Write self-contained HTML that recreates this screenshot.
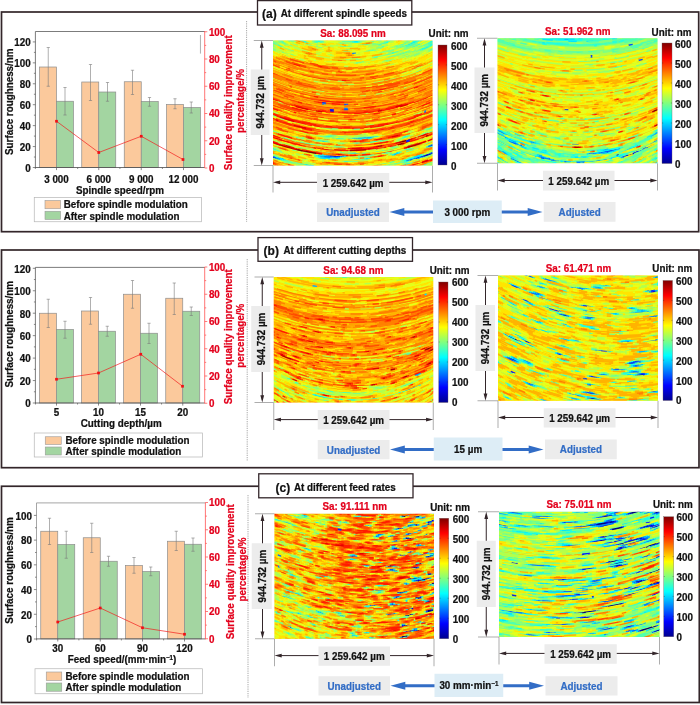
<!DOCTYPE html>
<html lang="en"><head><meta charset="utf-8"><title>Surface roughness at different machining parameters</title>
<style>
html,body{margin:0;padding:0;background:#fff;}
body{width:700px;height:705px;overflow:hidden;}
svg{display:block;font-family:'Liberation Sans', sans-serif;font-weight:bold;}
text{stroke-width:.22px;}
</style></head><body>
<svg width="700" height="705" viewBox="0 0 700 705">
<rect x="0" y="0" width="700" height="705" fill="#fff"/>
<!-- panel a -->
<rect x="1.50" y="12.00" width="697.20" height="219.70" fill="none" stroke="#33262a" stroke-width="1.7"/>
<line x1="246.60" y1="21.00" x2="246.60" y2="222.50" stroke="#666" stroke-width="0.7" stroke-dasharray="0.8 1.0"/>
<rect x="257.50" y="0.60" width="154.30" height="24.40" fill="#fff" stroke="#33262a" stroke-width="1.3"/>
<text x="262.00" y="17.96" font-size="12" fill="#111" stroke="#111" text-anchor="start" transform="matrix(1 0 0 1.12 0 -1.644)">(a)</text>
<text x="280.70" y="17.00" font-size="9.85" fill="#111" stroke="#111" text-anchor="start" transform="matrix(1 0 0 1.12 0 -1.620)">At different spindle speeds</text>
<rect x="317.00" y="202.50" width="72.00" height="19.50" fill="#ececec" stroke="none" stroke-width="1"/>
<text x="353.00" y="215.75" font-size="9.85" fill="#326dc6" stroke="#326dc6" text-anchor="middle" transform="matrix(1 0 0 1.12 0 -25.470)">Unadjusted</text>
<rect x="543.75" y="202.00" width="71.75" height="19.75" fill="#ececec" stroke="none" stroke-width="1"/>
<text x="579.62" y="215.37" font-size="9.85" fill="#326dc6" stroke="#326dc6" text-anchor="middle" transform="matrix(1 0 0 1.12 0 -25.425)">Adjusted</text>
<rect x="433.00" y="200.50" width="68.75" height="22.50" fill="#ddedf6" stroke="none" stroke-width="1"/>
<text x="467.38" y="215.25" font-size="9.85" fill="#111" stroke="#111" text-anchor="middle" transform="matrix(1 0 0 1.12 0 -25.410)">3 000 rpm</text>
<line x1="399.50" y1="212.00" x2="433.00" y2="212.00" stroke="#326dc6" stroke-width="3.0"/>
<path d="M389.50 212.00L404.30 207.90L404.30 216.10Z" fill="#326dc6"/>
<line x1="501.75" y1="212.00" x2="532.50" y2="212.00" stroke="#326dc6" stroke-width="3.0"/>
<path d="M542.50 212.00L527.70 207.90L527.70 216.10Z" fill="#326dc6"/>
<!-- chart a -->
<rect x="39.50" y="67.00" width="17.00" height="100.50" fill="#fbc99c" stroke="#8d8d8d" stroke-width="0.7"/>
<rect x="56.50" y="101.25" width="17.00" height="66.25" fill="#a3d5a1" stroke="#8d8d8d" stroke-width="0.7"/>
<rect x="81.75" y="82.00" width="17.00" height="85.50" fill="#fbc99c" stroke="#8d8d8d" stroke-width="0.7"/>
<rect x="98.75" y="92.00" width="17.00" height="75.50" fill="#a3d5a1" stroke="#8d8d8d" stroke-width="0.7"/>
<rect x="124.25" y="81.75" width="17.00" height="85.75" fill="#fbc99c" stroke="#8d8d8d" stroke-width="0.7"/>
<rect x="141.25" y="101.50" width="17.00" height="66.00" fill="#a3d5a1" stroke="#8d8d8d" stroke-width="0.7"/>
<rect x="166.50" y="104.50" width="17.00" height="63.00" fill="#fbc99c" stroke="#8d8d8d" stroke-width="0.7"/>
<rect x="183.50" y="107.50" width="17.00" height="60.00" fill="#a3d5a1" stroke="#8d8d8d" stroke-width="0.7"/>
<path d="M48.25 47.50V86.25M46.65 47.50h3.2M46.65 86.25h3.2" stroke="#7a7a7a" stroke-width="0.6" fill="none"/>
<path d="M90.50 64.50V100.50M88.90 64.50h3.2M88.90 100.50h3.2" stroke="#7a7a7a" stroke-width="0.6" fill="none"/>
<path d="M132.50 70.25V94.50M130.90 70.25h3.2M130.90 94.50h3.2" stroke="#7a7a7a" stroke-width="0.6" fill="none"/>
<path d="M175.00 98.75V108.75M173.40 98.75h3.2M173.40 108.75h3.2" stroke="#7a7a7a" stroke-width="0.6" fill="none"/>
<path d="M65.00 87.50V115.00M63.40 87.50h3.2M63.40 115.00h3.2" stroke="#7a7a7a" stroke-width="0.6" fill="none"/>
<path d="M107.50 82.50V101.25M105.90 82.50h3.2M105.90 101.25h3.2" stroke="#7a7a7a" stroke-width="0.6" fill="none"/>
<path d="M149.50 97.50V106.25M147.90 97.50h3.2M147.90 106.25h3.2" stroke="#7a7a7a" stroke-width="0.6" fill="none"/>
<path d="M191.25 102.00V113.00M189.65 102.00h3.2M189.65 113.00h3.2" stroke="#7a7a7a" stroke-width="0.6" fill="none"/>
<line x1="200.45" y1="35.00" x2="200.45" y2="53.60" stroke="#7a7a7a" stroke-width="0.6"/>
<path d="M35.40 167.50V31.50H204.70" stroke="#5a5a5a" stroke-width="0.8" fill="none"/>
<line x1="35.00" y1="167.50" x2="204.70" y2="167.50" stroke="#4a4a4a" stroke-width="0.8"/>
<line x1="204.70" y1="31.10" x2="204.70" y2="167.90" stroke="#ff3b3b" stroke-width="0.7"/>
<text x="30.70" y="171.40" font-size="9.85" fill="#111" stroke="#111" text-anchor="end" transform="matrix(1 0 0 1.12 0 -20.148)">0</text>
<text x="30.70" y="150.47" font-size="9.85" fill="#111" stroke="#111" text-anchor="end" transform="matrix(1 0 0 1.12 0 -17.636)">20</text>
<text x="30.70" y="129.54" font-size="9.85" fill="#111" stroke="#111" text-anchor="end" transform="matrix(1 0 0 1.12 0 -15.125)">40</text>
<text x="30.70" y="108.61" font-size="9.85" fill="#111" stroke="#111" text-anchor="end" transform="matrix(1 0 0 1.12 0 -12.613)">60</text>
<text x="30.70" y="87.68" font-size="9.85" fill="#111" stroke="#111" text-anchor="end" transform="matrix(1 0 0 1.12 0 -10.102)">80</text>
<text x="30.70" y="66.75" font-size="9.85" fill="#111" stroke="#111" text-anchor="end" transform="matrix(1 0 0 1.12 0 -7.590)">100</text>
<text x="30.70" y="45.82" font-size="9.85" fill="#111" stroke="#111" text-anchor="end" transform="matrix(1 0 0 1.12 0 -5.078)">120</text>
<path d="M35.40 167.50h-2.6M35.40 157.03h-1.5M35.40 146.57h-2.6M35.40 136.10h-1.5M35.40 125.64h-2.6M35.40 115.17h-1.5M35.40 104.71h-2.6M35.40 94.25h-1.5M35.40 83.78h-2.6M35.40 73.31h-1.5M35.40 62.85h-2.6M35.40 52.38h-1.5M35.40 41.92h-2.6" stroke="#5a5a5a" stroke-width="0.7" fill="none"/>
<text x="208.90" y="171.50" font-size="9.85" fill="#e3001c" stroke="#e3001c" text-anchor="start" transform="matrix(1 0 0 1.12 0 -20.160)">0</text>
<text x="208.90" y="144.25" font-size="9.85" fill="#e3001c" stroke="#e3001c" text-anchor="start" transform="matrix(1 0 0 1.12 0 -16.890)">20</text>
<text x="208.90" y="117.00" font-size="9.85" fill="#e3001c" stroke="#e3001c" text-anchor="start" transform="matrix(1 0 0 1.12 0 -13.620)">40</text>
<text x="208.90" y="89.75" font-size="9.85" fill="#e3001c" stroke="#e3001c" text-anchor="start" transform="matrix(1 0 0 1.12 0 -10.350)">60</text>
<text x="208.90" y="62.50" font-size="9.85" fill="#e3001c" stroke="#e3001c" text-anchor="start" transform="matrix(1 0 0 1.12 0 -7.080)">80</text>
<text x="208.90" y="35.25" font-size="9.85" fill="#e3001c" stroke="#e3001c" text-anchor="start" transform="matrix(1 0 0 1.12 0 -3.810)">100</text>
<path d="M204.70 168.00h2.6M204.70 154.38h1.5M204.70 140.75h2.6M204.70 127.12h1.5M204.70 113.50h2.6M204.70 99.88h1.5M204.70 86.25h2.6M204.70 72.62h1.5M204.70 59.00h2.6M204.70 45.38h1.5M204.70 31.75h2.6" stroke="#ff4545" stroke-width="0.7" fill="none"/>
<text x="56.50" y="182.25" font-size="9.85" fill="#111" stroke="#111" text-anchor="middle" transform="matrix(1 0 0 1.12 0 -21.450)">3 000</text>
<text x="98.75" y="182.25" font-size="9.85" fill="#111" stroke="#111" text-anchor="middle" transform="matrix(1 0 0 1.12 0 -21.450)">6 000</text>
<text x="141.25" y="182.25" font-size="9.85" fill="#111" stroke="#111" text-anchor="middle" transform="matrix(1 0 0 1.12 0 -21.450)">9 000</text>
<text x="183.50" y="182.25" font-size="9.85" fill="#111" stroke="#111" text-anchor="middle" transform="matrix(1 0 0 1.12 0 -21.450)">12 000</text>
<path d="M56.50 167.50v2.6M77.67 167.50v1.5M98.75 167.50v2.6M119.92 167.50v1.5M141.25 167.50v2.6M162.42 167.50v1.5M183.50 167.50v2.6M35.33 167.50v1.5" stroke="#5a5a5a" stroke-width="0.7" fill="none"/>
<text x="120.00" y="193.50" font-size="9.85" fill="#111" stroke="#111" text-anchor="middle" transform="matrix(1 0 0 1.12 0 -22.800)">Spindle speed/rpm</text>
<text x="12.20" y="101.70" font-size="9.85" fill="#111" stroke="#111" text-anchor="middle" transform="rotate(-90 12.20 101.70) matrix(1 0 0 1.12 0 -11.784)">Surface roughness/nm</text>
<text x="231.50" y="102.70" font-size="9.85" fill="#e3001c" stroke="#e3001c" text-anchor="middle" transform="rotate(-90 231.50 102.70) matrix(1 0 0 1.12 0 -11.904)">Surface quality improvement</text>
<text x="243.40" y="101.00" font-size="9.85" fill="#e3001c" stroke="#e3001c" text-anchor="middle" transform="rotate(-90 243.40 101.00) matrix(1 0 0 1.12 0 -11.700)">percentage/%</text>
<polyline points="56.50,121.25 98.75,152.50 141.25,136.25 183.00,159.50" fill="none" stroke="#f21d1d" stroke-width="0.7"/>
<rect x="55.15" y="119.90" width="2.70" height="2.70" fill="#f00f14" stroke="none" stroke-width="1"/>
<rect x="97.40" y="151.15" width="2.70" height="2.70" fill="#f00f14" stroke="none" stroke-width="1"/>
<rect x="139.90" y="134.90" width="2.70" height="2.70" fill="#f00f14" stroke="none" stroke-width="1"/>
<rect x="181.65" y="158.15" width="2.70" height="2.70" fill="#f00f14" stroke="none" stroke-width="1"/>
<rect x="34.25" y="197.50" width="167.25" height="24.25" fill="#fff" stroke="#b5b5b5" stroke-width="0.7"/>
<rect x="45.00" y="200.50" width="15.50" height="8.25" fill="#fbc99c" stroke="#9a9a9a" stroke-width="0.6"/>
<rect x="45.00" y="211.25" width="15.50" height="8.25" fill="#a3d5a1" stroke="#9a9a9a" stroke-width="0.6"/>
<text x="63.75" y="208.00" font-size="9.85" fill="#111" stroke="#111" text-anchor="start" transform="matrix(1 0 0 1.12 0 -24.540)">Before spindle modulation</text>
<text x="63.75" y="219.75" font-size="9.85" fill="#111" stroke="#111" text-anchor="start" transform="matrix(1 0 0 1.12 0 -25.950)">After spindle modulation</text>
<!-- heatmap a1 -->
<defs><linearGradient id="jet" x1="0" y1="1" x2="0" y2="0"><stop offset="0.0" stop-color="#00008f"/><stop offset="0.125" stop-color="#0000ff"/><stop offset="0.375" stop-color="#00ffff"/><stop offset="0.625" stop-color="#ffff00"/><stop offset="0.875" stop-color="#ff0000"/><stop offset="1.0" stop-color="#800000"/></linearGradient><filter id="hb" x="-5%" y="-5%" width="110%" height="110%"><feGaussianBlur stdDeviation="3.2"/></filter></defs>
<line x1="253.75" y1="40.50" x2="273.00" y2="40.50" stroke="#8a8a8a" stroke-width="0.7"/>
<line x1="253.75" y1="165.50" x2="273.00" y2="165.50" stroke="#8a8a8a" stroke-width="0.7"/>
<line x1="273.00" y1="165.50" x2="273.00" y2="192.50" stroke="#8a8a8a" stroke-width="0.7"/>
<line x1="432.50" y1="165.50" x2="432.50" y2="192.50" stroke="#8a8a8a" stroke-width="0.7"/>
<line x1="261.75" y1="43.50" x2="261.75" y2="162.50" stroke="#33262a" stroke-width="1.0"/>
<path d="M261.75 40.50l-1.9 7.2h3.8ZM261.75 165.50l-1.9 -7.2h3.8Z" fill="#33262a"/>
<rect x="250.75" y="69.50" width="18.75" height="65.50" fill="#ececec" stroke="none" stroke-width="1"/>
<text x="263.62" y="102.25" font-size="9.85" fill="#111" stroke="#111" text-anchor="middle" transform="rotate(-90 263.62 102.25) matrix(1 0 0 1.12 0 -11.850)">944.732 µm</text>
<line x1="276.00" y1="182.30" x2="429.50" y2="182.30" stroke="#33262a" stroke-width="1.0"/>
<path d="M273.00 182.30l7.2 -1.9v3.8ZM432.50 182.30l-7.2 -1.9v3.8Z" fill="#33262a"/>
<rect x="317.00" y="173.00" width="72.25" height="19.50" fill="#ececec" stroke="none" stroke-width="1"/>
<text x="353.12" y="186.25" font-size="9.85" fill="#111" stroke="#111" text-anchor="middle" transform="matrix(1 0 0 1.12 0 -21.930)">1 259.642 µm</text>
<text x="353.00" y="36.75" font-size="9.85" fill="#e3001c" stroke="#e3001c" text-anchor="middle" transform="matrix(1 0 0 1.12 0 -3.990)">Sa: 88.095 nm</text>
<text x="448.50" y="36.50" font-size="9.85" fill="#111" stroke="#111" text-anchor="middle" transform="matrix(1 0 0 1.12 0 -3.960)">Unit: nm</text>
<rect x="438.00" y="45.00" width="9.00" height="120.00" fill="url(#jet)" stroke="#6b5a5a" stroke-width="0.35"/>
<path d="M438.00 144.58h1.2M447.00 144.58h-1.2M438.00 124.67h1.2M447.00 124.67h-1.2M438.00 104.75h1.2M447.00 104.75h-1.2M438.00 84.83h1.2M447.00 84.83h-1.2M438.00 64.92h1.2M447.00 64.92h-1.2" stroke="#222" stroke-width="0.5" opacity="0.6"/>
<text x="451.00" y="169.50" font-size="9.85" fill="#111" stroke="#111" text-anchor="start" transform="matrix(1 0 0 1.12 0 -19.920)">0</text>
<text x="451.00" y="149.50" font-size="9.85" fill="#111" stroke="#111" text-anchor="start" transform="matrix(1 0 0 1.12 0 -17.520)">100</text>
<text x="451.00" y="129.50" font-size="9.85" fill="#111" stroke="#111" text-anchor="start" transform="matrix(1 0 0 1.12 0 -15.120)">200</text>
<text x="451.00" y="109.50" font-size="9.85" fill="#111" stroke="#111" text-anchor="start" transform="matrix(1 0 0 1.12 0 -12.720)">300</text>
<text x="451.00" y="89.50" font-size="9.85" fill="#111" stroke="#111" text-anchor="start" transform="matrix(1 0 0 1.12 0 -10.320)">400</text>
<text x="451.00" y="69.50" font-size="9.85" fill="#111" stroke="#111" text-anchor="start" transform="matrix(1 0 0 1.12 0 -7.920)">500</text>
<text x="451.00" y="49.50" font-size="9.85" fill="#111" stroke="#111" text-anchor="start" transform="matrix(1 0 0 1.12 0 -5.520)">600</text>
<clipPath id="cpa1"><rect x="0" y="0" width="159.50" height="125.00"/></clipPath>
<g transform="translate(273.00 40.50)" clip-path="url(#cpa1)">
<rect x="0" y="0" width="159.50" height="125.00" fill="#ffb300"/>
<g transform="scale(0.1)" fill="none" stroke-width="14" filter="url(#hb)">
<path stroke="#1affe5" d="M-10 1151q270 92 540 118M-10 1254l40 13"/>
<path stroke="#4dffb2" d="M970 1269q320 -31 640 -154M1430 1269q90 -27 180 -61M-10 1264l20 7M1590 1267l20 -7"/>
<path stroke="#80ff80" d="M210 -19q540 178 1080 0M-10 997q810 284 1620 -38M-10 1131q810 276 1620 -37M-10 1161q230 78 460 109M1050 1270q280 -38 560 -145M1170 1271q220 -41 440 -125M-10 1244q40 13 80 25M1490 1271q60 -20 120 -42M1530 1268q40 -14 80 -29"/>
<path stroke="#b3ff4c" d="M390 -20q360 80 720 0M350 -19q400 99 800 -1M150 -19q600 218 1200 -1M90 -21q660 263 1320 -1M50 -17q700 294 1400 0M-10 9q790 355 1580 -28M-10 20q800 358 1600 -38M-10 51q810 360 1620 -47M-10 749q810 301 1620 -40M-10 894q810 291 1620 -39M-10 986q810 285 1620 -37M-10 1028q810 282 1620 -38M-10 1038q810 282 1620 -37M-10 1059q810 280 1620 -38M-10 1172q200 67 400 99M-10 1182q170 57 340 89M1450 1273q80 -25 160 -55"/>
<path stroke="#e5ff1a" d="M490 -21q260 42 520 0M430 -22q310 62 620 4M270 -21q480 142 960 0M230 -23q520 166 1040 0M130 -16q620 232 1240 -1M70 -19q680 278 1360 0M-10 -22q760 344 1520 -1M-10 -12q770 348 1540 -9M-10 41q810 361 1620 -48M-10 62q810 359 1620 -48M-10 83q810 356 1620 -48M-10 93q810 356 1620 -47M-10 250q810 341 1620 -45M-10 281q810 339 1620 -44M-10 375q810 330 1620 -43M-10 407q810 327 1620 -44M-10 594q810 312 1620 -42M-10 687q810 305 1620 -41M-10 708q810 303 1620 -41M-10 842q810 294 1620 -39M-10 904q810 290 1620 -39M-10 1141q810 275 1620 -37"/>
<path stroke="#ffe500" d="M570 -20q180 20 360 0M310 -20q440 120 880 0M170 -22q580 205 1160 -1M10 -24q740 328 1480 0M-10 -1q780 351 1560 -19M-10 30q810 362 1620 -48M-10 72q810 358 1620 -47M-10 135q810 352 1620 -46M-10 167q810 348 1620 -47M-10 208q810 345 1620 -45M-10 313q810 335 1620 -45M-10 479q810 322 1620 -42M-10 521q810 318 1620 -42M-10 635q810 309 1620 -41M-10 656q810 307 1620 -41M-10 759q810 300 1620 -40M-10 801q810 297 1620 -40M-10 832q810 295 1620 -40M-10 925q810 288 1620 -39M-10 935q810 288 1620 -38M-10 1069q810 280 1620 -37M-10 1079q810 279 1620 -37M-10 1089q810 279 1620 -36M-10 1120q810 277 1620 -36M1110 1271q250 -40 500 -135M-10 1203q120 40 240 67M1550 1271l60 -22"/>
<path stroke="#ffb300" d="M-10 125q810 352 1620 -47M-10 156q810 350 1620 -46M-10 177q810 348 1620 -46M-10 198q810 346 1620 -46M-10 229q810 343 1620 -45M-10 261q810 340 1620 -45M-10 271q810 339 1620 -45M-10 292q810 337 1620 -45M-10 427q810 326 1620 -43M-10 448q810 324 1620 -43M-10 500q810 320 1620 -42M-10 697q810 305 1620 -40M-10 821q810 296 1620 -39M-10 883q810 292 1620 -38M-10 955q810 287 1620 -38M-10 976q810 286 1620 -38M-10 1048q810 281 1620 -37M-10 1100q810 278 1620 -37M1230 1269q190 -40 380 -113M1270 1270q170 -39 340 -103M1390 1270q110 -31 220 -72"/>
<path stroke="#ff8000" d="M-10 104q810 354 1620 -47M-10 114q810 354 1620 -47M-10 146q810 350 1620 -47M-10 187q810 347 1620 -46M-10 219q810 344 1620 -46M-10 302q810 337 1620 -44M-10 334q810 333 1620 -45M-10 344q810 333 1620 -44M-10 354q810 332 1620 -44M-10 365q810 331 1620 -44M-10 386q810 329 1620 -44M-10 396q810 328 1620 -43M-10 417q810 326 1620 -43M-10 459q810 323 1620 -43M-10 490q810 320 1620 -43M-10 511q810 318 1620 -43M-10 542q810 316 1620 -42M-10 552q810 316 1620 -42M-10 562q810 315 1620 -41M-10 614q810 311 1620 -41M-10 625q810 310 1620 -41M-10 666q810 307 1620 -41M-10 718q810 303 1620 -40M-10 770q810 299 1620 -40M-10 811q810 296 1620 -39M-10 852q810 294 1620 -39M-10 863q810 293 1620 -39M-10 873q810 292 1620 -39M-10 1007q810 284 1620 -38M-10 1110q810 277 1620 -37M-10 1192q140 47 280 77M-10 1213q100 33 200 58M-10 1223q80 27 160 48"/>
<path stroke="#ff4c00" d="M-10 240q810 342 1620 -46M-10 323q810 335 1620 -44M-10 438q810 324 1620 -43M-10 469q810 322 1620 -43M-10 531q810 317 1620 -42M-10 573q810 314 1620 -42M-10 604q810 311 1620 -41M-10 645q810 309 1620 -41M-10 676q810 307 1620 -40M-10 728q810 303 1620 -40M-10 790q810 298 1620 -39M-10 914q810 290 1620 -38M-10 945q810 288 1620 -38M-10 1017q810 283 1620 -37M1350 1271q130 -35 260 -84M-10 1233q60 20 120 37"/>
<path stroke="#ff1a00" d="M-10 583q810 313 1620 -41M-10 739q810 301 1620 -40M-10 780q810 299 1620 -40M1310 1271q150 -37 300 -94"/>
<path stroke="#e50000" d="M-10 966q810 286 1620 -38"/>
<path stroke="#000080" d="M1588 1051l24 -10M1528 1155q42 -14 84 -31"/>
<path stroke="#0000b2" d="M608 1155l44 3M1568 1058l24 -9M1468 1165l64 -22"/>
<path stroke="#0000e6" d="M568 702l44 3M588 1154l24 2M648 1158l24 1M1448 1171l24 -8M1528 1145l24 -9M1508 1162l24 -8"/>
<path stroke="#001aff" d="M488 622l44 6M568 691l44 4M1328 1002l44 -13M1328 1012l44 -12M568 1152l24 2M668 1158l24 1M608 1165l24 2M1548 1066l24 -10M1348 1200q52 -14 104 -30M1548 1138l24 -9M-12 1161l24 8"/>
<path stroke="#004dff" d="M708 640l44 0M708 690l44 0M1508 719l24 -10M848 978q42 -2 84 -6M568 1162l44 4M628 1167l24 1M1328 1205l24 -6M1568 1131l24 -10M8 1167l24 8M1488 1169l24 -9"/>
<path stroke="#0080ff" d="M788 130l44 -2M488 632l44 6M708 680l44 0M1508 708l24 -9M808 979l44 -2M928 972l64 -6M548 1151l24 2M688 1159l24 1M508 1157l64 6M648 1168l24 1M488 1164q42 5 84 9M1548 1055l64 -24M1588 1123l24 -9M28 1174l24 8M1468 1175l24 -8"/>
<path stroke="#00b2ff" d="M1128 -14l24 -6M788 980l24 -1M988 966l24 -3M528 1149l24 2M448 1149l64 8M468 1162l24 3M568 1172l24 2M1208 1142l44 -10M-12 1078l24 9M48 1170l24 8M88 1182l24 7M48 1180l24 8M1448 1182l24 -8"/>
<path stroke="#00e5ff" d="M808 9l44 -2M1108 -10l24 -5M1348 43q42 -15 84 -32M1508 84l44 -21M1008 964l44 -6M928 982l44 -4M488 1004l24 3M788 1130l64 -2M488 1144l44 5M708 1160l24 0M428 1146l24 4M448 1159l24 3M588 1174l64 4M1208 1132l44 -10M468 1172q52 7 104 11M928 1183l24 -2M1188 1146l24 -5M1248 1134l24 -6M8 1085l24 8M1528 1073l24 -9M1588 1061l24 -9M1408 1163l64 -20M1348 1190q62 -17 124 -37M28 1164l24 8M68 1176l24 8M108 1188l24 7M328 1240q42 8 84 15M68 1186l24 8"/>
<path stroke="#1affe5" d="M788 10l24 -1M848 7l24 -2M808 19l44 -2M448 2l24 4M1068 -1l44 -10M428 8l44 8M688 59l44 1M1128 16l24 -6M288 5l44 12M1048 43q52 -10 104 -23M1388 18l44 -18M1288 64l64 -22M1428 13l44 -19M1188 133l24 -6M1408 62l64 -26M1568 14l44 -22M1548 34l64 -32M1468 90l44 -19M1568 46l44 -22M1488 92l24 -11M1548 65l64 -31M568 952l24 2M528 958l44 4M648 978l24 1M768 980l24 0M1048 959l24 -4M868 987l64 -5M968 979l24 -3M448 998l44 6M508 1006l24 3M808 1029l44 -2M868 1027l44 -3M1008 1014l24 -3M1308 967l44 -13M128 979l24 7M348 1032l44 8M588 1064l64 4M768 1130l24 0M848 1128l44 -3M468 1142l24 3M728 1160l24 0M668 1168l24 1M428 1156l24 4M1188 1136l24 -5M1248 1123l24 -5M448 1169l24 4M568 1182l24 2M908 1184l24 -2M948 1181l24 -2M1528 1062l24 -8M28 1092l24 8M1568 1069l24 -10M1468 1144l24 -8M1308 1200l44 -11M1468 1155l24 -8M1308 1211l24 -7M88 1192l24 8M1328 1216l24 -7M1308 1241l64 -17M1508 1244l24 -8"/>
<path stroke="#4dffb2" d="M428 -22l24 4M688 9q52 2 104 0M868 6l24 -2M788 20l24 -1M848 17l24 -2M408 -6l44 9M468 5l44 8M968 15l44 -6M1028 6l44 -8M408 4l24 5M468 15l24 5M408 14l44 9M888 44q52 -4 104 -12M668 58l24 1M728 60l44 0M1108 21l24 -6M1148 11l24 -6M268 -1l24 7M328 16l24 6M1028 46l24 -4M1268 -12l24 -8M168 -13l44 15M128 -17l64 23M1088 65l24 -5M948 108l64 -9M48 -18l24 10M1228 61q52 -15 104 -33M1428 -8l24 -10M8 -25l24 11M68 1l44 17M1368 26l24 -10M1428 2l64 -27M-12 -23l24 11M88 19l64 25M1268 70l24 -8M1468 -4l44 -20M1328 61q82 -29 164 -65M-12 -2l24 11M1328 71q52 -18 104 -39M1188 123l64 -18M-12 19l44 19M48 45l44 18M1008 170l44 -7M1128 148l64 -16M1208 128l24 -7M1388 70l24 -10M1468 38l44 -20M1548 2l44 -22M-12 40l24 11M1548 23l24 -12M-12 50l24 11M1268 142q42 -13 84 -28M1468 69q42 -18 84 -37M1548 44l64 -31M1448 98l24 -10M1508 73l64 -30M1468 101l24 -11M1488 103q62 -27 124 -58M1568 98l44 -21M888 945l24 -1M548 950l24 2M588 954l44 3M488 954l44 5M568 962l24 2M848 968q42 -2 84 -6M628 976l24 2M668 978l44 2M748 980l24 0M848 988l24 -2M988 976l24 -2M428 995l24 4M528 1008l24 3M208 961l44 11M848 1028l24 -2M908 1024l44 -4M968 1019l44 -5M1028 1012q52 -7 104 -17M-12 903l24 9M1288 972l24 -7M1348 956l24 -7M1548 890l64 -26M1268 987q42 -10 84 -23M108 973l24 8M148 985l24 7M248 1011q52 12 104 22M388 1039l24 4M568 1062l24 2M648 1068l44 1M1188 1066l24 -6M668 1118l44 2M748 1130l24 0M888 1126l44 -4M1028 1112q42 -5 84 -12M968 1149l24 -3M1108 1131l44 -8M408 1143l24 4M1308 1099q42 -11 84 -24M1508 1039l24 -9M408 1153l24 4M648 1178l24 1M1168 1140l24 -5M588 1184l24 2M808 1189l64 -2M888 1186l24 -2M968 1179l24 -2M-12 1068l24 9M48 1098l24 8M708 1210q42 0 84 0M748 1260l64 -1M848 1258l44 -3M1068 1237l64 -10M1168 1221l44 -9M1348 1180l64 -19M1288 1205l24 -6M1488 1148l24 -8M268 1228l24 5M428 1257l44 6M108 1198q52 15 104 28M1088 1265l44 -8M1288 1226l44 -12M1348 1210l24 -6M248 1254q42 10 84 17M1288 1246l24 -6M1368 1225l24 -7M-12 1253l24 8M1488 1261l24 -8M1528 1268l24 -8"/>
<path stroke="#80ff80" d="M488 -21l44 6M448 -18l24 4M888 4l24 -2M768 20l24 -1M868 16l24 -2M1048 -8l44 -9M508 12l24 3M668 28q42 2 84 2M948 18l24 -3M1008 9l24 -4M388 0l24 5M488 19l24 4M388 10l24 5M868 46l24 -2M988 33l44 -8M1108 11q62 -14 124 -33M768 60l24 -1M988 43l64 -11M1068 29l44 -9M1168 6l44 -12M1048 53l44 -9M148 -20l24 9M208 1l24 8M328 36q82 21 164 34M728 90l44 0M188 4l24 9M1028 77l64 -13M1108 61l44 -10M148 0l24 9M708 109l64 1M968 96l44 -7M1068 79l24 -5M1328 9l24 -9M208 31l44 15M908 112l44 -4M1008 100l24 -4M1208 57l44 -13M1308 26q62 -21 124 -46M68 -10l24 10M1188 72l44 -12M1328 30l24 -9M1408 0l24 -10M28 -16l44 19M108 17l24 9M1228 72q42 -13 84 -27M1348 33l24 -9M8 -14l24 10M48 3l44 18M148 42l44 15M1068 120q102 -20 204 -52M-12 -13l24 11M48 13q42 18 84 34M1128 118q42 -10 84 -22M1308 67l24 -8M1488 -2l44 -20M8 7l44 19M1308 78l24 -9M1428 34l24 -11M1528 -10l24 -11M-12 8l64 28M1128 138l64 -16M1248 107l44 -14M1308 88l64 -23M1408 52l44 -18M28 36l24 11M88 61q62 24 124 44M728 190l44 0M828 188l64 -4M988 173l24 -3M1048 164q42 -8 84 -17M1228 123l24 -8M1328 92l64 -24M1508 21l44 -21M1428 65l24 -10M1148 164q112 -27 224 -68M1448 67q52 -21 104 -46M8 59l24 11M828 218q42 -2 84 -6M1128 178q72 -16 144 -38M1348 115l24 -8M1448 78l24 -11M168 131l44 15M828 228l64 -4M1348 126q42 -15 84 -32M1508 63l44 -21M-12 71l44 19M88 113l24 9M1108 203l44 -10M1288 156l64 -22M1388 122l64 -26M-12 82l44 19M1128 209l64 -16M1428 117l44 -18M-12 92l44 19M1288 176q42 -13 84 -28M1468 111l24 -10M1368 160q52 -19 104 -41M1408 156l64 -26M1548 97l64 -31M1548 108l24 -12M1548 118l64 -31M1588 216l24 -12M1428 314l64 -26M1568 256l24 -11M-12 748l44 16M68 776l44 15M488 873q82 11 164 15M808 889l64 -3M1568 726l44 -18M568 942l64 5M848 948l44 -3M908 944l24 -2M528 948l24 3M628 956q52 3 104 4M468 951l24 3M588 964l24 1M788 970l64 -3M928 962q42 -3 84 -9M408 952q82 13 164 20M588 974l44 3M708 980l24 0M1068 956l24 -4M628 986q42 3 84 4M828 989l24 -2M528 998l24 3M288 969l24 6M388 989l44 7M548 1010l24 3M188 955l24 7M248 970l64 15M388 999q52 9 104 15M648 1028l64 2M768 1030l44 -1M948 1021l24 -3M1128 996l24 -4M1488 901l64 -23M8 910l44 15M1528 897l24 -9M1248 992l24 -6M1348 966l44 -13M608 1055q52 4 104 5M1248 1002l24 -6M1488 932l44 -16M88 967l24 8M168 991l24 6M228 1006l24 6M408 1043q62 10 124 16M1448 956q72 -24 144 -52M348 1052l24 5M1168 1069l24 -5M1208 1061l24 -5M168 1042l24 6M248 1062l44 10M368 1086l44 8M1188 1076q42 -9 84 -19M448 1139l24 3M848 1158l24 -1M888 1156q42 -3 84 -7M988 1147l24 -3M1088 1134l24 -4M1148 1124l24 -5M188 1098l44 11M688 1169l24 1M848 1168q72 -3 144 -11M1268 1109l44 -11M1388 1077l44 -14M1488 1045l24 -8M1528 1032l64 -25M1268 1119l24 -6M28 1071l44 15M228 1128q52 12 104 22M428 1166l24 4M608 1185l24 2M788 1190l24 -1M868 1187l24 -2M1328 1114q62 -17 124 -37M8 1075l24 8M68 1104l24 8M688 1209l24 1M788 1210q62 -1 124 -6M1508 1080l24 -9M-12 1089q62 21 124 39M1548 1076l24 -9M308 1186l24 5M8 1147l44 14M1268 1210l24 -6M148 1199l44 12M208 1214l64 15M988 1267l24 -2M1068 1257l24 -3M1248 1225l64 -16M128 1214q42 12 84 22M1308 1231l44 -12M1508 1172q52 -17 104 -37M-12 1181l24 9M108 1219l24 7M228 1250l24 5M1468 1257l24 -8M1468 1267l24 -7M1508 1255l24 -9M1588 1227l24 -10"/>
<path stroke="#b3ff4c" d="M528 -15l24 3M628 -5q62 5 124 5M808 -1l44 -2M468 -15l24 4M668 8l24 1M908 2q52 -5 104 -14M508 22l24 3M748 40l44 -1M1048 13l44 -9M268 -22l24 8M448 22l24 4M628 45l24 2M848 47l24 -2M1028 26q42 -7 84 -17M228 -24l44 14M568 50q52 6 104 8M788 60l24 -1M948 48l44 -6M1048 33l24 -5M1208 -4l44 -14M368 25l24 6M448 42q62 12 124 18M588 62l24 2M948 58l24 -3M1168 17l64 -18M428 48l24 5M928 70q62 -6 124 -18M1088 45l64 -14M1168 27l44 -12M968 86l64 -10M1148 52l44 -11M1268 19l64 -22M68 -20l24 10M188 25l24 8M248 44l44 13M868 116l44 -4M1028 97l24 -5M1168 67l44 -12M1248 45l24 -7M128 24l24 9M428 109l64 11M828 138l44 -3M1208 77l24 -7M1308 47l44 -16M28 -6l24 11M188 56q42 14 84 26M548 138l44 5M1048 124l24 -5M8 -4l44 19M128 45l24 9M208 73q72 23 144 40M408 125l64 12M568 150l44 4M1108 122l24 -6M1208 98l44 -13M1288 74l24 -8M48 24l24 10M1288 84l24 -8M1228 133q42 -12 84 -26M1388 80l44 -17M1448 57l44 -19M8 48l24 11M148 104l44 15M628 206l24 1M1008 191q42 -7 84 -15M1128 168l24 -6M1368 98q42 -15 84 -33M-12 61q52 23 104 43M148 124l24 9M208 144l24 8M408 196l24 5M808 229l24 -1M888 224l44 -4M1268 152q42 -13 84 -28M1428 96q42 -17 84 -36M28 88l64 26M108 120l44 16M948 229l24 -3M1088 207l24 -5M1148 194l64 -16M1248 168l44 -14M1348 136l44 -16M28 99l24 10M268 183l44 12M1088 217l44 -9M1188 194l44 -12M1268 172l44 -14M1388 132l44 -17M28 109l44 18M128 148q42 15 84 29M268 193l44 12M708 259l44 1M1068 231l24 -5M1248 188l44 -13M1368 150q52 -19 104 -41M1328 174l44 -16M1468 121q52 -21 104 -46M1308 191q52 -17 104 -37M1468 132q42 -18 84 -37M-12 124l24 10M1128 249q42 -9 84 -20M1408 166q42 -16 84 -34M1528 117l24 -12M-12 134l24 11M948 289l24 -3M1168 250l64 -17M1288 217q52 -16 104 -35M1488 144l64 -28M1488 155l24 -11M1588 131l24 -12M1528 201l64 -30M528 396l44 5M648 407l64 3M1288 330l64 -21M1388 297q52 -18 104 -40M1548 234l44 -21M1368 315l24 -9M1568 235l44 -21M408 408q72 13 144 21M688 439q62 2 124 0M1008 422q112 -16 224 -46M1268 366q82 -23 164 -54M1488 290q42 -17 84 -36M1588 247l24 -12M1408 352l44 -17M-12 374l24 10M368 491q72 15 144 24M1588 342l24 -12M428 532l44 8M628 556l64 3M868 556l64 -5M1028 539q102 -15 204 -41M1308 477q42 -12 84 -27M48 615l64 22M928 732l24 -2M-12 707l64 23M928 842q42 -4 84 -9M1408 743q52 -17 104 -37M568 892l64 5M908 934l24 -2M548 940l24 2M628 946l24 2M708 950l44 0M808 949l44 -2M928 942l24 -2M508 946l24 3M728 960l64 0M808 959q72 -2 144 -9M428 945l44 7M608 965l24 2M648 967q72 4 144 3M1008 954l44 -6M228 915l24 6M308 933q52 11 104 20M568 972l24 2M728 980l24 0M1088 953l24 -4M508 976l64 7M588 984l44 3M708 990l24 0M808 989l24 -1M1008 974l44 -6M1328 920l64 -18M448 988q42 6 84 11M548 1000l24 3M1348 925l64 -19M228 955l64 15M308 974q42 9 84 16M588 1014q82 6 164 6M48 924l24 8M648 1038l44 1M1108 1010l24 -5M1228 986l64 -16M1368 950l24 -7M1508 905l24 -10M1228 996l24 -5M1388 954l24 -7M1528 908l64 -25M268 1005q132 30 264 44M1208 1011l44 -10M1268 997l44 -11M1468 939l24 -9M1528 918l24 -9M-12 934l44 16M68 961l24 8M188 996l44 11M528 1058l44 5M688 1069l44 1M1228 1017l44 -11M1408 969l44 -15M1588 906l24 -10M308 1044l44 9M368 1056l44 8M568 1082l24 2M328 1069q42 8 84 15M708 1110q42 0 84 0M948 1101q82 -8 164 -22M1228 1057l24 -6M1468 990l44 -15M8 1003q122 42 244 70M328 1089l24 5M388 1100l44 7M588 1124l24 2M668 1128l44 2M968 1119l24 -3M1248 1073l24 -6M1328 1053l24 -7M1528 990l64 -24M1128 1107q42 -7 84 -16M668 1178l24 1M1148 1144l24 -5M28 1081l44 15M228 1138l44 10M88 1111l24 7M188 1138l24 7M428 1186l44 7M608 1205q42 3 84 4M908 1204l44 -3M108 1127q62 18 124 32M488 1204l24 3M1368 1134l24 -7M288 1182l24 5M328 1190l24 4M288 1192l24 5M328 1210l44 8M968 1239l64 -7M-12 1130l24 8M48 1149l24 8M288 1212q72 15 144 25M488 1245l24 2M568 1253l24 1M608 1255l24 2M708 1260l24 0M1028 1243l24 -4M1228 1209l44 -10M1568 1110l44 -17M-12 1140l24 8M48 1160l24 7M308 1226l64 12M488 1255l64 6M868 1267l64 -4M1168 1231l44 -9M1508 1142l64 -23M188 1209l24 7M1008 1265l64 -8M388 1261l24 4M1168 1251l44 -9M1388 1199l44 -13M1288 1236l24 -6M1348 1221l24 -7M1488 1179l24 -8M1188 1267l24 -5M1268 1251l24 -6M1428 1208l44 -14M1528 1176l24 -9M28 1256l24 8M1448 1263l24 -7M1488 1271l44 -15M1588 1247l24 -9"/>
<path stroke="#e5ff1a" d="M388 -21l44 10M508 2q72 11 144 15M928 10l44 -5M1008 -1l24 -4M888 24l24 -2M308 -20l24 6M368 -5l24 6M528 25l24 3M608 34l24 2M728 40l24 0M788 40l64 -3M1008 19l44 -7M1088 5l24 -6M1168 -14l24 -7M608 64l44 3M708 69q102 3 204 -7M928 60l24 -3M168 -23l24 8M388 40l44 9M448 52l44 8M608 74l64 4M888 74l44 -4M1148 32l24 -7M1208 16l24 -7M508 72l44 6M788 90l24 -1M928 80l44 -5M1148 42q42 -10 84 -23M1288 2l24 -8M88 -22l44 17M208 21l24 8M248 34l44 13M408 75l24 5M508 92l24 4M788 110q72 -2 144 -10M1108 71q72 -15 144 -37M1268 29l24 -8M108 6l64 24M248 54l24 8M448 103l44 7M588 122l24 2M828 128l24 -1M868 126l44 -4M968 116l44 -7M1068 100l24 -5M1128 87l24 -6M1368 15l24 -9M148 31l24 9M408 105l24 5M488 119q42 7 84 12M808 139l24 -1M868 136l44 -4M968 126q62 -8 124 -21M1168 88l44 -12M68 32l44 18M168 69l44 15M1128 128l24 -6M1208 108q42 -12 84 -25M1448 25l24 -10M1508 0l24 -12M108 58q42 16 84 30M428 149l24 5M568 170l24 3M748 180l24 0M848 177l24 -1M908 173q42 -4 84 -10M1468 28q42 -19 84 -39M268 121q52 15 104 27M588 182l24 2M648 187l44 2M928 181l44 -6M88 71l24 10M208 114q42 13 84 25M888 194l44 -4M1048 174q92 -16 184 -43M1308 108q42 -13 84 -30M1488 40q62 -27 124 -59M148 114q52 18 104 34M308 163q62 16 124 28M508 203l24 3M588 212l64 5M728 220l44 0M1028 197q42 -6 84 -15M1388 101l24 -9M148 135l24 8M848 237q52 -3 104 -9M968 226l44 -6M1048 214l44 -8M1208 179l44 -13M8 111q52 23 104 42M1288 187l44 -15M1568 77l44 -22M-12 113l24 11M1268 203l44 -14M8 132l44 19M1088 257l44 -9M1208 230l44 -12M1288 207q62 -19 124 -43M1488 134l44 -20M8 143l44 18M688 299q72 2 144 -1M928 291l24 -3M968 286l64 -9M1128 259l44 -10M1228 235l64 -19M1388 184q52 -19 104 -42M1348 208l64 -23M1428 179l64 -26M1508 146q52 -22 104 -48M1408 197l44 -17M588 323l44 3M1548 150l44 -21M1268 285q102 -30 204 -72M1528 190l64 -30M228 294q62 18 124 32M408 337l64 11M1248 301l64 -20M1408 249q62 -23 124 -51M1588 173l24 -12M1588 194l24 -11M-12 260q42 17 84 33M148 320l44 14M1288 340q42 -13 84 -27M1388 308q92 -33 184 -75M1388 318q42 -15 84 -32M1568 267l44 -21M668 468l24 1M928 461l64 -7M1048 446l64 -12M1188 418q72 -18 144 -41M1368 366l44 -16M1448 337l44 -17M1588 279l24 -12M1228 723q42 -11 84 -23M108 697l64 20M448 777q52 8 104 13M608 795q72 5 144 5M828 798l44 -2M908 794q52 -4 104 -11M1068 775q62 -10 124 -24M1328 717q52 -16 104 -34M1508 656l44 -17M388 858l24 4M688 889q52 2 104 1M908 884l64 -6M1108 859q122 -22 244 -58M1428 778q52 -18 104 -38M-12 758l44 17M148 812l44 12M428 875q72 11 144 17M628 896q62 4 124 4M1588 729l24 -11M268 884l24 6M888 935l24 -1M928 932l24 -2M528 938l24 3M648 947l64 3M748 950l64 -1M948 941l24 -3M488 943l24 3M788 960l24 -1M948 951q52 -5 104 -13M1268 896l44 -12M248 910l64 14M408 942l24 4M628 966l24 2M1048 949l44 -7M488 974l24 3M568 982l24 2M788 990l24 -1M1048 969l24 -4M1308 926l24 -7M1388 903l24 -8M128 918l44 13M428 985l24 4M568 1002q52 5 104 7M1328 931l24 -7M1408 907l24 -8M48 903l64 21M208 950l24 7M568 1012l24 2M748 1020l24 0M128 938l44 13M608 1025l24 2M1188 985l24 -6M1248 971l44 -11M1368 940l64 -20M1208 1001l24 -6M1408 948l24 -8M1488 922l44 -16M1588 885l24 -10M128 969l64 18M228 996l44 11M528 1048q42 5 84 8M1048 1039l64 -10M1308 987l64 -18M1548 911l64 -26M28 948l44 15M728 1070l44 0M1208 1021l24 -6M1268 1007l24 -6M1368 981l44 -14M288 1040l24 5M528 1078l44 5M588 1084l24 2M1428 983l44 -15M108 1014l64 19M268 1056l64 14M408 1083l24 4M788 1110l24 -1M888 1106l64 -6M1108 1080l24 -4M1148 1073l24 -4M1348 1027l44 -13M1448 997l24 -8M1508 977l24 -9M-12 986l24 8M428 1096l24 4M648 1118l24 1M828 1119l24 -1M908 1114q112 -8 224 -28M1148 1083l24 -4M1308 1048q72 -19 144 -42M1528 980l44 -17M348 1093l44 8M608 1125l64 4M1308 1058l24 -6M1388 1036l24 -7M1508 997l24 -9M1088 1114l44 -8M1208 1092l64 -15M1548 993l24 -9M8 1034l24 8M68 1053l24 8M168 1082l24 7M428 1136l24 4M1188 1116q62 -13 124 -29M1368 1072l24 -7M48 1057l24 8M148 1087l24 7M248 1112q52 12 104 22M368 1137l44 7M748 1170l44 0M1028 1152l24 -3M1108 1141l24 -5M1188 1126l44 -9M388 1150l24 4M768 1180l64 -2M1468 1062l44 -15M-12 1058l24 8M348 1153l64 11M708 1190l44 0M1048 1170q52 -7 104 -17M1468 1073q62 -21 124 -45M88 1100q42 13 84 24M208 1133l24 6M268 1147l64 13M528 1189l24 2M968 1189q42 -4 84 -10M1408 1102l44 -14M1508 1069l24 -8M108 1116l24 8M148 1128l44 12M208 1143l24 6M308 1166q62 12 124 21M468 1192l24 3M568 1202l44 4M948 1201l44 -4M1108 1181l44 -8M1288 1144l64 -16M228 1158l24 6M448 1199l44 6M508 1207l44 4M648 1218l64 2M748 1220l44 0M1228 1168l64 -15M1348 1139l24 -7M1388 1128q42 -12 84 -26M68 1125l24 8M228 1168l64 15M348 1193l24 5M268 1188l24 5M308 1196l44 8M308 1206l24 5M368 1217l24 4M608 1245q42 3 84 4M828 1249q72 -3 144 -10M1028 1233l24 -4M1068 1227l64 -10M1368 1164l24 -7M68 1156q112 34 224 57M428 1237l64 8M588 1254l24 2M668 1258l44 2M908 1254l24 -1M968 1249l64 -7M408 1264l44 6M288 1253l24 5M1268 1240l24 -5M1368 1215l24 -7M1468 1185l24 -8M48 1201l44 13M168 1235l24 6M208 1245l24 6M1208 1264l64 -15M1468 1196l24 -8M1508 1183l24 -9M88 1233l64 18M48 1262l24 8M1428 1269l24 -7"/>
<path stroke="#ffe500" d="M568 -10l24 2M528 -5l24 3M1028 -14l24 -5M968 5l44 -6M348 -20l44 11M308 -10l64 16M508 32l64 8M688 49l24 1M728 50l24 0M468 36l24 4M528 45l24 3M848 57l64 -5M648 67l64 3M908 62l24 -2M548 78l64 6M808 89l44 -2M868 86l64 -6M1228 21l64 -21M268 30l44 12M368 56l64 14M508 82l44 6M568 90l44 4M668 98l24 1M748 100l44 -1M828 98l44 -3M228 28l24 7M328 56l24 6M388 70l24 6M528 95l24 3M588 102q52 5 104 7M1248 35l24 -8M308 61l44 11M448 93l24 4M508 102l24 4M568 110l64 6M768 120l24 -1M1088 86l64 -15M268 60q52 15 104 27M428 99l24 4M608 124l24 2M688 129l24 1M908 123l64 -8M1088 96l44 -10M368 106l64 14M488 129l44 7M608 144q62 5 124 6M808 149l24 -1M488 140l44 6M628 156l24 1M708 159q42 2 84 0M888 154l64 -6M188 87q62 20 124 36M408 145l24 5M588 172l24 2M708 179l44 1M868 176l44 -4M608 184l44 3M48 65l24 11M108 89l24 9M248 136l64 18M328 158q52 13 104 23M488 190q42 6 84 11M828 208l64 -4M908 203l64 -8M248 146l64 18M428 190q42 8 84 14M268 162l44 12M348 183l24 6M468 207l44 7M628 226q42 3 84 4M748 230l24 0M968 216q122 -15 244 -48M168 152l64 20M328 198l24 6M388 212l44 9M448 224q42 7 84 12M608 244q52 4 104 6M768 250q62 -1 124 -6M348 213l24 6M428 230l64 11M788 260q42 -1 84 -4M948 249l64 -9M1188 205l24 -7M-12 103l24 10M108 151q42 16 84 30M1028 248q132 -21 264 -63M8 122q42 18 84 34M1168 230q52 -13 104 -29M48 149l24 10M248 218l44 12M808 289l44 -2M928 281q82 -8 164 -25M1248 219l44 -13M-12 145l44 18M728 310l64 -1M1028 288q52 -8 104 -20M1168 260q92 -22 184 -54M1408 187l24 -10M1068 291l24 -4M1368 212l44 -17M1448 182q42 -17 84 -36M1588 121l24 -13M1288 258q42 -13 84 -28M1428 210q92 -35 184 -80M1248 280q62 -17 124 -39M1448 213q82 -33 164 -73M868 356l44 -3M968 347q92 -12 184 -33M1168 311q52 -12 104 -28M1468 215l64 -27M1588 163l24 -12M308 325l64 15M1288 299l24 -7M1488 228q62 -26 124 -56M68 260l64 24M208 308l64 19M1268 315q72 -21 144 -47M1528 221l64 -29M68 281l44 17M148 310q72 24 144 42M928 401q42 -4 84 -10M1028 389q102 -16 204 -44M68 291q42 16 84 30M188 333q102 32 204 52M1168 372l44 -11M1268 346l24 -7M528 416l24 3M1268 356q62 -18 124 -40M1468 288q72 -29 144 -63M608 434l24 2M448 425l44 7M1488 301q42 -17 84 -37M708 460l64 0M1428 334q42 -15 84 -33M1568 277l44 -20M728 530l64 0M988 515l24 -4M1068 503l44 -8M1308 447q82 -25 164 -57M148 464q72 23 144 40M728 560q62 1 124 -3M1088 550l44 -9M168 511q52 16 104 29M308 549l64 14M828 598l64 -3M988 585l64 -9M1088 570l44 -9M1208 545l64 -17M1348 506q42 -13 84 -29M828 648l44 -2M1008 633l24 -4M1348 557q52 -16 104 -35M168 654q82 24 164 42M488 723q132 17 264 17M788 740l24 -1M1008 723l64 -9M1248 677q82 -21 164 -49M1548 578l64 -27M888 755l24 -2M1088 731q42 -7 84 -16M148 720l64 18M48 708l24 8M388 797l44 8M448 807q102 16 204 21M1248 768l64 -17M1328 747q42 -12 84 -26M1468 702l64 -24M148 750q72 22 144 38M368 804q62 12 124 20M568 832q42 4 84 6M768 840q62 -1 124 -5M968 828q72 -8 144 -21M1148 801l64 -14M148 760l64 19M508 836q42 5 84 8M648 847q52 3 104 3M1108 818q62 -11 124 -26M508 936l24 3M968 939l24 -3M1088 922l64 -11M468 941l24 3M1048 939l64 -11M1228 905l44 -11M1308 885l44 -12M48 862l64 21M148 893l44 13M1248 921l64 -17M1368 889q42 -13 84 -27M208 920q62 16 124 28M368 955q62 12 124 19M728 990l24 0M768 990l24 0M1068 966l24 -4M428 975l24 4M568 992q72 6 144 8M728 1000l24 0M1028 982l44 -7M1288 931l24 -6M1408 897l44 -15M108 912l24 8M168 930q42 11 84 21M1308 936l24 -7M1428 901l24 -8M8 889l44 16M108 922l24 8M188 945l24 7M768 1020l24 0M1208 980l44 -10M208 971l24 6M308 994l24 5M468 1021l44 6M608 1035l24 2M728 1040q52 0 104 -2M888 1036q42 -3 84 -8M1008 1024l64 -9M1168 999l24 -5M1468 918l44 -15M-12 913l24 9M1428 942l64 -22M468 1061l24 4M588 1074l44 3M88 988l44 13M268 1036l24 5M408 1063l24 4M508 1076l24 3M728 1090l44 0M1408 989l24 -8M1468 970l44 -16M-12 975l44 16M88 1008l24 8M168 1031l24 7M228 1047l44 10M428 1086l44 6M688 1109l24 1M808 1109l24 -1M848 1108l44 -3M1128 1077l24 -5M1248 1052l24 -5M1328 1033l24 -7M1388 1016l64 -21M1528 970l24 -10M448 1099l24 3M488 1104l44 5M628 1117l24 1M848 1118l24 -1M888 1116l24 -2M1128 1087l24 -5M1568 965l44 -17M1268 1068l44 -11M1408 1030q52 -16 104 -34M788 1140l24 -1M968 1129q62 -6 124 -16M1268 1078l44 -11M1528 1001l24 -10M1568 986l24 -10M-12 1027l24 8M88 1059q42 13 84 25M1388 1067l24 -8M1488 1035q62 -21 124 -46M68 1064l24 7M128 1081l24 7M348 1133l24 4M728 1170l24 0M1048 1150l24 -4M1088 1144l24 -4M168 1103q62 16 124 29M688 1179q42 1 84 1M828 1179l24 -1M1288 1114l44 -12M1408 1081l64 -20M1508 1049l24 -9M1588 1030l24 -10M28 1112l44 14M88 1131l24 7M208 1164l24 6M428 1207l64 8M788 1230l24 -1M1008 1215l64 -9M1228 1178l44 -10M1368 1144q62 -18 124 -39M8 1116l44 15M228 1179l44 10M348 1204q52 9 104 16M948 1231q92 -8 184 -24M1248 1184l64 -15M628 1257l44 2M928 1253l44 -4M108 1178l44 12M408 1244l64 9M588 1264q42 3 84 5M748 1270l24 0M968 1259l24 -2M1088 1244l44 -7M1228 1219l44 -10M308 1257q42 8 84 15M188 1240l24 6M1488 1189l24 -8M1568 1172l44 -17M1448 1222l44 -14M1548 1189l64 -23M1448 1243l44 -14"/>
<path stroke="#ffb300" d="M788 -10l44 -2M908 -18l24 -2M688 39l24 1M888 34l44 -4M968 25l24 -3M1128 -4l24 -6M708 49l24 1M488 39l44 7M188 -16l44 14M268 9l44 13M328 26l24 6M548 68l24 2M768 80q42 -1 84 -3M1248 4l64 -21M848 87l24 -2M228 17l44 14M548 88l24 2M688 99l64 1M348 61l44 10M548 98l44 5M348 71l44 11M428 89l24 4M528 105l44 6M628 116q72 5 144 4M368 86l64 14M628 126l64 3M708 129l24 1M768 130l24 -1M288 76q52 15 104 26M748 140l44 -1M728 150l24 0M788 150l24 -1M288 107l64 16M388 131l44 9M628 166l44 2M728 170l64 -1M868 166l64 -6M988 153q52 -7 104 -18M308 122l24 7M368 137l44 9M608 174q52 4 104 6M348 152q82 20 164 31M588 192l64 5M688 199l44 1M768 200l64 -2M68 74l44 17M308 153l24 6M428 180l64 11M308 173l44 11M588 232l44 4M348 203l44 10M528 236q42 5 84 9M188 179q72 23 144 41M648 267l64 3M848 267l64 -5M1008 251l24 -4M88 154l44 17M1048 255q62 -11 124 -26M88 175l24 9M308 244l44 11M468 277l44 7M608 294l64 4M28 161l44 18M548 298l24 3M708 309l24 1M788 310l44 -2M848 307q92 -5 184 -20M1128 269l44 -10M128 220q42 15 84 28M348 284q52 12 104 21M768 330l24 -1M948 319l64 -9M1228 265l44 -12M1348 229l44 -16M108 234q42 15 84 29M1048 325q102 -17 204 -46M1368 242q42 -14 84 -31M-12 207l64 27M168 275l24 8M788 370l44 -2M868 366q42 -3 84 -8M1088 338q52 -10 104 -23M8 226l24 10M208 298q52 16 104 29M368 339q92 20 184 30M748 380l44 -1M808 379l24 -1M1248 311l44 -13M1308 293l44 -15M1448 244l44 -18M888 395l44 -4M1328 307l64 -22M1488 249q62 -26 124 -56M108 296l44 15M-12 301q52 22 104 41M208 380q62 18 124 32M408 428l44 8M648 457l64 3M768 460l44 -1M1168 412q132 -30 264 -79M1508 303l64 -28M48 336q82 31 164 55M268 407q162 42 324 56M748 470q62 0 124 -4M468 458l44 7M708 480l64 0M408 458l64 11M928 491l64 -7M1428 376l64 -25M488 491q192 28 384 15M1088 479l44 -9M1488 363l64 -27M88 402l64 22M348 477q42 9 84 16M548 509l44 4M648 517l44 2M1588 331l24 -11M1008 512l64 -10M-12 385q82 33 164 60M188 456q172 51 344 71M648 537l24 1M788 540l64 -3M928 532l44 -5M1208 484l44 -12M1488 394l44 -18M1588 352l24 -11M488 532q42 6 84 10M628 546l64 3M808 549l24 -1M928 542q42 -4 84 -10M1068 523q52 -9 104 -21M1208 494l64 -17M1328 461l64 -21M468 549l44 6M608 565q42 3 84 4M828 568q42 -1 84 -5M1008 552l24 -3M1128 532q92 -18 184 -46M1328 481q92 -28 184 -65M1568 393l44 -20M-12 458l44 17M128 508l64 21M568 601l64 5M828 608q42 -1 84 -5M968 598q102 -12 204 -35M1228 550l24 -6M1308 528q72 -21 144 -48M1508 459q52 -21 104 -44M1048 597q52 -8 104 -19M-12 478l44 18M128 529q72 23 144 42M608 625l24 1M788 630q192 -4 384 -47M1228 570l44 -11M1348 537l64 -22M1588 447l24 -11M268 579l44 11M328 614l44 9M508 645q102 13 204 15M1008 643q42 -6 84 -13M1148 619l64 -15M1368 561l44 -15M-12 520q72 28 144 52M248 605q42 11 84 20M388 636q112 21 224 29M748 670l44 0M1328 584q142 -43 284 -106M1488 540l24 -10M108 584l64 20M408 660l24 4M768 690l44 -1M1248 626q52 -13 104 -29M1408 579q42 -15 84 -31M-12 551q102 40 204 69M608 695l64 3M888 695l44 -4M968 688q192 -22 384 -81M1428 582l64 -23M1588 520l24 -11M68 591l64 22M1468 578l64 -25M748 740l44 0M1108 718l44 -9M348 719l44 9M648 757l64 3M848 758l44 -3M908 754q42 -4 84 -9M1048 738l44 -8M1168 716q52 -11 104 -25M1328 676q62 -19 124 -41M1528 607l44 -18M808 769q42 -1 84 -4M1068 745q42 -7 84 -16M168 695q42 12 84 23M348 739l44 9M508 765q52 7 104 10M1148 740l44 -9M1348 690q52 -16 104 -34M1488 643q42 -16 84 -33M968 778l24 -3M208 727q62 16 124 29M88 701l64 20M208 737l44 11M1208 758l44 -11M1308 732q82 -23 164 -52M668 818q102 5 204 -2M1248 799l44 -12M1488 726l24 -9M1528 711l64 -26M228 834q42 10 84 19M868 897q62 -4 124 -11M1088 872q122 -20 244 -55M1348 813q72 -21 144 -48M468 891l64 8M588 904q52 4 104 5M768 930l44 -1M328 897q42 9 84 16M468 921q62 8 124 13M848 938l24 -2M968 929l44 -6M1068 916l24 -4M1228 885q42 -10 84 -22M1508 801l64 -25M208 879l64 16M308 903l64 13M488 933l24 3M988 936l24 -3M1068 926l24 -4M1148 912l44 -9M1228 895l64 -16M1568 789l44 -18M8 838q52 19 104 35M148 883l64 18M348 931l24 5M1088 943q92 -15 184 -39M-12 841l64 23M1308 906l64 -19M1448 863l44 -15M1548 828l64 -26M108 892q52 16 104 29M328 947l44 9M748 990l24 0M1088 963l24 -4M1588 822l24 -10M408 972l24 4M448 978l24 4M708 1000l24 0M748 1000l44 0M808 999l64 -3M988 987l44 -6M1068 976l24 -4M1448 884l24 -8M-12 872l44 16M248 950l44 10M408 982l24 4M668 1008q42 2 84 2M948 1001l44 -5M1448 894l24 -8M1588 843l24 -10M88 937l44 13M168 960l44 12M388 1009l24 4M508 1026l44 5M588 1034l24 2M828 1039l64 -4M8 920l24 9M368 1016l64 10M668 1048q72 3 144 1M28 938q42 14 84 27M748 1060l44 0M1128 1026l44 -8M1368 970q52 -15 104 -33M808 1069l24 -1M1048 1049l44 -7M1288 1002l64 -17M368 1046q52 9 104 16M488 1064l44 5M548 1070l44 4M628 1077l24 1M468 1102l24 3M528 1109l44 4M608 1115l24 2M868 1117l24 -2M268 1086l24 6M488 1124l64 7M728 1140l64 0M808 1139q42 -1 84 -4M928 1133l44 -4M1308 1068l24 -6M628 1147l24 1M1408 1061q42 -13 84 -28M88 1070l44 13M1068 1147l24 -4M348 1163l64 11M568 1192l24 2M628 1197l24 1M1228 1148q42 -9 84 -20M1248 1154l24 -6M248 1163q42 10 84 18M848 1218q52 -2 104 -7M1008 1205l44 -6M1088 1194l44 -7M1508 1090l44 -16M-12 1109l24 9M48 1129l24 8M128 1153l24 7M208 1174l24 6M808 1239l24 -1M928 1233l24 -2M1128 1208q62 -11 124 -25M1308 1170l24 -7M1368 1154l64 -19M1448 1130q52 -16 104 -35M1588 1082l24 -10M8 1126l64 21M268 1198l24 5M428 1227l44 6M488 1235l64 6M748 1250l64 -1M1248 1194l44 -10M1308 1180l24 -6M1408 1153l24 -8M1508 1121l24 -9M1588 1092l24 -9M148 1189q72 19 144 34M668 1268l24 1M728 1270l24 0M988 1257l24 -2M1048 1250l44 -6M1128 1268l44 -8M-12 1191l24 9M88 1223l64 18M68 1238l24 7M48 1242l24 7M1428 1249l24 -8M1488 1230l24 -8"/>
<path stroke="#ff8000" d="M928 30l44 -5M228 -3l44 14M388 80l44 10M728 130l44 0M748 150l44 -1M348 122l44 10M668 168l64 2M788 170q42 -1 84 -4M328 127l44 11M648 197l44 2M168 193l44 14M448 264l24 4M568 280q52 6 104 8M728 290l64 -1M28 172l44 18M108 203l24 9M328 269l44 11M508 303q42 6 84 10M628 316l44 2M688 319l44 1M788 320q122 -3 244 -23M1128 279q42 -9 84 -20M68 209q82 31 164 55M268 274l24 7M348 294q72 17 144 27M628 336q72 5 144 4M928 331q92 -9 184 -28M-12 197l24 10M28 214l44 17M148 258q52 18 104 33M588 353l24 2M308 336q72 17 144 29M528 376l44 5M808 389q42 -1 84 -5M928 381l64 -7M1008 371q102 -14 204 -41M188 312q42 13 84 25M768 400q62 -1 124 -6M928 391l64 -7M1088 368q122 -23 244 -62M1388 287l44 -17M1468 257l24 -10M468 398q42 7 84 11M728 420l64 -1M808 429q62 -2 124 -8M1108 395l64 -14M108 337q42 15 84 28M288 391l44 11M668 448q42 2 84 2M988 435q152 -20 304 -66M168 388q42 13 84 25M328 432l24 5M408 448l64 11M508 464q42 6 84 9M628 476q42 3 84 4M768 480q52 -1 104 -4M1208 423q122 -30 244 -77M1588 289l24 -11M8 434l24 10M208 502l64 18M648 577q72 4 144 3M928 572l44 -5M1008 562l44 -6M28 452q42 17 84 31M188 507l24 7M788 590q52 -1 104 -5M988 575q92 -12 184 -32M1228 530l64 -18M1488 446q62 -24 124 -52M48 470l24 9M108 512q52 18 104 32M228 549l44 11M848 617l44 -2M948 610q52 -6 104 -14M1148 579l64 -15M1328 533q102 -31 204 -73M1168 584l64 -15M88 536q62 22 124 39M288 595l24 5M428 623l64 10M588 643l44 3M728 650l44 0M908 644l44 -5M108 574l44 14M388 646l24 5M648 677l64 3M748 680l24 0M1208 626q82 -19 164 -46M1428 562l64 -24M1508 532l64 -27M108 615l64 20M388 687l64 10M608 715l44 3M1408 610q102 -35 204 -80M-12 603q62 24 124 44M388 717l64 11M668 748l24 1M908 744q42 -4 84 -9M1088 721l24 -4M1148 710q52 -11 104 -24M1368 653l64 -21M1448 627q82 -29 164 -65M268 732l64 14M568 782q42 4 84 6M848 788q62 -3 124 -10M988 776l64 -9M1068 765q42 -7 84 -16M1268 723l64 -18M108 717q62 20 124 36M248 757q52 13 104 24M628 816l44 3M868 817l64 -5M948 810q162 -16 324 -58M688 839l44 1M1488 705q42 -15 84 -33M1268 804l44 -12M408 892q132 22 264 27M-12 789l44 16M508 916l64 6M648 927l64 3M728 930l44 0M808 929l44 -2M1048 909q52 -8 104 -18M1228 875l44 -11M1368 838q62 -19 124 -42M588 934q132 10 264 3M1008 924l64 -9M-12 820q82 31 164 54M428 935l24 4M1188 914l24 -5M1488 850l64 -24M868 1017q52 -3 104 -9M1088 993q52 -8 104 -19M1268 956q52 -12 104 -28M1448 905l64 -23M128 949l44 12M328 998l64 12M548 1030l44 4M28 927l24 9M208 981l64 15M308 1004l64 13M428 1026l24 3M488 1034q42 5 84 9M628 1046l44 3M808 1049l24 -1M1188 1005l24 -5M1168 1019l24 -5M108 984q42 12 84 23M228 1016q72 18 144 31M528 1068l24 3M648 1078l64 2M-12 955l44 15M168 1011l64 17M448 1069l44 6M788 1090l24 -1M1048 1069l24 -3M1128 1057l24 -5M1208 1041q52 -11 104 -25M1388 995l24 -7M1568 934l44 -18M328 1059l64 11M48 996l24 8M1288 1043l24 -7M568 1112l44 4M508 1137q62 6 124 10M648 1148l44 1M48 1067l24 8M128 1092l24 7M308 1135l24 5M368 1147l24 4M868 1177l44 -3M968 1169l44 -5M1108 1151l24 -4M588 1194l44 3M1048 1200l44 -7M148 1148l44 12M388 1200l24 4M508 1217l24 2M568 1223q92 7 184 7M848 1228l64 -4M1168 1191l24 -5M1508 1100q42 -14 84 -30M-12 1119l24 9M68 1145q52 17 104 30M188 1179l64 15M468 1232l24 3M1288 1185l24 -6M1428 1147q42 -13 84 -28M688 1269l44 1M1008 1255l44 -6M1108 1272l24 -5M1308 1251l24 -6M1408 1224l64 -20M1268 1271l24 -6M1328 1256l24 -6M1408 1255l24 -7M1508 1224l24 -9M-12 1233l44 14M1448 1253q42 -13 84 -27"/>
<path stroke="#ff4c00" d="M368 228q42 9 84 17M168 183q72 24 144 42M408 246l44 9M488 260l64 9M588 272l64 5M468 267q52 9 104 14M188 220q72 23 144 40M648 307l24 1M128 210q42 15 84 28M268 254l64 17M668 318l24 1M368 309l44 9M488 331l64 8M628 346q102 7 204 2M928 341q42 -4 84 -10M8 205l24 11M148 279l24 8M868 376l44 -3M968 367q42 -5 84 -13M1108 344q52 -10 104 -24M988 374l24 -3M128 385l64 21M248 422l44 11M568 481q52 5 104 7M1028 469q122 -18 244 -53M228 426q102 29 204 47M1148 457q62 -13 124 -31M928 501l44 -4M1308 426l44 -14M888 515l64 -6M988 505q42 -6 84 -13M1128 482q62 -13 124 -30M1308 436q62 -18 124 -41M1048 516l44 -7M168 460l24 7M388 515l44 8M1408 435q92 -33 184 -74M48 481l64 22M8 497q42 16 84 31M128 539q42 14 84 26M408 610l44 7M528 627l64 7M668 638l44 2M808 639l44 -2M988 625l44 -6M1308 559l44 -14M1448 513q42 -15 84 -33M108 553l44 15M1248 596q42 -11 84 -24M688 689l24 1M968 678l44 -6M288 655q72 18 144 29M468 690l44 6M548 700l24 2M828 708q122 -4 244 -25M1148 670q52 -11 104 -25M88 618q42 15 84 27M528 717l44 5M1448 606l64 -24M48 636q122 43 244 71M68 653q102 35 204 60M368 733l64 12M708 770l64 0M1328 686l64 -20M1528 618l44 -19M408 781l44 7M568 802q42 4 84 6M988 796l64 -9M108 758l64 20M288 807q42 10 84 18M628 856q82 5 164 4M1408 753l44 -15M328 836l44 9M468 860q62 9 124 14M868 877l44 -4M988 866l24 -3M1248 819q52 -13 104 -28M1508 739q42 -16 84 -33M28 783q42 15 84 28M188 833q42 12 84 22M908 904q112 -9 224 -30M1188 863q92 -19 184 -47M1408 805l44 -15M388 888l24 4M668 918l44 2M788 920q52 -1 104 -5M1108 889l64 -12M1208 869q62 -14 124 -31M1448 802q72 -25 144 -54M408 922l44 7M1368 858l44 -14M148 873q62 18 124 32M348 921q42 8 84 15M28 866l64 21M1208 940q52 -12 104 -26M1328 910l24 -7M48 883q52 17 104 32M328 958l64 12M888 995l64 -5M1128 966q82 -15 164 -36M1488 870q52 -18 104 -39M328 968l24 5M388 979l24 4M768 1010l44 -1M828 1009l44 -3M908 1004l24 -2M1008 994l24 -3M1088 983l64 -12M1268 946l24 -6M1488 881l44 -17M1188 975q42 -9 84 -20M808 1089l24 -1M1028 1072l24 -3M1148 1053l64 -13M1308 1017l24 -6M1368 1001l24 -7M288 1050l44 10M388 1069l24 5M1048 1079l64 -10M1188 1055l44 -9M1448 987l44 -15M88 1039l24 7M288 1091l44 9M388 1110l64 10M588 1134l44 3M688 1139l24 1M1348 1058q52 -15 104 -32M1588 978l24 -10M68 1074l64 19M328 1139l44 9M1008 1165l44 -6M1088 1154l24 -4M528 1219l44 4M608 1235q42 3 84 4M728 1240l44 0M868 1237l44 -3M168 1174l24 6M248 1193l24 6M148 1240l64 16M1288 1256l24 -6M1288 1266l44 -11M-12 1212l24 8M1308 1271l24 -6M1588 1185l24 -9M8 1229l24 8M1388 1271l64 -19"/>
<path stroke="#ff1a00" d="M448 254l44 7M208 236l64 19M688 399l44 1M1068 493l64 -12M408 559l44 8M1408 476l44 -16M468 599q122 18 244 21M448 616l44 7M588 633q42 4 84 5M248 615l44 11M908 674q62 -6 124 -15M208 645q42 12 84 22M488 702l44 6M688 719l64 1M908 714l44 -4M1048 697l24 -4M1128 684q52 -11 104 -23M1288 646l44 -13M188 670q72 21 144 36M1008 733l64 -9M208 716l24 7M768 790l24 0M1188 742l44 -10M1488 654q42 -16 84 -34M-12 676l64 23M1588 645l24 -10M8 735l44 16M108 769q162 51 324 76M528 858l64 6M708 870l64 0M968 858l44 -5M1048 848q52 -7 104 -18M1408 764q42 -14 84 -30M1368 817l44 -14M288 878q52 12 104 21M268 904q42 10 84 18M1308 916l24 -7M348 972l44 8M808 1009l24 -1M868 1007l44 -3M1028 992l64 -10M1148 972l44 -9M1248 951l24 -6M48 934q72 24 144 43M1008 1034q72 -8 144 -22M-12 944q42 15 84 29M748 1080l44 0M888 1076l24 -2M1008 1064l24 -3M1088 1053l24 -4M1208 1031l24 -5M1388 985l44 -14M1448 966l44 -15M1528 939l24 -10M828 1089q62 -3 124 -9M1008 1075l24 -4M-12 965l44 15M68 992q112 35 224 59M408 1073l24 4M688 1099l64 1M1028 1082l24 -3M1108 1070l24 -4M1168 1059l24 -5M1368 1011q42 -12 84 -26M1488 973l24 -8M1568 944l44 -17M-12 1006l64 22M108 1045l24 7M168 1062l44 12M328 1099l64 12M628 1137l24 1M668 1138l24 1M468 1132l24 3M728 1150l24 0M768 1150l64 -2M888 1146q42 -3 84 -7M1308 1078l24 -6M1048 1160l44 -7M1228 1269l64 -14M-12 1222l24 9M1568 1203l44 -17"/>
<path stroke="#e50000" d="M1228 662l64 -17M228 661q62 16 124 29M428 704l64 9M1048 707l44 -7M1268 662q42 -11 84 -24M68 766q72 24 144 43M28 793l24 9M208 849q62 16 124 29M1188 964l64 -14M788 1080q52 -1 104 -5M1028 1062l24 -3M1228 1027l44 -11M1368 991l24 -8M1488 953l44 -16M948 1081l64 -7M128 1051l44 12M648 1138l24 1M-12 1016q42 15 84 29M188 1077l44 12M428 1126l44 6M1328 1073l24 -7M1468 1032l64 -23M1548 1004l64 -25M1348 1261l64 -18M1488 1220l64 -22"/>
<path stroke="#b30000" d="M1048 1059l44 -6M1268 1017l24 -6M768 1100q82 -1 164 -8M1248 1042l24 -6M1288 1033l24 -7M1528 959l24 -9M68 1043q62 20 124 36M228 1087l24 6M288 1101l44 9M1348 1068q62 -17 124 -38"/>
<path stroke="#800000" d="M1288 1012l44 -11M1268 1038l24 -7M248 1092l44 10M328 1109q52 10 104 18"/>
</g></g>
<!-- heatmap a2 -->
<line x1="477.00" y1="38.25" x2="497.50" y2="38.25" stroke="#8a8a8a" stroke-width="0.7"/>
<line x1="477.00" y1="163.25" x2="497.50" y2="163.25" stroke="#8a8a8a" stroke-width="0.7"/>
<line x1="497.50" y1="163.25" x2="497.50" y2="190.50" stroke="#8a8a8a" stroke-width="0.7"/>
<line x1="657.50" y1="163.25" x2="657.50" y2="190.50" stroke="#8a8a8a" stroke-width="0.7"/>
<line x1="484.50" y1="41.25" x2="484.50" y2="160.25" stroke="#33262a" stroke-width="1.0"/>
<path d="M484.50 38.25l-1.9 7.2h3.8ZM484.50 163.25l-1.9 -7.2h3.8Z" fill="#33262a"/>
<rect x="474.50" y="67.50" width="20.00" height="65.50" fill="#ececec" stroke="none" stroke-width="1"/>
<text x="488.00" y="100.25" font-size="9.85" fill="#111" stroke="#111" text-anchor="middle" transform="rotate(-90 488.00 100.25) matrix(1 0 0 1.12 0 -11.610)">944.732 µm</text>
<line x1="500.50" y1="180.50" x2="654.50" y2="180.50" stroke="#33262a" stroke-width="1.0"/>
<path d="M497.50 180.50l7.2 -1.9v3.8ZM657.50 180.50l-7.2 -1.9v3.8Z" fill="#33262a"/>
<rect x="543.00" y="170.75" width="71.50" height="19.75" fill="#ececec" stroke="none" stroke-width="1"/>
<text x="578.75" y="184.12" font-size="9.85" fill="#111" stroke="#111" text-anchor="middle" transform="matrix(1 0 0 1.12 0 -21.675)">1 259.642 µm</text>
<text x="577.75" y="35.00" font-size="9.85" fill="#e3001c" stroke="#e3001c" text-anchor="middle" transform="matrix(1 0 0 1.12 0 -3.780)">Sa: 51.962 nm</text>
<text x="671.50" y="35.25" font-size="9.85" fill="#111" stroke="#111" text-anchor="middle" transform="matrix(1 0 0 1.12 0 -3.810)">Unit: nm</text>
<rect x="662.00" y="43.00" width="10.00" height="120.50" fill="url(#jet)" stroke="#6b5a5a" stroke-width="0.35"/>
<path d="M662.00 143.00h1.2M672.00 143.00h-1.2M662.00 123.00h1.2M672.00 123.00h-1.2M662.00 103.00h1.2M672.00 103.00h-1.2M662.00 83.00h1.2M672.00 83.00h-1.2M662.00 63.00h1.2M672.00 63.00h-1.2" stroke="#222" stroke-width="0.5" opacity="0.6"/>
<text x="675.00" y="167.25" font-size="9.85" fill="#111" stroke="#111" text-anchor="start" transform="matrix(1 0 0 1.12 0 -19.650)">0</text>
<text x="675.00" y="147.30" font-size="9.85" fill="#111" stroke="#111" text-anchor="start" transform="matrix(1 0 0 1.12 0 -17.256)">100</text>
<text x="675.00" y="127.35" font-size="9.85" fill="#111" stroke="#111" text-anchor="start" transform="matrix(1 0 0 1.12 0 -14.862)">200</text>
<text x="675.00" y="107.40" font-size="9.85" fill="#111" stroke="#111" text-anchor="start" transform="matrix(1 0 0 1.12 0 -12.468)">300</text>
<text x="675.00" y="87.45" font-size="9.85" fill="#111" stroke="#111" text-anchor="start" transform="matrix(1 0 0 1.12 0 -10.074)">400</text>
<text x="675.00" y="67.50" font-size="9.85" fill="#111" stroke="#111" text-anchor="start" transform="matrix(1 0 0 1.12 0 -7.680)">500</text>
<text x="675.00" y="47.55" font-size="9.85" fill="#111" stroke="#111" text-anchor="start" transform="matrix(1 0 0 1.12 0 -5.286)">600</text>
<clipPath id="cpa2"><rect x="0" y="0" width="160.00" height="125.00"/></clipPath>
<g transform="translate(497.50 38.25)" clip-path="url(#cpa2)">
<rect x="0" y="0" width="160.00" height="125.00" fill="#e5ff1a"/>
<g transform="scale(0.1)" fill="none" stroke-width="14" filter="url(#hb)">
<path stroke="#004dff" d="M-10 1257l20 14"/>
<path stroke="#0080ff" d="M-10 1180q80 51 160 92"/>
<path stroke="#00b2ff" d="M-10 1015q810 450 1620 0M-10 1107q170 102 340 161M-10 1234l60 40M-10 1242l40 27M1590 1271l20 -14"/>
<path stroke="#00e5ff" d="M1450 1272q80 -41 160 -92M1550 1274l60 -40M1570 1269l40 -27M-10 1250l20 13"/>
<path stroke="#1affe5" d="M570 -20q230 20 460 0M470 -20q330 40 660 0M390 -21q410 62 820 0M330 -21q470 82 940 0M290 -19q510 98 1020 0M110 -21q690 182 1380 0M-10 947q810 426 1620 0M-10 1091q200 118 400 178M-10 1123q150 92 300 149M-10 1140q120 74 240 126M-10 1203q50 33 100 62M-10 1211q50 33 100 62M1590 1263l20 -13"/>
<path stroke="#4dffb2" d="M150 -20q650 160 1300 0M70 -22q730 204 1460 0M-10 21q810 258 1620 0M-10 956q810 428 1620 0M-10 964q810 432 1620 0M-10 973q810 434 1620 0M-10 1007q810 446 1620 0M-10 1049q320 183 640 221M970 1270q320 -38 640 -221M-10 1057q290 167 580 214M1030 1271q290 -47 580 -214M-10 1066q260 150 520 204M-10 1074q240 140 480 197M-10 1082q220 129 440 188M1370 1266q120 -52 240 -126M1410 1275q100 -48 200 -111M-10 1188q70 45 140 82M1510 1265q50 -29 100 -62M1510 1273q50 -29 100 -62M-10 1227l60 39"/>
<path stroke="#80ff80" d="M230 -21q570 122 1140 0M190 -20q610 140 1220 0M50 -18q750 216 1500 0M-10 -17q810 254 1620 0M-10 2q810 256 1620 0M-10 12q810 256 1620 0M-10 31q810 258 1620 0M-10 59q810 262 1620 0M-10 397q810 306 1620 0M-10 636q810 348 1620 0M-10 664q810 352 1620 0M-10 921q810 418 1620 0M-10 930q810 420 1620 0M-10 938q810 424 1620 0M-10 998q810 444 1620 0M-10 1032q810 456 1620 0M1090 1270q260 -54 520 -204M1130 1271q240 -57 480 -197M1170 1270q220 -59 440 -188M1210 1269q200 -60 400 -178M-10 1099q190 113 380 173M1230 1272q190 -60 380 -173M-10 1164q100 63 200 111M-10 1172q90 57 180 102M1430 1274q90 -45 180 -102M1470 1270q70 -37 140 -82M1550 1266l60 -39"/>
<path stroke="#b3ff4c" d="M10 -20q790 240 1580 0M-10 -7q810 254 1620 0M-10 40q810 260 1620 0M-10 50q810 260 1620 0M-10 78q810 264 1620 0M-10 88q810 264 1620 0M-10 97q810 266 1620 0M-10 126q810 268 1620 0M-10 135q810 270 1620 0M-10 182q810 276 1620 0M-10 210q810 280 1620 0M-10 370q810 300 1620 0M-10 407q810 306 1620 0M-10 754q810 372 1620 0M-10 780q810 380 1620 0M-10 798q810 384 1620 0M-10 869q810 402 1620 0M-10 878q810 404 1620 0M-10 895q810 410 1620 0M-10 904q810 412 1620 0M-10 912q810 416 1620 0M-10 981q810 438 1620 0M-10 990q810 440 1620 0M-10 1024q810 452 1620 0M-10 1041q400 226 800 229M810 1270q400 -3 800 -229M1270 1268q170 -59 340 -161M-10 1115q160 97 320 155M1310 1272q150 -57 300 -149M-10 1148q110 68 220 118M1410 1266q100 -48 200 -110"/>
<path stroke="#e5ff1a" d="M-10 116q810 268 1620 0M-10 154q810 272 1620 0M-10 192q810 276 1620 0M-10 201q810 278 1620 0M-10 220q810 280 1620 0M-10 248q810 284 1620 0M-10 257q810 286 1620 0M-10 379q810 302 1620 0M-10 425q810 310 1620 0M-10 435q810 310 1620 0M-10 453q810 314 1620 0M-10 462q810 316 1620 0M-10 472q810 316 1620 0M-10 481q810 318 1620 0M-10 490q810 320 1620 0M-10 518q810 324 1620 0M-10 591q810 338 1620 0M-10 627q810 346 1620 0M-10 655q810 350 1620 0M-10 682q810 356 1620 0M-10 700q810 360 1620 0M-10 727q810 366 1620 0M-10 736q810 368 1620 0M-10 789q810 382 1620 0M-10 807q810 386 1620 0M-10 816q810 388 1620 0M-10 825q810 390 1620 0M-10 851q810 398 1620 0M-10 1131q140 86 280 143M1390 1266q110 -50 220 -118M-10 1156q100 62 200 110M-10 1195q60 40 120 73"/>
<path stroke="#ffe500" d="M-10 69q810 262 1620 0M-10 107q810 266 1620 0M-10 144q810 272 1620 0M-10 163q810 274 1620 0M-10 173q810 274 1620 0M-10 229q810 282 1620 0M-10 239q810 282 1620 0M-10 267q810 286 1620 0M-10 285q810 290 1620 0M-10 295q810 290 1620 0M-10 323q810 294 1620 0M-10 332q810 296 1620 0M-10 342q810 296 1620 0M-10 351q810 298 1620 0M-10 360q810 300 1620 0M-10 388q810 304 1620 0M-10 444q810 312 1620 0M-10 499q810 322 1620 0M-10 536q810 328 1620 0M-10 545q810 330 1620 0M-10 554q810 332 1620 0M-10 563q810 334 1620 0M-10 573q810 334 1620 0M-10 582q810 336 1620 0M-10 609q810 342 1620 0M-10 618q810 344 1620 0M-10 646q810 348 1620 0M-10 673q810 354 1620 0M-10 691q810 358 1620 0M-10 718q810 364 1620 0M-10 745q810 370 1620 0M-10 763q810 374 1620 0M-10 771q810 378 1620 0M-10 834q810 392 1620 0M-10 842q810 396 1620 0M-10 860q810 400 1620 0M1330 1274q140 -57 280 -143M1490 1268q60 -33 120 -73M-10 1219q40 27 80 51"/>
<path stroke="#ffb300" d="M-10 276q810 288 1620 0M-10 304q810 292 1620 0M-10 314q810 292 1620 0M-10 416q810 308 1620 0M-10 508q810 324 1620 0M-10 527q810 326 1620 0M-10 600q810 340 1620 0M-10 709q810 362 1620 0M1290 1270q160 -58 320 -155M1530 1270q40 -24 80 -51"/>
<path stroke="#ff8000" d="M-10 886q810 408 1620 0"/>
<path stroke="#0000b2" d="M1188 1169l24 -6M1308 1171l44 -17"/>
<path stroke="#0000e6" d="M1108 1129l44 -9M1288 1177l24 -8M1348 1156l44 -18"/>
<path stroke="#001aff" d="M928 177l24 -2M668 716l44 2M948 1153l24 -3M1068 1137l44 -9M1148 1121l44 -11M1268 1184l24 -8M1388 1140q42 -17 84 -37"/>
<path stroke="#004dff" d="M1308 70l44 -9M928 187l24 -2M1408 223l44 -12M748 1059l64 1M-12 946l44 23M928 1155l24 -3M968 1151l24 -3M1028 1143l44 -7M1188 1111l24 -6M128 1031q62 28 124 50M428 1192l44 11M508 1211l44 8M1248 1190l24 -8M1468 1105l24 -12"/>
<path stroke="#0080ff" d="M328 1030l44 13M8 921l64 32M28 966q72 37 144 66M908 1156l24 -2M988 1149l44 -7M1208 1106l24 -7M1548 979l64 -33M1088 1143l44 -9M108 1022l24 11M248 1080l24 8M1348 1100l44 -17M428 1183q52 13 104 23M1188 1179l24 -7M408 1187l24 7M468 1202l44 10M548 1218l64 10M668 1234l64 4M788 1240q42 0 84 -2M988 1228l44 -7M1048 1219l44 -8M1528 1059l64 -34M1488 1096l64 -33M68 1151l24 14M148 1210l64 30"/>
<path stroke="#00b2ff" d="M668 7l44 2M208 962l44 16M308 1024l24 8M368 1042l24 6M328 1040l44 13M-12 911l24 13M68 950q42 20 84 37M1048 1120l64 -11M-12 937l44 23M208 1037l44 16M1528 979q42 -20 84 -42M168 1030l24 10M148 1031l64 26M1008 1156q42 -6 84 -14M1128 1135l44 -10M88 1013l24 12M1308 1114l44 -16M1388 1085l24 -10M408 1168l44 11M408 1178l24 6M1228 1197l24 -8M1548 1066l24 -13M608 1267l24 3M-12 1097q52 32 104 59M128 1200l24 12M208 1238l44 19M-12 1178l24 16M-12 1186l24 16M1568 1262l24 -16"/>
<path stroke="#00e5ff" d="M788 -10l44 0M968 -15l64 -5M528 -14q122 13 244 14M808 0l44 -1M388 -22q42 7 84 12M528 -4q72 8 144 11M708 8l64 2M448 7q52 7 104 12M708 28q42 2 84 2M888 29l64 -3M1148 7l44 -6M1248 -8l64 -11M448 46l24 4M168 947l44 17M248 976l24 9M88 941l44 20M288 1018l24 8M388 1047l44 11M-12 902l64 32M248 1014l44 15M308 1034l24 7M368 1051l24 7M148 985l44 18M1588 924l24 -13M928 1125q42 -4 84 -9M228 1035l44 16M1028 1123l24 -3M1108 1110l24 -5M28 957q42 22 84 41M168 1021l44 18M248 1052l44 15M1048 1130q52 -8 104 -20M1488 998l44 -21M348 1094l64 17M448 1120l44 9M888 1158l24 -2M1228 1101l24 -7M1528 988l24 -12M108 1013l44 20M968 1161l44 -6M1168 1126l44 -12M268 1087l24 8M428 1134l64 15M1148 1140l24 -6M228 1081l64 24M688 1186l24 1M768 1190l44 0M828 1190l64 -3M1268 1127l44 -15M388 1163l24 6M448 1178l24 6M128 1076l24 11M388 1172l24 7M528 1205l24 4M88 1066l44 21M308 1157q42 14 84 26M628 1230l24 3M1028 1222l24 -4M1128 1203q62 -14 124 -33M1328 1145l44 -17M1428 1105l24 -11M148 1112q42 19 84 36M808 1260l24 0M528 1254q42 8 84 14M88 1153l24 13M8 1117l24 15M128 1182l44 22M248 1255l24 10M8 1191l44 27M8 1199l24 15M1568 1214l44 -28M8 1246l24 16"/>
<path stroke="#1affe5" d="M1348 -7l64 -14M268 6l24 5M488 42q112 13 224 17M1148 37l44 -6M1228 25l64 -11M448 56l44 6M968 75l24 -2M-12 21l24 7M148 67l24 6M1568 34l44 -13M868 809l24 -1M1008 799l24 -3M428 959l24 5M568 994l44 6M148 939l24 10M268 983l24 8M28 914l64 30M128 959l44 18M228 998l64 22M428 1057l24 5M48 932l44 21M188 992l64 24M288 1027l24 8M1588 915l24 -13M1568 934l24 -13M888 1128l44 -4M1008 1116l64 -10M188 1020l44 17M1008 1126l24 -3M1128 1106l44 -10M108 995l64 28M288 1065l24 8M968 1141q42 -5 84 -12M1148 1111q42 -9 84 -21M88 1004l24 12M208 1055l24 10M448 1129l24 6M568 1152l64 9M748 1169l24 1M948 1163l24 -3M68 1004l24 11M348 1113l44 12M408 1129l24 7M488 1148l24 5M608 1168l24 3M1108 1149l44 -10M1168 1136l24 -7M1328 1088l64 -23M-12 971l64 34M288 1103l24 8M468 1153l64 13M608 1178q42 5 84 8M708 1187l64 3M808 1190l24 0M888 1187l24 -1M968 1181l44 -6M1328 1098l64 -24M1408 1077l24 -10M468 1183l24 5M108 1067l24 11M148 1085l24 11M368 1166l24 8M688 1226l44 2M1168 1184l24 -6M1208 1174l64 -20M128 1085l24 11M188 1112q42 17 84 33M1248 1171q42 -13 84 -28M-12 1031q42 24 84 45M128 1103l24 11M228 1146l24 10M428 1212q82 21 164 33M788 1260l24 0M828 1260l24 -1M1568 1055l44 -24M388 1211l24 6M28 1070l44 24M108 1111q52 26 104 47M288 1197l44 15M508 1260l64 12M168 1157q62 28 124 51M1228 1235l24 -8M8 1084l64 36M228 1192l24 10M68 1126q62 33 124 60M1388 1204l24 -11M108 1164l24 12M1568 1123l44 -26M168 1202l24 11M1308 1273l44 -18M188 1238l64 28M1328 1275l44 -19M1548 1177l64 -39M-12 1162l24 16M1548 1218l64 -40M28 1211l24 15"/>
<path stroke="#4dffb2" d="M608 -17l44 3M848 20q102 -2 204 -12M1248 -17l24 -5M368 5l44 7M908 38q52 -2 104 -6M1148 17l44 -6M1248 2q62 -10 124 -24M188 -21l44 10M588 41q62 5 124 8M1168 25q92 -13 184 -33M168 -6q82 20 164 34M768 70q52 0 104 -1M1088 54l64 -8M1268 28q42 -7 84 -16M48 -18q72 20 144 37M1268 48q132 -24 264 -61M8 -21q42 13 84 25M228 47l64 13M-12 2q42 13 84 25M928 127l64 -4M1428 53q92 -22 184 -51M-12 11q92 29 184 52M468 118l64 8M608 133l44 3M688 138q82 3 164 1M908 138l44 -3M1148 116l64 -9M1328 86q62 -13 124 -29M1568 25l44 -14M-12 30q182 58 364 91M1148 136l64 -9M1348 101l64 -15M1468 72q72 -19 144 -42M1448 106l64 -17M1168 292l44 -8M1228 282l24 -5M8 644q42 18 84 34M168 704l64 21M388 765l24 5M628 802l44 4M828 810l44 -1M888 808q62 -3 124 -10M1028 796l44 -6M1368 725q52 -16 104 -35M448 807q82 15 164 24M968 832l44 -4M688 877l64 2M48 761l44 18M528 919l24 4M888 938l24 -2M1148 906l24 -5M988 960l64 -8M408 945l64 14M1028 975l24 -4M1068 969l44 -8M1308 915q52 -16 104 -35M408 955l24 5M448 963l24 5M548 991l24 4M608 999l24 3M268 936l24 7M308 948l64 18M588 1007l44 5M1388 917l64 -24M128 931l24 10M288 989q42 14 84 25M988 1059l44 -6M388 1027l64 16M588 1066q62 8 124 12M1308 1001q52 -17 104 -37M88 932l64 28M328 1021q42 12 84 22M8 904l24 12M168 975l64 24M448 1061l24 5M88 950l64 28M388 1056l24 7M1568 925l24 -13M188 1001q42 17 84 31M348 1065l44 12M788 1130q52 0 104 -3M8 939l24 12M168 1012l24 10M268 1049q62 21 124 38M508 1113l64 10M1528 970l44 -21M308 1072l24 7M448 1110l24 5M508 1122l64 11M928 1145l44 -5M1228 1091l24 -7M1468 1006l24 -11M188 1038l24 10M508 1132q52 10 104 17M1348 1063l64 -25M1488 1007l44 -21M508 1171q62 13 124 20M948 1193l44 -5M1188 1150q42 -11 84 -24M1428 1069l24 -11M28 1018q62 33 124 60M348 1151l44 13M488 1187l24 5M1248 1152l24 -7M148 1094l44 20M68 1074l64 31M248 1154l44 17M348 1189q42 13 84 24M588 1244l24 4M728 1258l44 2M848 1259l24 -1M928 1254l44 -4M1088 1231l64 -14M1208 1202l24 -7M28 1061l24 14M188 1139l24 10M348 1198l44 14M408 1216l24 7M1388 1149q42 -17 84 -37M1088 1270l24 -5M1208 1241l24 -8M1248 1228l64 -22M1348 1193q52 -21 104 -45M1188 1256l24 -7M1168 1271q42 -11 84 -25M1568 1107l44 -26M8 1101l44 25M168 1184l44 20M288 1234l44 16M348 1255l44 14M1368 1212l24 -10M1408 1195l24 -11M1588 1104l24 -15M1228 1273l24 -8M1348 1230l44 -19M-12 1105l24 15M188 1211l24 11M28 1146l24 14M268 1263l24 10M1348 1257l24 -10M1468 1202l64 -34M168 1228l24 12M248 1264l24 11M1368 1258q42 -18 84 -39M68 1185l64 35M208 1256l24 11M-12 1154l24 16M1568 1182l44 -28M1428 1275l44 -23M1468 1272l24 -14M1548 1226l24 -15M-12 1202l44 29M28 1259l24 16M8 1254l24 16"/>
<path stroke="#80ff80" d="M128 -6l24 6M188 8l64 15M88 2l44 12M1228 65q102 -17 204 -42M1488 9l64 -18M1568 -13l24 -8M-12 -8q102 32 204 56M328 77l44 8M1468 34q72 -19 144 -42M428 123l44 6M548 137q122 13 244 13M828 150q102 -1 204 -11M1048 138q42 -4 84 -10M1168 124q82 -12 164 -30M1448 68l44 -12M-12 40q102 32 204 57M248 110q52 11 104 20M508 153l24 3M628 164l24 2M1148 146q92 -13 184 -32M1448 87q82 -21 164 -47M-12 49q42 14 84 26M1188 150q42 -6 84 -14M1288 133q132 -26 264 -65M1588 57l24 -8M28 100l44 13M228 154l64 14M-12 96q62 21 124 38M208 159l64 15M348 189l44 7M808 230q102 0 204 -9M1168 203q72 -11 144 -26M1488 134l44 -13M328 224l24 5M868 269q42 -1 84 -4M1128 248l64 -10M1208 236l44 -8M8 188l44 15M668 316l44 2M768 320q42 0 84 -1M888 318q92 -3 184 -14M1128 297l44 -6M1208 285l24 -4M1248 278l44 -9M128 254l24 7M548 336q82 9 164 12M748 349q42 1 84 1M1008 341q82 -7 164 -21M1388 277q52 -14 104 -29M308 464q42 10 84 18M688 517l24 1M908 517l44 -2M968 553q62 -4 124 -13M1308 500l64 -17M508 560l24 3M768 590l24 0M1328 756q62 -18 124 -40M628 852q42 4 84 6M728 859l44 1M828 860l24 -1M1048 853l64 -10M108 748q42 16 84 31M628 872l24 2M748 879q52 2 104 0M908 897q82 -5 164 -18M8 744l44 19M88 777l24 10M148 800l44 16M308 871l64 17M488 912l24 5M548 922l24 3M708 938q42 2 84 2M848 939l44 -1M908 937l44 -4M1068 920q42 -7 84 -15M1168 902l64 -15M1308 867l24 -8M1388 842l24 -9M348 911l24 6M968 962l24 -3M1048 952l24 -3M1188 927l24 -6M1288 901l64 -19M1468 841l24 -10M1508 825l24 -10M368 926l64 15M28 816l44 19M88 842l24 10M388 940l24 6M468 958l24 4M628 981l64 6M888 988l64 -5M988 980l44 -6M1048 972l24 -4M1108 962l64 -13M1408 882l24 -9M388 950l24 6M468 967l44 9M568 984l64 8M528 988l24 4M128 885l24 10M188 908q42 16 84 29M288 942l24 7M368 964q72 19 144 31M568 1004l24 3M628 1011l64 6M1368 924l24 -8M1448 895l24 -10M648 1023l24 2M648 1033q52 5 104 6M268 964l64 20M688 1046l64 3M188 946l24 9M8 877q42 21 84 39M108 923l24 10M368 1013q42 11 84 20M588 1056l24 3M648 1063l64 5M948 1063l44 -4M1028 1054l24 -4M228 979l64 22M448 1042q72 15 144 25M708 1077l64 3M1408 966l24 -9M68 923l24 12M148 958q52 21 104 39M308 1015l24 7M408 1042l24 6M-12 894l24 12M468 1065l24 5M528 1077l64 10M988 1089q42 -5 84 -12M1208 1048l44 -12M1388 992l24 -9M148 976l24 10M428 1066l64 14M688 1106l64 3M1008 1096l24 -3M1048 1091l44 -8M1188 1063q42 -11 84 -23M1348 1016l64 -24M268 1030l64 21M348 1055q42 12 84 22M928 1115q92 -8 184 -26M1428 995l44 -18M1548 943l24 -12M268 1068l24 8M1268 1089q42 -13 84 -28M-12 954l64 33M248 1070l64 22M508 1142l24 5M668 1164l24 2M808 1170q42 0 84 -3M908 1166l44 -4M1228 1110q72 -20 144 -47M1548 987l24 -12M-12 963l64 33M548 1159l24 4M668 1174l64 5M928 1175l24 -3M1028 1163l24 -4M1188 1131l44 -13M1268 1108l44 -14M1548 996l64 -33M68 1012l44 21M188 1066l44 17M1028 1173l24 -4M1068 1166l24 -4M1248 1124l44 -14M1428 1060q42 -18 84 -38M-12 980q52 28 104 53M368 1138q42 12 84 22M468 1163l44 9M628 1190q52 6 104 8M828 1200l24 -1M928 1195l24 -3M988 1188l44 -6M1168 1155l24 -6M-12 988q52 29 104 54M808 1210q62 0 124 -6M1108 1178q62 -13 124 -31M68 1047l44 22M228 1119q72 28 144 49M588 1215l24 3M908 1226q112 -8 224 -34M1348 1128l24 -9M1428 1096q62 -27 124 -59M468 1212l64 13M588 1234l44 6M688 1246l44 2M828 1250l24 -1M1408 1123l44 -20M1568 1047l24 -14M8 1050l24 14M48 1072l44 23M148 1121l44 20M208 1147l24 10M268 1171l24 9M328 1192l24 8M528 1244l24 5M688 1266l44 2M828 1270l44 -2M1368 1157l24 -10M1468 1114l24 -12M68 1091l44 23M268 1180l44 16M428 1231l64 16M968 1270l64 -9M1128 1242l24 -6M1228 1216q42 -13 84 -28M1388 1158l44 -19M1528 1094l64 -35M28 1078l44 24M88 1110l64 31M248 1182l44 17M408 1235l64 17M488 1255l24 6M1288 1206l44 -17M1528 1102q42 -22 84 -46M48 1098q42 23 84 43M368 1233l44 13M448 1256l64 14M288 1216l44 15M228 1201l44 18M328 1239l24 8M208 1202q42 18 84 34M208 1220l24 11M88 1171l44 23M-12 1122l44 27M1388 1240l24 -11M1448 1212l24 -12M1528 1171l44 -25M148 1219l24 12M1448 1221l44 -23M108 1216l24 13M1408 1276l44 -22M1528 1213l44 -26M68 1235l44 26M1568 1231l44 -29M1568 1239l24 -16"/>
<path stroke="#b3ff4c" d="M788 50l64 -1M528 76q72 7 144 11M1048 78l24 -2M448 86l24 3M628 104q42 3 84 5M868 109q102 -3 204 -13M1168 84l64 -10M1408 39q42 -10 84 -22M348 90l64 11M1068 116l64 -8M1248 91l24 -4M1028 140l24 -3M568 149l24 3M748 159q42 1 84 1M148 105q42 11 84 21M428 162l64 9M548 177l64 6M668 187q62 3 124 3M868 189l64 -2M948 186q62 -4 124 -11M1148 166l24 -4M-12 68l24 8M88 98l64 18M1548 88l64 -20M-12 153q52 18 104 33M728 289q122 4 244 -5M1548 174l64 -21M608 332l44 3M788 340q52 0 104 -2M988 333q62 -5 124 -14M1428 257l24 -7M408 327l64 10M568 348q42 5 84 7M708 358q82 3 164 1M888 358l24 -1M1068 345l64 -9M1228 321l64 -13M1368 291q42 -10 84 -22M368 330l64 11M528 354l64 7M328 342l44 8M588 380q52 5 104 7M948 385l44 -3M128 302l64 18M248 334q62 15 124 26M908 397l24 -1M1088 382l64 -9M1308 344q52 -12 104 -26M1488 297q52 -15 104 -34M188 444q42 12 84 22M388 491q102 19 204 29M1488 421q42 -13 84 -29M308 494q182 41 364 52M748 549l64 1M948 545q62 -4 124 -12M28 439q52 19 104 36M428 547q42 8 84 14M528 562q42 6 84 10M768 580q102 1 204 -7M1168 548q42 -7 84 -16M1388 499l24 -7M1548 448l64 -24M288 528q42 10 84 19M528 572l44 6M588 579l24 3M648 584l24 2M688 587q42 2 84 3M788 590l64 -1M948 585q52 -4 104 -10M1168 558q52 -9 104 -21M68 482l24 8M108 495l64 21M188 520l44 13M488 587l24 3M528 592l44 6M1528 483l44 -16M168 524l24 7M628 613l24 2M668 616q72 4 144 4M1228 576l24 -5M1328 553q42 -11 84 -23M1508 500l64 -23M148 527q82 26 164 46M768 630l64 0M-12 480l44 17M168 543l64 19M548 625q52 6 104 10M1268 587q62 -14 124 -32M1588 489l24 -9M1408 560l44 -14M1428 563l44 -14M248 604q52 15 104 26M1148 680l24 -5M1208 668l44 -9M1248 669l24 -5M428 695l64 11M648 724q42 3 84 5M1428 630l64 -22M548 734q42 5 84 9M88 629q42 16 84 30M528 741q72 10 144 15M948 754l44 -4M1268 704l64 -17M1348 683q52 -15 104 -33M1548 616l64 -26M908 777l44 -3M28 643q82 34 164 60M328 741q82 21 164 34M648 794l24 2M768 800l44 0M888 798l44 -3M1088 778q42 -6 84 -15M1288 737q72 -18 144 -42M428 773l24 5M528 790l44 6M588 798l24 3M708 808l64 2M1528 670l64 -26M468 800q52 10 104 16M928 826l64 -6M1088 808q62 -10 124 -23M1228 781q52 -12 104 -27M1448 718l44 -16M28 680l24 10M68 696l24 9M188 739q92 31 184 52M1108 815q42 -7 84 -16M1208 795l24 -5M1288 776l24 -7M1428 734q92 -31 184 -71M168 742l64 21M1328 775q42 -12 84 -26M228 771l64 19M588 848l44 4M708 858l24 1M768 860l64 0M848 859q182 -4 364 -45M1368 772l24 -7M928 866l64 -6M1008 858l44 -5M1108 844l44 -8M88 741l24 9M188 777l64 21M308 813l64 17M608 870l24 2M648 874l44 3M848 879l44 -1M328 838l64 16M508 876q62 10 124 16M888 898l24 -2M1068 880l64 -11M88 768q72 29 144 52M328 848l44 11M488 883l24 4M668 905l44 3M1088 887q42 -7 84 -16M-12 735l24 11M128 793l24 9M188 815q82 28 164 49M548 902l44 6M908 917l44 -4M1368 858l64 -22M648 953l24 2M708 958q82 4 164 0M968 952q52 -5 104 -13M88 832q62 26 124 48M348 920l24 7M428 940l44 9M628 971q142 15 284 5M1028 965q42 -6 84 -13M1288 911l64 -20M28 824q42 20 84 37M268 917l44 13M368 945l24 6M508 975l64 10M628 991l44 4M848 999l44 -2M1128 968l64 -13M1548 836l24 -12M328 944l64 17M508 985l24 4M628 1001l24 3M748 1009q42 2 84 1M1128 978l44 -9M1288 940l44 -14M28 842l24 12M88 869l44 18M148 893l44 17M508 995l64 10M708 1017l24 2M748 1019q132 4 264 -12M1348 931l24 -9M128 895l64 25M408 984q42 10 84 18M608 1019l44 4M668 1025l24 2M448 1003q42 9 84 15M748 1039l64 1M948 1033q62 -5 124 -15M88 896l64 27M248 957l24 9M328 982l44 13M408 1003q52 13 104 22M648 1043l44 3M748 1049l44 1M948 1043q62 -5 124 -16M148 930l44 17M208 953l44 16M48 914l24 12M428 1047l24 5M88 968q72 33 144 59M388 1076l44 11M488 1099l44 8M548 1110l64 9M668 1124l64 5M1108 1100l24 -5M1428 1005l44 -19M68 968l24 12M108 986l24 11M428 1096l24 5M768 1140l24 0M1348 1044l44 -17M1408 1022q42 -17 84 -36M588 1135l64 8M748 1149l24 1M848 1149l44 -2M1308 1067l24 -8M1388 1039l24 -10M48 985l24 12M1568 977l44 -23M528 1156l24 4M808 1180l24 0M948 1173l24 -3M1228 1120l44 -13M1048 1170l24 -5M1148 1150l24 -6M188 1093l44 18M548 1198q42 8 84 13M748 1219l24 1M888 1217q92 -5 184 -22M1288 1140l44 -16M1388 1103l44 -18M1468 1069l44 -21M568 1212l24 3M1368 1120l64 -26M1168 1213l24 -6M1148 1237l44 -11M1208 1222l24 -8M68 1100l24 12M468 1251l24 5M1028 1272l24 -5M1108 1256l24 -5M1208 1231l24 -7M1248 1219l24 -8M408 1245l44 12M1148 1257l44 -12M148 1157l44 20M1448 1159l44 -22M1508 1130q42 -22 84 -46M268 1217l64 24M408 1264l24 7M1208 1269q62 -18 124 -42M1448 1177l44 -22M1268 1260l64 -24M1388 1213l24 -11M1448 1186l44 -22M228 1229l24 10M268 1245l24 10M1288 1271l64 -25M68 1177l64 34M1528 1196l64 -38M108 1224q42 23 84 43M88 1222l24 13M108 1241l64 34M1588 1186l24 -16M8 1207l44 28M1488 1269l24 -14M1548 1267l24 -16"/>
<path stroke="#e5ff1a" d="M308 53q42 8 84 15M608 93l64 4M1068 86l64 -7M1068 96q52 -5 104 -13M928 117l64 -4M1068 106l64 -7M1228 85q42 -7 84 -16M368 143q52 9 104 16M568 169q182 17 364 8M948 176l64 -5M788 190q42 0 84 -1M8 74q42 14 84 26M148 115q122 32 244 52M488 180l24 3M1028 190q52 -5 104 -12M1388 131l44 -11M1468 111q42 -11 84 -24M308 161l24 5M428 182l24 4M508 193q52 6 104 10M788 210q62 0 124 -3M928 207q42 -2 84 -6M1068 196q162 -18 324 -56M1408 136q42 -10 84 -22M428 192q222 33 444 27M888 218l44 -2M1068 206q52 -6 104 -14M1188 190q52 -8 104 -19M448 205l24 3M28 138q162 51 324 81M648 255q112 7 224 4M1028 249l64 -7M1248 219l44 -9M1448 174q62 -16 124 -36M248 207l24 6M668 266l64 3M368 241q62 12 124 19M868 279l44 -2M68 188l44 14M168 217q62 16 124 29M428 271q42 7 84 12M588 291l44 3M688 297l44 2M968 294q62 -4 124 -12M1368 233l44 -11M688 307l24 1M1348 247l44 -10M188 241q82 21 164 37M508 302l64 7M348 306l64 12M148 279q42 12 84 22M328 322l44 9M428 340q52 9 104 15M588 360q92 9 184 10M808 370q42 0 84 -2M1388 296q42 -11 84 -23M-12 238l64 22M168 294l44 12M288 323q52 12 104 21M588 370q92 9 184 10M1408 300q52 -13 104 -29M1588 246l24 -8M1068 394l44 -5M908 417l44 -2M248 372q52 13 104 24M1228 400l24 -5M68 350q42 14 84 26M588 460l24 2M988 462l24 -2M1328 408l24 -6M1388 393q42 -12 84 -24M68 359l64 21M768 480l24 0M868 479l64 -3M448 462l44 7M908 487q72 -3 144 -11M588 490q42 4 84 6M988 492l44 -4M1288 446l64 -15M1388 422q72 -20 144 -44M28 374q72 25 144 46M428 478l64 10M508 490q72 10 144 15M1508 396l44 -15M1008 510l64 -7M1088 501q122 -16 244 -46M1408 435l24 -7M1448 424l64 -20M-12 387q112 43 224 73M268 474l44 11M348 493l64 12M1028 528l64 -8M1148 512l24 -4M1288 485q162 -37 324 -98M708 548l44 1M588 549q42 5 84 7M1148 532l24 -4M208 516q92 27 184 44M528 582l44 6M748 599q52 2 104 0M948 595q62 -5 124 -13M8 506l44 17M148 556q42 13 84 25M488 636q42 7 84 11M588 649q62 6 124 9M808 660q82 0 164 -7M1388 575l44 -13M1468 551l64 -23M28 551l24 9M808 700l64 -1M1008 689l24 -3M1108 676l64 -11M1208 658q42 -8 84 -19M428 675l44 8M748 709l64 1M828 710q52 -1 104 -4M1128 683l24 -4M1168 676l44 -9M1248 660q42 -10 84 -21M188 625q42 13 84 25M708 718l44 1M848 719q52 -1 104 -5M1208 678l44 -10M1268 665q42 -10 84 -22M1468 607l44 -15M128 615q152 52 304 81M488 705l44 7M628 722l24 2M728 729l44 1M828 730q52 -1 104 -4M1408 636l24 -8M1488 610l44 -16M288 673q62 16 124 29M608 731l64 5M848 739l44 -1M928 736l24 -2M988 731l24 -3M1048 724l64 -9M1188 702q42 -9 84 -19M1368 658q62 -18 124 -40M108 627l64 22M288 683l44 11M628 742q52 5 104 7M808 750q72 0 144 -6M1148 719l64 -13M1228 703l64 -15M1408 655q42 -13 84 -28M808 770q42 0 84 -2M1148 739q152 -28 304 -79M-12 608l24 11M288 712q42 11 84 20M608 770l44 4M808 780l64 -1M888 778l24 -1M948 774l44 -4M1048 764q42 -5 84 -13M1168 745q42 -8 84 -18M1548 634l64 -26M8 626l64 25M308 727l44 11M428 754l64 11M848 789q62 -1 124 -7M1008 779q52 -6 104 -15M1308 723l64 -19M1568 636l44 -19M448 777l24 5M568 796l24 3M1348 740q102 -30 204 -71M-12 663l44 19M88 704l24 9M168 732l24 9M368 790l44 10M1188 800l24 -6M1408 741l24 -9M-12 672l24 10M68 705q52 21 104 39M228 761q62 20 124 35M468 820l24 4M668 845l44 3M1248 796q42 -10 84 -23M1408 750q52 -17 104 -37M1588 682l24 -10M108 739l44 16M468 840q42 8 84 13M628 862q72 7 144 8M908 867l24 -2M988 860l24 -2M1148 837l24 -5M148 772q42 16 84 29M468 859l24 5M608 880q72 7 144 9M-12 717q52 23 104 44M308 833l24 6M388 853l64 13M488 873l24 4M628 892l24 2M708 898q52 2 104 2M1128 870l24 -5M1348 817q42 -13 84 -28M48 770q52 22 104 42M168 817l24 9M608 920l24 2M788 930l64 -1M1328 851l44 -14M48 779l44 19M148 819l24 9M188 833q52 19 104 34M368 887l24 6M608 929l44 5M808 940l44 -1M968 932l64 -7M1328 861l44 -14M1428 828l44 -16M-12 761q42 20 84 38M288 875q52 15 104 28M668 945l64 4M808 950l44 -1M1328 870l44 -14M1428 837l44 -16M-12 770l24 12M228 866l64 20M328 896l24 6M408 916l64 13M608 949l44 5M688 956l24 2M868 959l24 -1M928 955l44 -4M1068 939q52 -8 104 -19M1328 880q42 -13 84 -28M1588 782l24 -12M28 798l64 27M428 930l44 9M608 959l24 3M688 966l24 2M748 969l44 1M808 970l24 0M888 968l64 -5M508 965q52 9 104 15M1188 946l24 -6M1548 827l24 -11M1588 809l24 -12M28 851l24 12M108 886l24 11M188 918l24 9M268 945l24 8M368 974l44 11M488 1001l44 8M588 1016l24 3M688 1026l24 2M948 1023l44 -4M108 896q52 21 104 40M428 998l24 6M528 1018q62 10 124 15M808 1040l44 -1M908 1037l44 -4M1068 1018l64 -11M1468 906l44 -19M268 974q42 13 84 25M528 1037q62 11 124 16M888 1058q102 -6 204 -24M468 1036l44 9M748 1069q52 2 104 0M1168 1029q62 -15 124 -33M1428 949q52 -20 104 -44M1588 880l24 -13M-12 876l64 32M128 940l44 18M288 999l24 8M348 1017l24 7M788 1080q42 0 84 -2M968 1071l44 -5M1028 1064l24 -4M1128 1047l44 -10M1428 958q62 -24 124 -53M248 995l24 9M288 1008l24 8M448 1051l24 6M628 1091l64 5M748 1099l24 1M788 1100q42 0 84 -2M1328 1013l24 -8M1448 969q82 -33 164 -75M488 1079l24 5M548 1090q52 8 104 13M1088 1084l64 -13M1428 986l64 -27M668 1114q42 4 84 5M808 1120q42 0 84 -3M1168 1077l44 -11M1288 1045l64 -22M1488 970l44 -20M308 1053l24 7M728 1128l64 2M1128 1096q42 -9 84 -20M88 977l24 12M788 1140l24 0M888 1138l24 -2M968 1131l24 -3M1388 1029l24 -9M208 1046l24 9M968 1171l24 -3M1008 1166l24 -4M1188 1140l24 -6M1048 1180l64 -13M1488 1042l24 -11M1528 1024l64 -33M148 1067l64 27M228 1100l44 17M448 1168q42 10 84 18M748 1209l64 1M928 1205l24 -3M1068 1186l24 -5M1288 1130q42 -14 84 -30M1508 1042l64 -32M-12 997l24 13M528 1195l24 4M688 1216l24 1M1328 1126l64 -25M1508 1051l64 -33M168 1112l64 27M288 1159q42 15 84 28M388 1191l44 12M728 1248l24 1M768 1250l24 0M888 1247l24 -1M988 1238q42 -6 84 -14M1148 1208l64 -17M1308 1161l44 -16M1488 1087l44 -22M1548 1057l24 -13M588 1254l44 6M1168 1223l64 -18M1268 1194l44 -16M1568 1064l44 -25M1188 1227l24 -7M1148 1247l64 -17M1228 1225l24 -8M1488 1140l24 -13M268 1236l44 17M248 1237l24 10M288 1253l44 16M1428 1204l24 -12M1528 1154l44 -25M268 1254l44 17M1488 1184q42 -22 84 -47M1488 1201l24 -13M8 1158l44 27M68 1194l24 13M148 1236l24 13M1408 1267l24 -12M1468 1237l64 -35M8 1175l24 15M68 1210l24 14M1528 1247l24 -15"/>
<path stroke="#ffe500" d="M448 185l64 8M868 219l24 -1M248 188l24 5M288 196l24 5M668 246q72 4 144 4M288 236l24 5M1008 281l44 -4M1248 248q62 -11 124 -26M1468 198l64 -19M-12 191q132 45 264 76M468 307q82 11 164 17M728 329l24 1M868 329l24 -1M1248 288l44 -9M1508 224q52 -15 104 -33M208 266q102 25 204 42M1488 240q52 -15 104 -33M1588 227l24 -8M8 254q72 25 144 45M728 389q42 1 84 1M1028 379l64 -8M1428 305q72 -20 144 -44M28 270l64 21M408 367q42 7 84 12M608 392l64 4M-12 275l24 9M548 406l64 6M708 418l24 1M828 420q42 -1 84 -3M948 415q82 -5 164 -16M1168 390q62 -10 124 -23M1428 334l44 -13M-12 303l24 9M308 396l24 5M548 436q132 15 264 14M968 444l44 -4M1208 413l24 -5M1288 397q52 -11 104 -25M568 448q82 8 164 11M968 454l44 -4M1428 430l24 -8M668 526l64 3M748 529l24 1M968 524l24 -3M1028 518l24 -3M1068 514l44 -7M1128 505l64 -10M1248 484l64 -15M908 557l44 -2M1108 538l44 -7M28 430q72 26 144 48M468 544q52 8 104 14M768 570l24 0M868 569l24 -1M968 563q62 -5 124 -13M1348 500l64 -18M1508 452q42 -14 84 -29M268 513l24 6M1248 533l64 -15M488 567l44 6M1308 529l24 -6M1528 465l44 -16M228 532l24 6M268 542l44 11M328 557l64 13M1068 593q62 -8 124 -20M1268 558q52 -12 104 -26M1428 516q42 -13 84 -27M-12 461q52 21 104 39M268 552q82 21 164 36M528 602l24 3M568 607l24 3M828 620l44 -1M1288 563l24 -6M-12 471l24 9M68 500l44 16M928 626l44 -3M988 622l64 -7M1108 607l24 -4M1528 502l24 -9M108 524l24 8M268 571q42 11 84 20M428 606l24 5M648 634l44 3M848 639l44 -1M948 635l24 -2M1128 614q42 -7 84 -15M28 504l24 10M108 533l44 15M768 650q52 1 104 -1M948 645l44 -4M1108 627l44 -7M1508 528l44 -16M-12 507l64 25M248 595l64 16M728 669l44 1M1008 659q82 -8 164 -23M1348 596l24 -7M-12 517l64 25M168 581l24 8M388 638q42 9 84 15M768 680l64 0M908 677q42 -2 84 -6M1148 650q42 -7 84 -16M1328 611l44 -12M1408 589l64 -21M1528 549l24 -9M1588 526l24 -9M148 584q52 17 104 31M348 639q42 10 84 17M488 666l24 3M1008 679l44 -5M1108 666l44 -7M1168 656l24 -4M1368 610l64 -20M1548 551l44 -17M188 663q52 17 104 31M868 759l64 -4M1048 744l24 -3M1148 729l24 -5M-12 599l64 26M308 707q92 24 184 39M708 768l44 1M788 770l24 0M888 768l44 -3M1008 759l64 -8M1088 749l24 -4M1128 742l24 -4M1448 661l24 -8M1588 609l24 -10M528 780q52 8 104 13M848 799l24 0M1468 683q72 -26 144 -57M-12 653q122 54 244 91M248 748l64 18M388 785l44 9M688 827l24 1M108 711l64 23M48 706l24 10M88 722q52 20 104 38M428 822l24 5M488 833l24 5M528 840l24 3M-12 699l24 11M468 850l24 4M988 870l44 -5M1068 860q62 -9 124 -22M1248 825q52 -13 104 -29M1408 779q42 -15 84 -31M1528 735q42 -17 84 -36M68 742q42 17 84 32M228 799l24 8M308 823q82 22 164 37M488 863l24 4M548 872l64 8M748 889q52 2 104 0M948 884l44 -4M1208 844q42 -9 84 -21M228 818l64 20M468 879l24 5M568 895l64 7M788 910q82 1 164 -6M1408 807l64 -23M1488 778l24 -10M368 867l24 6M408 877l64 13M628 912q62 6 124 7M1008 908q52 -6 104 -15M1228 869l44 -12M1288 853l44 -13M1348 836l24 -8M1508 779l24 -10M1548 763l44 -19M88 796l24 10M388 892l24 5M1468 813l24 -9M708 968l24 1M788 970l24 0M228 885l24 8M268 898l24 7M948 974l24 -3M988 970l24 -3M1368 886l64 -22M1568 818l24 -12M168 882l44 16M668 995l24 2M948 994q42 -4 84 -10M1068 979l24 -4M1348 912l24 -8M1488 861l24 -10M1528 844l24 -11M-12 815l44 21M128 876l24 10M208 906l44 15M408 964l24 6M648 1003l24 2M708 1007l24 2M888 1008l64 -5M988 1000q52 -6 104 -15M1348 921l44 -15M1408 901l64 -25M1568 836l44 -21M1188 975l24 -6M1568 845l44 -21M208 944l24 8M788 1050l24 0M888 1048l44 -3M1148 1013q42 -9 84 -20M1288 978q42 -13 84 -27M308 1005l44 13M888 1078l24 -2M1548 908l64 -32M28 905l24 11M268 1002l24 8M468 1056l24 5M528 1067q42 7 84 12M968 1081l44 -5M1148 1052l64 -15M768 1100l24 0M1348 1006l24 -8M508 1083l24 4M1268 1051l24 -8M1528 953l24 -12M228 1026q42 15 84 28M1248 1066l24 -7M808 1140l44 -1M868 1139l24 -2M908 1136l24 -2M988 1168l24 -3M1168 1145l24 -6M1508 1033l24 -12M948 1203l44 -5M1028 1193l44 -8M1248 1143l44 -14M1368 1102l24 -10M1428 1078l24 -11M88 1075l24 12M148 1103l24 11M748 1249l24 1M868 1248l24 -1M1068 1225l44 -9M1528 1067l24 -12M1308 1180l44 -17M1508 1095l64 -34M1128 1252l24 -6M1408 1204l44 -21M68 1160l24 13M1388 1231l24 -11M1468 1194l24 -13M1568 1140l24 -14M8 1142l24 15M48 1182l24 14M128 1226l24 13M48 1199l24 14"/>
<path stroke="#ffb300" d="M648 235q42 3 84 4M988 233l24 -2M1548 126l44 -14M988 273q42 -4 84 -8M1128 258l44 -7M1268 235l24 -5M1408 204l64 -17M1488 202l64 -20M-12 172q42 14 84 27M308 259l44 9M428 281q72 11 144 18M728 309l44 1M1108 290q42 -5 84 -12M1548 193l64 -21M248 266q62 14 124 25M428 301l44 6M628 324l24 1M708 328l24 1M1168 341l64 -11M1248 327q52 -10 104 -23M1188 348l44 -8M-12 266q142 50 284 83M428 380l44 7M548 396q72 8 144 11M748 409q62 2 124 0M988 402l44 -4M1208 374l44 -9M1388 335l64 -18M1548 288l64 -22M8 292q42 14 84 28M108 324q72 22 144 40M428 399q92 16 184 23M748 429q52 2 104 0M908 427l44 -2M988 422q62 -5 124 -14M1328 369q42 -10 84 -22M48 315q42 14 84 26M688 437q82 4 164 2M888 438l44 -2M1008 430l24 -2M1128 416l24 -3M1268 392l24 -6M1448 347l64 -19M488 448l64 8M1148 443q42 -7 84 -15M208 401q52 14 104 25M388 442q92 17 184 26M628 473q42 4 84 5M1128 456q62 -9 124 -22M1268 431l44 -10M1328 417l64 -16M1448 386q52 -16 104 -34M-12 341l44 16M248 421l44 11M528 473l44 5M1168 459l24 -4M1328 427l64 -16M1448 395l24 -7M1588 350l24 -9M8 357q52 19 104 36M208 420q52 14 104 26M448 472q42 7 84 12M728 499l44 1M888 498q42 -1 84 -5M1088 481l24 -3M1148 482l64 -11M1288 456l24 -6M1388 431l24 -7M328 479l44 9M608 521l24 3M648 525l24 1M728 529l24 0M988 522l44 -4M1048 516l24 -3M648 535l44 2M368 536l24 5M128 492l64 20M1088 580l64 -10M1428 506l44 -14M248 537l24 6M308 552l24 6M248 547l24 6M548 605l24 3M968 623l24 -2M1128 604l24 -4M1548 495l24 -9M888 638l64 -4M988 641l64 -7M1148 621l24 -5M1208 609l24 -5M268 591q62 16 124 28M1208 619q42 -8 84 -18M48 540q62 23 124 43M1228 635q52 -11 104 -25M1468 570l24 -9M1508 556l24 -9M-12 535l24 10M268 629l44 12M348 649l64 13M448 669l24 4M628 693l44 3M708 698l44 1M868 699l44 -2M1508 575q52 -19 104 -40M48 568l24 9M268 639l24 6M348 659l44 9M488 685l64 10M988 701l44 -5M1068 692l24 -3M-12 553l64 26M288 654l24 6M648 714l24 2M1128 693l24 -4M1588 563l24 -10M8 571q52 21 104 39M768 730l24 0M1248 679q42 -9 84 -21M148 631q62 21 124 38M1528 605l44 -17M8 589l24 10M228 666l24 7M328 693l44 10M428 714l24 5M988 741q52 -5 104 -13M1068 742q42 -6 84 -14M148 669l64 21M228 695l44 13M408 740q42 9 84 15M508 758q52 8 104 13M728 779l24 0M1008 769l44 -6M1528 642l24 -9M148 679l64 21M388 745l24 6M548 773l44 6M708 788l44 1M788 790l24 0M828 800l24 -1M1028 786l44 -6M68 677l24 10M148 707l64 21M268 745l24 7M348 766q42 10 84 18M448 787l64 11M668 815l24 2M788 820q42 0 84 -1M908 817q102 -6 204 -23M1228 771l24 -5M308 765q42 11 84 21M648 824l44 3M368 799l24 6M628 842l24 2M728 849l64 1M868 849l44 -2M948 844l24 -2M-12 690q42 18 84 35M228 780q42 14 84 25M328 809l24 6M588 858l24 2M808 870l64 -1M1228 820l24 -6M1288 805l64 -18M1408 769q42 -14 84 -30M448 846l24 5M248 815l44 13M1268 839l24 -6M1548 745l44 -19M1468 786l24 -10M388 872l24 6M1268 859l24 -7M1368 830l64 -22M1488 787l24 -10M188 824q42 15 84 27M348 872q72 19 144 31M728 929l24 0M768 930l24 0M868 929l44 -3M988 920q42 -4 84 -11M1268 868l44 -12M1388 832l24 -8M1448 812q62 -23 124 -51M1588 755l24 -11M108 804l44 17M88 805l24 10M428 910l24 5M488 922q62 11 124 18M1108 923l64 -13M1228 898l64 -17M1488 815q42 -17 84 -36M488 932l44 7M1448 840q42 -16 84 -34M1548 799l24 -10M728 968l24 1M248 891l24 8M328 925l44 12M1248 931l24 -6M328 934l24 7M688 996l24 2M1368 905l24 -8M1508 853l24 -11M148 884l64 24M428 969l64 13M668 1005l44 3M228 932l24 8M328 963l44 12M728 1028l24 1M848 1029l64 -3M1048 1012q52 -8 104 -19M1288 959q102 -30 204 -73M-12 841q52 26 104 48M268 955l24 7M308 967l44 13M1168 999l64 -15M1568 863l44 -22M168 929l44 16M808 1050q42 0 84 -3M1108 1021l44 -9M688 1056l44 3M1108 1031l24 -5M1208 1009l24 -6M1268 993l24 -7M1348 969l64 -23M1528 899l24 -12M868 1079l24 -2M488 1060l44 8M608 1078l24 3M648 1083q52 5 104 6M868 1089l44 -3M1008 1077l24 -4M1108 1061l44 -10M1208 1038l44 -12M1408 975l44 -17M1208 1067l24 -6M1248 1057l24 -8M1208 1077l24 -7M848 1139l24 -1M988 1198l44 -6M708 1217l44 2M1568 1021l44 -24M108 1085l44 20M28 1137l44 26M28 1187l24 15"/>
<path stroke="#ff8000" d="M368 291l64 11M648 325l64 3M68 302q102 33 204 57M288 362l24 6M1508 310l44 -14M88 318l24 8M848 430l24 -1M888 428l24 -1M188 367l44 11M408 416l44 7M468 435l24 4M528 443l24 3M1068 444l44 -6M1508 348q52 -16 104 -35M348 434l44 9M1308 422l24 -6M1388 412l64 -18M1308 451l24 -6M1368 436l24 -6M628 523l24 2M428 537l24 5M828 570l24 -1M1128 545l24 -4M1448 472l44 -15M288 518l44 10M428 567l24 4M508 580l24 3M1268 548l64 -16M208 536l24 7M1568 488l44 -17M308 610l24 6M388 628q42 9 84 16M528 652q42 5 84 9M968 663l44 -4M1208 629l24 -5M1488 554l44 -16M1568 525l24 -10M1488 563l24 -9M8 534q42 17 84 31M548 674l24 3M588 679l64 6M728 689l44 1M788 690l24 0M1228 645l24 -6M1468 579l44 -15M208 612l24 7M248 624l24 6M308 639l44 11M468 672l44 7M288 644l64 16M388 667l44 9M948 705l44 -4M1408 617l24 -8M1448 605l24 -9M788 730l24 0M808 740l24 0M988 761l24 -3M208 689l24 7M368 741l24 6M588 778l24 3M628 782l24 2M128 700l24 8M208 727l24 7M248 739l24 7M288 750l64 17M428 783l24 5M1308 752l24 -7M1168 813l44 -9M448 826l24 5M1248 815l44 -11M1508 733l64 -26M1088 867l64 -11M1508 752l44 -18M828 900l44 -1M1428 809l24 -9M-12 744l24 11M748 929l24 1M1408 826l44 -16M208 850l24 8M1028 935l24 -3M1088 926l24 -4M1528 808l24 -11M968 972l24 -3M1388 898l24 -8M208 934l24 9M248 948l24 8M8 869l24 11M1168 1019l44 -11M1548 890l24 -12M1228 1062l24 -7M1228 1072l24 -7M928 1135l24 -2M228 1054l44 16M-12 1114l44 26M1588 1129l24 -15"/>
<path stroke="#ff4c00" d="M868 429l24 -1M488 438l44 6M1328 446l44 -11M328 527l44 10M228 541l24 7M1168 617l24 -5M-12 526l24 10M568 677l24 2M768 690l24 0M228 618l24 7M448 718l24 4M508 728l24 4M68 631l44 17M948 764l24 -2M608 780l24 3M228 733l24 7M1268 762l44 -12M468 830l24 4M1568 709l44 -19M868 889l44 -2M1448 802l44 -17M8 753l24 11M108 813l24 10M188 843l24 8M1048 932l44 -6M228 941l24 9M1128 1027l44 -9M628 1081l24 2M828 1090l24 -1M928 1085l24 -2M1308 1010l64 -22M948 1133l24 -3M1388 1094l24 -10"/>
<path stroke="#ff1a00" d="M448 570l24 4M488 577l24 3M1188 613l24 -5M348 620l24 5M1428 611l24 -8M468 722l44 7M968 763l24 -3M88 685l44 17M128 821l64 24M1208 941l44 -11M748 1089l24 1M1408 1086l24 -10"/>
<path stroke="#e50000" d="M468 574l24 3M328 615l24 6M1588 719l24 -11M-12 859l24 12M1568 880l24 -11M808 1090l24 0"/>
<path stroke="#b30000" d="M1548 736l24 -11M1588 871l24 -12M768 1090l44 0"/>
<path stroke="#800000" d="M1568 727l24 -10"/>
</g></g>
<!-- panel b -->
<rect x="1.50" y="250.00" width="697.50" height="217.70" fill="none" stroke="#33262a" stroke-width="1.7"/>
<line x1="247.20" y1="259.00" x2="247.20" y2="461.00" stroke="#666" stroke-width="0.7" stroke-dasharray="0.8 1.0"/>
<rect x="258.00" y="237.60" width="154.50" height="23.70" fill="#fff" stroke="#33262a" stroke-width="1.3"/>
<text x="263.60" y="254.86" font-size="12" fill="#111" stroke="#111" text-anchor="start" transform="matrix(1 0 0 1.12 0 -30.072)">(b)</text>
<text x="283.40" y="253.90" font-size="9.85" fill="#111" stroke="#111" text-anchor="start" transform="matrix(1 0 0 1.12 0 -30.048)">At different cutting depths</text>
<rect x="317.75" y="440.00" width="71.75" height="19.25" fill="#ececec" stroke="none" stroke-width="1"/>
<text x="353.62" y="453.12" font-size="9.85" fill="#326dc6" stroke="#326dc6" text-anchor="middle" transform="matrix(1 0 0 1.12 0 -53.955)">Unadjusted</text>
<rect x="545.00" y="439.50" width="71.75" height="19.75" fill="#ececec" stroke="none" stroke-width="1"/>
<text x="580.88" y="452.87" font-size="9.85" fill="#326dc6" stroke="#326dc6" text-anchor="middle" transform="matrix(1 0 0 1.12 0 -53.925)">Adjusted</text>
<rect x="433.75" y="437.50" width="68.75" height="23.00" fill="#ddedf6" stroke="none" stroke-width="1"/>
<text x="468.12" y="452.50" font-size="9.85" fill="#111" stroke="#111" text-anchor="middle" transform="matrix(1 0 0 1.12 0 -53.880)">15 µm</text>
<line x1="400.00" y1="449.50" x2="433.75" y2="449.50" stroke="#326dc6" stroke-width="3.0"/>
<path d="M390.00 449.50L404.80 445.40L404.80 453.60Z" fill="#326dc6"/>
<line x1="502.50" y1="449.50" x2="533.50" y2="449.50" stroke="#326dc6" stroke-width="3.0"/>
<path d="M543.50 449.50L528.70 445.40L528.70 453.60Z" fill="#326dc6"/>
<!-- chart b -->
<rect x="39.50" y="313.25" width="17.00" height="89.75" fill="#fbc99c" stroke="#8d8d8d" stroke-width="0.7"/>
<rect x="56.50" y="329.50" width="17.00" height="73.50" fill="#a3d5a1" stroke="#8d8d8d" stroke-width="0.7"/>
<rect x="81.50" y="311.00" width="17.00" height="92.00" fill="#fbc99c" stroke="#8d8d8d" stroke-width="0.7"/>
<rect x="98.50" y="331.25" width="17.00" height="71.75" fill="#a3d5a1" stroke="#8d8d8d" stroke-width="0.7"/>
<rect x="123.50" y="294.25" width="17.00" height="108.75" fill="#fbc99c" stroke="#8d8d8d" stroke-width="0.7"/>
<rect x="140.50" y="333.25" width="17.00" height="69.75" fill="#a3d5a1" stroke="#8d8d8d" stroke-width="0.7"/>
<rect x="165.75" y="298.25" width="17.00" height="104.75" fill="#fbc99c" stroke="#8d8d8d" stroke-width="0.7"/>
<rect x="182.75" y="311.25" width="17.00" height="91.75" fill="#a3d5a1" stroke="#8d8d8d" stroke-width="0.7"/>
<path d="M48.25 299.25V327.50M46.65 299.25h3.2M46.65 327.50h3.2" stroke="#7a7a7a" stroke-width="0.6" fill="none"/>
<path d="M90.50 297.50V324.25M88.90 297.50h3.2M88.90 324.25h3.2" stroke="#7a7a7a" stroke-width="0.6" fill="none"/>
<path d="M132.50 280.50V308.25M130.90 280.50h3.2M130.90 308.25h3.2" stroke="#7a7a7a" stroke-width="0.6" fill="none"/>
<path d="M174.25 283.00V314.50M172.65 283.00h3.2M172.65 314.50h3.2" stroke="#7a7a7a" stroke-width="0.6" fill="none"/>
<path d="M65.00 321.25V338.25M63.40 321.25h3.2M63.40 338.25h3.2" stroke="#7a7a7a" stroke-width="0.6" fill="none"/>
<path d="M107.25 326.25V336.25M105.65 326.25h3.2M105.65 336.25h3.2" stroke="#7a7a7a" stroke-width="0.6" fill="none"/>
<path d="M149.00 323.25V343.50M147.40 323.25h3.2M147.40 343.50h3.2" stroke="#7a7a7a" stroke-width="0.6" fill="none"/>
<path d="M191.25 307.00V315.50M189.65 307.00h3.2M189.65 315.50h3.2" stroke="#7a7a7a" stroke-width="0.6" fill="none"/>
<path d="M35.40 403.00V267.40H204.70" stroke="#5a5a5a" stroke-width="0.8" fill="none"/>
<line x1="35.00" y1="403.00" x2="204.70" y2="403.00" stroke="#4a4a4a" stroke-width="0.8"/>
<line x1="204.70" y1="267.00" x2="204.70" y2="403.40" stroke="#ff3b3b" stroke-width="0.7"/>
<text x="30.70" y="406.90" font-size="9.85" fill="#111" stroke="#111" text-anchor="end" transform="matrix(1 0 0 1.12 0 -48.408)">0</text>
<text x="30.70" y="384.45" font-size="9.85" fill="#111" stroke="#111" text-anchor="end" transform="matrix(1 0 0 1.12 0 -45.714)">20</text>
<text x="30.70" y="362.00" font-size="9.85" fill="#111" stroke="#111" text-anchor="end" transform="matrix(1 0 0 1.12 0 -43.020)">40</text>
<text x="30.70" y="339.55" font-size="9.85" fill="#111" stroke="#111" text-anchor="end" transform="matrix(1 0 0 1.12 0 -40.326)">60</text>
<text x="30.70" y="317.10" font-size="9.85" fill="#111" stroke="#111" text-anchor="end" transform="matrix(1 0 0 1.12 0 -37.632)">80</text>
<text x="30.70" y="294.65" font-size="9.85" fill="#111" stroke="#111" text-anchor="end" transform="matrix(1 0 0 1.12 0 -34.938)">100</text>
<text x="30.70" y="272.20" font-size="9.85" fill="#111" stroke="#111" text-anchor="end" transform="matrix(1 0 0 1.12 0 -32.244)">120</text>
<path d="M35.40 403.00h-2.6M35.40 391.77h-1.5M35.40 380.55h-2.6M35.40 369.32h-1.5M35.40 358.10h-2.6M35.40 346.88h-1.5M35.40 335.65h-2.6M35.40 324.42h-1.5M35.40 313.20h-2.6M35.40 301.97h-1.5M35.40 290.75h-2.6M35.40 279.52h-1.5M35.40 268.30h-2.6" stroke="#5a5a5a" stroke-width="0.7" fill="none"/>
<text x="208.90" y="406.75" font-size="9.85" fill="#e3001c" stroke="#e3001c" text-anchor="start" transform="matrix(1 0 0 1.12 0 -48.390)">0</text>
<text x="208.90" y="379.50" font-size="9.85" fill="#e3001c" stroke="#e3001c" text-anchor="start" transform="matrix(1 0 0 1.12 0 -45.120)">20</text>
<text x="208.90" y="352.25" font-size="9.85" fill="#e3001c" stroke="#e3001c" text-anchor="start" transform="matrix(1 0 0 1.12 0 -41.850)">40</text>
<text x="208.90" y="325.00" font-size="9.85" fill="#e3001c" stroke="#e3001c" text-anchor="start" transform="matrix(1 0 0 1.12 0 -38.580)">60</text>
<text x="208.90" y="297.75" font-size="9.85" fill="#e3001c" stroke="#e3001c" text-anchor="start" transform="matrix(1 0 0 1.12 0 -35.310)">80</text>
<text x="208.90" y="270.50" font-size="9.85" fill="#e3001c" stroke="#e3001c" text-anchor="start" transform="matrix(1 0 0 1.12 0 -32.040)">100</text>
<path d="M204.70 403.25h2.6M204.70 389.62h1.5M204.70 376.00h2.6M204.70 362.38h1.5M204.70 348.75h2.6M204.70 335.12h1.5M204.70 321.50h2.6M204.70 307.88h1.5M204.70 294.25h2.6M204.70 280.62h1.5M204.70 267.00h2.6" stroke="#ff4545" stroke-width="0.7" fill="none"/>
<text x="56.50" y="416.00" font-size="9.85" fill="#111" stroke="#111" text-anchor="middle" transform="matrix(1 0 0 1.12 0 -49.500)">5</text>
<text x="98.50" y="416.00" font-size="9.85" fill="#111" stroke="#111" text-anchor="middle" transform="matrix(1 0 0 1.12 0 -49.500)">10</text>
<text x="140.50" y="416.00" font-size="9.85" fill="#111" stroke="#111" text-anchor="middle" transform="matrix(1 0 0 1.12 0 -49.500)">15</text>
<text x="182.75" y="416.00" font-size="9.85" fill="#111" stroke="#111" text-anchor="middle" transform="matrix(1 0 0 1.12 0 -49.500)">20</text>
<path d="M56.50 403.00v2.6M77.54 403.00v1.5M98.50 403.00v2.6M119.54 403.00v1.5M140.50 403.00v2.6M161.54 403.00v1.5M182.75 403.00v2.6M35.46 403.00v1.5" stroke="#5a5a5a" stroke-width="0.7" fill="none"/>
<text x="121.25" y="426.75" font-size="9.85" fill="#111" stroke="#111" text-anchor="middle" transform="matrix(1 0 0 1.12 0 -50.790)">Cutting depth/µm</text>
<text x="12.20" y="334.20" font-size="9.85" fill="#111" stroke="#111" text-anchor="middle" transform="rotate(-90 12.20 334.20) matrix(1 0 0 1.12 0 -39.684)">Surface roughness/nm</text>
<text x="231.50" y="336.80" font-size="9.85" fill="#e3001c" stroke="#e3001c" text-anchor="middle" transform="rotate(-90 231.50 336.80) matrix(1 0 0 1.12 0 -39.996)">Surface quality improvement</text>
<text x="243.40" y="335.70" font-size="9.85" fill="#e3001c" stroke="#e3001c" text-anchor="middle" transform="rotate(-90 243.40 335.70) matrix(1 0 0 1.12 0 -39.864)">percentage/%</text>
<polyline points="56.50,379.25 98.50,373.00 140.75,354.25 182.50,386.25" fill="none" stroke="#f21d1d" stroke-width="0.7"/>
<rect x="55.15" y="377.90" width="2.70" height="2.70" fill="#f00f14" stroke="none" stroke-width="1"/>
<rect x="97.15" y="371.65" width="2.70" height="2.70" fill="#f00f14" stroke="none" stroke-width="1"/>
<rect x="139.40" y="352.90" width="2.70" height="2.70" fill="#f00f14" stroke="none" stroke-width="1"/>
<rect x="181.15" y="384.90" width="2.70" height="2.70" fill="#f00f14" stroke="none" stroke-width="1"/>
<rect x="34.25" y="433.00" width="168.25" height="24.00" fill="#fff" stroke="#b5b5b5" stroke-width="0.7"/>
<rect x="45.25" y="436.75" width="16.00" height="7.75" fill="#fbc99c" stroke="#9a9a9a" stroke-width="0.6"/>
<rect x="45.25" y="447.00" width="16.00" height="8.00" fill="#a3d5a1" stroke="#9a9a9a" stroke-width="0.6"/>
<text x="65.50" y="444.00" font-size="9.85" fill="#111" stroke="#111" text-anchor="start" transform="matrix(1 0 0 1.12 0 -52.860)">Before spindle modulation</text>
<text x="65.50" y="454.75" font-size="9.85" fill="#111" stroke="#111" text-anchor="start" transform="matrix(1 0 0 1.12 0 -54.150)">After spindle modulation</text>
<!-- heatmap b1 -->
<line x1="254.50" y1="277.00" x2="273.75" y2="277.00" stroke="#8a8a8a" stroke-width="0.7"/>
<line x1="254.50" y1="402.50" x2="273.75" y2="402.50" stroke="#8a8a8a" stroke-width="0.7"/>
<line x1="273.75" y1="402.50" x2="273.75" y2="430.00" stroke="#8a8a8a" stroke-width="0.7"/>
<line x1="433.25" y1="402.50" x2="433.25" y2="430.00" stroke="#8a8a8a" stroke-width="0.7"/>
<line x1="262.25" y1="280.00" x2="262.25" y2="399.50" stroke="#33262a" stroke-width="1.0"/>
<path d="M262.25 277.00l-1.9 7.2h3.8ZM262.25 402.50l-1.9 -7.2h3.8Z" fill="#33262a"/>
<rect x="251.25" y="306.00" width="19.00" height="66.00" fill="#ececec" stroke="none" stroke-width="1"/>
<text x="264.25" y="339.00" font-size="9.85" fill="#111" stroke="#111" text-anchor="middle" transform="rotate(-90 264.25 339.00) matrix(1 0 0 1.12 0 -40.260)">944.732 µm</text>
<line x1="276.75" y1="419.60" x2="430.25" y2="419.60" stroke="#33262a" stroke-width="1.0"/>
<path d="M273.75 419.60l7.2 -1.9v3.8ZM433.25 419.60l-7.2 -1.9v3.8Z" fill="#33262a"/>
<rect x="317.75" y="410.00" width="71.75" height="19.50" fill="#ececec" stroke="none" stroke-width="1"/>
<text x="353.62" y="423.25" font-size="9.85" fill="#111" stroke="#111" text-anchor="middle" transform="matrix(1 0 0 1.12 0 -50.370)">1 259.642 µm</text>
<text x="353.40" y="273.70" font-size="9.85" fill="#e3001c" stroke="#e3001c" text-anchor="middle" transform="matrix(1 0 0 1.12 0 -32.424)">Sa: 94.68 nm</text>
<text x="449.60" y="274.00" font-size="9.85" fill="#111" stroke="#111" text-anchor="middle" transform="matrix(1 0 0 1.12 0 -32.460)">Unit: nm</text>
<rect x="438.75" y="282.00" width="9.25" height="120.50" fill="url(#jet)" stroke="#6b5a5a" stroke-width="0.35"/>
<path d="M438.75 382.00h1.2M448.00 382.00h-1.2M438.75 362.00h1.2M448.00 362.00h-1.2M438.75 342.00h1.2M448.00 342.00h-1.2M438.75 322.00h1.2M448.00 322.00h-1.2M438.75 302.00h1.2M448.00 302.00h-1.2" stroke="#222" stroke-width="0.5" opacity="0.6"/>
<text x="452.00" y="406.00" font-size="9.85" fill="#111" stroke="#111" text-anchor="start" transform="matrix(1 0 0 1.12 0 -48.300)">0</text>
<text x="452.00" y="386.00" font-size="9.85" fill="#111" stroke="#111" text-anchor="start" transform="matrix(1 0 0 1.12 0 -45.900)">100</text>
<text x="452.00" y="366.00" font-size="9.85" fill="#111" stroke="#111" text-anchor="start" transform="matrix(1 0 0 1.12 0 -43.500)">200</text>
<text x="452.00" y="346.00" font-size="9.85" fill="#111" stroke="#111" text-anchor="start" transform="matrix(1 0 0 1.12 0 -41.100)">300</text>
<text x="452.00" y="326.00" font-size="9.85" fill="#111" stroke="#111" text-anchor="start" transform="matrix(1 0 0 1.12 0 -38.700)">400</text>
<text x="452.00" y="306.00" font-size="9.85" fill="#111" stroke="#111" text-anchor="start" transform="matrix(1 0 0 1.12 0 -36.300)">500</text>
<text x="452.00" y="286.00" font-size="9.85" fill="#111" stroke="#111" text-anchor="start" transform="matrix(1 0 0 1.12 0 -33.900)">600</text>
<clipPath id="cpb1"><rect x="0" y="0" width="159.50" height="125.50"/></clipPath>
<g transform="translate(273.75 277.00)" clip-path="url(#cpb1)">
<rect x="0" y="0" width="159.50" height="125.50" fill="#ffb300"/>
<g transform="scale(0.1)" fill="none" stroke-width="14" filter="url(#hb)">
<path stroke="#00e5ff" d="M-10 1251l40 27"/>
<path stroke="#4dffb2" d="M-10 1008q810 445 1620 -3M1510 1272q50 -29 100 -63M1570 1275l40 -27"/>
<path stroke="#80ff80" d="M390 -21q400 61 800 2M-10 948q810 425 1620 -2M-10 957q810 427 1620 -3M-10 1067q270 156 540 207M-10 1173q90 58 180 102M1450 1271q80 -41 160 -93M-10 1228q40 27 80 51M1530 1276q40 -24 80 -51"/>
<path stroke="#b3ff4c" d="M570 -20q230 20 460 0M470 -20q330 40 660 0M290 -18q510 97 1020 -1M-10 1034q810 454 1620 -3M-10 1050q340 194 680 224M910 1276q350 -28 700 -228M1070 1273q270 -52 540 -209M-10 1084q230 134 460 192M-10 1125q150 91 300 148M1430 1272q90 -44 180 -102M-10 1181q80 52 160 93M-10 1205q60 39 120 73M-10 1213q50 33 100 62M-10 1236l60 39M-10 1244l40 26M1550 1280l60 -40"/>
<path stroke="#e5ff1a" d="M150 -19q650 159 1300 -2M110 -20q690 181 1380 -1M70 -21q730 203 1460 -1M-10 13q810 255 1620 -2M-10 22q810 257 1620 -1M-10 32q810 257 1620 -2M-10 183q810 275 1620 -2M-10 398q810 305 1620 -2M-10 637q810 347 1620 -2M-10 665q810 351 1620 -2M-10 755q810 371 1620 -3M-10 914q810 414 1620 -3M-10 931q810 419 1620 -3M-10 966q810 430 1620 -3M-10 974q810 433 1620 -3M-10 983q810 436 1620 -3M-10 1000q810 442 1620 -3M-10 1059q300 172 600 216M1010 1274q300 -45 600 -218M1150 1275q230 -59 460 -194M-10 1092q210 124 420 183M1190 1274q210 -60 420 -185M1210 1277q200 -60 400 -180M1310 1271q150 -58 300 -149M1410 1273q100 -47 200 -111M-10 1197q70 46 140 83M1490 1275q60 -34 120 -73M1550 1272l60 -39"/>
<path stroke="#ffe500" d="M330 -21q470 82 940 -1M230 -21q570 122 1140 -1M190 -20q610 140 1220 -1M30 -23q760 224 1520 5M-10 -16q810 253 1620 -1M-10 3q810 255 1620 -1M-10 41q810 259 1620 -1M-10 51q810 259 1620 -2M-10 60q810 261 1620 -2M-10 89q810 263 1620 -2M-10 98q810 265 1620 -2M-10 126q810 268 1620 -1M-10 136q810 269 1620 -2M-10 202q810 277 1620 -2M-10 211q810 279 1620 -1M-10 221q810 279 1620 -2M-10 258q810 285 1620 -2M-10 370q810 300 1620 -1M-10 380q810 301 1620 -2M-10 408q810 305 1620 -2M-10 426q810 309 1620 -2M-10 435q810 310 1620 -1M-10 463q810 315 1620 -2M-10 482q810 317 1620 -2M-10 592q810 337 1620 -2M-10 628q810 345 1620 -2M-10 656q810 349 1620 -3M-10 782q810 378 1620 -3M-10 799q810 383 1620 -2M-10 826q810 389 1620 -2M-10 852q810 397 1620 -2M-10 870q810 401 1620 -3M-10 896q810 409 1620 -2M-10 905q810 411 1620 -3M-10 940q810 422 1620 -3M-10 1017q810 448 1620 -3M-10 1025q810 451 1620 -3M-10 1042q810 457 1620 -3M-10 1075q250 146 500 201M-10 1100q190 113 380 173M-10 1108q180 108 360 168M1330 1273q140 -57 280 -143M1350 1273q130 -54 260 -135M-10 1165q100 63 200 111M-10 1189q70 45 140 83M1450 1280q80 -42 160 -94M-10 1259l20 14M-10 1266l20 14"/>
<path stroke="#ffb300" d="M10 -19q790 239 1580 -2M-10 -6q810 253 1620 -2M-10 70q810 261 1620 -2M-10 79q810 263 1620 -2M-10 117q810 267 1620 -2M-10 155q810 271 1620 -2M-10 164q810 273 1620 -2M-10 192q810 276 1620 -1M-10 230q810 281 1620 -2M-10 239q810 282 1620 -1M-10 249q810 283 1620 -2M-10 361q810 299 1620 -2M-10 389q810 303 1620 -2M-10 445q810 311 1620 -2M-10 454q810 313 1620 -2M-10 472q810 316 1620 -1M-10 491q810 319 1620 -2M-10 500q810 321 1620 -2M-10 519q810 323 1620 -2M-10 546q810 329 1620 -2M-10 565q810 332 1620 -3M-10 574q810 333 1620 -2M-10 619q810 343 1620 -2M-10 674q810 353 1620 -2M-10 683q810 355 1620 -2M-10 701q810 359 1620 -2M-10 719q810 363 1620 -2M-10 728q810 365 1620 -2M-10 737q810 367 1620 -2M-10 790q810 381 1620 -2M-10 808q810 385 1620 -2M-10 861q810 399 1620 -2M-10 879q810 403 1620 -3M-10 922q810 417 1620 -2M-10 991q810 439 1620 -3M1110 1275q250 -56 500 -202M1250 1274q180 -60 360 -169M-10 1117q170 102 340 161M-10 1133q140 86 280 142M-10 1141q130 80 260 135M-10 1149q120 75 240 127M1370 1274q120 -53 240 -128M1470 1278q70 -38 140 -84M1590 1269l20 -14M1590 1277l20 -14"/>
<path stroke="#ff8000" d="M-10 107q810 266 1620 -1M-10 145q810 271 1620 -1M-10 174q810 273 1620 -2M-10 268q810 285 1620 -2M-10 277q810 287 1620 -2M-10 296q810 289 1620 -2M-10 305q810 291 1620 -2M-10 324q810 293 1620 -2M-10 333q810 295 1620 -2M-10 342q810 296 1620 -1M-10 352q810 297 1620 -2M-10 417q810 307 1620 -2M-10 509q810 323 1620 -2M-10 528q810 325 1620 -2M-10 537q810 327 1620 -2M-10 555q810 331 1620 -2M-10 583q810 335 1620 -2M-10 601q810 339 1620 -2M-10 610q810 341 1620 -2M-10 647q810 347 1620 -3M-10 692q810 357 1620 -2M-10 710q810 361 1620 -2M-10 764q810 373 1620 -3M-10 773q810 376 1620 -3M-10 817q810 387 1620 -2M-10 835q810 391 1620 -3M-10 844q810 394 1620 -3M1270 1277q170 -60 340 -163M-10 1157q110 69 220 119M1390 1274q110 -51 220 -120M1510 1280q50 -29 100 -63"/>
<path stroke="#ff4c00" d="M-10 286q810 289 1620 -1M-10 314q810 292 1620 -1M-10 746q810 369 1620 -2M-10 887q810 407 1620 -2M-10 1221q40 26 80 50"/>
<path stroke="#0080ff" d="M1408 984l64 -26M1348 1127l24 -9"/>
<path stroke="#00b2ff" d="M388 87l44 7M1408 993l64 -26M1308 1142l44 -17M1368 1119l44 -18"/>
<path stroke="#00e5ff" d="M1508 176l24 -8M1508 185l24 -7M1308 1085l24 -9M408 1178l24 7M448 1188l64 14M1408 1103l44 -19"/>
<path stroke="#1affe5" d="M1328 774l44 -13M208 1047l44 17M1288 1092l24 -9M1328 1078l44 -16M388 1173l24 7M428 1183l24 7M508 1201q42 9 84 15M628 1220l64 6M748 1229l64 1M948 1222q42 -4 84 -11M1248 1161l24 -8M1288 1148l24 -8M1448 1086l24 -11M1528 1049l44 -23M28 1105q42 24 84 45M-12 1250l24 17"/>
<path stroke="#4dffb2" d="M688 8l44 1M-12 912l44 23M1528 951q42 -19 84 -41M128 1005l44 19M528 1136l64 10M688 1156q42 3 84 4M1268 1098l24 -8M1368 1064l24 -10M428 1145q42 10 84 18M508 1270l24 5M-12 1082l44 26M108 1148l24 12"/>
<path stroke="#80ff80" d="M908 -2l44 -2M1048 -12l24 -2M468 10q42 5 84 9M1268 -11l44 -9M1448 698l24 -9M1288 775l64 -18M608 1009l44 5M8 879q52 25 104 47M328 1002l64 18M188 1002q52 21 104 37M968 1111q42 -5 84 -12M1468 978l64 -29M1008 1116q52 -7 104 -18M1048 1120l44 -8M88 987l44 20M388 1096l64 16M188 1058l44 17M648 1173l24 2M348 1123q42 13 84 23M508 1162q52 10 104 17M1168 1145l24 -7M268 1134q42 16 84 29M728 1228l24 1M808 1230l24 0M868 1228l24 -1M1028 1212l24 -4M1088 1201q52 -10 104 -24M1488 1068l44 -22M-12 1032l44 25M128 1104q42 20 84 37M468 1222q42 10 84 17M1208 1202l24 -8M228 1166l64 24M608 1267l44 6M1028 1261l24 -4M128 1157l24 12M1328 1227l24 -9M128 1175l64 30M28 1147l64 36M1588 1184l24 -16M1508 1273l24 -14M1568 1237l24 -16"/>
<path stroke="#b3ff4c" d="M888 8q52 -1 104 -5M1308 -9l64 -13M388 28l44 7M1328 7q62 -13 124 -28M268 17l24 5M388 38q42 7 84 12M708 68q72 3 144 1M908 68l64 -4M1228 35q132 -22 264 -57M108 57q92 25 184 43M1148 126l24 -4M-12 31l64 20M1168 133l64 -10M1588 37l24 -8M708 318l44 2M868 319q52 -2 104 -5M1008 311l64 -7M1128 297l44 -7M668 546l24 1M928 546q52 -3 104 -9M1268 499l64 -16M968 553l44 -4M828 800l24 -1M488 785q62 10 124 16M668 806q42 2 84 3M828 810l44 -1M1328 736q62 -18 124 -39M1468 691l64 -24M128 719q42 16 84 29M268 764l44 13M568 826q52 6 104 10M968 832q62 -5 124 -15M1208 795q42 -10 84 -21M1348 759q52 -16 104 -34M1068 840l24 -4M768 940l44 0M328 906q42 12 84 21M388 931l24 6M588 967l24 3M648 1013l24 2M-12 869l24 12M108 924l24 10M288 990l44 14M388 1018l24 7M668 1065l24 2M948 1093l44 -5M928 1105q72 -6 144 -19M28 932l24 12M88 960q52 24 104 44M288 1038l64 19M948 1113l24 -3M1048 1100l44 -8M1448 986l24 -10M988 1119l24 -4M1108 1099l64 -14M68 969q42 20 84 38M408 1091l44 11M468 1105l64 12M988 1128l64 -9M1088 1113l44 -9M1348 1043l64 -24M68 978l24 12M168 1022l24 10M228 1045l24 9M328 1079l64 18M448 1110l24 6M68 987l64 29M188 1039l24 10M348 1094l44 13M468 1125l24 5M628 1151l24 2M768 1160l24 0M1048 1140q52 -9 104 -21M1268 1088q82 -25 164 -59M1468 1014l44 -20M128 1023l24 11M188 1048l24 10M368 1110q42 12 84 21M528 1146l24 4M608 1158q42 5 84 8M728 1168l44 2M868 1168l44 -2M948 1163l64 -8M1028 1153l24 -4M1108 1139l24 -6M1168 1125l64 -17M1488 1014l44 -21M168 1049l24 11M228 1073l44 16M428 1135l64 14M568 1163q42 6 84 10M668 1174l64 5M768 1180q112 2 224 -13M1048 1159l64 -12M1148 1140l44 -11M1268 1107q52 -16 104 -36M-12 973l44 23M308 1110l44 14M608 1178q42 5 84 8M888 1187q42 -2 84 -7M1128 1154l44 -11M1188 1140l24 -7M1568 994l44 -24M-12 981l64 34M348 1132q42 13 84 24M508 1172l24 5M628 1190l24 3M1068 1176l64 -13M1168 1154l64 -17M1548 1012l64 -33M68 1040l24 12M448 1179l64 14M628 1210l44 5M1148 1179l44 -12M108 1068l24 12M688 1226l24 2M828 1230l44 -2M1048 1209l24 -5M488 1217l64 12M188 1158l64 27M568 1271l24 4M1188 1236q42 -12 84 -26M1308 1198q52 -19 104 -42M1588 1069l24 -15M208 1176l44 18M288 1207l24 9M428 1251l24 6M-12 1074q52 31 104 57M1308 1226l44 -18M1468 1157l44 -22M1548 1116l64 -37M-12 1091l44 25M268 1227q62 25 124 43M1188 1274l24 -7M1288 1242l44 -16M1348 1220l24 -11M1488 1156l24 -13M108 1165l24 12M188 1203l24 11M148 1194l44 20M1308 1272l44 -18M1408 1230l64 -31M1548 1159l44 -27M88 1198l44 23M1408 1275l44 -23M28 1197l24 14M108 1243l44 23M1508 1240l24 -14M1588 1192l24 -16M1448 1281l24 -13M1588 1224l24 -16M8 1240l24 16M1528 1278l24 -16M1588 1248l24 -17"/>
<path stroke="#e5ff1a" d="M668 -13q42 2 84 3M848 -10l24 -1M408 -8q52 7 104 13M688 18l64 2M848 20l24 -1M1068 6q52 -5 104 -12M1208 -11l64 -11M408 2l24 3M668 27q102 5 204 2M968 25q52 -4 104 -9M568 30q52 5 104 7M848 40q72 -2 144 -7M1108 22q102 -12 204 -32M548 38l44 4M1188 21l64 -10M1328 -3l24 -5M788 90l24 0M-12 2l44 14M448 106l44 6M568 120q192 17 384 5M1108 111l24 -3M1288 83q62 -12 124 -27M1548 21l64 -20M1028 160q42 -4 84 -10M1148 146l44 -7M1408 106l64 -16M1548 68l24 -7M28 72q52 16 104 30M168 111l64 15M248 130q42 9 84 17M548 178l64 5M1008 181q42 -3 84 -8M1168 163q62 -9 124 -22M1348 130l44 -11M1448 106q62 -16 124 -36M188 135l44 11M-12 88q42 14 84 26M148 135q42 11 84 21M308 172l44 8M768 220l64 0M868 219q42 -1 84 -4M1128 198q62 -8 124 -20M1448 135l24 -7M1588 94l24 -8M-12 97l44 15M828 230l24 -1M1368 164l44 -11M288 207l24 5M548 247l44 4M828 260q42 -1 84 -3M1088 243q62 -8 124 -18M328 225q62 12 124 21M708 268l44 2M788 270q72 0 144 -4M1048 257l24 -3M1148 245l44 -7M708 348l44 2M1048 337l64 -8M1188 318q42 -7 84 -16M1288 299q72 -15 144 -35M488 339q42 6 84 10M248 325l24 5M1028 388l44 -4M1568 271l24 -8M128 417q52 16 104 30M308 465q142 32 284 45M828 520l64 -2M1268 469l44 -10M1328 456l44 -12M1428 429q62 -18 124 -40M-12 407q72 27 144 50M448 531q42 7 84 13M708 558l64 2M808 560l44 -1M868 559q52 -2 104 -6M1008 550l44 -5M1308 499l64 -16M1488 449q62 -20 124 -44M268 514l44 11M708 578l64 2M1168 548l24 -5M288 528l44 11M748 589l24 1M948 585l44 -4M728 619l64 1M148 528l24 8M1388 565l44 -13M788 760l44 0M1108 735q152 -24 304 -72M-12 627l24 11M588 788l44 5M788 800l44 0M848 799q92 -2 184 -14M1348 720l44 -13M928 825l44 -3M68 715q42 17 84 32M1008 848l64 -9M1088 837l44 -7M968 952l44 -5M48 807q42 19 84 35M408 926q92 21 184 32M608 960l64 5M988 960l24 -3M1028 955l24 -4M1268 906l44 -13M368 926l24 6M408 936l24 5M568 965l24 3M608 970l24 2M8 808l64 28M588 977l44 5M1108 962l24 -5M1388 888l24 -9M1488 851l64 -28M308 929l44 13M528 979l44 6M728 999l44 1M1088 975l64 -12M1168 960q72 -16 144 -38M88 870l64 26M348 960q62 16 124 29M568 1004l44 6M668 1015l24 2M428 989l44 9M608 1019l44 5M208 935q42 15 84 28M148 922l44 17M228 952q172 59 344 83M608 1039l24 3M8 870q52 25 104 47M128 932q42 18 84 33M268 984l24 8M408 1023l24 6M628 1061l44 4M688 1066l24 2M828 1070l24 -1M928 1065l44 -4M1588 879l24 -13M-12 878l24 12M248 987q52 17 104 32M528 1058l24 3M1588 887l24 -12M308 1025l24 7M768 1100q92 1 184 -8M988 1089l44 -6M1148 1062l24 -6M88 951l24 11M128 969l44 18M328 1041l24 7M908 1106l24 -2M1068 1087l24 -4M1388 1001l24 -10M-12 921q52 27 104 51M908 1126q42 -3 84 -8M1168 1086l44 -11M1508 969q42 -19 84 -40M48 969l24 11M188 1030l44 17M248 1052q42 16 84 28M468 1115l24 5M828 1150l44 -2M908 1146l44 -4M1048 1130q42 -7 84 -16M1348 1052q102 -36 204 -86M-12 947q42 22 84 42M268 1069l24 8M928 1155l64 -7M1148 1120l44 -11M1228 1100l44 -13M1508 996q52 -24 104 -52M-12 956l24 13M28 976l44 22M148 1032l24 10M448 1130q42 10 84 17M688 1166l44 3M908 1166l44 -4M1008 1156l24 -4M1528 996q42 -20 84 -43M68 1031l44 22M308 1129q52 18 104 31M1108 1178l44 -10M1188 1159l64 -18M48 1039l24 12M708 1227l24 2M1308 1151q72 -25 144 -58M1488 1077q42 -20 84 -43M348 1180q72 23 144 38M548 1228l24 5M708 1247q52 3 104 3M1208 1192q42 -12 84 -26M1488 1086l64 -33M28 1054l24 13M68 1075l24 12M268 1162l64 23M428 1212l24 7M588 1245l24 3M1008 1245l44 -8M1128 1222l24 -6M1168 1212l24 -6M1248 1190q42 -14 84 -29M1428 1122l44 -20M1508 1085l44 -23M-12 1041l44 24M88 1094l64 31M588 1255l24 3M648 1262l24 3M688 1266l64 3M768 1270q42 1 84 -1M1028 1252l24 -5M-12 1049l44 25M68 1092l44 23M368 1215q72 22 144 36M548 1258l24 4M908 1276l24 -2M988 1267l24 -3M1188 1226q42 -11 84 -25M1508 1102l24 -12M1568 1071l44 -25M248 1192l44 17M368 1234l24 7M1308 1207q62 -23 124 -51M1488 1130q42 -21 84 -45M88 1129l44 22M1528 1118q42 -22 84 -47M168 1176l64 28M88 1155l24 12M208 1212l24 11M108 1174l44 22M188 1212l44 20M1248 1275l64 -23M248 1256l44 18M68 1187l24 13M128 1219l24 12M1528 1187l44 -26M8 1176l64 39M168 1265l24 12M1488 1243l64 -37M8 1192q42 27 84 51M1448 1272l24 -13M1488 1251l24 -14M-12 1188l44 28M1468 1270l44 -24M48 1241l64 38M28 1253l24 16M8 1248l24 16"/>
<path stroke="#ffe500" d="M168 -15l44 10M768 60l44 0M208 14l44 9M328 38l24 4M468 59q92 12 184 17M1468 -6l64 -17M188 28q42 10 84 19M708 98q62 3 124 2M1288 54l64 -13M-12 -7l44 14M108 28l24 6M1468 33q72 -19 144 -42M-12 12l64 20M808 140q82 0 164 -6M1008 131q52 -4 104 -10M1188 110q52 -8 104 -18M1408 67l64 -16M508 134l44 4M708 148q42 2 84 2M868 149l44 -2M388 127l64 10M508 143q42 5 84 9M628 154l64 4M708 158q72 3 144 1M28 81q92 29 184 51M1548 88l64 -21M-12 78q102 34 204 59M228 145q82 19 164 32M888 208q72 -2 144 -9M1128 188l24 -3M1588 85l24 -8M868 249l64 -3M1368 184l24 -6M8 161l64 20M128 197q62 17 124 31M388 255q52 9 104 16M528 275q82 9 164 13M908 287q82 -3 164 -13M1308 236q52 -11 104 -24M-12 182l64 21M68 208l44 13M148 231q72 20 144 35M328 274q142 28 284 39M1468 226q72 -21 144 -46M588 361l24 2M228 310q52 13 104 23M528 364q62 8 124 11M208 315l44 11M268 329l64 14M488 369l44 6M868 389l64 -3M1048 376l44 -5M1288 338l64 -15M728 469l24 1M8 368l24 8M868 509l44 -2M1468 436l44 -14M388 511l44 8M548 535q42 5 84 9M788 550l24 0M1568 412l44 -16M948 595l44 -4M88 489q52 18 104 33M568 597q102 12 204 13M1188 574l44 -9M1288 553q42 -10 84 -22M1468 503l44 -15M108 515l44 15M168 534l44 13M328 577q42 9 84 17M468 604q62 10 124 16M1008 619q42 -4 84 -10M1188 593q92 -17 184 -43M-12 490l24 10M88 527q52 18 104 34M448 620l64 10M548 635q62 7 124 11M1248 601l24 -6M1348 576l44 -12M1428 553q42 -13 84 -28M1568 505l44 -17M228 580l24 7M968 653l24 -2M-12 518l24 9M128 569l44 14M1588 526l24 -10M1128 673q52 -9 104 -20M828 710l64 -2M1188 672l24 -5M408 682l44 8M608 711q42 4 84 6M1388 632l64 -20M248 653l44 12M348 679l24 5M588 719l24 2M508 719q52 7 104 12M648 734l44 3M788 740q62 0 124 -3M1128 712l24 -4M528 731l64 8M1328 678l64 -19M1528 613l64 -25M1148 738l44 -8M288 712l24 7M-12 618l44 19M88 658l44 16M1268 732q52 -13 104 -29M1588 627l24 -11M208 718q62 19 124 35M368 761l64 14M608 800l64 6M1568 653l44 -19M-12 664l24 10M328 781q42 10 84 19M668 835l24 2M1468 719l64 -24M1588 672l24 -11M8 690l64 27M148 745l44 16M268 784l44 12M348 805l64 15M448 827q42 8 84 14M888 858l64 -5M968 852l44 -5M1128 830l64 -12M1468 738q42 -15 84 -33M48 716q62 26 124 47M48 725l44 18M128 757l44 16M288 809l44 12M408 838q52 11 104 20M1188 838l44 -10M1548 725l64 -27M608 890l64 6M728 899l24 0M-12 727l24 11M128 785q92 34 184 59M528 890l24 3M768 910l44 0M868 909l64 -4M1308 837l44 -13M128 794l24 9M228 829q42 13 84 25M448 886l24 4M488 893l24 4M548 902l64 8M-12 754q72 33 144 60M188 834q52 18 104 34M408 897l64 13M528 919l44 7M628 932l44 4M708 938l44 1M1088 916l44 -8M1208 892q52 -12 104 -27M1448 820l24 -9M1528 789q42 -18 84 -38M228 857l44 14M968 942l44 -5M948 954l24 -3M1008 947l24 -3M1288 891l44 -13M-12 789q62 30 124 55M208 879l44 15M348 921l24 6M428 940l64 13M548 962l24 3M628 972l24 2M668 975q112 9 224 2M1008 967l64 -9M1248 921l64 -18M1428 865l24 -10M268 917l44 14M348 940l44 12M508 975l24 4M568 984l44 6M708 998l24 1M768 1000l64 0M1048 982l44 -8M1148 964l24 -5M1308 924l64 -21M1428 883q42 -15 84 -33M268 927l24 8M548 992l24 3M88 879l44 19M408 984l24 6M468 997q72 15 144 23M648 1023l24 2M908 1026q62 -4 124 -13M88 888q62 27 124 49M288 962l24 7M908 1036q62 -4 124 -13M-12 860l24 12M108 915q52 22 104 41M368 1004l44 11M8 887l44 22M188 965l64 23M348 1018l24 6M488 1050l44 8M548 1061l44 6M908 1076q42 -3 84 -8M1108 1050l64 -13M1548 906l44 -21M48 942l24 12M488 1090q42 8 84 14M628 1111q42 4 84 7M768 1120q42 1 84 -1M928 1115l24 -3M1128 1086l44 -11M1228 1061l24 -7M1368 1017l64 -25M88 969l64 29M188 1011q82 33 164 56M468 1095l64 13M868 1128l44 -2M1268 1060l24 -8M1468 987l44 -20M1588 931l24 -13M248 1043l24 9M368 1081l44 11M548 1120q42 7 84 11M688 1136l64 3M808 1140l64 -2M888 1137l44 -3M948 1133l24 -3M1168 1096l24 -6M1508 978q42 -19 84 -41M1188 1111l44 -12M8 966l24 13M168 1040l24 10M1148 1130l24 -6M288 1094l44 15M368 1119l44 12M1488 1023l64 -31M188 1067l44 17M988 1178q42 -5 84 -13M1228 1129l24 -8M1408 1067q62 -25 124 -56M108 1041q42 20 84 37M728 1198l44 2M828 1200l24 -1M888 1197l24 -1M1028 1182l24 -4M1248 1132l24 -7M1288 1120l64 -23M1368 1092l44 -18M1488 1041l44 -21M-12 990q42 23 84 44M108 1050l24 12M188 1085q62 26 124 46M408 1159l24 6M1048 1189l64 -12M1148 1169l44 -11M1248 1142l24 -8M1368 1101q42 -16 84 -35M-12 998l24 14M128 1068l44 20M348 1152l44 13M528 1195q42 8 84 13M888 1217q52 -3 104 -10M1008 1205q52 -7 104 -19M1288 1139l44 -16M1488 1059q62 -29 124 -63M68 1049l44 21M48 1065l24 12M668 1254l24 2M1148 1217l24 -6M1468 1104l44 -22M28 1071l44 24M508 1250l44 9M928 1274l24 -2M968 1270l24 -3M1088 1250l24 -5M1168 1232l24 -7M1528 1092l44 -23M28 1080l64 34M128 1131l24 11M328 1212q52 17 104 31M508 1260l24 5M1088 1260l64 -15M388 1240l44 12M1428 1158l64 -31M1108 1275q52 -11 104 -27M1508 1129l24 -13M248 1210l24 10M328 1240l24 8M368 1253l24 8M408 1265l24 7M1148 1276l44 -13M1248 1247l44 -16M1368 1202l24 -10M1248 1256l24 -8M1388 1203l64 -30M1208 1278l24 -8M1328 1237l24 -10M1488 1165q62 -32 124 -69M1308 1254l24 -10M48 1150l64 35M248 1247q42 18 84 32M1268 1278l64 -25M-12 1131l44 27M128 1210l44 22M248 1265l24 11M48 1175l24 14M148 1229l44 21M228 1266l24 11M208 1266l24 11M1408 1257l24 -12M1488 1217l64 -36M1408 1266l44 -22M1588 1176l24 -15M148 1264l24 12M1468 1262l24 -14M48 1233l64 38M1548 1233l64 -41M1508 1265l64 -39M28 1261l24 16"/>
<path stroke="#ffb300" d="M728 49q42 1 84 1M1028 40l44 -4M228 28q62 13 124 24M1008 82q52 -5 104 -11M428 84l64 8M628 104l44 3M708 108q52 2 104 2M848 110q182 -4 364 -33M1268 67q82 -15 164 -35M1208 97l24 -4M968 134l44 -3M688 158l24 1M368 133l24 5M528 156l44 4M108 86q42 11 84 21M268 124l64 13M388 147l64 9M548 168q102 10 204 12M868 179q62 -2 124 -7M408 189l44 7M-12 107l24 8M408 209l44 7M1528 132q42 -13 84 -27M48 145l24 7M188 184l44 11M1408 184l44 -12M248 208l44 10M968 264l24 -2M1428 188l44 -12M28 158l24 7M688 278q42 1 84 2M808 280l64 -1M1528 170l44 -14M748 309l44 1M868 309q62 -2 124 -7M1108 290q72 -10 144 -23M288 265l44 10M-12 201l44 15M148 250q42 12 84 22M268 280l64 14M348 297q92 18 184 28M1168 311q92 -15 184 -36M1448 250l24 -7M1508 233q52 -16 104 -34M248 286q52 12 104 22M448 324l44 6M608 342l64 5M-12 220l64 21M68 246q112 35 224 60M928 356l24 -1M1048 347q52 -6 104 -14M1188 328l64 -12M1308 304l44 -10M1448 270l64 -19M1528 246l44 -14M28 271q62 21 124 39M208 324q42 11 84 21M388 363l64 11M488 379q82 11 164 16M708 398q62 3 124 2M1168 370q42 -7 84 -15M1328 339q42 -10 84 -21M868 409q42 -1 84 -4M968 404q42 -3 84 -8M1128 386q72 -10 144 -25M1368 339l64 -17M908 417l64 -4M1088 402l24 -4M248 363l44 11M1568 299l44 -15M248 373l64 15M508 421q72 10 144 14M668 436q52 3 104 4M928 436l44 -3M1148 413q112 -18 224 -46M8 330q72 26 144 47M268 407l44 10M388 432q42 8 84 14M528 454q42 5 84 8M668 466l64 3M748 469q132 3 264 -9M1028 458l24 -3M48 353l44 15M428 449l24 4M868 479l24 -1M928 476q52 -3 104 -8M528 474q72 8 144 12M728 489q42 1 84 1M908 487q52 -2 104 -7M1388 411l44 -12M-12 351q72 27 144 48M388 462q122 23 244 32M768 500l24 0M1448 404q42 -13 84 -27M1588 358l24 -9M268 456l24 6M608 512l44 3M1048 506l24 -3M1128 495l44 -7M708 528q282 12 564 -50M1448 433l64 -21M148 461l44 13M208 479l44 12M1208 521l24 -5M1248 513l24 -6M1408 473l44 -13M-12 416q42 16 84 31M408 534l44 8M488 547l44 7M748 569q62 2 124 0M188 492l44 13M368 536l24 5M828 580l64 -2M1068 563l44 -6M1228 536l24 -5M1288 523l24 -6M1368 503l24 -6M1408 492l24 -7M48 457q52 18 104 34M468 564l24 4M548 575q52 6 104 10M1048 575q102 -12 204 -34M1268 538l64 -16M1388 508q42 -12 84 -26M1528 464q42 -15 84 -31M8 470l24 9M88 499l24 8M248 547q62 17 124 30M408 583l64 12M608 611l44 4M668 616l24 1M848 619l24 0M968 613q42 -3 84 -9M1068 602q42 -5 84 -12M1288 562l64 -16M1468 512l44 -15M1528 492l24 -9M48 503q42 16 84 30M388 599l64 12M748 639q42 1 84 1M888 638q72 -3 144 -11M1068 622l44 -6M1208 599l64 -14M1448 537l64 -21M248 595l24 7M1068 652l44 -6M1068 672l44 -7M1168 656q42 -8 84 -17M348 649q42 10 84 18M548 684l64 7M688 697q42 2 84 3M808 700q42 0 84 -2M1108 676l24 -4M1228 654q62 -14 124 -31M88 593q162 58 324 90M448 689l24 4M568 707l44 4M688 717q42 2 84 3M788 720l64 -1M888 718l24 -1M1348 644l44 -13M1448 613l44 -15M1528 585q42 -15 84 -33M88 621l64 22M388 707q72 15 144 25M588 739l44 4M1028 736l44 -5M1208 707q62 -13 124 -30M1388 661q72 -22 144 -50M1588 590l24 -10M68 623q72 27 144 49M448 728q52 10 104 17M568 746l64 7M708 758l44 1M828 760l24 -1M928 756l24 -2M1008 749l64 -8M1428 658l64 -22M1508 630l24 -9M68 632l64 23M248 692l64 17M808 770q62 0 124 -5M968 763q92 -9 184 -26M1188 731l24 -6M1488 647q42 -16 84 -33M248 701l44 13M308 717q82 22 164 35M608 771l24 2M848 779q42 -1 84 -4M968 772l24 -2M1268 722l44 -11M88 667l24 10M168 696l64 20M348 747q52 12 104 22M468 771q52 9 104 16M648 794q42 3 84 5M1288 737l24 -7M1468 682l44 -17M1528 660l44 -18M448 787l24 5M1048 803q52 -7 104 -17M1288 756q42 -11 84 -24M1408 721l44 -15M1508 686l44 -18M28 671l44 18M128 710l64 22M208 737l44 14M388 785l44 9M448 797l44 8M568 816l24 3M608 820l24 3M648 824l24 2M788 830l24 0M868 829l24 -1M1028 816q42 -5 84 -13M1188 789l24 -5M1388 737l64 -22M1468 710q72 -26 144 -58M8 699l44 19M168 762q92 31 184 54M768 870l44 0M888 868l44 -3M988 860l44 -5M288 818q52 15 104 27M468 860q42 8 84 13M868 889l64 -4M468 899l44 8M668 925q112 8 224 2M1108 903l24 -5M1308 857l44 -14M128 812l64 24M468 909l64 11M1468 812l24 -9M-12 763q42 19 84 37M188 844l44 15M268 870l44 13M608 940l44 4M928 945l44 -4M1008 937l44 -6M1288 881q42 -11 84 -25M1528 798q42 -18 84 -38M308 891l44 12M488 932l24 5M828 960l24 -1M1028 945q72 -10 144 -25M1228 907l64 -17M1328 879l64 -21M1408 853q52 -18 104 -40M-12 780l44 21M228 876l64 20M308 901l24 7M828 970l44 -2M888 968q42 -3 84 -7M1148 935l24 -6M1328 889l64 -21M1508 824l24 -10M1588 790l24 -12M108 851q42 17 84 32M448 954l64 12M528 969l44 6M668 985l44 3M748 989l44 1M888 988l64 -5M968 982q52 -6 104 -14M1168 950l44 -10M1268 925l24 -7M88 861q92 39 184 67M288 933l24 7M328 945l44 12M388 960l64 15M528 988l24 4M568 994q52 7 104 11M708 1008l64 2M1328 927q42 -13 84 -29M228 923l24 9M268 936l44 14M488 991l44 8M788 1020l44 0M848 1019l44 -2M968 1011l64 -7M1088 995q42 -7 84 -17M1248 960l24 -7M1308 943q72 -22 144 -51M68 870l24 11M128 896l24 9M188 919l24 9M388 980l24 6M668 1025l44 3M748 1029l24 1M868 1029l44 -3M1028 1014l44 -7M1448 904l24 -10M48 871l44 19M308 968l24 7M348 979q42 12 84 21M488 1011q52 10 104 16M888 1038l24 -2M1028 1024l44 -7M1208 989l44 -11M668 1045l44 3M788 1050q42 0 84 -2M1008 1037q42 -6 84 -13M1168 1009q52 -12 104 -27M1388 945q62 -23 124 -50M1548 880l64 -31M228 970l24 9M568 1054l24 3M868 1068l64 -4M1088 1044l64 -13M1288 996l64 -20M1368 970l64 -24M1508 915l64 -29M-12 886l24 13M1568 906l44 -22M-12 895q42 21 84 41M268 1012l24 8M348 1037l44 12M448 1062l64 13M588 1086l44 5M1028 1083q52 -7 104 -18M1268 1031l24 -8M1388 991l24 -9M1528 933q42 -19 84 -41M28 924l24 11M188 993l24 9M288 1028l24 8M368 1052l24 6M468 1076l24 5M628 1101l64 6M868 1108l24 -1M1128 1076l44 -10M1228 1052q42 -12 84 -25M1488 960q42 -18 84 -39M868 1118l24 -1M1348 1024l24 -9M8 940l24 12M228 1036l24 9M1208 1096q52 -14 104 -32M248 1062l24 9M1128 1134l24 -5M1448 1041l44 -20M1208 1134l24 -7M1388 1075l24 -10M648 1192l24 3M708 1197l24 2M908 1196l44 -4M988 1188l44 -6M1348 1099l24 -9M1528 1022l24 -12M168 1086l24 10M228 1110q62 24 124 43M1328 1125l64 -25M1408 1094q42 -17 84 -37M28 1037q72 38 144 69M228 1129l64 24M308 1158l24 8M588 1225l64 8M708 1237l24 2M748 1239l24 1M948 1232q42 -4 84 -11M1088 1211q52 -10 104 -24M1248 1171l44 -15M108 1086q42 20 84 38M208 1130l24 10M248 1146l64 23M648 1242l44 4M828 1250l64 -3M928 1244q62 -5 124 -16M1108 1217l64 -15M1328 1153l44 -17M608 1247l24 4M408 1217l44 11M528 1245l24 4M628 1260l24 3M908 1266q42 -4 84 -9M1248 1199l24 -8M1328 1172q42 -16 84 -34M1468 1113q42 -20 84 -42M948 1272l24 -3M1108 1246l64 -16M108 1121l24 12M208 1185l44 18M288 1216l24 9M348 1237l64 20M228 1202l24 10M348 1247l24 8M428 1270l24 7M1388 1194l24 -11M-12 1099l24 14M1308 1244l24 -9M-12 1107l44 26M248 1238q42 17 84 32M1328 1255l24 -10M1428 1212l64 -32M1368 1257l24 -11M1448 1220l44 -23M1348 1275l24 -11M168 1256l44 21M1388 1275l24 -12M1448 1246l64 -34M108 1268l24 14M48 1266l24 15"/>
<path stroke="#ff8000" d="M588 92q42 3 84 5M1048 88l64 -7M1208 78l64 -12M528 106l24 2M1008 111q52 -4 104 -10M1168 93q72 -10 144 -24M748 180q62 1 124 -1M408 170q72 11 144 18M788 200q42 0 84 -1M1028 189q62 -5 124 -14M1248 160l64 -13M1408 126l24 -7M368 212l44 8M628 244q92 7 184 6M1448 202l64 -18M8 170q52 17 104 32M248 237l64 14M368 261q122 22 244 32M688 297q62 3 124 3M888 298l24 -1M928 296l24 -1M1068 285q62 -7 124 -18M1488 201q42 -12 84 -26M8 198q42 15 84 27M148 241q122 33 244 54M488 310l44 5M1108 310l64 -10M1428 246q82 -22 164 -49M328 293l24 5M48 240l24 8M1148 334l44 -7M1248 317l64 -14M1508 252l24 -7M-12 229q62 22 124 40M188 290q42 11 84 21M768 370q62 1 124 -2M1048 357q152 -17 304 -53M1448 279q82 -23 164 -52M-12 239q42 14 84 28M968 374q132 -10 264 -35M1388 305l44 -12M-12 248q42 15 84 28M388 354l44 7M1388 315l44 -12M1548 268l64 -22M148 308l64 18M-12 285l44 16M108 325l24 8M188 348l64 17M288 373q42 9 84 17M428 400q92 15 184 22M908 427l64 -4M1148 403l44 -7M1228 389l64 -13M1488 325q42 -13 84 -27M8 321q72 25 144 46M508 441l64 8M908 457q102 -5 204 -19M1308 402q62 -14 124 -32M168 419q42 13 84 23M288 451l24 5M368 468q42 8 84 15M548 496l24 2M608 502l24 2M668 506l24 1M708 508l24 1M948 505q132 -9 264 -34M1248 464l44 -10M1408 425l24 -7M668 526l44 2M288 480q182 43 364 55M688 537q52 3 104 3M848 539l24 0M908 537q52 -2 104 -8M1068 523l24 -3M1108 518l24 -4M328 508l24 6M1228 517l24 -5M468 554l24 4M1028 568l44 -6M1248 532l44 -10M1388 498l24 -7M1248 542l24 -5M228 523l24 6M308 543q52 12 104 22M608 591l24 3M648 595l44 2M1048 585q52 -6 104 -15M1228 556l24 -5M1288 543q62 -15 124 -33M1448 499l24 -7M1548 466l64 -24M268 543q42 11 84 20M528 593l24 3M1068 593l24 -4M1388 527l44 -13M1548 475l24 -9M28 477l64 24M368 576l44 8M868 619q52 -2 104 -6M1508 499l24 -9M808 630q52 0 104 -3M988 621l24 -2M1168 597l24 -5M1108 617q52 -8 104 -19M248 576l24 7M708 648l44 2M968 643l64 -6M1528 520l44 -16M308 601q142 34 284 49M868 659l64 -3M1108 636q82 -12 164 -31M1388 575l64 -20M1468 550l44 -15M1548 522l24 -9M1588 507l24 -10M68 548l24 9M188 588l44 13M408 642l24 5M448 650l24 4M688 677q52 3 104 3M868 679l24 -1M1168 646q72 -13 144 -32M1408 588q42 -13 84 -28M8 553l64 25M88 583l44 16M228 628q92 27 184 45M428 676q62 11 124 19M588 699l44 4M708 708l24 1M948 704l44 -4M1328 639q42 -11 84 -24M1468 597q62 -21 124 -46M-12 563l44 18M108 609q62 22 124 40M288 664l44 11M488 706l24 3M668 726q62 4 124 4M1068 711q42 -5 84 -13M1228 683q42 -9 84 -20M1468 616q42 -14 84 -31M8 581q82 33 164 59M228 657l64 18M348 688l24 6M428 705l44 8M948 734l64 -6M1108 715l24 -4M1268 684l24 -7M1448 632q72 -24 144 -53M548 744l24 3M948 754l64 -6M1488 637l24 -9M388 746l24 5M428 754l24 5M468 761l64 11M568 776l44 5M668 786l64 3M768 790l64 0M868 789q92 -4 184 -16M1128 761q52 -9 104 -21M1408 693q72 -24 144 -52M1228 751l24 -5M1508 667l24 -9M68 688l64 24M188 731l24 7M248 749q72 21 144 37M588 818l24 3M1108 804l24 -4M1168 793l24 -5M1448 717l24 -9M408 799l44 9M-12 673q42 18 84 35M148 736l24 8M308 785q52 14 104 25M468 821l64 10M948 844l24 -2M1548 698l64 -28M408 819l24 5M608 850l24 3M1388 765l64 -22M208 784l44 14M848 879l64 -3M968 872l64 -7M1048 863q42 -6 84 -14M1228 829q42 -10 84 -22M8 727l64 27M208 803l64 20M348 844l44 10M528 880l64 8M868 899l44 -3M1048 883l24 -4M1308 828l24 -8M1468 775l64 -25M48 753q42 18 84 33M328 848l44 12M388 863q42 10 84 17M588 898q52 6 104 9M728 909l24 0M988 900l64 -8M1188 868l44 -11M1248 853l44 -11M1368 819q42 -13 84 -29M1508 769l44 -18M8 745l24 11M108 786l24 10M768 920q62 1 124 -3M928 915l44 -4M988 910l64 -8M1228 868l44 -11M1288 853l24 -8M1328 841l64 -20M1408 815l24 -8M28 763l24 10M268 851q52 15 104 28M428 891l44 9M508 906l24 4M648 924l24 2M888 928l24 -2M1068 909l44 -7M1128 899q42 -8 84 -18M1268 868l44 -13M1348 845l24 -8M1528 779l44 -19M1488 805l44 -18M288 895l24 7M1528 816l24 -11M268 898l24 8M648 973l24 2M1328 898l24 -8M1488 842l24 -11M508 965l24 4M948 983l24 -2M1288 920l64 -20M88 852l44 18M168 883l24 9M408 955l64 14M628 992l24 2M668 995l24 2M988 989l24 -3M1528 843l24 -11M208 916l24 9M828 1020l24 -1M1028 1004l64 -10M1268 954l44 -13M708 1048q42 2 84 2M1088 1025q42 -8 84 -18M1508 897l44 -20M328 993l24 7M408 1014l44 10M488 1031q42 8 84 14M648 1053l44 4M788 1060l24 0M928 1055l24 -2M1108 1031q72 -14 144 -34M1348 968l64 -23M588 1056l24 4M708 1068l24 1M788 1070l24 0M88 924q42 19 84 35M708 1078l44 1M1048 1061l24 -4M1208 1028l64 -18M1348 987l24 -9M1408 965q62 -23 124 -52M8 896l44 22M68 925l24 11M148 959q42 17 84 32M288 1009l64 20M488 1060q42 8 84 14M1308 1009l64 -22M1548 915l24 -12M148 968l24 10M248 1005l24 9M508 1074q42 7 84 13M1168 1057l24 -6M1228 1042l24 -7M208 1001l24 9M448 1071l24 6M688 1106q42 3 84 4M848 1109l24 -1M388 1076l44 12M788 1130q42 0 84 -2M1368 1027l24 -10M1428 1004l24 -11M-12 930l24 12M168 1013l24 10M1588 940l24 -13M1348 1090l24 -9M688 1196l24 2M948 1192l44 -5M468 1173l24 6M548 1189l24 4M608 1198l44 5M868 1208q52 -2 104 -8M1288 1129l64 -22M188 1094l44 18M988 1208l24 -4M1388 1102l24 -10M168 1104l24 11M208 1121l24 10M288 1151l24 8M728 1238l24 1M188 1122l24 10M608 1238l44 5M648 1252l24 3M208 1148l44 18M1068 1245l24 -5M1108 1236q42 -9 84 -21M1228 1205l24 -7M1008 1274l24 -4M248 1201l44 17M408 1255q42 12 84 22M1388 1185l24 -11M8 1111l44 25M1368 1230l64 -29M1548 1142l64 -38M168 1212l24 11M108 1200l24 12M-12 1148l24 15M48 1184l24 14M1568 1172l44 -27"/>
<path stroke="#ff4c00" d="M608 233q62 4 124 6M928 237q62 -4 124 -10M488 260l64 8M988 273l64 -6M1128 258q132 -19 264 -51M1428 198l44 -12M208 237l44 11M308 260q62 13 124 22M588 301q62 5 124 7M-12 267q72 25 144 46M468 386l24 4M588 400l44 4M708 408l64 2M808 410l44 -1M1468 312l64 -20M28 290q82 28 164 50M388 383q82 15 164 24M748 419l44 1M1228 379l24 -4M1288 367l64 -15M1548 297l64 -23M448 413l44 6M-12 304l24 9M108 344l24 8M188 367q52 15 104 26M408 416l24 4M508 431l44 6M828 450q52 -1 104 -4M988 442q102 -9 204 -27M1308 392l44 -10M1468 350q72 -21 144 -48M488 448l24 4M1108 448l64 -10M1348 402q52 -13 104 -28M188 396l64 17M688 477l44 2M-12 342l64 22M1248 444l44 -9M1348 422l24 -7M1568 356l44 -16M968 493l64 -6M1388 421l24 -7M308 455l24 6M688 507l24 1M1208 472l44 -9M868 539l44 -2M1088 521l24 -4M248 489l24 7M108 458l64 20M608 562q42 3 84 5M1008 560q52 -6 104 -13M1268 518l64 -15M1448 471q42 -13 84 -28M388 540l24 5M168 506l24 7M208 517l24 7M248 528l64 16M1248 552l44 -10M1408 511l44 -13M1088 590l24 -4M1528 483l24 -9M1128 604l24 -4M268 581l24 7M928 646l44 -3M1448 556l24 -8M-12 508l24 10M128 559l24 9M348 620q42 10 84 17M508 649l24 4M588 659l24 3M728 669l44 1M868 669l64 -3M1168 636l64 -13M1268 616l44 -11M1408 578q42 -12 84 -27M1548 531l64 -25M428 646l24 5M828 680l44 -1M188 597q42 13 84 24M308 630l24 6M388 648l24 5M428 656q152 28 304 33M908 687l44 -3M1128 663l24 -4M1288 630l44 -11M1448 585q52 -17 104 -37M1568 543l24 -10M228 619l24 7M288 635l44 11M908 697q72 -4 144 -13M1408 607l24 -8M1568 552l24 -10M-12 545l24 10M548 694l44 5M768 710l24 0M1588 553l24 -10M28 570l24 10M408 691l24 5M1548 587l64 -26M-12 573l24 10M168 639l64 20M368 693l64 13M1008 729l24 -3M1088 719l24 -4M1588 581l24 -10M48 606l24 9M168 648l64 20M828 750q42 -1 84 -3M948 744l24 -2M148 661l24 8M188 674l44 13M308 708l24 6M348 718q72 16 144 28M528 751l24 3M608 761q72 7 144 8M108 656l64 22M528 761l44 6M628 772l64 5M768 780l24 0M808 780l24 0M1088 758l44 -7M1188 740l24 -5M408 750l24 5M548 774l24 3M48 652l44 17M1268 742l24 -6M-12 646q42 18 84 34M148 708q62 21 124 39M368 771l24 5M648 814l24 2M808 820l44 -1M1248 766l24 -6M1568 662l44 -19M68 706q42 17 84 32M288 780l24 6M1188 809l64 -15M1528 706l24 -10M628 852l24 2M448 837l24 4M488 844q52 9 104 15M808 870l24 0M848 869l24 -1M1108 844l24 -5M1228 819l64 -16M1368 781l64 -21M788 880l24 0M828 880l24 -1M1028 865l24 -3M1508 742l44 -19M-12 709l24 11M68 743l64 25M248 806l24 8M408 848l24 5M588 878q42 5 84 8M748 889l24 1M808 890l24 0M1408 787q102 -34 204 -80M-12 718l24 11M68 752l44 18M1328 822q42 -13 84 -27M1528 752l24 -10M368 858l24 6M688 907l44 2M1228 858l24 -6M28 753l24 11M328 858l44 11M968 912l24 -3M1308 847l24 -7M1388 822l24 -8M1428 809l24 -10M388 902q62 15 124 25M668 945l24 2M708 948l64 2M1128 919l24 -5M1168 911l24 -6M1428 837l24 -10M1468 822l44 -18M-12 771l44 21M388 912l44 10M728 959l44 1M1208 921l24 -6M288 904l44 13M1348 892l24 -8M1468 850l24 -10M128 868l44 17M648 993l24 2M8 825l44 21M1008 997l24 -3M1128 978l44 -10M1268 945l24 -7M1448 885q42 -16 84 -35M1588 825l24 -12M168 902l24 9M28 852l24 12M1068 1008q42 -7 84 -16M1168 989l44 -11M1268 964q42 -12 84 -26M1528 870l24 -11M628 1031l64 6M788 1040q42 0 84 -2M1068 1018l24 -4M1128 1007l64 -14M1288 968l24 -8M1508 888l24 -11M248 968q42 14 84 26M448 1023l44 9M688 1056q52 4 104 4M808 1060l24 0M848 1059l24 -1M1408 947q52 -20 104 -43M1548 889l44 -22M1268 1012l24 -8M168 976l64 24M1188 1052l44 -11M1468 960l24 -11M1508 942l24 -11M268 1022l24 8M768 1110l24 0M1208 1057l24 -7M888 1117l44 -3M1348 1034l24 -9M668 1194l24 2M188 1113l24 10M628 1250l24 3M1088 1241l24 -6M1188 1217l24 -7M1368 1239l44 -20M1528 1161l44 -25M1588 1152l24 -16M8 1160l44 27M128 1236l44 23M88 1248l44 25M1528 1270l24 -16M1588 1232l24 -16"/>
<path stroke="#ff1a00" d="M-12 276l44 16M428 420l24 4M488 429l24 3M308 406l44 10M1128 436l44 -7M1288 436l64 -16M568 498l44 4M268 494l64 15M448 551l24 4M188 511l24 8M1148 600l24 -4M308 591l24 6M1568 515l24 -10M8 516q62 25 124 45M528 652l64 8M1228 624l44 -10M268 620l44 11M328 635l24 6M1368 609l24 -7M1408 597l24 -7M1548 550l24 -9M248 624l44 12M728 709l24 0M428 695l24 5M1028 727l64 -9M28 598l24 10M908 747l24 -2M168 667l24 8M328 713l24 6M488 745l44 7M548 754l24 3M588 759l24 2M788 780l24 0M988 771l44 -5M528 771l24 3M1248 747l24 -6M68 678l44 17M128 701l24 8M268 745l64 17M348 766l24 6M1128 801l44 -9M1468 729l24 -10M1508 714l24 -10M468 840l24 5M828 870l24 -1M1568 708l24 -11M808 880l24 0M188 787l24 8M228 800l24 8M428 852l24 5M1448 783l24 -10M1588 727l24 -12M48 762l24 10M88 778l24 10M188 825l64 21M388 883l24 5M928 925l64 -6M1408 825l24 -9M688 947l24 1M1448 829l24 -9M208 860l24 8M188 909l24 9M1148 993l24 -5M1548 862l44 -21M1108 1011l24 -5M1568 861l24 -11M828 1060l24 -1M1508 906l44 -20M728 1068l24 1M768 1070l24 0M1328 993l24 -8M108 942l44 19M248 996l24 8M448 1052l44 9M708 1087l44 2M768 1090l64 0M1008 1076l24 -3M1408 974q52 -19 104 -43M228 998l24 9M1488 951l24 -11M228 1008l44 15M788 1110l24 0M828 1110l24 -1M1168 1067l24 -6M1368 1082l24 -9M488 1178l24 5M528 1186l24 4M1208 1211l24 -7M88 1189l24 13M28 1245l24 16M1508 1282l24 -15"/>
<path stroke="#e50000" d="M448 423l44 6M408 544l44 8M288 587l24 6M348 640l44 9M748 709l24 1M448 699l44 7M928 746l24 -2M568 756l24 3M108 693l24 9M328 761l24 6M1488 721l24 -9M208 794l24 8M1408 797l44 -16M1548 744l24 -11M68 770l24 10M68 779l24 11M168 818l24 9M988 920l64 -8M1088 1015l24 -5M1528 879l24 -11M748 1069l24 1M1288 1006l24 -8M968 1081l24 -3M808 1110l24 0M1188 1062l24 -6M188 1021l44 17M508 1182l24 4"/>
<path stroke="#b30000" d="M1388 603l24 -7M1508 732l24 -10M1548 716l24 -10M1568 735l24 -11M88 788q42 17 84 32M1168 930l44 -10M1548 871l24 -12M1308 1000l24 -8M988 1079l24 -3"/>
<path stroke="#800000" d="M1528 724l24 -10"/>
</g></g>
<!-- heatmap b2 -->
<line x1="477.50" y1="275.50" x2="498.00" y2="275.50" stroke="#8a8a8a" stroke-width="0.7"/>
<line x1="477.50" y1="400.75" x2="498.00" y2="400.75" stroke="#8a8a8a" stroke-width="0.7"/>
<line x1="498.00" y1="400.75" x2="498.00" y2="428.00" stroke="#8a8a8a" stroke-width="0.7"/>
<line x1="658.00" y1="400.75" x2="658.00" y2="428.00" stroke="#8a8a8a" stroke-width="0.7"/>
<line x1="485.50" y1="278.50" x2="485.50" y2="397.75" stroke="#33262a" stroke-width="1.0"/>
<path d="M485.50 275.50l-1.9 7.2h3.8ZM485.50 400.75l-1.9 -7.2h3.8Z" fill="#33262a"/>
<rect x="475.50" y="305.00" width="19.50" height="66.00" fill="#ececec" stroke="none" stroke-width="1"/>
<text x="488.75" y="338.00" font-size="9.85" fill="#111" stroke="#111" text-anchor="middle" transform="rotate(-90 488.75 338.00) matrix(1 0 0 1.12 0 -40.140)">944.732 µm</text>
<line x1="501.00" y1="417.50" x2="655.00" y2="417.50" stroke="#33262a" stroke-width="1.0"/>
<path d="M498.00 417.50l7.2 -1.9v3.8ZM658.00 417.50l-7.2 -1.9v3.8Z" fill="#33262a"/>
<rect x="543.75" y="408.25" width="71.75" height="19.25" fill="#ececec" stroke="none" stroke-width="1"/>
<text x="579.62" y="421.37" font-size="9.85" fill="#111" stroke="#111" text-anchor="middle" transform="matrix(1 0 0 1.12 0 -50.145)">1 259.642 µm</text>
<text x="578.50" y="271.75" font-size="9.85" fill="#e3001c" stroke="#e3001c" text-anchor="middle" transform="matrix(1 0 0 1.12 0 -32.190)">Sa: 61.471 nm</text>
<text x="672.25" y="271.75" font-size="9.85" fill="#111" stroke="#111" text-anchor="middle" transform="matrix(1 0 0 1.12 0 -32.190)">Unit: nm</text>
<rect x="663.00" y="280.50" width="9.50" height="120.00" fill="url(#jet)" stroke="#6b5a5a" stroke-width="0.35"/>
<path d="M663.00 380.08h1.2M672.50 380.08h-1.2M663.00 360.17h1.2M672.50 360.17h-1.2M663.00 340.25h1.2M672.50 340.25h-1.2M663.00 320.33h1.2M672.50 320.33h-1.2M663.00 300.42h1.2M672.50 300.42h-1.2" stroke="#222" stroke-width="0.5" opacity="0.6"/>
<text x="676.00" y="404.00" font-size="9.85" fill="#111" stroke="#111" text-anchor="start" transform="matrix(1 0 0 1.12 0 -48.060)">0</text>
<text x="676.00" y="384.10" font-size="9.85" fill="#111" stroke="#111" text-anchor="start" transform="matrix(1 0 0 1.12 0 -45.672)">100</text>
<text x="676.00" y="364.20" font-size="9.85" fill="#111" stroke="#111" text-anchor="start" transform="matrix(1 0 0 1.12 0 -43.284)">200</text>
<text x="676.00" y="344.30" font-size="9.85" fill="#111" stroke="#111" text-anchor="start" transform="matrix(1 0 0 1.12 0 -40.896)">300</text>
<text x="676.00" y="324.40" font-size="9.85" fill="#111" stroke="#111" text-anchor="start" transform="matrix(1 0 0 1.12 0 -38.508)">400</text>
<text x="676.00" y="304.50" font-size="9.85" fill="#111" stroke="#111" text-anchor="start" transform="matrix(1 0 0 1.12 0 -36.120)">500</text>
<text x="676.00" y="284.60" font-size="9.85" fill="#111" stroke="#111" text-anchor="start" transform="matrix(1 0 0 1.12 0 -33.732)">600</text>
<clipPath id="cpb2"><rect x="0" y="0" width="160.00" height="125.25"/></clipPath>
<g transform="translate(498.00 275.50)" clip-path="url(#cpb2)">
<rect x="0" y="0" width="160.00" height="125.25" fill="#ffe500"/>
<g transform="scale(0.1)" fill="none" stroke-width="14" filter="url(#hb)">
<path stroke="#b3ff4c" d="M370 -21q620 227 1240 134M-10 20q810 425 1620 303M-10 1170q110 58 220 106"/>
<path stroke="#e5ff1a" d="M870 -20q370 59 740 3M810 -20q400 73 800 13M550 -22q530 155 1060 75M530 -17q540 161 1080 80M390 -23q610 218 1220 126M350 -18q630 236 1260 141M310 -23q650 254 1300 156M70 -19q770 378 1540 262M50 -19q780 389 1560 272M30 -19q790 401 1580 282M10 -19q800 412 1600 292M-10 30q810 425 1620 303M-10 50q810 425 1620 303M-10 60q810 425 1620 303M-10 70q810 425 1620 303M-10 80q810 425 1620 303M-10 110q810 425 1620 303M-10 130q810 425 1620 303M-10 220q810 425 1620 303M-10 230q810 425 1620 303M-10 280q810 425 1620 303M-10 300q810 425 1620 303M-10 460q810 425 1620 303M-10 540q810 425 1620 303M-10 550q810 425 1620 303M-10 570q810 425 1620 303M-10 600q810 425 1620 303M-10 620q810 425 1620 303M-10 640q810 425 1620 303M-10 650q810 425 1620 303M-10 670q810 425 1620 303M-10 680q810 425 1620 303M-10 690q810 425 1620 303M-10 940q810 425 1620 303M1430 1273q90 -7 180 -20M1530 1273q40 -4 80 -10M-10 980q420 220 840 294M-10 1020q320 168 640 250M-10 1090q210 110 420 184M-10 1100q190 100 380 169M-10 1110q180 95 360 162M-10 1160q120 63 240 114M-10 1190q80 42 160 79M-10 1250l40 21"/>
<path stroke="#ffe500" d="M1030 -20q220 20 440 0M750 -22q430 90 860 25M710 -20q450 101 900 33M670 -20q470 114 940 43M590 -20q510 140 1020 63M490 -20q560 177 1120 93M450 -23q580 193 1160 106M430 -19q590 201 1180 112M290 -21q660 263 1320 164M270 -19q670 273 1340 172M250 -18q680 283 1360 181M230 -16q690 293 1380 189M190 -23q710 313 1420 206M130 -20q740 344 1480 233M-10 -20q810 425 1620 303M-10 -10q810 425 1620 303M-10 40q810 425 1620 303M-10 90q810 425 1620 303M-10 100q810 425 1620 303M-10 180q810 425 1620 303M-10 190q810 425 1620 303M-10 200q810 425 1620 303M-10 210q810 425 1620 303M-10 240q810 425 1620 303M-10 250q810 425 1620 303M-10 260q810 425 1620 303M-10 290q810 425 1620 303M-10 310q810 425 1620 303M-10 320q810 425 1620 303M-10 330q810 425 1620 303M-10 340q810 425 1620 303M-10 360q810 425 1620 303M-10 370q810 425 1620 303M-10 380q810 425 1620 303M-10 390q810 425 1620 303M-10 440q810 425 1620 303M-10 450q810 425 1620 303M-10 470q810 425 1620 303M-10 490q810 425 1620 303M-10 500q810 425 1620 303M-10 510q810 425 1620 303M-10 530q810 425 1620 303M-10 560q810 425 1620 303M-10 590q810 425 1620 303M-10 610q810 425 1620 303M-10 630q810 425 1620 303M-10 660q810 425 1620 303M-10 700q810 425 1620 303M-10 710q810 425 1620 303M-10 720q810 425 1620 303M-10 730q810 425 1620 303M-10 750q810 425 1620 303M-10 760q810 425 1620 303M-10 770q810 425 1620 303M-10 810q810 425 1620 303M-10 820q810 425 1620 303M-10 830q810 425 1620 303M-10 840q810 425 1620 303M-10 850q810 425 1620 303M-10 870q810 425 1620 303M-10 880q810 425 1620 303M-10 890q810 425 1620 303M-10 900q810 425 1620 303M-10 910q810 425 1620 303M-10 930q810 425 1620 303M-10 950q530 278 1060 322M-10 960q480 252 960 311M-10 990q390 205 780 282M-10 1000q370 194 740 274M-10 1010q340 179 680 260M-10 1030q300 158 600 240M-10 1060q250 131 500 210M-10 1080q220 116 440 191M-10 1120q170 89 340 154M-10 1150q130 68 260 122M-10 1180q100 53 200 97M-10 1240l60 31M-10 1260l20 11"/>
<path stroke="#ffb300" d="M930 -21q310 41 620 2M630 -20q490 127 980 53M170 -22q720 323 1440 215M150 -21q730 334 1460 224M110 -20q750 356 1500 243M90 -19q760 366 1520 252M-10 0q810 425 1620 303M-10 10q810 425 1620 303M-10 120q810 425 1620 303M-10 140q810 425 1620 303M-10 150q810 425 1620 303M-10 160q810 425 1620 303M-10 170q810 425 1620 303M-10 270q810 425 1620 303M-10 350q810 425 1620 303M-10 400q810 425 1620 303M-10 410q810 425 1620 303M-10 420q810 425 1620 303M-10 430q810 425 1620 303M-10 480q810 425 1620 303M-10 520q810 425 1620 303M-10 580q810 425 1620 303M-10 740q810 425 1620 303M-10 780q810 425 1620 303M-10 790q810 425 1620 303M-10 800q810 425 1620 303M-10 860q810 425 1620 303M-10 920q810 425 1620 303M-10 970q450 236 900 303M-10 1040q290 152 580 234M-10 1050q270 142 540 223M-10 1070q240 126 480 204M-10 1130q150 79 300 139M-10 1140q140 74 280 131M-10 1200q70 37 140 70M-10 1210q60 32 120 60M-10 1220q50 27 100 51M-10 1230q40 21 80 41"/>
<path stroke="#000080" d="M648 395l44 11M128 618l64 30M1408 995l24 -2M128 828l44 21M948 1231l24 3"/>
<path stroke="#0000b2" d="M628 390l24 6M268 650l24 10M108 609l24 12M1428 993l24 -2M928 1229l24 3M968 1234l24 2"/>
<path stroke="#0000e6" d="M1548 161l24 -3M868 300l24 4M688 405l24 5M288 658l24 10M188 646l24 11M1308 879l44 -1M1388 996l24 -2M108 819l24 12M168 847l24 11M908 1176l64 8"/>
<path stroke="#001aff" d="M768 122l44 8M1528 154l24 -3M1528 164l24 -3M1568 159l24 -4M848 297l24 4M888 303l24 4M148 98l64 29M528 332l64 18M928 419l24 3M268 250l24 10M608 385l24 6M1028 750l44 4M248 641l24 11M1368 857l24 -1M608 785l24 6M1348 868l44 -2M88 599l24 12M1368 897l44 -3M1168 939l44 1M1028 990l44 4M1448 992l24 -3M928 1009l44 5M888 1093l44 6M1548 1161l24 -3M888 1173l24 4M128 958l44 21M908 1226l24 3M988 1236l24 2"/>
<path stroke="#004dff" d="M808 130l24 4M1508 156l24 -3M1548 151l24 -3M308 6l24 9M1328 329l24 -1M368 178l44 17M128 88l24 12M328 173l44 17M1548 411l24 -3M508 326l24 7M588 349l24 7M248 241l24 11M288 258l24 10M888 423l44 6M1528 654l64 -9M1008 748l24 2M1068 753l24 2M308 666l24 9M1388 856l24 -2M588 779l24 7M628 790l24 6M1328 869l24 -1M1388 866l24 -2M1288 880l24 -1M1348 878l24 -1M1408 895l24 -2M1148 938l24 1M1208 940l24 0M1348 968l44 -2M1428 983l44 -4M1068 993l24 2M968 1014l24 2M268 850l44 18M848 1027l44 7M108 829l44 21M1528 1164l24 -3M1568 1159l24 -4M888 1163l24 4M968 1184l24 2M768 1192l24 5M308 1076l44 17"/>
<path stroke="#0080ff" d="M1568 19l24 -4M968 114l44 4M468 33l64 20M808 120l64 11M748 118l24 5M828 133l24 4M1488 158l24 -3M1588 156l24 -4M268 -10l44 18M328 13l24 10M428 110l44 15M388 106l44 15M388 176l24 9M908 306l24 3M1308 329l24 0M1348 328l24 -1M348 171l24 9M408 193l24 8M108 79l24 12M208 124l24 11M308 166l24 9M368 188l24 10M1388 346l44 -3M428 220l44 15M868 350l64 9M1528 414l24 -3M1568 409l24 -4M608 355l24 6M888 413l44 6M948 421l24 3M308 266l24 9M648 385l44 11M848 427l64 10M148 288l24 11M368 448l44 17M1248 660l64 -1M1508 656l24 -3M348 521l24 9M988 746l24 2M1088 755l24 1M628 700l44 11M588 769l24 7M1348 858l24 -1M1408 855l24 -2M1308 869l24 0M1408 865l24 -2M68 590l24 12M208 654l24 11M1348 898l24 -1M1368 907l24 -1M648 845l24 6M1228 940l24 0M1348 958l44 -2M1328 969l24 -1M1388 966l24 -2M1408 985l24 -2M1468 980l24 -2M1008 988l24 2M1368 997l24 -1M908 1006l24 3M248 841l24 11M308 866l24 9M88 809l24 12M188 856l24 11M88 819l24 12M148 848l24 11M908 1086l24 3M1588 1156l24 -4M868 1160l24 4M908 1166l24 3M868 1170l24 4M728 1184l44 9M788 1196l24 4M288 1068l24 10M348 1091l24 9M308 1086l24 9"/>
<path stroke="#00b2ff" d="M1588 16l24 -4M1048 102l44 3M948 111l24 3M1008 118l24 2M968 124l64 6M448 26l24 9M528 52l44 13M868 130l24 4M728 114l24 5M1568 149l24 -4M1508 166l24 -3M248 -19l24 11M408 103l24 8M428 120l24 8M-12 -11l24 13M368 168l24 10M408 183l24 8M828 293l24 4M328 163l24 10M428 200l24 8M1428 343l24 -2M408 213l24 8M468 233l24 8M1428 353l44 -4M1348 368q82 -3 164 -13M848 347l24 4M928 359l24 3M1128 377l64 2M1508 416l24 -3M488 320l24 7M868 410l24 4M228 233l24 11M868 420l24 4M308 276l44 17M628 380l24 6M688 395l24 5M908 436l24 3M88 249l44 22M128 278l24 12M928 529l44 5M668 490l24 6M348 441l24 9M408 463l24 8M1228 660l24 0M1488 658l24 -3M368 528l24 10M768 652l44 8M648 635l44 11M968 744l24 2M1108 756l24 1M1408 765l64 -6M668 710l24 6M1568 759l44 -7M168 587l64 28M228 633l24 11M608 775l24 6M648 795l24 6M308 696l44 17M1428 893l24 -2M1348 908l24 -1M1388 906l24 -2M628 840l24 6M1128 937l24 1M1248 940l24 0M1328 959l24 -1M1388 956l24 -2M1308 969l24 0M1388 986l24 -2M1468 990l24 -2M988 1016l24 2M288 868l44 17M1308 1059l64 -2M148 818q42 19 84 37M288 878l24 10M148 828l24 11M68 810l24 12M168 857l24 11M888 1083l24 4M928 1089l24 3M928 1169l24 3M848 1167l24 4M988 1186l24 2M1208 1220l44 0M708 1179l24 6M808 1200l44 7M888 1223l24 4M268 1060l24 10M288 1078l24 10M328 1093l24 10M728 1224l64 13M448 1246l44 15"/>
<path stroke="#00e5ff" d="M1548 21l24 -3M448 -24l24 9M1028 100l24 2M1088 105l24 1M1588 96l24 -4M948 121l24 3M1028 130l24 2M568 64l24 6M788 116l24 4M888 133l24 4M848 137l24 4M1468 160l24 -2M348 21l24 9M508 76q42 13 84 24M428 70l44 15M168 -23l24 11M408 73l44 15M468 123l24 8M1368 247l44 -3M368 98l24 10M8 -1l24 13M1328 319l24 -1M348 161l24 9M428 190l24 8M928 309l24 3M148 88l64 29M88 69l24 12M228 133l24 11M288 158l24 10M388 196l24 9M388 206l24 9M488 240l24 7M1388 356l44 -3M1468 350l24 -2M1328 369l24 -1M1508 356l24 -3M948 361l24 3M1168 389l44 1M608 325l44 11M888 393l24 4M1488 418l24 -3M1588 406l24 -4M468 313l24 8M628 360l24 6M328 273l24 10M928 429l24 3M608 375l24 6M828 423l24 4M588 379l24 7M708 409l24 6M28 220l64 32M128 268l24 12M888 503l64 9M168 297l24 11M968 534l24 2M448 426l24 9M648 485l24 6M108 299l44 21M708 509l24 6M188 366q42 18 84 36M388 466l44 15M1268 650l64 -1M1308 659l24 0M1588 646l24 -4M428 540l64 21M328 513l24 10M748 648l24 5M628 630l24 6M688 645l44 10M1468 760l24 -2M-12 449l24 13M608 695l24 6M688 715l24 5M1548 761l24 -3M1588 766l24 -4M228 613l24 11M508 726l64 19M568 764l24 6M1428 853l24 -2M108 599l44 21M568 774l24 6M1428 863l24 -2M48 580l24 12M228 663l24 11M288 688l24 10M1268 880l24 0M1368 877l24 -1M188 666l44 19M1328 899l24 -1M1328 909l24 -1M1408 905l24 -2M668 850l24 6M1268 940l24 0M1328 949l24 -1M1308 959l24 0M1268 970l44 -1M1048 982l24 2M1288 990l44 -1M1368 987l24 -1M1488 978l24 -3M1088 995l24 1M228 833l24 11M248 851l44 19M328 883l24 10M128 808l24 12M228 853l64 27M308 886l24 9M128 818l24 12M168 837l24 11M188 866l24 11M948 1091l24 3M348 951q42 16 84 30M1328 1129l44 -2M108 869l64 30M1508 1166l24 -3M-12 859l24 13M848 1157l24 4M1548 1171l64 -9M108 969l24 12M848 1207l24 4M888 1213q42 6 84 11M1008 1238l24 2M1328 1249q52 -2 104 -6M368 1098l24 10M268 1070l24 10M348 1101l24 9M788 1236l24 4M428 1240l24 8M488 1260l24 7M68 1210l44 21"/>
<path stroke="#1affe5" d="M1028 -20l44 4M1588 76l24 -4M1008 98l24 2M1568 89l44 -7M548 18l44 12M1048 132l24 2M348 -19l24 9M428 20l24 8M908 136l24 3M1588 146l24 -4M588 99l44 12M188 -14l24 11M448 86l24 9M628 140l64 16M308 56l44 17M388 96l24 9M1348 248l24 -1M1408 245l24 -2M348 91l24 9M448 126l24 9M28 10l24 12M1308 319l24 0M1348 318l24 -1M1588 296l24 -4M1088 325l44 2M1368 327l24 -1M128 78l24 12M308 156l24 9M448 206l24 9M1348 338l64 -4M248 141l44 19M1368 347l24 -1M1448 342l24 -3M508 246l24 7M1368 357l24 -1M828 343l24 4M968 364l24 2M1108 376l24 1M1188 379l24 1M1148 388l24 1M588 319l24 7M648 335l24 6M868 390l24 4M908 396l24 3M848 407l24 4M968 424l24 2M848 417l24 4M288 268l24 10M348 291l24 9M508 346l44 13M568 364l44 12M708 399l24 6M808 420l24 4M268 290l44 18M148 278l24 11M588 439l44 12M808 490q42 7 84 14M948 511l24 3M108 269l24 12M828 503q62 11 124 19M908 526l24 3M988 536l24 2M428 420l24 8M468 433l24 8M688 495l24 5M1188 559q42 1 84 1M88 289l24 12M148 318l24 11M688 505l24 5M268 400l24 10M328 433l24 10M428 470l24 8M368 458l24 10M428 480l24 8M1528 604l44 -6M1248 650l24 0M1328 649l24 -1M1208 660l24 0M128 408l44 21M508 556l64 19M1468 660l24 -2M408 533l24 8M488 560l24 7M388 536l24 9M728 644l24 5M808 660l24 4M728 654l24 5M948 741l24 3M1128 757l24 1M1388 766l24 -2M8 459l24 13M588 689l24 7M1528 764l24 -3M-12 459l24 13M1568 769l24 -4M148 578l24 11M248 621l24 11M208 614l64 28M328 673l24 10M808 810l44 7M1328 859l24 -1M1528 844l24 -3M148 618l24 11M668 800l24 6M1288 870l24 -1M1448 862l24 -3M248 671l44 19M348 711l24 9M1328 889l44 -2M168 657l24 11M228 683l24 11M1308 909l24 0M608 835l24 6M128 688l44 21M1148 948l44 1M1308 949l24 0M1348 948l44 -2M1408 955l24 -2M1248 970l24 0M1408 965l24 -2M1248 980l44 0M1028 980l24 2M1068 983l24 2M1248 990l44 0M1328 989l44 -2M768 952l64 12M988 986l24 2M1348 998l24 -1M1488 988l24 -3M1008 1018l24 2M328 873l24 10M488 930l44 13M228 843l24 11M1288 1060l24 -1M328 893l24 10M1148 1068l24 1M188 846l24 11M68 800l24 12M48 800l24 12M868 1080l24 4M1208 1110q42 0 84 0M1308 1109l24 0M328 943l24 10M428 980l24 8M1368 1127l24 -1M88 859l24 12M548 1068l24 7M-12 849l24 13M8 869l24 13M1508 1176l44 -5M828 1163l24 4M928 1189l44 5M1248 1220l24 0M808 1190l24 4M88 959l24 12M688 1175l24 5M868 1210l24 4M968 1224l24 2M388 1096l44 15M1308 1249l24 0M1428 1243l44 -4M248 1051l24 11M388 1106l24 9M248 1061l24 11M708 1219l24 6M728 1254l44 9M88 1079l24 12M108 1099l24 12M408 1233l24 8M508 1266l24 7"/>
<path stroke="#4dffb2" d="M1068 -17l24 2M1268 0l64 -1M668 -20l24 6M528 -18l24 7M968 94l44 4M1108 106l24 1M1548 91l24 -3M528 12l24 7M588 29l24 7M948 101q62 8 124 13M928 109l24 3M1028 120l24 2M928 119l24 3M1068 133l24 2M588 69l24 7M768 112l24 5M928 139l24 3M708 109l24 6M488 70l24 7M628 110l24 6M408 63l24 8M468 83l24 8M468 93l24 8M608 135l24 6M988 206l24 2M408 83l24 8M288 48l24 10M1188 239l44 1M1488 288l44 -5M448 196l24 9M808 290l24 4M1068 323l24 2M1128 327l24 1M1288 330l24 -1M108 69l24 12M208 114l24 11M1328 339l24 -1M368 198l24 10M988 346l24 2M1348 358l24 -1M1488 348l24 -3M768 322q52 10 104 19M1308 369l24 0M1528 354l24 -3M1088 375l24 1M1508 366l24 -3M1208 390l24 0M548 308l44 12M488 300l44 13M-12 99l24 13M1468 420l24 -2M448 306l24 9M828 403l24 4M208 224l24 11M348 281l24 9M948 431l24 3M268 260l24 10M488 340l24 7M548 358l24 7M928 439l24 3M628 400l64 16M248 281l24 11M308 306l24 9M1568 469l44 -7M248 291l44 19M668 430l64 15M1108 496l44 2M8 209l24 13M168 287l24 11M568 434l24 6M628 450l24 6M788 486l24 4M968 514l24 2M508 426l44 13M948 521l24 3M628 480l24 6M1168 559l24 0M1268 560l24 0M168 327l24 11M728 514l24 5M588 489l44 12M1208 580l24 0M168 357l24 11M288 408l24 10M908 576l44 6M1508 606l24 -3M1568 599l24 -4M1228 650l24 0M1348 648l24 -1M1188 659l24 1M1328 659l24 -1M-12 339l24 13M168 427l44 20M128 418l24 12M308 506l24 9M608 625l24 6M748 658l24 5M1108 736l24 1M928 729l64 7M928 739l24 3M648 695l24 6M1488 758l24 -3M628 710q52 13 104 25M148 548q42 19 84 37M1408 825l64 -6M268 640l24 10M488 720l24 7M568 744l24 6M208 624l24 11M788 806l24 4M848 817l24 4M628 780l24 6M1448 852l24 -3M1508 846l24 -3M1548 841l24 -3M1468 860q42 -4 84 -9M688 815l64 14M1388 876l24 -2M108 619q42 20 84 39M1308 889l24 0M1368 887l24 -1M148 648l24 11M248 691l24 11M848 867l44 7M1448 892l24 -3M848 877l44 7M1428 903l24 -2M688 855l24 5M1288 920l24 -1M608 845q42 11 84 21M1108 936l24 1M108 679l24 12M168 707l24 11M1188 949l24 1M1288 950l24 -1M1388 946l44 -3M288 768l44 17M588 869l44 12M1048 972l24 2M1228 980l24 0M1288 980l24 -1M1088 985l24 1M1228 990l24 0M1168 999l24 0M728 954l24 5M888 1003l24 4M208 824l24 11M208 834l24 11M348 891l24 9M1368 1057l24 -1M108 799l24 12M648 995l44 11M1128 1067l24 1M1168 1069l24 0M108 809l24 12M208 854q62 28 124 51M208 864l24 11M208 874l24 11M888 1073l44 6M428 970l44 15M968 1094l24 2M1148 1108l64 2M1288 1110l24 -1M1328 1109l44 -2M308 936l24 9M1308 1129l24 0M68 850l24 12M168 897l24 11M1468 1140l44 -5M428 1020l24 8M528 1062l24 7M568 1074l24 6M28 880l24 12M948 1171l24 3M908 1186l24 3M968 1194l24 2M1188 1219l24 1M768 1182l44 8M828 1193l24 4M128 978l24 12M368 1088l24 10M428 1110l44 15M868 1220l24 4M1468 1240l24 -2M368 1108l24 10M868 1240l44 7M688 1215l24 5M808 1240l24 4M708 1249l24 6M768 1262l24 5M68 1070l24 12M108 1089l24 12M88 1089l24 12M128 1108l24 12M48 1200l24 12M108 1229l24 12"/>
<path stroke="#80ff80" d="M1328 -1l24 -1M1348 8l24 -1M1148 18l44 1M688 -15l24 5M1328 69q42 -2 84 -5M1228 80l44 0M548 -12l44 12M768 52l24 5M1568 79l24 -4M468 -17l24 8M948 91l24 3M1528 94l24 -3M1068 113l24 2M1568 99l24 -4M388 -24l44 15M608 45q42 11 84 21M368 -22l44 17M628 60l64 16M368 -12l24 10M408 3l64 22M1128 157l44 2M1448 162l24 -3M1488 168l24 -3M648 115l24 6M1148 188l44 1M1568 169l44 -7M528 92l24 7M1188 199l44 1M488 100l24 7M688 155l24 5M968 204l24 2M1008 208l24 2M488 130l24 7M628 170l64 16M728 194l24 5M1228 250l24 0M1328 249l24 -1M328 83l24 10M648 185l24 6M328 93l64 25M1468 290l24 -2M1528 284l24 -3M48 20l24 12M848 287l44 7M1288 320l24 -1M1368 317l64 -4M328 153l24 10M948 311l24 3M1048 322l24 2M1528 324l44 -6M408 203l24 8M1308 349l64 -2M1468 340l44 -5M528 252l24 7M968 344l24 2M1008 348l24 2M1508 346l44 -5M728 314l44 9M868 340l24 4M1548 351l24 -3M568 284l44 12M748 328q42 9 84 16M1528 364l24 -3M168 147l24 11M1128 387l24 1M1228 390l24 0M1308 399q42 -1 84 -3M1468 390l44 -5M668 340l24 6M468 293l24 8M528 312l24 7M848 387l24 4M928 399l24 3M208 204l44 20M1448 422l24 -3M648 365l24 6M1168 439l24 0M368 288q42 16 84 30M828 413l24 4M728 404l24 5M688 415l24 5M-12 159l24 13M108 219q72 34 144 65M1548 471l24 -3M228 283l24 11M288 308l24 10M728 444l24 5M1088 495l24 1M1148 498l24 1M248 301l24 11M528 402l44 13M1168 509l44 1M548 428l24 7M648 455l24 6M768 482l24 5M488 420l24 7M808 500l24 4M1148 558l24 1M188 336l64 28M668 500l24 6M628 500l24 6M1188 579l24 1M1228 580l24 0M148 338l64 29M1108 586l64 3M108 339l64 30M348 451l24 9M448 486l24 9M288 438l44 17M428 490q52 18 104 33M428 510l44 15M1208 650l24 0M1368 647l24 -1M228 443q62 27 124 50M528 552q42 13 84 24M108 399l24 12M488 550l24 7M568 574l24 6M1448 662l24 -3M108 409l24 12M148 428l24 11M508 566l24 7M708 639l24 6M828 663l24 4M1368 697l24 -1M768 662l44 8M1328 729l44 -2M68 450l44 21M1088 735l24 1M1288 750l24 -1M1228 760l24 0M628 690l24 6M1108 766l24 1M1508 756l44 -5M568 684l24 6M708 719l24 6M828 743l24 4M608 705l24 6M728 734l24 5M1548 771l24 -3M128 538l24 12M248 601l24 11M268 630l24 10M1388 826l24 -2M1468 820l24 -2M188 606l24 11M708 779l44 10M1388 836l24 -2M1568 819l24 -4M1368 847l44 -3M1308 859l24 0M1468 850l44 -5M688 805l24 5M808 830l24 4M668 810l24 6M748 828l24 5M68 600l44 21M188 656l24 11M368 728l24 10M1388 886l24 -2M128 638l24 12M268 700l24 10M888 873l24 4M828 873l24 4M588 829l24 7M1308 919l44 -1M588 839l24 7M688 865l24 5M1248 930l44 0M988 926l24 2M1288 940l24 -1M88 669l24 12M1128 947l24 1M1428 943l44 -4M328 783l24 10M568 864l24 6M628 880l24 6M1288 960l24 -1M808 930l64 11M1228 970l24 0M1028 970l24 2M1068 973l24 2M1308 979l24 0M1368 977l24 -1M1008 978l24 2M1128 997l44 2M1188 999l44 1M1108 1006q52 3 104 4M1028 1020l24 2M1128 1027q42 2 84 3M468 923l24 8M528 942l24 7M1428 1043l44 -4M608 985l44 11M688 1005l44 10M328 903l24 10M708 1019l44 10M408 963l24 8M468 983l44 14M728 1054l44 9M848 1077l24 4M988 1096l24 2M1108 1106l44 2M1368 1107l24 -1M448 986l24 9M488 1010l24 7M1388 1126l24 -2M288 948l44 17M1328 1139q42 -2 84 -5M1268 1150q52 -1 104 -3M1508 1136l24 -3M408 1013l24 8M448 1026l24 9M588 1079l24 7M1488 1168l24 -3M168 947l24 11M828 1153l24 4M1488 1178l24 -3M808 1160l24 4M1008 1188l24 2M408 1063l44 15M888 1183l24 4M348 1061l44 17M848 1197l24 4M1208 1230q42 0 84 0M988 1226l24 2M328 1073l44 17M468 1123l24 8M1288 1250l24 -1M1488 1238l24 -3M408 1113q52 18 104 34M928 1239q42 5 84 9M1488 1248l24 -3M1428 1263q42 -3 84 -8M688 1245l24 5M68 1080l24 12M8 1059l44 23M388 1226l24 9M188 1196l44 19M48 1190l44 22"/>
<path stroke="#b3ff4c" d="M1088 -15l24 1M1248 0l24 0M1348 -2l24 -1M1528 -16l24 -3M1308 9l44 -1M1548 -9l44 -6M1328 19q82 -3 164 -11M708 -21l24 6M768 -8q42 8 84 15M1528 24l24 -3M728 -6l64 13M1148 68l44 1M1408 65l24 -2M1268 80l44 -1M1408 75q52 -4 104 -10M1588 56l24 -4M1308 99l44 -1M928 89l24 3M1268 110q42 0 84 -2M1428 103q42 -3 84 -8M608 35q42 11 84 21M928 99l24 3M1088 115l24 1M1408 115q42 -3 84 -7M428 -10l24 8M588 39l24 7M688 65l44 10M788 86l64 11M1408 125q42 -3 84 -7M1548 111l44 -6M748 98q62 13 124 23M1188 149l44 1M408 13l24 8M688 95q42 9 84 18M948 141l24 3M1108 156l24 1M1168 159l24 0M1508 146l24 -3M688 105l24 5M868 140l64 9M468 63l24 8M668 120l24 6M1128 187l24 1M468 73l64 20M548 98l44 12M1248 200l24 0M208 -16l24 11M388 56l24 9M608 125q42 11 84 21M368 58l44 17M588 129l24 7M948 201l24 3M1368 217l64 -4M168 -13q52 23 104 45M308 46q52 20 104 39M428 90l24 8M148 -12q72 33 144 62M348 71l24 9M728 184q42 9 84 16M1168 239l24 0M288 58q42 17 84 32M608 165l24 6M688 185l44 10M748 198l24 5M1208 250l24 0M468 133l44 14M628 180l24 6M668 190l24 6M128 8l44 21M228 53q52 22 104 42M388 116q62 22 124 41M708 209l44 10M1508 256q52 -6 104 -14M128 18q52 25 104 47M348 111l24 9M1068 273l44 3M1248 280l44 0M428 150l44 15M1048 282l64 4M1308 299l44 -1M1448 292l24 -3M1548 281l64 -9M48 10l64 31M1368 307l24 -1M1428 313l24 -2M1568 299l24 -4M1388 326q82 -5 164 -15M288 148l24 10M468 213l24 8M1408 335l24 -2M1488 328l44 -5M1568 319l24 -4M-12 29l44 23M348 191l24 9M1028 350l24 2M1308 359l24 0M1548 341l64 -9M468 243l44 14M888 343l24 4M1168 369q72 2 144 0M1568 349l24 -4M348 211l64 24M528 272l44 13M608 295q72 19 144 34M1068 373l24 2M1208 380l24 0M1268 380q52 -1 104 -3M1448 372l44 -4M308 206q52 20 104 39M788 346q42 8 84 15M1408 385l64 -6M128 138q52 25 104 47M288 208q42 17 84 32M848 367q42 7 84 12M1008 388l64 6M1188 399q62 2 124 0M1388 396q42 -3 84 -7M1508 386l64 -8M348 241l44 17M888 383l44 6M1188 409q102 3 204 -3M608 335l64 16M1148 418l64 2M1248 420q52 0 104 -2M548 328l24 7M928 409l24 3M1428 423l24 -2M428 300l24 8M768 392l64 12M448 316l64 21M628 370l44 11M1088 445q42 2 84 4M1348 448q42 -2 84 -5M248 251l24 11M468 333l24 8M1148 458l64 2M568 374l24 6M1168 469l64 1M1268 470l44 -1M68 190l24 12M568 384l64 17M68 200l44 21M328 313l24 10M528 382q92 28 184 48M188 266l44 19M488 380q42 13 84 25M228 293l24 11M268 310l24 10M1148 508l24 1M1208 510l44 0M668 460l24 6M28 230q42 21 84 41M348 371q52 20 104 37M968 524l44 4M108 279q42 20 84 39M408 403l64 22M48 260l24 12M108 289l64 30M588 469l24 7M1128 557l24 1M1288 560l24 -1M748 518l24 5M128 318q42 20 84 39M648 505l24 6M1168 579l24 0M108 319l44 21M208 364l24 11M568 494l24 6M128 338l44 21M1568 579l24 -4M-12 279q62 33 124 62M168 367q42 19 84 37M448 476l24 9M828 573l64 11M1508 596q52 -6 104 -14M1488 608l24 -3M408 483l24 8M528 522q52 16 104 29M848 597q52 8 104 15M988 616q42 4 84 8M1448 622l44 -4M468 513q42 14 84 26M848 607q62 10 124 17M988 626q42 4 84 8M468 523l24 8M908 626l24 3M988 636q52 6 104 9M208 434l24 11M508 546l24 7M1348 658l24 -1M208 444l64 28M88 399l24 12M188 446l44 19M1368 677l24 -1M288 498l24 10M408 543l24 8M868 660q42 7 84 12M1368 687l44 -3M928 679l44 5M1008 688q82 8 164 11M1348 698l24 -1M1388 696l24 -2M948 691l44 5M1108 706l64 3M1108 716l24 1M1288 730l44 -1M1368 727l24 -1M48 440l24 12M928 719l64 7M988 736l64 6M1208 750l24 0M1268 750l24 0M1308 749l24 0M748 708l64 12M1168 759l64 1M1248 760l44 0M728 714q62 13 124 23M1088 765l24 1M1168 769q62 2 124 1M1368 767l24 -1M1548 751l64 -9M28 470q92 47 184 87M788 736l44 8M848 747l44 7M968 764l64 6M1268 780l24 0M1508 766l24 -3M588 699l24 7M828 753l64 11M1028 780l64 5M948 781l24 3M268 610l24 10M168 577q62 28 124 53M128 568l24 12M1368 827l24 -1M1488 818l24 -3M748 788l24 5M1408 835l24 -2M1548 821l24 -3M1588 816l24 -4M348 681l24 9M768 802l24 5M1348 848l24 -1M1408 845l24 -2M-12 539l64 33M88 589l24 12M488 750q42 13 84 25M708 809l24 6M788 826l24 4M1268 870l24 0M1568 849l44 -7M-12 549l64 33M648 805l24 6M768 832l44 8M868 850l44 7M1248 880l24 0M48 590l24 12M308 706l64 24M388 736l44 15M648 815l44 11M1288 890l24 -1M1408 885l24 -2M828 863l24 4M1468 890l24 -2M1208 910q42 0 84 0M1448 902l24 -3M1208 920q42 0 84 0M28 620l44 22M708 869l24 6M1208 930l44 0M1288 930l24 -1M1408 925q52 -4 104 -10M308 756l64 24M388 786l44 15M448 806q62 21 124 39M948 921l44 5M1008 928l44 4M1308 939l24 0M68 660l24 12M288 758l44 17M908 926q52 7 104 12M1208 950l24 0M1268 950l24 0M1468 940l24 -2M268 760l24 10M1428 953l24 -2M748 918l64 12M868 940q62 10 124 16M448 846l64 21M848 947q72 12 144 19M1208 980l24 0M1328 979l44 -2M448 856l64 21M1108 986q62 4 124 4M1108 996l24 1M1228 1000l64 0M1508 986l24 -3M748 958l24 5M988 996q62 7 124 10M1208 1010l44 0M1328 1009q62 -2 124 -8M1508 996q52 -6 104 -14M1168 1019l64 1M1348 1018q52 -2 104 -7M228 813l24 11M1108 1026l24 1M248 831q42 18 84 34M1408 1035l24 -2M188 816l24 11M348 881l24 9M28 750l64 32M188 826l24 11M448 926l44 15M28 760q42 21 84 41M348 901l24 9M1108 1066l24 1M1188 1069l24 1M1348 1068l64 -4M28 770q42 21 84 41M688 1015l24 5M748 1028l24 5M8 769l64 33M228 873l44 19M448 966l64 21M728 1044q42 9 84 16M828 1063l64 11M1148 1098q42 2 84 2M308 926l44 17M708 1049l24 6M768 1062q42 8 84 15M1008 1098l24 2M8 809l64 33M868 1100l44 7M1168 1129l24 0M1228 1130q42 0 84 -1M28 830l44 22M188 906l24 11M268 940l24 10M328 963l24 10M868 1110l44 7M1228 1140q52 0 104 -1M1408 1135l24 -2M28 840l64 32M1248 1150l24 0M1368 1147q52 -3 104 -8M8 839l64 33M-12 839q62 33 124 62M1588 1146l24 -4M128 928l44 21M188 956l44 19M1068 1183q52 4 104 6M1468 1180l24 -2M668 1130l64 15M388 1056l24 9M568 1114l44 12M988 1196l24 2M1248 1210l24 0M328 1043q42 17 84 32M208 1004l44 20M328 1053l24 10M388 1076l24 9M508 1116l44 13M1168 1229l44 1M1448 1222l64 -7M1548 1211l24 -3M148 988l24 11M288 1048l24 10M408 1093l64 22M488 1120l44 13M648 1165l44 11M688 1185l44 10M1028 1240l24 2M228 1043l24 11M908 1236l24 3M1448 1252l44 -4M1508 1246l44 -5M-12 939q112 59 224 108M228 1053l24 11M828 1233l44 8M1388 1266l44 -3M1508 1256l64 -8M1588 1246l24 -4M668 1210l24 6M1428 1273l64 -5M348 1121l24 9M748 1248l44 9M288 1118l64 25M648 1235l44 11M788 1266l44 8M8 1019l24 13M408 1193l24 8M-12 1019q42 22 84 43M128 1098l24 12M308 1176l44 17M148 1118l24 11M48 1080l24 12M408 1243q42 15 84 28M248 1191l44 19M288 1228l64 25M168 1187l24 11M328 1253l44 17M248 1231l44 19M248 1241q42 18 84 34M28 1170l24 12M-12 1159l24 13M-12 1229l24 13"/>
<path stroke="#e5ff1a" d="M1488 -12l44 -5M748 -22q92 19 184 31M1368 27l64 -4M728 -16l44 9M848 7l64 10M988 26l64 6M708 -11l24 6M788 6q42 8 84 15M1168 59l64 1M848 37l64 10M1068 63q42 3 84 5M1188 69l24 1M1308 69l24 0M1568 49l44 -7M608 15l44 11M1028 90l44 4M1228 100q42 0 84 -1M1348 98q62 -3 124 -9M628 30q82 21 164 37M1128 107l24 1M1248 110l24 0M1348 108q42 -2 84 -5M1508 96l24 -3M428 -20q52 18 104 33M688 55l44 10M828 83l64 11M1288 120l44 -1M1388 116l24 -2M1488 108l24 -3M448 6l24 9M1148 138q52 2 104 2M1368 137l24 -1M1428 133l44 -4M1508 126l44 -5M1588 116l24 -4M928 149q52 7 104 11M1088 165q42 2 84 4M1348 168l24 -1M268 -20l44 18M748 128q42 9 84 16M848 147q52 8 104 15M1048 172q42 3 84 5M368 28q42 16 84 30M1208 190l44 0M1368 187q42 -2 84 -6M228 -17l24 11M288 8q42 17 84 32M428 60l44 15M588 109q52 15 104 27M748 148l44 9M1228 200l24 0M1268 200l24 0M1368 197l64 -4M1488 188q62 -6 124 -16M188 -24l24 11M228 -7q42 18 84 35M488 90q62 19 124 36M688 145l24 5M1588 186l24 -4M208 -6l64 28M328 43l44 17M908 196l44 6M1028 210l24 2M1348 218l24 -1M148 -22l24 11M268 30l44 18M448 96l44 15M1208 230l44 0M128 -22l24 12M368 78q62 23 124 43M688 175l44 10M808 200l44 7M1228 240l44 0M1408 235q62 -4 124 -12M168 7q62 28 124 53M368 88l24 10M768 202l44 8M1428 243l24 -2M1468 240l64 -7M268 60l64 25M508 146l24 7M688 195l64 14M-12 -21l64 33M108 39q82 39 164 73M388 156l44 15M728 254l44 9M868 280q42 7 84 12M1308 309l64 -2M1388 306q52 -3 104 -8M1548 291l64 -9M68 30q82 40 164 75M748 268q52 11 104 19M888 293q42 6 84 11M1088 315q42 2 84 4M1448 312l24 -3M1548 301l24 -3M48 30l44 22M1548 311l44 -6M-12 9l24 13M28 30l64 32M228 123l24 11M1428 333l64 -5M1588 316l24 -4M8 29q42 22 84 43M588 259l24 7M708 289q42 10 84 18M868 320l44 7M928 329l44 5M1068 343l24 2M1228 350l44 0M-12 39l64 33M448 236l24 9M908 346l24 3M1108 366l64 3M1588 346l24 -4M48 120q122 61 244 110M388 266l24 9M548 318l24 7M828 383l24 4M1008 408q72 7 144 10M1208 420l44 0M1348 418l44 -2M508 316l44 13M568 334l44 12M808 390q62 11 124 19M948 411q92 12 184 16M1188 429q42 1 84 1M1408 425l24 -2M148 198l64 29M608 365l24 6M708 389q52 12 104 21M1068 443l24 2M1168 449l64 1M1428 443l24 -2M508 356l64 19M808 430q52 9 104 17M988 456l64 6M1148 468l24 1M1228 470l44 0M1308 469l24 0M88 199l24 12M248 271l44 19M528 372l44 13M388 336l24 9M488 370l44 13M708 429l44 10M88 219q52 26 104 49M568 404q52 14 104 27M748 448l44 9M1068 493l24 2M-12 179l44 23M348 341l64 24M568 414q102 29 204 49M1128 507l24 1M1248 510l64 -1M1588 486l24 -4M8 199l24 13M228 303l24 11M1148 518l64 2M-12 199l24 13M228 313l24 11M748 478l24 5M1288 530l24 -1M-12 209l44 23M188 306l24 11M248 331q52 22 104 42M448 406l44 15M548 438q62 18 124 33M788 496l24 4M1008 528l24 2M1588 516l24 -4M68 280l24 12M248 361l24 11M388 416l44 15M1248 570l64 -1M1408 565l64 -6M88 299l44 22M208 354l44 20M568 484l24 6M1248 580l64 -1M48 290l64 31M228 373l24 11M508 476l64 19M588 499l64 17M788 546l24 4M928 569l44 5M1188 589l24 1M-12 269l24 13M48 300q42 21 84 41M308 416q42 16 84 32M748 548q82 17 164 29M1508 586l64 -8M1588 576l24 -4M48 320q42 21 84 41M588 529q42 12 84 22M808 580q52 9 104 17M148 388q52 24 104 46M348 471q62 24 124 44M548 538q82 24 164 42M748 588q52 11 104 19M968 624l24 2M1068 633l44 3M368 488l44 17M508 536l44 13M748 598q82 17 164 29M928 629l64 7M1088 645q42 2 84 4M1388 646l24 -2M348 491l64 24M608 575q42 11 84 21M868 630l44 7M1028 650l44 4M1128 657l64 2M1368 657l24 -1M1468 650q52 -5 104 -12M8 349l24 13M268 470q112 46 224 81M588 579q42 12 84 22M1248 670l44 0M1428 663l24 -2M168 437l24 11M228 463q42 18 84 35M388 526l24 9M528 572l44 13M728 624l44 9M1108 676l24 1M1348 678l24 -1M1488 668q42 -4 84 -10M-12 359l24 13M508 576l64 19M808 650l64 11M948 671l44 5M1088 685q52 3 104 4M1508 676q52 -6 104 -14M428 560l64 21M848 667q42 7 84 12M968 684l44 4M1168 699l44 1M1288 700l44 -1M1408 695l24 -2M868 680q42 7 84 12M988 696l64 6M1068 703l44 3M1168 709l24 0M708 659q62 14 124 25M968 704q72 8 144 12M1128 717l44 2M1568 699l44 -7M708 669l64 14M928 709q42 5 84 9M1108 726l44 2M1228 730l44 0M1388 726l24 -2M28 430l24 12M688 675q42 9 84 18M908 716l24 3M988 726l24 2M1068 733l24 2M1128 737l44 2M1448 732l44 -4M748 698q92 19 184 31M1048 742l44 3M1148 748l64 2M1228 750l44 0M1468 740l24 -2M728 704l24 5M808 720l44 7M1148 758l24 1M1288 760l24 -1M208 544q42 19 84 36M548 668q42 12 84 23M668 700l64 15M848 737l24 4M988 756l44 4M1128 767l44 2M1288 770l24 -1M208 554q52 23 104 44M508 666l64 19M768 732l24 5M888 753q42 6 84 11M1028 770l44 4M1228 780l44 0M1288 780l24 -1M-12 469l64 33M228 583q42 18 84 35M768 752q72 14 144 25M988 786q52 6 104 9M1568 779l44 -7M28 500q112 57 224 104M-12 489l64 33M108 549l64 30M288 628q72 29 144 53M1068 813l64 4M1568 799l44 -7M8 509l24 13M868 800l64 9M1028 820q62 6 124 8M48 540q42 21 84 41M148 588l44 20M288 648l64 25M408 693l44 15M1528 824l24 -3M28 540l64 32M388 696q52 19 104 35M548 748q42 12 84 23M868 820l64 9M208 634l64 28M408 713q62 22 124 40M648 785l24 6M1168 859q72 2 144 0M1568 839l44 -7M208 664l24 11M268 690l44 18M428 750l24 8M688 825l24 5M828 853q52 9 104 16M528 802l44 13M808 870l24 4M888 883l64 9M1168 909l44 1M1288 910l24 -1M128 658q42 20 84 39M728 864l64 13M908 896q42 6 84 10M1048 912q52 4 104 6M1188 919l24 1M1448 912l64 -7M-12 609l24 13M228 723q42 18 84 35M368 778l24 10M428 800l24 8M568 844l44 12M928 919l24 3M1048 932l24 2M1328 939l44 -2M1448 932l44 -4M1568 919l44 -7M348 791l24 9M428 820q52 18 104 33M1048 952l44 3M1268 960l24 0M248 781q102 43 204 77M508 876l24 7M808 950q52 9 104 17M1508 976q52 -6 104 -14M88 749l44 22M188 796l44 19M248 821l44 19M728 974q42 9 84 16M1088 1025l24 1M1388 1026q72 -4 144 -13M208 814l44 20M328 863l64 25M48 750l64 31M368 888l64 23M1168 1049q62 2 124 1M1468 1040q62 -6 124 -15M-12 729l44 23M88 779l44 22M1188 1059q52 2 104 1M1388 1056l24 -2M1468 1050q72 -7 144 -18M-12 739l44 23M588 979l24 7M1328 1069l24 -1M1408 1065q52 -4 104 -10M1568 1049l44 -7M-12 749l44 23M348 911l24 9M868 1050l64 9M1348 1078l24 -1M1588 1056l24 -4M-12 759l24 13M268 890l24 10M468 963q82 27 164 48M848 1057q42 7 84 12M1128 1087q72 4 144 3M228 883l64 27M368 938q42 16 84 30M508 986l44 13M568 1004q42 12 84 22M688 1035l44 10M808 1060l24 4M928 1079q42 5 84 9M1128 1097l24 1M1228 1100l44 0M248 901l64 27M348 941l24 9M668 1040l44 10M708 1059q72 16 144 28M1188 1119q42 1 84 1M1348 1118l44 -2M-12 799l24 13M68 840l44 21M128 868q42 20 84 39M508 1016l64 19M808 1090l64 11M908 1106q42 6 84 10M1188 1129l44 1M1548 1111l64 -9M8 819l24 13M488 1020l44 13M848 1107l24 4M908 1116l44 6M1208 1140l24 0M1428 1133l24 -2M-12 819l44 23M88 869l64 31M448 1016l44 15M868 1120q42 7 84 12M1068 1143l44 3M1228 1150l24 0M-12 829l24 13M68 870l64 31M1088 1155l44 2M1288 1160l64 -2M1448 1152l44 -4M1588 1136l24 -4M108 899q42 20 84 39M408 1023l64 22M608 1085q72 19 144 34M1488 1158q52 -5 104 -13M8 859q92 48 184 89M408 1033l64 22M808 1140q52 9 104 17M48 890l24 12M88 909l44 22M228 973l64 27M308 1006l64 24M808 1150l24 4M988 1176q42 4 84 8M1168 1189l24 0M448 1066l64 21M728 1144l24 5M788 1156l24 4M1028 1190q62 6 124 8M1468 1190l24 -2M448 1076q62 21 124 39M608 1125l44 11M1048 1202l44 3M1228 1210l24 0M1268 1210l44 -1M188 986q72 32 144 59M408 1073l64 22M728 1164l44 9M1268 1220l44 -1M148 978l64 29M248 1021q42 18 84 34M408 1083l24 8M448 1096l64 21M548 1128l44 12M728 1174l44 9M1408 1225l44 -4M1508 1216l44 -5M1568 1209l44 -7M48 940l44 22M308 1056l24 9M368 1078l44 17M468 1113l24 8M528 1132l44 13M628 1160l24 6M8 929q52 28 104 52M648 1175l44 11M728 1194l44 9M28 950l64 32M728 1204q52 11 104 20M1288 1260l24 -1M1388 1256l64 -5M1548 1241l44 -6M-12 949l44 23M128 1018l44 21M408 1133l44 15M828 1243q42 8 84 14M-12 959q42 22 84 43M268 1090q42 17 84 33M368 1128q42 16 84 30M648 1215q42 11 84 20M868 1260q42 7 84 12M-12 969l64 33M788 1256l24 4M208 1094q52 23 104 44M508 1206q52 16 104 30M528 1222q72 22 144 39M-12 1009l24 13M28 1030l44 22M-12 1029q42 22 84 43M268 1160l44 18M348 1191l24 9M568 1264l24 6M328 1193l64 25M368 1218l24 10M348 1221l64 24M-12 1069l24 13M288 1208l24 10M-12 1079q42 22 84 43M188 1216l64 28M228 1253l44 19M68 1190q42 21 84 40M228 1263l24 11M-12 1169l44 23M28 1260l24 12"/>
<path stroke="#ffe500" d="M928 -21q72 9 144 15M1448 -8l44 -4M908 -14l64 8M1008 -2q42 4 84 7M1148 8q42 2 84 2M1288 10l24 -1M808 -20q52 9 104 17M928 -1l44 5M1028 10l24 2M1188 19l24 1M1588 -4l24 -4M728 4q102 22 204 35M1088 55q42 2 84 4M1228 60l44 0M1468 50l24 -2M1568 39l44 -7M708 19q42 10 84 18M968 64q52 6 104 10M1108 76l44 2M1308 79l44 -1M728 34q72 15 144 27M928 69q42 5 84 9M1088 85q52 3 104 4M1488 78q52 -5 104 -13M908 106l24 3M1048 122l24 2M1268 130q62 -1 124 -4M1108 136l44 2M1248 140q62 0 124 -3M1468 130l44 -5M928 129l24 3M1068 143l24 2M1468 140l64 -7M1568 129l44 -7M328 -17q42 17 84 32M608 75l24 6M968 144l24 2M1068 153l44 3M1188 159l64 1M1568 139l44 -7M268 20l64 25M508 106l44 13M708 159l24 6M1428 213l44 -4M1588 196l24 -4M488 110l64 19M688 165q82 19 164 32M888 203l44 6M1188 229l24 1M1248 230l44 0M1368 227q52 -3 104 -8M1588 206l24 -4M128 -12l44 21M808 210l44 7M948 231q62 8 124 13M1188 249l24 1M1248 250l64 -1M1448 242l24 -3M1528 234l24 -3M88 -21q92 45 184 83M528 152l24 7M748 208l64 12M948 241l64 7M1348 258q52 -2 104 -7M1468 250q52 -5 104 -12M528 162q52 16 104 29M988 256q62 7 124 10M1208 270l24 0M1288 270l44 -1M1428 263l44 -4M48 -20l44 22M568 184l24 6M768 232l64 12M848 247q92 15 184 23M1148 278q52 2 104 2M1288 280q52 -1 104 -4M1568 259l44 -7M28 -20q62 31 124 60M268 90l44 18M528 182l64 18M688 225l64 14M828 253q82 15 164 23M1128 287l44 2M1348 288l44 -2M1448 282q62 -5 124 -14M368 138q52 20 104 37M748 248q72 15 144 26M1128 297q72 4 144 3M1408 295l24 -2M-12 -1l64 33M88 49q62 31 124 58M468 203q52 17 104 32M788 286l24 4M968 314q42 5 84 8M1588 306l24 -4M8 19l24 13M88 59l24 12M708 279l64 14M888 313q42 6 84 11M1048 332l64 4M1188 339q72 2 144 0M448 216l44 15M568 254l24 6M648 275l64 15M788 306q42 8 84 15M968 334l44 4M1028 340l44 4M88 79l44 22M188 126q52 23 104 44M708 299l64 14M888 333l24 4M1048 352l64 4M-12 49q72 38 144 72M1028 370l44 4M1548 361l64 -9M8 69q62 33 124 62M468 263q42 14 84 26M668 320q52 12 104 23M888 363q62 9 124 15M1048 382l44 3M1248 390l24 0M8 79q42 22 84 43M488 280l44 13M608 315l64 16M1088 395l64 3M-12 79l64 33M428 270l64 21M1048 402l44 3M1128 407l24 1M1568 389l44 -7M-12 109l24 13M88 159q82 40 164 75M308 256q42 16 84 32M668 370l24 6M1228 440q42 0 84 -1M1528 424l44 -6M1588 416l24 -4M108 179l44 21M668 380l44 10M808 410l24 4M968 434q52 6 104 10M1228 450l64 0M68 170q42 21 84 40M208 234l44 20M408 313l64 22M1048 452l44 3M1288 460l64 -2M1468 450l24 -2M1588 436l24 -4M-12 139q42 22 84 43M468 343l44 14M768 422l44 8M908 446l24 3M948 451l44 5M1048 462l24 2M1128 467l24 1M1328 469l44 -2M1408 465q62 -4 124 -12M1588 446l24 -4M28 170l44 22M188 246l64 28M288 288l44 17M488 360l44 13M708 419l24 6M848 447l64 10M988 466l64 6M1128 477q92 5 184 2M1408 475q62 -4 124 -12M8 169l64 33M348 321l44 17M408 343q42 15 84 28M748 438q52 11 104 19M968 474l64 6M1108 486q52 3 104 4M1528 474l24 -3M68 210l24 12M308 316q82 32 164 59M788 456l44 8M1168 499q52 1 104 1M1568 479l44 -7M-12 219l24 13M288 358q42 17 84 32M688 485q52 12 104 22M1028 540l64 5M1228 550l64 0M1348 548q92 -4 184 -15M308 376q42 16 84 32M708 499q42 10 84 18M808 520l44 7M888 533l24 4M1048 552l44 3M1308 559q42 -1 84 -3M8 279l44 23M388 446l24 9M568 504q92 26 184 45M948 581q42 6 84 9M1448 592l64 -7M468 483l64 20M668 540q62 15 124 27M928 589l64 7M1048 602l44 3M1428 603l44 -4M-12 299q72 38 144 72M248 421l44 19M1088 625q62 4 124 5M1288 630q62 -1 124 -6M1508 616l44 -5M-12 349l64 33M308 496q42 16 84 32M568 584l64 17M828 643q52 9 104 16M1068 673l44 3M1128 677l64 2M1468 670l24 -2M1568 659l44 -7M188 496l24 11M368 568q62 23 124 43M668 660l44 10M768 682l44 8M888 703l44 6M1008 718q52 5 104 8M1148 728q42 2 84 2M1268 730l24 0M1448 722q52 -5 104 -11M108 469l44 21M348 571q42 16 84 30M668 670l24 6M768 692q72 14 144 25M1008 728l64 6M1168 739l24 0M1208 740q52 1 104 -1M1428 733l24 -2M1488 728l24 -3M-12 419l44 23M108 479q62 30 124 56M348 581q42 16 84 30M528 642q52 16 104 29M728 694l24 5M1088 745l64 3M1448 742l24 -3M1488 738l44 -5M1568 729l44 -7M168 517q62 28 124 53M568 664q82 23 164 41M848 727q42 7 84 12M1308 759l24 0M308 606q72 28 144 52M568 694l24 6M908 766l64 8M1108 786l64 3M1188 789l64 1M1308 789l44 -1M1428 783q42 -3 84 -8M-12 479l44 23M288 618l24 10M868 780l44 7M1008 798q122 12 244 12M1548 791l64 -9M-12 519l44 23M88 569l24 12M368 688l24 10M488 730l64 19M628 770l44 11M728 794l44 9M928 829l44 5M1188 849l24 1M1428 843q92 -7 184 -21M188 636l24 11M368 708q42 16 84 30M768 822l24 5M908 846l24 3M1148 868l64 2M388 726l44 15M628 800l24 6M808 840l24 4M928 859l44 5M1008 868q52 5 104 8M1148 878q52 2 104 2M1528 864l64 -9M48 600l44 22M608 815l64 16M688 835q72 16 144 29M988 886q72 8 144 11M1488 888q62 -6 124 -16M-12 579l24 13M68 620l24 12M308 726q112 44 224 77M568 814l24 6M948 891l24 3M1008 898q82 8 164 11M1468 900l44 -5M1588 886l24 -4M-12 599l24 13M88 649q82 40 164 75M568 834l24 6M728 874l64 13M868 900l24 4M1048 922q42 3 84 5M1148 928l24 1M48 650l24 12M208 724l44 20M368 788l64 23M568 854q42 12 84 22M868 920l24 4M1028 940q52 5 104 7M1528 934l44 -6M28 660l24 12M128 708q52 25 104 47M308 786l44 17M388 816l44 15M548 868q52 15 104 28M1208 970l24 0M1448 962q42 -4 84 -9M88 699l44 22M288 788q42 17 84 32M548 878l24 7M608 895l44 11M728 924q42 9 84 16M1188 979l24 1M1468 970q52 -5 104 -12M-12 669l44 23M248 791q92 39 184 70M508 886l44 13M588 909l44 12M908 976q42 6 84 10M1588 976l24 -4M28 700l24 12M288 818l44 17M508 896q42 13 84 24M8 699l24 13M208 794l24 11M348 851l44 17M488 900l44 13M648 945q42 11 84 20M768 972q52 10 104 19M948 1001q62 8 124 13M1468 1010l64 -7M1308 1069l24 0M1508 1056l64 -8M208 884l44 20M368 948l44 17M508 996q82 25 164 45M1028 1100q42 4 84 6M1388 1106l44 -3M268 920l44 18M468 993l24 8M508 1006q42 13 84 24M688 1055l24 5M848 1087l44 7M928 1099l64 7M1028 1110l64 5M1148 1118l44 1M1268 1120q42 0 84 -2M1388 1116l24 -2M108 859l24 12M208 904l24 11M468 1003l24 8M568 1034l44 12M748 1078l64 12M988 1116q62 7 124 10M1408 1125l44 -4M1488 1118l64 -7M68 900l24 12M288 998l24 10M368 1028l44 17M688 1125q62 14 124 25M968 1174l24 2M1188 1189l24 1M1448 1182l24 -3M-12 919l24 13M108 979l44 21M248 1041q42 18 84 34M488 1130l44 13M628 1170l24 6M768 1202l24 5M1128 1247l24 1M1508 1236q52 -6 104 -14M388 1116l24 9M908 1246q52 7 104 12M1088 1265l44 2M1188 1269q42 1 84 1M1348 1268l24 -1M48 1000l44 22M328 1123q52 21 104 38M808 1260l44 7M48 1010q42 21 84 41M428 1170l24 8M528 1202q62 19 124 34M168 1107l24 11M268 1150q62 25 124 48M448 1216q52 18 104 33M-12 1039q42 22 84 43M288 1178l44 17M388 1216l44 15M-12 1049l24 13M68 1090l24 12M328 1203l44 17M8 1079q42 22 84 43M408 1253l64 22M-12 1099l24 13M108 1159l64 30M228 1213l24 11M-12 1109l44 23M88 1159l44 22M188 1206l44 19M228 1243l64 27M-12 1139l24 13M208 1244l24 11M148 1238l44 20M28 1190l24 12M-12 1189l64 33M108 1249l24 12M68 1240l64 31M88 1259l24 12M-12 1249l24 13"/>
<path stroke="#ffb300" d="M1268 -10q92 -1 184 -9M968 -6l44 4M1088 5l64 3M968 4l64 6M1088 25q82 5 164 5M1488 18q42 -4 84 -10M1068 33l24 2M1128 37l44 2M1208 40q52 1 104 -1M1468 30l64 -7M928 29l64 7M1048 42q52 4 104 6M1368 47q42 -2 84 -6M1488 38l64 -7M648 -5q62 16 124 28M928 49l64 7M1228 70l44 0M788 36q92 18 184 28M868 60l64 9M508 -14l64 19M808 60q52 9 104 17M1128 97l24 1M1528 84l24 -3M1188 109l24 1M1168 119q52 1 104 1M1068 123q102 8 204 7M948 131l24 3M988 136q42 4 84 8M988 146q42 4 84 8M528 62q62 19 124 34M488 60q112 35 224 60M688 125l24 5M808 150q42 7 84 14M928 169q62 8 124 13M1108 186l24 1M828 163l64 11M948 181l64 7M368 48l24 10M808 170l64 11M928 189l64 7M1528 194l24 -3M508 126q72 22 144 40M868 210q52 8 104 14M1288 240l64 -2M1568 219l44 -7M1108 266q52 3 104 4M1228 270l64 0M828 243l24 4M1388 276q92 -5 184 -18M748 238q42 9 84 16M1388 286l64 -5M488 190q112 35 224 60M1148 308q42 2 84 2M248 111q42 18 84 34M628 240q42 11 84 20M1028 310l24 2M1208 320l44 0M428 210l24 8M488 230q42 13 84 25M1008 338l24 2M288 168l64 25M628 280q42 11 84 20M908 336l44 6M248 161q52 22 104 42M408 223l44 15M928 349l44 5M1088 385l44 2M528 292q42 13 84 24M1088 405l44 2M1448 412l64 -7M28 120l24 12M628 350q72 19 144 33M1368 427l44 -3M8 119q42 22 84 43M1308 439q112 -3 224 -16M1348 458q62 -3 124 -9M1488 448q52 -5 104 -13M68 220q72 35 144 67M288 318l24 10M948 491q72 9 144 14M1328 509q52 -2 104 -6M1488 498l64 -7M68 230q62 30 124 58M388 366l44 15M708 459q42 10 84 18M848 487q92 15 184 23M1048 512q42 3 84 5M1328 519l64 -3M1528 504l44 -6M408 383q42 15 84 28M688 465l64 14M1008 518q72 7 144 10M1348 528q102 -4 204 -17M708 479l64 14M1348 538q82 -3 164 -13M1088 545q62 4 124 5M1308 549l44 -1M1528 534q42 -5 84 -12M848 527l44 7M1088 555l24 1M308 386q42 16 84 32M508 456q42 13 84 24M648 495l24 6M768 522l64 12M888 543l44 6M968 554q122 14 244 16M-12 249l64 33M328 403q52 21 104 38M808 540q112 20 224 30M1088 575l24 1M1508 566q52 -6 104 -14M-12 259l44 23M308 406q82 32 164 59M988 576q62 7 124 10M1428 583q52 -4 104 -10M1088 605q172 11 344 -2M688 555q42 9 84 18M948 601l44 5M1188 619q142 4 284 -10M1208 630q42 0 84 0M1548 611l64 -9M-12 309l24 13M1148 638q42 2 84 2M1328 639q52 -2 104 -6M1568 619l44 -7M608 565l64 16M1408 645q52 -4 104 -10M728 604l44 9M1388 656l64 -5M748 618l44 9M908 646q42 6 84 10M1148 668l64 2M1388 666l44 -3M88 409q102 50 204 91M608 605q52 14 104 25M1028 680l44 4M1228 690l64 0M1408 685q42 -3 84 -7M148 448q42 19 84 37M288 508q42 17 84 32M548 598l64 18M1448 692l64 -7M108 439q132 63 264 111M1228 710q152 1 304 -17M28 410q122 62 244 112M628 640l64 16M1208 720q42 0 84 0M1328 719l64 -3M1448 712q42 -4 84 -9M48 470q52 26 104 50M308 586q102 40 204 71M348 611l24 9M1128 777l64 2M1348 778l44 -2M1168 789l24 0M1348 788q42 -2 84 -5M1508 776l24 -3M348 631q82 31 164 56M568 704q72 20 144 36M1368 797q92 -5 184 -16M548 718q142 41 284 66M968 804l44 4M1248 820q122 0 244 -12M348 661q52 20 104 37M668 760q52 12 104 23M1208 830q72 1 144 -2M1508 816l44 -5M808 800l24 4M908 816l64 8M988 826l64 6M1208 840q82 1 164 -3M1488 828l44 -5M68 570l44 21M308 676q42 16 84 32M948 841q102 13 204 17M728 814l44 9M928 849q112 15 224 19M1208 870l64 0M968 864l44 4M1108 876l44 2M-12 559l64 33M708 829q42 10 84 18M968 874l64 6M1068 883l64 4M1268 890l24 0M1528 874q42 -5 84 -12M-12 569l64 33M668 830l24 6M908 876q42 6 84 10M-12 589q52 28 104 53M368 758l44 17M508 806l24 7M808 880q42 7 84 14M1528 904q42 -5 84 -12M788 886q42 8 84 15M28 630l44 22M808 900l64 11M248 741l24 11M328 773l44 17M648 875q112 28 224 46M1488 938l44 -5M-12 629q82 43 164 81M188 726q42 18 84 36M368 798l24 10M708 899l64 14M1148 958q62 3 124 2M1468 950l64 -7M1568 939l44 -7M-12 639l44 23M228 753q42 18 84 35M1528 954q42 -5 84 -12M-12 649q52 28 104 53M568 884l44 12M1568 959l44 -7M128 728q42 20 84 39M548 888q42 12 84 23M968 974l44 4M28 690q112 57 224 104M548 898l44 12M48 710q122 61 244 110M28 710q92 47 184 87M228 803q62 27 124 50M528 912q62 19 124 34M8 709l44 23M628 950l64 16M1268 1030l64 -1M-12 709q42 22 84 43M648 965q112 28 224 46M1028 1030q72 7 144 9M1188 1039q92 3 184 -2M1588 1016l24 -4M168 807l24 11M548 948q102 30 204 51M808 1010l64 11M1048 1042q42 3 84 5M548 958q42 12 84 23M808 1020l44 7M888 1033q132 20 264 25M488 960l44 13M808 1040l44 7M968 1064q62 7 124 11M1168 1079l64 1M1408 1075l44 -4M1508 1076l44 -5M1048 1092l44 3M208 914l64 28M348 971q42 16 84 30M548 1038l64 18M668 1070q62 15 124 27M968 1124q42 5 84 8M188 916q42 18 84 36M328 973q42 17 84 32M528 1042q72 22 144 39M748 1098l44 9M828 1113l44 8M1148 1148l64 2M188 926l64 28M548 1058l24 7M768 1112q152 30 304 42M1148 1158q52 2 104 2M1368 1157l44 -3M1528 1144l24 -3M308 986l64 24M848 1137q52 8 104 15M1028 1160l64 5M1188 1169q72 2 144 0M1368 1167q42 -2 84 -6M228 963q82 35 164 65M508 1066q52 16 104 30M728 1124l44 9M948 1161l24 3M1068 1173l44 3M1188 1179q52 2 104 1M1368 1177l24 -1M1448 1172l44 -4M28 890q42 21 84 41M368 1038l64 23M608 1115l64 16M748 1148l24 5M1208 1200q122 2 244 -9M1488 1188q42 -4 84 -10M-12 879l64 33M668 1140l64 15M1008 1198l24 2M1108 1206q42 2 84 3M1328 1209q82 -3 164 -11M1508 1196q52 -6 104 -14M-12 889q42 22 84 43M608 1135q42 11 84 21M828 1183q132 23 264 32M1168 1219l24 0M1348 1218l64 -4M1508 1206l24 -3M1588 1196l24 -4M8 909l44 23M628 1150l64 16M988 1216q42 4 84 8M1148 1228l24 1M1308 1229q42 -1 84 -3M168 997q62 28 124 53M588 1149l24 7M1108 1236q102 6 204 3M1388 1236l64 -5M188 1026l44 19M588 1169l64 17M1008 1248q142 14 284 12M1308 1259l44 -1M1128 1267l64 2M1268 1270q42 0 84 -2M228 1063l44 19M488 1160q72 22 144 41M928 1259q42 5 84 9M188 1056l24 11M508 1176q52 16 104 30M128 1048q82 39 164 72M-12 989l64 33M108 1049q42 20 84 39M348 1151q42 16 84 30M8 1009l24 13M108 1059q42 20 84 39M288 1138q102 41 204 73M248 1131q82 35 164 64M508 1226l24 7M388 1196l64 22M148 1108l44 20M408 1213l44 15M108 1119q52 25 104 48M248 1181q42 18 84 34M128 1148l44 21M228 1193q52 22 104 42M128 1178l64 30M108 1179l44 21"/>
<path stroke="#ff8000" d="M1128 -3l44 2M1088 35l44 2M1268 70l44 -1M1048 212l44 3M608 145l44 11M1108 256q42 2 84 3M248 121l44 19M548 238q42 12 84 23M568 264l64 17M1508 436l24 -3M108 199l44 21M48 200l24 12M1208 550l24 0M1288 550l24 -1M828 533l64 11M228 483l64 27M28 420l44 22M568 714q42 12 84 22M968 824l24 2M628 830q42 11 84 20M368 908q72 27 144 49M788 1026l44 8M388 926q52 19 104 35M788 1036l24 4M608 1055l64 16M788 1106l44 8M1388 1176l64 -5M1408 1185l44 -4M1488 1198l24 -3M1308 1239q42 -1 84 -3M208 1144l64 28M48 1160q42 21 84 41M8 1239l24 13"/>
</g></g>
<!-- panel c -->
<rect x="1.50" y="486.25" width="697.80" height="216.25" fill="none" stroke="#33262a" stroke-width="1.7"/>
<line x1="248.00" y1="495.00" x2="248.00" y2="697.50" stroke="#666" stroke-width="0.7" stroke-dasharray="0.8 1.0"/>
<rect x="258.75" y="473.80" width="154.25" height="24.00" fill="#fff" stroke="#33262a" stroke-width="1.3"/>
<text x="275.50" y="491.06" font-size="12" fill="#111" stroke="#111" text-anchor="start" transform="matrix(1 0 0 1.12 0 -58.416)">(c)</text>
<text x="294.00" y="490.10" font-size="9.85" fill="#111" stroke="#111" text-anchor="start" transform="matrix(1 0 0 1.12 0 -58.392)">At different feed rates</text>
<rect x="318.50" y="676.25" width="71.50" height="19.25" fill="#ececec" stroke="none" stroke-width="1"/>
<text x="354.25" y="689.37" font-size="9.85" fill="#326dc6" stroke="#326dc6" text-anchor="middle" transform="matrix(1 0 0 1.12 0 -82.305)">Unadjusted</text>
<rect x="545.50" y="676.25" width="72.00" height="19.25" fill="#ececec" stroke="none" stroke-width="1"/>
<text x="581.50" y="689.37" font-size="9.85" fill="#326dc6" stroke="#326dc6" text-anchor="middle" transform="matrix(1 0 0 1.12 0 -82.305)">Adjusted</text>
<rect x="434.50" y="673.75" width="68.75" height="23.25" fill="#ddedf6" stroke="none" stroke-width="1"/>
<text x="468.88" y="688.87" font-size="9.85" fill="#111" stroke="#111" text-anchor="middle" transform="matrix(1 0 0 1.12 0 -82.245)">30 mm·min<tspan baseline-shift="super" font-size="6.2">−1</tspan></text>
<line x1="400.50" y1="685.75" x2="434.50" y2="685.75" stroke="#326dc6" stroke-width="3.0"/>
<path d="M390.50 685.75L405.30 681.65L405.30 689.85Z" fill="#326dc6"/>
<line x1="503.25" y1="685.75" x2="534.00" y2="685.75" stroke="#326dc6" stroke-width="3.0"/>
<path d="M544.00 685.75L529.20 681.65L529.20 689.85Z" fill="#326dc6"/>
<!-- chart c -->
<rect x="40.75" y="531.25" width="17.00" height="107.65" fill="#fbc99c" stroke="#8d8d8d" stroke-width="0.7"/>
<rect x="57.75" y="544.50" width="17.00" height="94.40" fill="#a3d5a1" stroke="#8d8d8d" stroke-width="0.7"/>
<rect x="83.25" y="537.75" width="17.00" height="101.15" fill="#fbc99c" stroke="#8d8d8d" stroke-width="0.7"/>
<rect x="100.25" y="561.25" width="17.00" height="77.65" fill="#a3d5a1" stroke="#8d8d8d" stroke-width="0.7"/>
<rect x="125.50" y="565.50" width="17.00" height="73.40" fill="#fbc99c" stroke="#8d8d8d" stroke-width="0.7"/>
<rect x="142.50" y="571.50" width="17.00" height="67.40" fill="#a3d5a1" stroke="#8d8d8d" stroke-width="0.7"/>
<rect x="167.50" y="541.25" width="17.00" height="97.65" fill="#fbc99c" stroke="#8d8d8d" stroke-width="0.7"/>
<rect x="184.50" y="544.25" width="17.00" height="94.65" fill="#a3d5a1" stroke="#8d8d8d" stroke-width="0.7"/>
<path d="M49.50 518.25V544.50M47.90 518.25h3.2M47.90 544.50h3.2" stroke="#7a7a7a" stroke-width="0.6" fill="none"/>
<path d="M91.75 523.25V552.50M90.15 523.25h3.2M90.15 552.50h3.2" stroke="#7a7a7a" stroke-width="0.6" fill="none"/>
<path d="M134.00 557.50V573.25M132.40 557.50h3.2M132.40 573.25h3.2" stroke="#7a7a7a" stroke-width="0.6" fill="none"/>
<path d="M176.25 531.25V550.50M174.65 531.25h3.2M174.65 550.50h3.2" stroke="#7a7a7a" stroke-width="0.6" fill="none"/>
<path d="M66.25 531.25V558.25M64.65 531.25h3.2M64.65 558.25h3.2" stroke="#7a7a7a" stroke-width="0.6" fill="none"/>
<path d="M108.50 556.25V566.25M106.90 556.25h3.2M106.90 566.25h3.2" stroke="#7a7a7a" stroke-width="0.6" fill="none"/>
<path d="M150.75 567.00V575.75M149.15 567.00h3.2M149.15 575.75h3.2" stroke="#7a7a7a" stroke-width="0.6" fill="none"/>
<path d="M193.00 538.00V551.25M191.40 538.00h3.2M191.40 551.25h3.2" stroke="#7a7a7a" stroke-width="0.6" fill="none"/>
<path d="M36.50 638.90V502.90H205.40" stroke="#8f8f8f" stroke-width="0.8" fill="none"/>
<line x1="36.10" y1="638.90" x2="205.40" y2="638.90" stroke="#4a4a4a" stroke-width="0.8"/>
<line x1="205.40" y1="502.50" x2="205.40" y2="639.30" stroke="#ff3b3b" stroke-width="0.7"/>
<text x="32.00" y="642.90" font-size="9.85" fill="#111" stroke="#111" text-anchor="end" transform="matrix(1 0 0 1.12 0 -76.728)">0</text>
<text x="32.00" y="618.18" font-size="9.85" fill="#111" stroke="#111" text-anchor="end" transform="matrix(1 0 0 1.12 0 -73.762)">20</text>
<text x="32.00" y="593.46" font-size="9.85" fill="#111" stroke="#111" text-anchor="end" transform="matrix(1 0 0 1.12 0 -70.795)">40</text>
<text x="32.00" y="568.74" font-size="9.85" fill="#111" stroke="#111" text-anchor="end" transform="matrix(1 0 0 1.12 0 -67.829)">60</text>
<text x="32.00" y="544.02" font-size="9.85" fill="#111" stroke="#111" text-anchor="end" transform="matrix(1 0 0 1.12 0 -64.862)">80</text>
<text x="32.00" y="519.30" font-size="9.85" fill="#111" stroke="#111" text-anchor="end" transform="matrix(1 0 0 1.12 0 -61.896)">100</text>
<path d="M36.50 639.00h-2.6M36.50 626.64h-1.5M36.50 614.28h-2.6M36.50 601.92h-1.5M36.50 589.56h-2.6M36.50 577.20h-1.5M36.50 564.84h-2.6M36.50 552.48h-1.5M36.50 540.12h-2.6M36.50 527.76h-1.5M36.50 515.40h-2.6" stroke="#5a5a5a" stroke-width="0.7" fill="none"/>
<text x="209.00" y="642.25" font-size="9.85" fill="#e3001c" stroke="#e3001c" text-anchor="start" transform="matrix(1 0 0 1.12 0 -76.650)">0</text>
<text x="209.00" y="615.00" font-size="9.85" fill="#e3001c" stroke="#e3001c" text-anchor="start" transform="matrix(1 0 0 1.12 0 -73.380)">20</text>
<text x="209.00" y="587.75" font-size="9.85" fill="#e3001c" stroke="#e3001c" text-anchor="start" transform="matrix(1 0 0 1.12 0 -70.110)">40</text>
<text x="209.00" y="560.50" font-size="9.85" fill="#e3001c" stroke="#e3001c" text-anchor="start" transform="matrix(1 0 0 1.12 0 -66.840)">60</text>
<text x="209.00" y="533.25" font-size="9.85" fill="#e3001c" stroke="#e3001c" text-anchor="start" transform="matrix(1 0 0 1.12 0 -63.570)">80</text>
<text x="209.00" y="506.00" font-size="9.85" fill="#e3001c" stroke="#e3001c" text-anchor="start" transform="matrix(1 0 0 1.12 0 -60.300)">100</text>
<path d="M205.40 638.75h2.6M205.40 625.12h1.5M205.40 611.50h2.6M205.40 597.88h1.5M205.40 584.25h2.6M205.40 570.62h1.5M205.40 557.00h2.6M205.40 543.38h1.5M205.40 529.75h2.6M205.40 516.12h1.5M205.40 502.50h2.6" stroke="#ff4545" stroke-width="0.7" fill="none"/>
<text x="57.75" y="651.50" font-size="9.85" fill="#111" stroke="#111" text-anchor="middle" transform="matrix(1 0 0 1.12 0 -77.760)">30</text>
<text x="100.25" y="651.50" font-size="9.85" fill="#111" stroke="#111" text-anchor="middle" transform="matrix(1 0 0 1.12 0 -77.760)">60</text>
<text x="142.50" y="651.50" font-size="9.85" fill="#111" stroke="#111" text-anchor="middle" transform="matrix(1 0 0 1.12 0 -77.760)">90</text>
<text x="184.50" y="651.50" font-size="9.85" fill="#111" stroke="#111" text-anchor="middle" transform="matrix(1 0 0 1.12 0 -77.760)">120</text>
<path d="M57.75 638.90v2.6M78.88 638.90v1.5M100.25 638.90v2.6M121.38 638.90v1.5M142.50 638.90v2.6M163.62 638.90v1.5M184.50 638.90v2.6M36.62 638.90v1.5" stroke="#5a5a5a" stroke-width="0.7" fill="none"/>
<text x="122.00" y="663.00" font-size="9.85" fill="#111" stroke="#111" text-anchor="middle" transform="matrix(1 0 0 1.12 0 -79.140)">Feed speed/(mm·min<tspan baseline-shift="super" font-size="6.2">−1</tspan>)</text>
<text x="12.60" y="570.40" font-size="9.85" fill="#111" stroke="#111" text-anchor="middle" transform="rotate(-90 12.60 570.40) matrix(1 0 0 1.12 0 -68.028)">Surface roughness/nm</text>
<text x="233.90" y="571.80" font-size="9.85" fill="#e3001c" stroke="#e3001c" text-anchor="middle" transform="rotate(-90 233.90 571.80) matrix(1 0 0 1.12 0 -68.196)">Surface quality improvement</text>
<text x="245.50" y="569.50" font-size="9.85" fill="#e3001c" stroke="#e3001c" text-anchor="middle" transform="rotate(-90 245.50 569.50) matrix(1 0 0 1.12 0 -67.920)">percentage/%</text>
<polyline points="57.75,622.00 100.25,608.00 142.50,627.75 184.50,634.25" fill="none" stroke="#f21d1d" stroke-width="0.7"/>
<rect x="56.40" y="620.65" width="2.70" height="2.70" fill="#f00f14" stroke="none" stroke-width="1"/>
<rect x="98.90" y="606.65" width="2.70" height="2.70" fill="#f00f14" stroke="none" stroke-width="1"/>
<rect x="141.15" y="626.40" width="2.70" height="2.70" fill="#f00f14" stroke="none" stroke-width="1"/>
<rect x="183.15" y="632.90" width="2.70" height="2.70" fill="#f00f14" stroke="none" stroke-width="1"/>
<rect x="35.00" y="668.75" width="167.50" height="25.00" fill="#fff" stroke="#b5b5b5" stroke-width="0.7"/>
<rect x="46.25" y="672.00" width="15.50" height="8.50" fill="#fbc99c" stroke="#9a9a9a" stroke-width="0.6"/>
<rect x="46.25" y="683.00" width="15.50" height="8.25" fill="#a3d5a1" stroke="#9a9a9a" stroke-width="0.6"/>
<text x="65.50" y="679.75" font-size="9.85" fill="#111" stroke="#111" text-anchor="start" transform="matrix(1 0 0 1.12 0 -81.150)">Before spindle modulation</text>
<text x="65.50" y="691.00" font-size="9.85" fill="#111" stroke="#111" text-anchor="start" transform="matrix(1 0 0 1.12 0 -82.500)">After spindle modulation</text>
<!-- heatmap c1 -->
<line x1="255.00" y1="513.75" x2="274.50" y2="513.75" stroke="#8a8a8a" stroke-width="0.7"/>
<line x1="255.00" y1="638.75" x2="274.50" y2="638.75" stroke="#8a8a8a" stroke-width="0.7"/>
<line x1="274.50" y1="638.75" x2="274.50" y2="666.25" stroke="#8a8a8a" stroke-width="0.7"/>
<line x1="434.00" y1="638.75" x2="434.00" y2="666.25" stroke="#8a8a8a" stroke-width="0.7"/>
<line x1="262.50" y1="516.75" x2="262.50" y2="635.75" stroke="#33262a" stroke-width="1.0"/>
<path d="M262.50 513.75l-1.9 7.2h3.8ZM262.50 638.75l-1.9 -7.2h3.8Z" fill="#33262a"/>
<rect x="251.75" y="543.25" width="20.00" height="65.75" fill="#ececec" stroke="none" stroke-width="1"/>
<text x="265.25" y="576.12" font-size="9.85" fill="#111" stroke="#111" text-anchor="middle" transform="rotate(-90 265.25 576.12) matrix(1 0 0 1.12 0 -68.715)">944.732 µm</text>
<line x1="277.50" y1="655.60" x2="431.00" y2="655.60" stroke="#33262a" stroke-width="1.0"/>
<path d="M274.50 655.60l7.2 -1.9v3.8ZM434.00 655.60l-7.2 -1.9v3.8Z" fill="#33262a"/>
<rect x="318.50" y="646.50" width="71.50" height="19.25" fill="#ececec" stroke="none" stroke-width="1"/>
<text x="354.25" y="659.62" font-size="9.85" fill="#111" stroke="#111" text-anchor="middle" transform="matrix(1 0 0 1.12 0 -78.735)">1 259.642 µm</text>
<text x="354.70" y="510.00" font-size="9.85" fill="#e3001c" stroke="#e3001c" text-anchor="middle" transform="matrix(1 0 0 1.12 0 -60.780)">Sa: 91.111 nm</text>
<text x="450.20" y="510.25" font-size="9.85" fill="#111" stroke="#111" text-anchor="middle" transform="matrix(1 0 0 1.12 0 -60.810)">Unit: nm</text>
<rect x="439.50" y="518.25" width="9.25" height="120.50" fill="url(#jet)" stroke="#6b5a5a" stroke-width="0.35"/>
<path d="M439.50 618.25h1.2M448.75 618.25h-1.2M439.50 598.25h1.2M448.75 598.25h-1.2M439.50 578.25h1.2M448.75 578.25h-1.2M439.50 558.25h1.2M448.75 558.25h-1.2M439.50 538.25h1.2M448.75 538.25h-1.2" stroke="#222" stroke-width="0.5" opacity="0.6"/>
<text x="452.70" y="642.25" font-size="9.85" fill="#111" stroke="#111" text-anchor="start" transform="matrix(1 0 0 1.12 0 -76.650)">0</text>
<text x="452.70" y="622.35" font-size="9.85" fill="#111" stroke="#111" text-anchor="start" transform="matrix(1 0 0 1.12 0 -74.262)">100</text>
<text x="452.70" y="602.45" font-size="9.85" fill="#111" stroke="#111" text-anchor="start" transform="matrix(1 0 0 1.12 0 -71.874)">200</text>
<text x="452.70" y="582.55" font-size="9.85" fill="#111" stroke="#111" text-anchor="start" transform="matrix(1 0 0 1.12 0 -69.486)">300</text>
<text x="452.70" y="562.65" font-size="9.85" fill="#111" stroke="#111" text-anchor="start" transform="matrix(1 0 0 1.12 0 -67.098)">400</text>
<text x="452.70" y="542.75" font-size="9.85" fill="#111" stroke="#111" text-anchor="start" transform="matrix(1 0 0 1.12 0 -64.710)">500</text>
<text x="452.70" y="522.85" font-size="9.85" fill="#111" stroke="#111" text-anchor="start" transform="matrix(1 0 0 1.12 0 -62.322)">600</text>
<clipPath id="cpc1"><rect x="0" y="0" width="159.50" height="125.00"/></clipPath>
<g transform="translate(274.50 513.75)" clip-path="url(#cpc1)">
<rect x="0" y="0" width="159.50" height="125.00" fill="#ffb300"/>
<g transform="scale(0.1)" fill="none" stroke-width="14" filter="url(#hb)">
<path stroke="#80ff80" d="M-10 811q810 339 1620 128"/>
<path stroke="#b3ff4c" d="M150 -20q730 209 1460 54M90 -18q760 233 1520 72M-10 363q810 303 1620 115M-10 421q810 307 1620 116M-10 764q810 334 1620 126M-10 839q810 342 1620 130M-10 849q810 342 1620 129M-10 925q810 349 1620 132M1290 1270q160 -22 320 -67M-10 1075q320 144 640 196M-10 1160q140 64 280 111M-10 1169q120 56 240 98"/>
<path stroke="#e5ff1a" d="M350 -19q630 136 1260 4M110 -22q750 225 1500 66M-10 -21q810 278 1620 105M-10 94q810 285 1620 108M-10 123q810 287 1620 109M-10 373q810 303 1620 115M-10 592q810 321 1620 122M-10 602q810 321 1620 121M-10 678q810 327 1620 124M-10 821q810 339 1620 128M-10 868q810 344 1620 130M-10 1028q810 360 1620 136M-10 1056q390 175 780 213M-10 1085q290 131 580 185M-10 1103q240 109 480 166M-10 1122q200 91 400 146M-10 1132q190 86 380 140M-10 1197q90 42 180 76M-10 1206q70 33 140 61M-10 1216q60 28 120 53M-10 1234q40 19 80 37M-10 1262l20 10"/>
<path stroke="#ffe500" d="M310 -18q650 149 1300 13M-10 56q810 282 1620 107M-10 65q810 284 1620 107M-10 133q810 287 1620 108M-10 315q810 300 1620 114M-10 344q810 302 1620 114M-10 411q810 307 1620 116M-10 459q810 310 1620 117M-10 497q810 313 1620 118M-10 526q810 315 1620 119M-10 583q810 320 1620 121M-10 631q810 323 1620 122M-10 669q810 326 1620 123M-10 688q810 328 1620 124M-10 697q810 329 1620 125M-10 745q810 333 1620 126M-10 754q810 334 1620 126M-10 830q810 341 1620 129M-10 887q810 346 1620 131M-10 896q810 347 1620 131M-10 943q810 352 1620 133M-10 972q810 354 1620 134M-10 1066q350 157 700 204M-10 1094q260 118 520 174M-10 1113q220 100 440 156M-10 1141q170 78 340 129M-10 1150q150 69 300 118M-10 1178q110 51 220 91M-10 1188q100 46 200 83M-10 1225q50 24 100 45M-10 1244l60 27M-10 1253l40 19"/>
<path stroke="#ffb300" d="M650 -19q340 38 680 0M450 -19q540 98 1080 0M250 -22q680 170 1360 27M190 -18q710 192 1420 43M50 -21q780 251 1560 85M30 -18q790 260 1580 92M-10 -12q810 279 1620 106M-10 7q810 280 1620 106M-10 17q810 280 1620 106M-10 27q810 281 1620 106M-10 75q810 284 1620 107M-10 85q810 284 1620 107M-10 104q810 286 1620 108M-10 171q810 290 1620 110M-10 181q810 290 1620 110M-10 190q810 292 1620 111M-10 200q810 292 1620 110M-10 210q810 292 1620 110M-10 219q810 293 1620 111M-10 229q810 294 1620 111M-10 238q810 295 1620 112M-10 248q810 295 1620 112M-10 267q810 297 1620 112M-10 286q810 298 1620 113M-10 296q810 298 1620 113M-10 306q810 299 1620 113M-10 325q810 300 1620 113M-10 354q810 302 1620 114M-10 382q810 305 1620 115M-10 478q810 311 1620 118M-10 488q810 312 1620 118M-10 516q810 315 1620 119M-10 535q810 316 1620 120M-10 545q810 316 1620 120M-10 612q810 321 1620 121M-10 640q810 324 1620 123M-10 659q810 326 1620 123M-10 716q810 331 1620 125M-10 735q810 332 1620 126M-10 792q810 337 1620 128M-10 802q810 338 1620 127M-10 858q810 344 1620 130M-10 877q810 345 1620 131M-10 906q810 347 1620 131M-10 915q810 349 1620 132M-10 962q810 353 1620 134M-10 981q810 355 1620 134M-10 991q810 355 1620 134M-10 1000q810 357 1620 135M-10 1009q810 358 1620 136M-10 1019q810 359 1620 136M-10 1038q810 360 1620 136M-10 1047q810 362 1620 137M1350 1271q130 -22 260 -58"/>
<path stroke="#ff8000" d="M230 -18q690 178 1380 33M-10 -2q810 279 1620 105M-10 36q810 282 1620 107M-10 46q810 282 1620 107M-10 113q810 287 1620 109M-10 430q810 308 1620 117M-10 440q810 308 1620 116M-10 449q810 310 1620 117M-10 468q810 311 1620 118M-10 507q810 313 1620 118M-10 554q810 318 1620 120M-10 621q810 323 1620 122M-10 650q810 325 1620 123M-10 707q810 329 1620 124M-10 726q810 331 1620 125M-10 773q810 336 1620 127M-10 953q810 352 1620 133M1410 1270q100 -19 200 -47"/>
<path stroke="#ff4c00" d="M750 -19q240 19 480 -1M490 -22q490 82 980 3M390 -20q600 120 1200 -1M-10 142q810 288 1620 109M-10 152q810 289 1620 109M-10 162q810 289 1620 109M-10 258q810 295 1620 112M-10 277q810 297 1620 112M-10 334q810 301 1620 114M-10 392q810 305 1620 115M-10 401q810 306 1620 116M-10 564q810 318 1620 120M-10 573q810 319 1620 121M-10 783q810 336 1620 127M-10 934q810 350 1620 133M1210 1269q200 -20 400 -75M1450 1272q80 -17 160 -39M1510 1268q50 -11 100 -26M1550 1268l60 -16M1590 1268l20 -6"/>
<path stroke="#ff1a00" d="M570 -19q420 58 840 -1"/>
<path stroke="#000080" d="M1268 27l44 -5M1408 30l44 -6M1348 118q42 -5 84 -12M1308 252l64 -8M1528 427q42 -9 84 -19M1148 525l44 -3M1428 504l44 -8M1388 540l44 -7M1588 512l24 -5M1528 604l24 -5M1548 610l24 -6M1368 652q42 -6 84 -13M1448 669l64 -12M1568 704l44 -11M1248 787l64 -8M1588 788l24 -6M1408 845l44 -8M1528 880l44 -10M1328 956l44 -7M1528 969l44 -10M1328 1016l44 -7M1528 979l64 -16M1288 1121l24 -4M1428 1168l24 -5M1268 1233l64 -9"/>
<path stroke="#0000b2" d="M1308 23l24 -3M1388 33l24 -3M1588 0l24 -6M1348 88l24 -3M1548 77l24 -5M1528 90l24 -4M1348 655l24 -3M1408 666l24 -4M1428 673l24 -5M1508 658l24 -5M1508 885l24 -6M1508 974l24 -6M1308 1019l24 -4M1368 1010l24 -4M1308 1118l24 -3M1328 1175l24 -4M1408 1171l24 -4"/>
<path stroke="#0000e6" d="M1568 73l24 -5M1328 120l24 -3M1228 150l44 -4M1528 110l24 -5M628 147l44 6M1328 200l44 -6M1168 224l24 -1M1308 242l24 -3M788 423l24 1M1268 416l24 -3M1508 430l24 -4M1128 526l24 -1M1408 507l24 -4M1568 606l24 -6M1428 663l24 -5M1228 789l24 -3M1448 837l24 -4M1428 851l24 -5M1168 913l24 -1M1368 950l24 -4M1268 1123l24 -3M1308 1178l24 -4M1348 1172l64 -11"/>
<path stroke="#001aff" d="M1528 80l24 -4M1408 120l24 -4M1208 152l24 -2M1268 147l24 -3M628 157l44 6M1148 226l24 -2M1308 212l24 -3M1188 343l24 -2M1188 353l44 -4M1348 387l24 -4M1548 363l24 -5M768 421l24 2M1248 418l24 -3M1468 408l24 -4M1548 403l44 -10M1168 554l24 -2M1148 565l24 -1M1368 543l24 -4M1188 573l24 -2M1548 600l24 -5M1528 614l24 -5M1328 658l24 -4M1208 840l24 -2M1448 847l24 -4M968 920l24 0M1188 912l24 -2M1128 1006l44 -3M1268 1113l24 -3"/>
<path stroke="#004dff" d="M1368 86l24 -4M1588 69l24 -6M1008 230l24 0M1328 210l24 -3M1288 254l24 -2M1208 341l24 -2M1428 316l24 -5M1448 322l24 -4M1488 404l24 -4M1528 436l24 -5M1148 555l24 -1M1168 564l24 -2M1428 534l24 -4M28 406l44 16M1208 571l24 -2M1408 547l24 -4M128 556l24 8M1388 669l24 -4M28 530l24 10M1528 654l24 -6M1308 700l24 -3M1208 830l44 -4M1568 793l24 -6M1168 904l24 -2M1148 915l24 -2M1208 910l24 -2M1568 960l24 -6M1508 983l24 -5M1388 1175l24 -4"/>
<path stroke="#0080ff" d="M1348 -2l24 -3M1448 25l24 -4M1408 40l44 -6M1468 41l24 -4M928 119l24 1M1548 86l24 -4M1308 133l44 -6M1428 117l24 -4M1188 153l24 -2M1508 114l24 -5M1448 163l24 -4M1028 210l44 -1M1028 220l24 -1M1368 195l24 -3M1328 240l24 -3M1508 213l24 -5M1188 273l44 -3M1168 344l24 -1M1168 354l24 -1M1428 325l24 -4M308 345l24 6M1448 411l24 -4M1508 401l24 -5M748 459l24 2M1508 440l24 -5M1548 432l24 -5M908 519l44 1M1188 523l24 -2M1128 566l24 -1M1168 574l24 -2M1428 544l24 -5M28 415l44 16M28 521l24 9M1408 676l24 -4M1308 710l24 -3M1028 770l24 -1M1548 709l24 -6M1308 780l24 -3M1268 795l24 -3M1188 842l24 -2M1168 894l24 -2M948 920l24 0M988 920l24 0M1168 1003l44 -3M608 990l44 6M668 1018l24 4M448 988l44 10M1288 1111l24 -4M1328 1115l24 -4M1388 1155l24 -4M1448 1164l24 -5M148 1131l24 9"/>
<path stroke="#00b2ff" d="M1588 -10l24 -5M1488 38l24 -4M288 16l24 6M688 85l24 2M1328 90l24 -3M1368 105l24 -3M1428 107l24 -4M608 125l24 3M1548 106l24 -5M1208 162l24 -2M1468 130l44 -7M1428 167l24 -4M1068 209l24 -1M108 85l44 13M1008 220l24 0M1028 230l24 -1M1188 223l24 -2M1488 216l24 -4M1368 245l24 -4M1308 322l24 -3M1148 355l24 -1M1228 350l24 -2M1468 319l24 -5M1328 389l24 -3M788 413l24 1M1528 367l24 -5M1568 359l24 -5M288 340l24 7M328 350l24 6M748 419l24 2M808 424l24 2M1288 414l24 -3M768 461l24 2M948 520l24 0M1188 553l24 -2M488 622l24 4M1448 639l24 -4M1448 659l24 -4M1288 693l24 -3M1388 679l24 -4M1288 703l24 -3M1488 672l24 -5M1008 770l24 0M1048 769l24 0M1548 718l24 -5M1248 797l24 -3M1148 905l24 -2M188 789l64 20M1528 871l24 -6M108 829l44 16M1588 916l24 -7M1108 1007l24 -1M428 974l24 5M648 1015l24 4M1528 1028l24 -6M228 995l24 9M348 1032l44 12M1428 1089l44 -9M1468 1091l24 -6M1408 1152l24 -5M1408 1162l24 -5M768 1199l24 3M768 1219l44 4M1248 1235l24 -3M128 1123l24 10"/>
<path stroke="#00e5ff" d="M1328 21l24 -3M1368 36l24 -3M1568 4l24 -5M1448 44l24 -4M308 21l24 6M668 82l24 3M708 87l24 2M908 119l24 0M948 120l24 0M188 20l24 7M1348 108l24 -3M1388 103l24 -4M1508 84l24 -5M1508 94l24 -5M588 122l24 4M1348 128l24 -3M1388 123l24 -4M1288 145l24 -3M1448 134l24 -4M1508 124l24 -5M1008 210l24 0M8 52l64 22M88 78l24 8M148 97l44 12M1168 214l24 -1M1388 192l24 -3M988 230l24 0M1128 227l24 -2M1288 214l24 -2M408 191l24 5M1288 244l24 -2M1408 259l24 -4M1168 324l24 -1M1168 334l24 -1M1288 324l24 -3M1408 319l24 -4M768 411l24 2M1528 397l24 -5M1528 407l24 -5M1588 394l24 -5M728 457l24 3M1488 434l24 -5M1028 490l44 -1M1568 428l24 -5M888 518l24 1M1188 533l24 -2M1128 556l24 -1M1188 563l24 -2M1568 517l24 -6M1488 592l24 -4M1508 608l24 -5M468 618l24 5M508 625l24 5M1388 639l44 -7M1308 660l24 -3M1368 662l44 -7M1428 653l44 -8M1368 672l24 -4M1308 690l24 -3M1548 649l24 -5M1328 698l24 -4M168 608l44 14M1528 723l24 -6M1028 790l44 -1M1568 724l44 -11M1288 792l24 -3M1188 832l24 -2M1248 827l24 -3M1548 807l64 -15M1468 834l24 -5M1308 869l24 -3M1148 895l24 -2M1308 879l24 -3M1428 871l44 -9M168 782l24 8M248 808l24 7M928 919l24 1M908 929l24 0M1508 875l24 -6M1308 959l24 -3M1568 911l44 -12M88 821l24 9M148 843l24 8M1208 1000l24 -2M328 928l24 7M648 996l24 3M408 969l24 6M448 978l24 6M428 984l24 5M808 1073l44 3M248 1002l24 8M388 1042l24 7M1268 1103l24 -3M788 1131l24 2M908 1189l24 0M968 1240l24 0M168 1138l24 10M1588 1210l24 -7M328 1240l44 13"/>
<path stroke="#1affe5" d="M1288 -15l44 -5M1328 1l24 -3M808 24l64 4M908 29l24 0M1428 47l24 -3M548 57l24 4M168 -15l24 7M268 11l24 7M648 80l24 3M1368 76l24 -4M268 31l44 11M168 15l24 6M408 82l44 9M468 103l44 8M628 128l24 3M1288 135l24 -3M68 72l24 8M1048 219l24 0M1148 216l24 -2M1308 202l24 -3M1408 189l24 -3M-12 55l44 15M188 118l44 12M268 188l44 11M1168 274l24 -1M1588 227l24 -6M88 156l24 8M1188 323l24 -2M1188 333l24 -2M1448 312l24 -4M1128 357l24 -2M308 296l24 6M808 414l24 2M348 355l24 6M1408 398l24 -4M308 355l44 11M768 451l44 3M788 463l24 1M1548 413l44 -10M-12 295l24 9M1008 490l24 0M328 448l24 6M908 529l24 0M1108 527l24 -1M1208 531l24 -2M1468 497l24 -4M328 468l24 6M948 560l44 0M1108 567l24 -1M-12 391l24 9M1208 581l24 -2M808 654l24 1M1368 632l24 -3M1408 656l24 -4M1468 646l24 -5M1368 682l24 -4M728 707l24 2M1028 720l64 -2M1468 675l24 -4M148 602l24 8M208 621l24 7M908 739l24 0M148 611l44 15M468 716l24 5M1068 769l24 -1M1008 790l24 0M1588 729l24 -6M1228 839l24 -3M68 689q42 16 84 30M648 837l24 3M1308 850l24 -4M528 847l24 4M1408 854l24 -4M428 836l44 10M228 792l24 8M1188 902l24 -2M128 768l44 16M268 814l24 7M1128 916l24 -1M1468 873l44 -9M928 929l24 1M1028 940l24 -1M1568 871l24 -6M1108 957l24 -1M668 959l44 5M168 850l24 8M628 983l24 3M308 923l24 7M348 934l24 6M1488 978l24 -6M688 1021l24 3M488 997l24 5M1308 1039l24 -4M1228 1068l24 -3M1548 1023l24 -6M1388 1066l24 -4M228 986l24 8M328 1016l24 7M208 989l24 8M328 1026l24 7M128 970l64 23M128 980l24 9M768 1129l24 3M808 1133l44 3M1488 1086l24 -5M368 1096l44 12M8 979l44 19M388 1111l24 6M568 1151l24 5M888 1188l24 1M928 1189l24 1M768 1189l24 3M1288 1180l24 -3M748 1197l24 3M1588 1131l24 -7M788 1211l44 4M808 1223l24 2M948 1240l24 0M1328 1225l24 -4M1308 1237l24 -3M1008 1270l24 0M-12 1065l24 11M108 1116l24 9M468 1239l24 6M1568 1254l24 -7M308 1234l24 8M368 1252l24 7"/>
<path stroke="#4dffb2" d="M1208 -18l24 -2M1268 -13l24 -2M1288 -5l24 -2M1028 20l44 -1M1368 -4l24 -3M788 23l24 2M888 28l24 1M928 29l24 1M1248 29l24 -3M1268 37l24 -3M1568 -6l24 -5M1448 34l24 -4M988 80l24 0M568 60l24 3M148 -20l24 7M188 -9q42 11 84 22M468 54q42 7 84 14M108 -22l44 13M1468 71l24 -4M308 41l24 5M208 26l44 11M1328 110l24 -3M208 35l64 17M448 90l24 4M1368 125l24 -3M1168 155l24 -2M1188 163l24 -2M1228 160l24 -2M1448 144l24 -4M1228 190l24 -2M788 203l24 2M1088 208l24 -1M-12 45l24 9M188 108l24 7M368 153l44 9M28 69l24 8M168 112l24 7M228 129l24 6M1348 208l24 -4M388 187l24 5M428 195l24 5M808 264l24 2M1008 270l64 -1M248 183l24 6M68 149l24 9M108 162l24 8M128 178l44 14M288 252l44 11M1488 315l24 -4M288 291l24 6M368 320l64 14M1228 380l24 -3M1368 384l24 -4M748 409l24 2M268 335l24 7M1228 420l24 -3M1388 401l24 -4M1428 395l24 -4M288 350l24 6M348 365l24 6M1348 416l44 -6M1428 405l24 -4M1428 415l24 -4M8 283l24 9M748 449l24 2M248 369l44 12M8 302l24 9M988 490l24 0M1328 469l24 -3M968 520l24 0M-12 343l24 9M348 453l24 6M1408 497l44 -7M-12 353l44 16M208 426l44 13M-12 362l24 9M348 473l24 6M1148 575l24 -1M1388 550l24 -4M1188 583l24 -2M1508 579l24 -5M1388 629l24 -3M528 629l24 4M1068 669l44 -2M428 629l44 9M408 634l64 14M128 566l44 15M708 705l24 2M748 709l24 2M1008 720l24 0M1088 718l24 -1M1328 708l24 -4M228 627l24 7M888 738l24 1M188 624l24 8M-12 572l24 10M448 712l24 5M488 720l24 5M988 770l24 0M948 780l24 0M1028 780l44 -1M1568 714l24 -6M1328 777l24 -3M1228 799l24 -3M1308 790l24 -3M-12 658l24 10M48 682l24 9M148 717l24 9M628 834l24 3M848 866l24 1M1328 847l24 -4M88 716l24 9M508 843l24 5M1468 844l24 -5M1188 892l24 -2M208 786l24 7M248 798l24 7M108 761l24 9M908 919l24 0M1008 920l24 0M1228 908l24 -2M888 928l24 1M1008 940l24 0M1048 939l24 0M1488 889l24 -5M568 913l24 5M88 792l44 17M948 960l24 0M1088 958l24 -1M648 956l24 3M-12 801l24 10M608 980l24 3M648 986l24 3M748 998l24 2M1548 945l44 -11M208 892l24 8M508 971l44 9M588 986l24 4M1588 945l24 -6M468 983l24 5M628 1013l24 3M408 979l24 6M668 1028l24 3M468 1003l24 5M1288 1041l24 -3M1328 1036l24 -4M788 1071l24 2M848 1076l24 1M1508 1033l24 -6M448 1037l44 10M8 904l64 26M248 992l24 8M308 1011l24 7M348 1022l24 7M188 982l24 9M268 1008l24 8M408 1047l24 7M828 1114l24 2M108 963l24 9M448 1067l24 6M788 1121l24 2M828 1124l44 3M1408 1092l24 -4M108 972l24 10M148 987l24 9M848 1136l24 1M1248 1126l24 -3M-12 971l24 10M48 996l24 10M368 1106l24 6M948 1190l24 0M1368 1159l24 -5M1428 1148l24 -5M8 989l24 10M748 1187l24 3M788 1201l24 2M1368 1178l24 -4M328 1124l44 12M768 1209l24 2M828 1214l24 2M508 1199l44 9M968 1250l24 0M148 1102l24 9M1008 1260l24 0M988 1270l24 0M1028 1270l24 -1M-12 1055q42 19 84 37M208 1143l44 16M448 1214l44 11M8 1074l24 11M88 1107l24 10M188 1146l64 22M448 1234l24 6M488 1243l44 10M568 1260l24 5M448 1244l24 6M328 1231l44 13M128 1190l44 17M128 1200l24 9"/>
<path stroke="#80ff80" d="M1268 -3l24 -2M508 -9l24 4M868 28l24 0M1028 50l44 -1M1008 80l24 0M1408 50l24 -3M488 47l64 11M688 75l44 4M828 86l44 2M328 26l24 5M548 67l24 4M628 78l24 3M728 88l24 2M1348 78l24 -3M1508 54l44 -8M148 -11l24 7M188 1l24 6M648 90l24 3M708 97l44 3M948 110l24 0M1448 74l24 -4M1488 68l24 -5M248 26l24 6M328 45l24 6M448 70l24 4M648 100l24 3M1588 59l24 -5M48 -22l24 8M108 -3l64 19M248 36l24 6M188 30l24 7M268 51l64 15M448 100l24 4M568 119l24 4M788 143l24 2M1208 142l24 -2M1308 143l24 -3M508 130l24 4M88 69q42 13 84 25M808 204l24 2M1208 202l44 -4M208 114l24 6M348 148l24 6M1068 219l24 -1M388 167l24 5M1048 229l24 0M468 192l24 5M988 240l44 0M788 263l24 2M988 270l24 0M148 155q52 16 104 29M588 252l44 6M1228 270l24 -2M1388 262l24 -4M1568 231l24 -5M128 168l24 8M108 172l24 8M168 190l24 7M308 228l44 10M1508 262l24 -5M28 175l64 21M1148 336l24 -2M1148 345l24 -1M1248 348l24 -2M268 286l24 7M428 323l44 9M348 316l24 5M428 333l24 5M908 389l64 1M1048 389l24 0M1208 381l24 -2M488 354l24 5M1548 353l24 -5M48 268l44 15M168 307l24 7M728 418l24 2M1308 411l24 -3M1368 404l24 -4M68 285l24 8M1388 411l24 -4M1448 402l24 -5M348 375l44 10M548 414l44 7M-12 276l24 9M28 290l24 9M68 304l44 15M808 454l24 2M288 379l24 7M708 455l24 3M808 464l24 2M228 373l44 12M968 490l24 0M1068 489l24 -1M868 517l24 1M8 350l24 9M188 410l44 13M308 443l24 7M928 529l24 1M128 401q42 14 84 26M248 437l24 7M1168 534l24 -2M1588 473l24 -6M8 370l24 9M168 424l64 19M308 463l24 6M748 539l24 2M1228 539l24 -2M1528 496q42 -9 84 -19M348 483l24 6M988 560l24 0M1208 551l24 -2M-12 381l24 10M1568 507l44 -10M1228 569l24 -2M1228 579l24 -2M128 469l24 8M228 500l24 7M1488 583l24 -5M48 471l24 8M168 511q42 13 84 25M1368 623l24 -4M788 652l24 2M828 655l24 1M448 614l24 5M548 633l24 4M1428 633l44 -8M1508 618l24 -5M548 642l24 5M348 610l24 7M408 625l24 5M108 559l24 9M1268 695l24 -3M48 547q62 23 124 43M688 702l24 3M1108 717l24 -1M1288 713l24 -3M128 595l24 8M248 632l24 8M928 739l24 1M208 630l44 14M548 712l24 4M888 748l24 1M8 580l24 10M228 656q42 13 84 24M968 770l24 0M208 659l44 14M308 688l24 7M968 780l24 0M1068 779l24 -1M8 599l64 25M128 643l64 21M348 709l44 11M988 790l24 0M1068 789l24 -1M508 764l24 5M1408 775l44 -8M1488 761l44 -10M528 787l64 12M208 718l44 13M1168 834l24 -2M1168 844l24 -2M8 666l44 18M88 706l64 23M828 865l24 1M868 867l24 1M1108 867l24 -1M1508 816l24 -6M108 723l24 9M1208 870l44 -4M1308 859l64 -9M548 850l24 5M948 890l24 0M228 782l24 8M408 831l24 6M468 845l24 5M1468 863l24 -5M88 754l24 9M288 820l24 7M528 877l24 4M948 930l24 0M1308 909l44 -6M168 811l44 15M588 917l24 4M-12 753l44 18M128 807l64 22M968 960l24 0M888 968l24 1M1348 943l24 -3M-12 772l24 10M108 819q62 23 124 42M1008 980l44 -1M68 814l24 9M188 857l24 8M188 876l44 15M308 913l24 7M728 996l24 2M248 915l44 13M448 968q42 10 84 18M628 1003l44 6M908 1029q42 1 84 1M1368 1000l44 -8M8 837l24 11M928 1039l24 1M1388 1007l24 -5M28 855l24 10M68 871l24 9M228 928l64 20M348 963l64 17M648 1025l24 4M1168 1043q42 -3 84 -8M1288 1031l44 -6M8 856l64 26M248 944l24 7M348 973l44 12M448 998l24 6M488 1007l24 5M708 1043l24 3M968 1060l44 0M1268 1044l24 -3M1348 1033l24 -4M1448 1016l44 -10M268 960l24 7M368 988l24 7M428 1003l44 10M1588 994l24 -6M148 929l24 9M248 963l64 20M628 1052l24 4M68 909l24 10M248 983l24 7M428 1033l24 6M488 1046l24 6M-12 895l24 11M68 928l24 10M208 979l24 8M468 1052l64 13M1028 1110l24 -1M168 975l24 9M288 1014l44 13M688 1100l24 4M808 1113l24 2M1288 1101l24 -3M188 992l24 8M428 1062l24 6M468 1071l24 6M768 1119l24 3M808 1123l24 2M868 1127l24 1M88 965l24 9M268 1028l64 19M428 1072l44 10M668 1118l24 3M748 1127l24 3M1448 1095l24 -5M268 1037l44 14M108 991q42 17 84 31M68 985l44 18M808 1163l24 2M348 1090l24 7M788 1171l44 4M1508 1121l24 -5M68 1004l44 18M168 1042l44 16M348 1100l24 7M408 1116l24 6M468 1131l24 5M548 1147l24 5M588 1155l24 4M768 1179l24 3M968 1190l24 0M-12 980l24 11M28 997l24 11M728 1185l24 3M788 1191l24 2M588 1175l24 4M1148 1204l24 -1M1568 1136l24 -6M128 1056l44 17M308 1118l24 7M368 1135l24 7M1028 1220l44 -2M1088 1218l44 -3M368 1145l44 12M748 1217l24 3M1308 1208l44 -7M768 1229l24 2M988 1240l24 0M948 1250l24 0M128 1095l24 9M168 1110l24 9M228 1131l24 8M508 1208l44 10M1028 1260l24 -1M1288 1240l24 -3M508 1218q62 14 124 24M68 1090l24 10M188 1136l24 9M248 1157l44 14M28 1082l64 28M248 1167l24 8M528 1252l44 9M588 1264l44 7M468 1249l24 5M368 1233l24 6M308 1225l24 7M368 1242l24 7M388 1258l24 6M108 1182l24 10M168 1206l24 9M108 1192l24 10M148 1207l24 10"/>
<path stroke="#b3ff4c" d="M1128 -3l44 -3M788 13l24 2M488 -12l24 4M528 -6l24 4M468 -6l44 8M568 10l24 4M608 45l24 4M968 80l24 0M188 -19l24 7M1548 37l24 -5M168 -5l24 7M208 6l24 6M428 56q42 8 84 15M628 88l24 3M668 92l44 5M928 109l24 1M968 110l24 0M1428 77l24 -4M1508 64l24 -4M68 -15l44 14M268 41l24 6M448 80l24 4M488 87l44 7M1448 94l44 -7M328 65l24 6M388 78l24 5M468 93l44 8M348 79l44 10M428 96l24 5M508 110l24 4M768 142l24 1M808 144l24 2M1188 143l24 -2M1268 137l24 -3M448 110l44 8M1328 140l24 -3M488 127l24 4M1428 137l24 -4M388 127l44 9M108 65l44 14M448 149l44 8M1128 197l24 -2M1208 192l24 -2M68 62l24 8M168 93l44 12M728 198l64 5M1108 208l24 -2M1188 203l24 -2M308 139l44 10M988 220l24 0M1088 218l24 -1M1128 217l24 -2M1188 213l24 -2M1428 186l24 -3M48 75l64 21M148 106l24 8M248 134q42 11 84 21M348 158l44 10M408 171l44 9M1108 228l24 -2M1588 167l24 -5M-12 64l24 9M108 104l44 14M388 177q42 9 84 16M488 196l24 4M1568 181l44 -9M128 120q42 13 84 24M668 232l44 5M1008 250l24 0M1108 248l24 -2M1448 213l44 -7M368 192l64 14M1528 209l24 -5M108 133q52 16 104 31M368 202l44 9M488 226l24 4M828 265l24 2M968 270l24 0M1068 269l24 -1M128 149l24 7M308 198l24 6M628 257l24 3M788 273l64 4M88 146q72 23 144 43M248 193l44 11M588 261l24 4M48 143l24 8M148 174l24 8M1428 266q52 -8 104 -18M-12 132l24 9M68 159l44 15M188 196l24 7M268 218l44 11M348 237l24 5M1488 266l24 -5M1528 258l44 -9M268 227l64 16M1308 312l24 -3M8 168l24 8M88 195l24 8M268 247l24 6M268 257l24 6M1228 340l24 -2M408 299l64 13M1108 357l24 -1M48 210l24 9M288 281l44 11M448 317l44 9M248 281l24 6M328 301l24 6M408 319l24 5M468 331l24 5M308 306l44 11M448 337l64 12M808 384l44 3M888 388l24 1M968 390l24 0M1068 389l24 -1M468 351l24 4M508 358l24 4M328 331l24 5M1308 392l24 -3M288 330l64 16M728 408l24 2M1288 404l24 -3M88 282l24 8M128 295l44 13M188 313l24 7M248 330l24 6M48 278l24 9M88 292q42 14 84 26M268 345l24 6M1008 440l44 -1M1408 408l24 -4M-12 266q72 27 144 50M328 370l24 6M528 411l24 4M588 420l24 4M1008 450l24 0M48 297l24 9M108 317l24 8M228 363l24 7M928 469l24 1M28 310l24 8M948 480l44 0M28 319l24 9M1588 424l24 -6M528 480l24 5M168 404l24 8M228 422l24 7M288 438l24 7M888 528l24 1M1588 463l24 -5M28 367q52 19 104 36M308 453l44 11M1228 529l24 -2M1528 486l64 -14M-12 372l24 9M248 457q52 14 104 27M368 488l24 5M1108 557l24 -1M1548 501l64 -14M448 515l44 9M848 566l24 1M1088 568l24 -1M1508 519l64 -13M8 398l24 10M208 465l64 18M308 492l24 7M308 502l24 7M228 490l24 7M908 599l44 1M1248 587l64 -7M868 617l24 1M28 463l24 9M88 485q42 14 84 28M248 535l24 7M408 575l64 14M1508 589l24 -5M1348 625l24 -3M1388 620l24 -4M1508 598l24 -5M-12 477q42 16 84 31M328 586l44 11M1468 626l24 -5M-12 487l24 9M48 509l44 16M528 639l24 4M568 646l24 4M1568 615l44 -10M288 595l64 17M368 615l44 11M1268 675l24 -3M1348 665l24 -3M168 569l24 8M388 630l24 6M1328 678l44 -7M88 552l24 9M168 579l24 8M28 540l24 9M168 589l24 8M-12 544l24 10M108 588l24 9M268 638l24 7M868 737l24 1M1568 675l44 -11M128 605l24 8M248 642l24 7M528 708l24 5M568 715l24 4M908 749l24 0M228 646l44 13M448 702l24 6M528 718l44 8M28 588l24 9M428 708l24 5M508 724l44 8M1088 768l24 -1M-12 582q42 17 84 32M248 671l64 19M328 694l24 6M928 779l24 1M988 780l44 0M1088 778l24 -1M-12 592l24 9M108 636l24 9M188 663l64 20M328 703l24 7M388 718l24 6M1428 752l44 -8M-12 601l64 25M1048 799l44 -1M1388 768l24 -4M8 618l44 18M488 760l24 5M528 768l44 8M1368 781l44 -7M1468 764l24 -4M1528 752l24 -5M428 757l24 6M548 781l24 4M928 819l24 1M1528 762l24 -5M588 798l24 4M248 730l24 7M1148 835l24 -2M668 839l24 3M68 699l24 9M148 727l24 9M308 776q42 12 84 22M628 844l44 6M808 863l24 2M1528 811l24 -5M68 708l24 9M228 763l44 13M508 833l24 5M1088 878l44 -2M1288 862l24 -3M1368 851l24 -4M1508 826l44 -10M208 766l44 14M928 889l24 1M248 788q52 16 104 30M1128 896l24 -1M188 779l24 8M268 804l24 7M428 846l24 5M1128 906l24 -1M1288 912l24 -3M188 808q52 17 104 32M988 940l24 0M1168 933l24 -2M208 824l24 8M948 950l24 0M28 769l64 25M188 828l24 8M868 957l44 2M928 959l24 1M8 780l24 10M88 812l24 9M228 860l24 8M708 964l44 4M1068 989l44 -2M128 845l44 16M8 809l24 10M168 869l24 9M228 889l24 8M288 907l24 7M328 919l24 6M768 1000l24 2M1528 949l24 -5M1588 935l24 -6M28 826l24 10M128 865l24 9M248 905l24 8M288 917l24 7M448 959l24 5M688 1001l24 3M728 1006l44 4M888 1018l24 1M1088 1018l24 -1M-12 820l44 18M148 881l24 9M208 902l44 14M288 927l44 13M428 964l24 6M528 985l44 9M608 999l24 4M668 1008l24 4M1068 1029l24 -1M1208 1020l44 -5M1408 993l24 -4M-12 829l24 10M28 845l24 10M108 877l44 16M268 930l44 14M388 964l24 6M488 987l24 5M948 1040l24 0M1208 1030l24 -2M1488 988l24 -6M248 953l24 8M288 966q42 12 84 23M388 993l44 11M468 1012l44 10M668 1048q52 7 104 12M128 922l24 9M208 950l44 15M308 981l44 13M648 1055l24 4M928 1079q42 1 84 1M48 901l24 10M88 917l24 9M228 976l24 8M268 989l24 7M408 1028l24 6M548 1058l24 5M88 936l24 9M268 999l44 13M368 1027l24 7M448 1047l24 6M148 968l24 9M668 1098l24 3M848 1116l24 1M1248 1106l24 -3M88 955l24 10M208 999l44 14M288 1024l64 19M388 1052l44 11M1248 1116l24 -3M248 1031l24 8M308 1050l24 7M568 1112l24 4M88 984l24 9M188 1021l24 8M408 1087l64 15M608 1128l44 7M808 1153l44 3M1308 1138l44 -7M1528 1097l44 -11M48 977l24 10M108 1001l24 9M168 1023l44 16M888 1168l24 1M1468 1120l44 -10M188 1040l44 15M408 1106l24 6M828 1174l24 2M1488 1126l24 -6M1528 1117l24 -6M108 1020l64 24M208 1056l24 9M428 1121l44 11M488 1135l44 9M728 1175l44 5M868 1187l24 1M1448 1144l24 -5M568 1161l64 11M968 1200l44 0M448 1146l24 5M508 1159l44 9M608 1178l24 4M1128 1206l24 -2M108 1049l24 9M168 1071l64 23M388 1140l24 7M428 1151q62 15 124 27M848 1216l24 1M1068 1219l24 -1M328 1133l44 13M408 1155l24 7M828 1224l24 2M748 1227l24 3M548 1207l24 4M628 1221l24 4M748 1237l24 3M1168 1243l24 -2M1228 1237l24 -2M208 1124l24 9M468 1199l44 10M548 1217l24 4M868 1257l24 1M1048 1259l24 -1M1168 1253l44 -4M8 1055l24 11M228 1140l44 15M428 1200q42 10 84 19M628 1241l24 4M1048 1269l24 -1M168 1129l24 9M348 1188l44 12M428 1209l24 7M488 1224l24 5M548 1236l24 5M448 1224l24 6M668 1267l24 3M428 1239l24 6M168 1167l44 16M388 1238l24 7M8 1111l24 11M388 1248l24 7M288 1228l24 8M408 1263l24 7M148 1188l24 10M328 1250l64 19M-12 1130l24 12M88 1174l24 10M188 1213l24 9M88 1183l24 11M168 1215l44 17M128 1209q52 21 104 39M88 1250l24 10M88 1259l24 11M-12 1224l24 12"/>
<path stroke="#e5ff1a" d="M528 -16l44 7M768 12l24 2M1008 20l24 0M1068 19l24 -1M548 -3l24 4M1028 30l24 -1M448 -9l24 4M548 7l24 4M628 38l24 3M1108 58l44 -3M1268 47l44 -5M1548 7l24 -4M348 0q52 12 104 21M628 48l24 3M1568 13l24 -5M428 27q42 8 84 15M948 80l24 0M208 -14l24 7M428 37l64 11M668 72l24 3M728 78l24 3M868 87l24 1M1528 41l24 -5M1568 33l44 -9M588 73l24 3M768 92l24 1M968 100l64 0M1188 93l64 -5M1408 70l24 -3M108 -13l24 8M208 16l24 6M368 54l44 9M508 80l24 4M1468 81q52 -9 104 -19M288 46q42 10 84 19M408 72l44 9M468 83l24 5M528 94l24 3M688 114l24 3M928 129l24 1M1428 97l24 -4M1488 87l24 -4M168 24l24 7M348 69l24 6M508 100l24 4M668 122l24 3M1188 133l24 -2M428 106l24 4M488 117l24 4M628 138l64 7M988 160q42 0 84 -1M1028 170l24 -1M1268 157l24 -3M348 119l24 5M428 135l44 9M1268 177l44 -5M-12 26l24 8M88 59l24 8M148 77l44 13M388 137l64 13M488 156l24 5M708 186l44 4M1148 196l24 -2M1468 160l24 -4M1588 138l24 -6M-12 36q42 14 84 28M208 104l24 6M388 147l24 5M828 205l24 2M968 210l44 0M1128 207l64 -4M228 119q42 11 84 21M408 161l24 5M728 208l44 4M1108 218l24 -2M1588 158l24 -6M108 94l44 14M328 154l24 5M448 179l24 4M768 221l44 4M1208 222l24 -2M1488 187l24 -5M1568 172l24 -6M8 71q52 18 104 35M148 116l24 7M348 168l44 10M728 228l24 2M948 240l44 0M1148 236l24 -2M1468 200l24 -4M1548 185l24 -5M88 107l24 8M208 143l24 7M648 230l24 2M1328 230l64 -9M1428 216l24 -4M1488 206l24 -4M148 136l44 12M348 188l24 5M1348 237l24 -3M328 203l44 10M488 236l24 4M568 249l24 3M648 259l24 3M768 271l24 2M848 276l24 2M988 280l44 0M1128 277l44 -3M1288 264l24 -2M228 187l24 7M288 203l24 6M388 226l64 13M568 259l24 3M608 264l24 4M828 285l44 3M1008 290l44 -1M8 139l64 22M208 202l24 6M248 212l24 7M1168 304l24 -1M1468 269l24 -4M1568 251l44 -10M-12 141l24 9M1348 297l44 -6M48 172l64 21M1148 326l24 -2M1288 314l24 -3M-12 161l24 9M248 242l24 6M328 262l24 6M1208 331l24 -2M388 295l24 5M468 311l44 8M68 217q42 14 84 27M268 276l24 7M408 309l44 9M488 325l24 4M348 306l24 5M388 315l24 5M488 335l24 4M508 348l24 4M848 386l44 2M1248 378l44 -5M448 347l24 5M528 361l24 4M1188 393l44 -4M348 335l24 6M468 361l64 11M1028 410l24 -1M1108 407l64 -3M1248 398l64 -7M1428 375l24 -4M1468 368l44 -8M208 309l64 18M568 388l44 6M828 415l24 2M1268 406l24 -3M1308 402l24 -3M1468 378l44 -8M108 288l24 8M208 319l44 12M488 384l44 8M168 317l24 7M248 340l24 6M368 369l24 6M1468 398l24 -4M128 314l24 8M308 365l24 6M388 384l24 5M508 408l24 4M868 447l44 2M1028 450l24 -1M1548 393l64 -14M128 324l24 8M728 447l24 3M1208 451l24 -2M128 334l44 13M308 385l24 6M948 470l24 0M1488 424l64 -12M48 317l24 8M128 343l44 14M268 384l24 7M388 413l44 10M788 473q42 3 84 5M928 479l24 1M988 480l44 0M8 312l24 9M48 326l44 16M388 423l24 6M228 393l44 12M428 442l44 9M948 500l44 0M1488 464l24 -5M28 348l24 9M248 418l44 12M508 477l24 4M548 484l44 7M988 520l24 0M28 358l44 15M248 428l44 12M368 458l24 6M1568 468l24 -6M288 448l24 7M348 463l24 6M588 510l24 4M1068 539l24 -1M1328 519l24 -4M48 384l24 9M108 405l44 14M268 453l44 11M528 510l24 4M648 528l24 3M788 542l24 2M1348 526l24 -4M1488 503l24 -4M8 389l24 9M68 410l44 16M268 472l24 7M428 511l24 5M488 523l24 4M1208 561l24 -2M1488 523l24 -5M88 427l44 15M188 459l24 7M268 482l44 12M328 498l24 6M1508 529l64 -13M288 497l24 7M328 507l24 6M1508 539q42 -8 84 -18M8 418l64 23M208 484l24 8M248 496l64 17M408 536l24 5M728 587l44 4M888 598l24 1M948 600q52 0 104 -1M1128 596l44 -2M1308 581l24 -3M1488 553l44 -9M28 435l24 9M88 456l24 8M368 537l24 5M488 562l44 8M708 595l24 3M748 599l44 4M1208 601l44 -4M1328 588l24 -3M1488 563l24 -5M1528 555l44 -10M408 556l24 5M688 603l44 4M848 616l24 1M888 618l24 1M428 570l44 9M68 478l24 8M268 541l24 6M388 571l24 5M468 588l24 5M1168 634l24 -2M1348 615l44 -6M1468 596l24 -4M808 644l24 1M1408 616l24 -4M148 524l44 14M68 507l24 8M288 575l44 12M368 596l24 6M568 636l24 4M1048 669l24 0M1108 667l24 -1M1588 601l24 -6M8 494l44 17M88 523l24 9M268 580l24 6M308 590l44 12M1048 679l44 -1M1468 636l44 -9M1528 624l44 -10M68 526l24 9M268 589l24 7M1228 679l44 -5M1288 673l24 -3M1328 668l24 -4M68 535l64 23M148 563l24 8M188 576l24 7M288 605q52 14 104 26M1308 680l24 -3M-12 515l24 10M188 585l24 8M628 685l44 6M688 692l24 3M1248 697l24 -3M1328 688l44 -7M1568 645l44 -11M-12 525l44 17M188 595q52 16 104 31M768 710l24 2M1128 716l24 -1M1348 695l24 -4M1508 668l44 -10M208 611l44 13M668 710q52 6 104 11M908 729l24 0M988 730l44 0M8 552l24 9M88 581l24 9M288 644l24 7M588 708l24 4M648 717l44 6M808 734l24 1M948 740l24 0M1108 737q42 -2 84 -5M1528 683l44 -10M508 705l24 4M588 718l24 4M28 578q42 16 84 31M208 640l24 8M268 658l24 7M428 698l24 5M1148 755l24 -2M1548 699l24 -6M48 595l24 10M208 650l24 7M308 679l24 6M548 732l24 4M1108 767l44 -2M68 612q42 16 84 30M188 653l24 8M348 699l24 6M488 730l64 12M1268 765l24 -3M-12 611l24 9M48 634l64 23M348 728l24 6M448 752l44 9M568 775l24 4M1328 787l44 -6M1448 768l24 -5M1548 748l24 -6M88 658l64 23M448 762q52 11 104 20M568 785l24 4M908 819l24 0M1508 766l24 -5M1548 758l24 -6M188 702l44 14M388 758l64 15M508 784l24 4M608 801l24 4M748 818l24 3M1128 826l24 -1M1128 836l24 -1M448 791l24 5M168 724l24 8M228 743l24 8M608 831l24 3M808 853q42 3 84 5M908 859l24 0M1548 797l24 -6M-12 668l24 10M48 691l24 10M288 771l24 7M388 797l44 11M668 849l24 3M888 868l24 1M948 870l44 0M1068 869l24 -1M1128 866l24 -1M1208 860q52 -4 104 -11M1488 820l24 -5M188 760l24 8M488 839l24 5M208 776l24 8M348 816l24 7M488 849l24 5M708 884l44 5M1288 882l24 -3M1328 877l24 -4M448 850l24 6M68 747l24 9M308 825l24 7M508 873l24 4M548 880l24 5M968 930l64 0M1148 925l44 -3M168 802l24 8M288 839q52 15 104 28M68 775l24 10M148 804l24 9M228 831q52 16 104 30M388 876l44 10M548 910l24 4M608 920l44 7M968 950l24 0M368 880l44 11M628 933l44 6M848 956l24 1M908 959l24 0M988 960l24 0M1368 930l24 -4M48 787l24 9M168 830l44 15M248 856l64 19M688 951q72 9 144 14M1508 914l24 -5M28 788l24 10M68 804l24 9M748 968l24 2M1048 979l24 0M-12 782l24 10M208 863l24 8M648 966l24 3M1008 990l64 -1M1348 963l24 -4M108 838l24 9M168 859l24 9M288 898l64 18M508 952l24 5M28 817q42 17 84 33M128 855l44 16M248 895l24 8M468 953l44 10M588 976l24 4M708 993l24 3M1228 998l24 -3M1508 954l24 -6M88 850l44 16M268 911l24 7M368 939q42 11 84 21M708 1003l24 3M768 1010l24 2M968 1020l24 0M1048 1019l24 0M1108 1017l24 -1M1388 987l64 -12M48 854l24 9M88 869l24 9M248 924l24 8M308 942l24 7M528 995l24 5M908 1039l24 0M1188 1032l24 -3M1228 1028l24 -3M1468 992l24 -5M1588 965l24 -7M88 879l44 16M188 915l24 8M988 1050l24 0M1088 1048l44 -2M1348 1023l44 -7M1588 974l24 -6M88 888l24 10M208 931l24 8M508 1011l24 5M608 1029q52 9 104 15M788 1051l24 2M908 1059l44 1M1008 1060l24 0M1068 1059l64 -3M1368 1030l64 -12M1508 1003l64 -15M228 947l24 8M508 1021l24 5M548 1029q62 11 124 20M768 1060l24 2M28 893l24 10M108 924l24 10M288 985l64 19M448 1028l44 9M808 1083l44 3M1388 1056l24 -4M-12 886q42 18 84 35M128 941l44 17M208 970l24 8M288 995l24 7M388 1023l24 6M508 1050l44 9M568 1062l24 4M108 944l24 9M148 958l64 23M528 1064l44 9M888 1108l44 1M1008 1110l24 0M1588 1033l24 -6M-12 905l24 10M88 945l64 25M428 1052l44 11M528 1074l44 9M708 1103l24 3M1088 1118l44 -2M-12 914l44 19M68 947l24 10M248 1012l44 14M348 1041l44 12M488 1076l24 5M1308 1108l24 -3M1368 1099l24 -4M1468 1081l24 -6M188 1001l64 22M348 1051l44 12M468 1081l24 6M588 1105l24 4M628 1112l24 4M708 1123l24 3M868 1137l24 1M928 1139l44 1M988 1140l44 0M1348 1112l24 -4M128 989l44 17M228 1025l24 8M548 1108l24 4M808 1143l24 2M848 1146l44 2M68 976l24 10M548 1118l24 4M588 1125l24 4M648 1135l24 3M788 1151l24 2M848 1156l24 1M1288 1141l24 -4M1348 1132l24 -4M1408 1122q42 -8 84 -17M1508 1102l24 -6M1568 1087l24 -6M-12 952l24 11M28 969l24 10M128 1009l44 16M208 1037l24 9M868 1167l24 1M908 1169l24 0M1288 1151l44 -7M1448 1124l24 -5M88 1003l44 17M168 1033l24 9M228 1054l24 8M328 1085l24 7M228 1063l24 8M328 1094l24 7M528 1143l24 5M708 1173l24 3M1028 1190l24 -1M1228 1178l44 -6M1528 1127l24 -6M48 1006l24 10M128 1037l44 17M308 1098l44 13M548 1157l24 5M628 1171l24 4M708 1183l24 3M808 1193l24 2M1008 1200l24 0M1428 1158l24 -5M-12 990l24 10M128 1047l44 16M388 1130l64 17M468 1150l44 10M548 1167l24 5M808 1203l24 2M908 1209q52 1 104 1M88 1041l24 10M228 1092q42 14 84 27M408 1145l24 7M548 1177q52 10 104 18M748 1207l24 3M868 1217l24 1M28 1026l44 18M208 1095q62 22 124 40M428 1160l64 16M548 1187l64 12M1288 1210l24 -3M1528 1166l24 -6M88 1060l24 10M788 1231l24 2M-12 1037l24 11M108 1087l24 10M188 1117l24 9M248 1138l24 8M348 1168l44 13M448 1195l24 6M828 1254l44 3M888 1258l44 1M988 1260l24 0M1068 1259l24 -1M-12 1046l24 11M28 1064l24 10M208 1134l24 8M268 1154l24 8M868 1267l64 2M968 1270l24 0M1128 1266l44 -4M1528 1215l24 -6M1588 1200l24 -7M268 1173l24 8M348 1198l24 7M428 1219l24 6M468 1229l24 6M1488 1234l24 -6M1568 1215l24 -7M268 1183l44 14M328 1201l64 19M428 1229l24 6M1368 1268l24 -5M148 1160l24 9M208 1182l24 8M348 1227l24 7M-12 1112l64 28M148 1179l44 17M268 1222l24 8M208 1230l24 9M108 1201l24 10M228 1247l64 21M48 1185l24 11M88 1202l24 11M128 1219l44 17M8 1177l24 11M68 1203l24 11M128 1228l24 10M28 1195l44 20M168 1253l44 17M8 1233l24 12M28 1261l24 11"/>
<path stroke="#ffe500" d="M948 -10l44 0M1188 -17l24 -1M688 -15l64 6M808 -5l24 1M1108 -2l24 -1M1048 9l24 0M1228 0l44 -3M1348 -11l44 -6M508 -19l24 4M568 -10l24 4M1148 16l44 -3M568 0l24 4M768 22l24 2M948 30l24 0M1128 27l24 -1M508 1l24 4M588 13l24 3M908 39l64 1M1148 36l64 -4M1528 -9l64 -12M428 -3l24 5M468 4l24 5M528 14l44 7M668 33l44 4M1088 48q42 -1 84 -4M1208 42l24 -2M1308 33l24 -3M328 -4l24 6M448 20l24 5M648 50l44 5M1548 17l24 -5M1588 9l24 -5M388 19l44 9M1028 80l24 -1M228 -8l44 11M348 20l24 6M408 33l24 4M588 63l24 3M808 84l24 2M988 90l44 0M1408 60l44 -6M1508 44l24 -4M348 30q52 11 104 21M788 93l24 2M948 100l24 0M1168 95l24 -2M1248 89l24 -3M1388 73l24 -4M528 74l24 4M608 85l24 3M748 100l24 2M908 109l24 0M1548 57l24 -5M1588 49l24 -5M128 -7q42 13 84 24M668 102l44 5M988 120l24 0M1328 100l64 -8M1448 84l24 -4M368 64l24 5M548 97l24 3M1068 129q62 -2 124 -6M1408 100l24 -4M368 74l24 5M528 103l24 4M688 124l44 5M768 132l44 3M968 140l24 0M1168 135l24 -2M1208 132l24 -2M1308 123l24 -3M1448 104l24 -4M28 -9l24 8M88 10l44 14M168 34q62 18 124 33M308 70l24 6M548 117l24 3M668 132l24 3M728 138l24 2M848 147l24 1M1488 107l44 -8M128 32l64 19M248 65q42 11 84 21M408 102l24 5M588 132l44 6M688 144l24 3M968 160l24 0M1068 159l64 -3M1388 133q42 -6 84 -13M68 24l24 7M348 99l44 10M528 133l24 4M988 170l44 0M1248 158l24 -2M1288 155l24 -3M288 95q72 18 144 31M488 137l24 4M1188 173l64 -5M1328 160l24 -3M48 36l24 9M108 55l44 14M328 114l24 6M368 123l24 5M468 143l24 4M1308 172l24 -2M1408 160l64 -11M1528 140l44 -9M8 33l24 8M68 53l24 7M188 88l44 13M368 133l24 5M688 184l24 3M988 200l44 0M1388 172l44 -6M1488 157q52 -9 104 -20M228 109l24 7M368 143l24 5M408 151l24 5M708 196l24 3M908 209l64 1M1588 148l24 -6M428 165l24 5M708 206l24 3M768 211l24 2M1488 177q52 -9 104 -21M48 95l44 14M108 114l24 7M228 148l24 7M288 164l24 6M368 182l24 6M448 199l24 4M628 227l24 3M908 249q42 1 84 1M1028 250l24 -1M1128 247l64 -4M1248 238q42 -4 84 -9M1388 222l44 -7M128 130l24 7M188 147l44 12M268 169l44 11M328 183l24 6M628 237l44 5M1108 258l24 -2M1368 235l24 -4M1468 220l24 -5M68 120l24 8M248 173q62 16 124 30M688 254l44 4M888 268q42 2 84 2M1168 264l24 -1M1248 258l24 -2M108 143l24 8M368 212l44 9M508 239l64 10M668 262l24 2M748 270l24 2M868 277l24 1M948 280l24 0M1108 278l24 -2M1268 266l24 -2M1308 262l24 -3M1408 249l24 -4M68 140l24 8M348 217l44 10M448 238l24 5M788 283l44 3M868 287l24 1M988 290l24 0M1048 289l24 0M1428 256l24 -4M28 136l24 9M188 186l24 7M908 299l24 0M988 300q42 0 84 -1M1148 296l24 -2M1248 288l24 -2M1288 284l44 -5M1548 245l24 -5M8 148l24 9M108 182q62 19 124 36M328 242l24 6M1268 306q42 -4 84 -10M1388 292l44 -7M1488 276l44 -9M1568 260l44 -9M28 165l24 9M108 191l24 8M168 210l44 12M1208 321l24 -2M1528 278l44 -9M228 236l24 7M128 217l44 14M248 251l24 7M288 262l24 6M368 281q42 9 84 17M528 312l44 7M1128 347l24 -2M1368 324l44 -6M88 214l64 20M368 291l24 5M508 318l24 5M-12 190l64 22M148 243l44 13M328 291q42 10 84 19M608 344l24 3M728 358l44 4M1128 367l44 -3M1508 322l64 -13M88 233l24 8M228 275l24 7M368 310l24 6M508 338l24 4M948 380l64 0M1088 378l44 -2M128 256l44 14M248 291l64 16M528 352l44 7M988 390l24 0M1028 390l24 -1M1288 374l64 -8M8 226l44 15M348 325q52 13 104 23M548 365l24 4M608 374l64 8M1128 397l64 -5M1228 390l44 -5M1328 379l24 -3M28 242l64 22M308 326l24 6M368 340l24 5M448 357l24 5M528 371l24 4M588 381l44 6M648 389q42 5 84 9M1048 409l64 -2M1408 378l24 -4M1448 372l24 -4M1508 361l24 -5M-12 238l24 9M188 303l24 7M268 325l24 7M348 345l24 6M548 385l24 3M708 406l24 2M1448 382l24 -5M1508 371l24 -5M-12 247l24 9M28 261l24 9M368 360l64 14M528 391l24 4M628 406l24 3M688 413l44 5M828 425l24 2M1488 385l64 -13M1588 365l24 -6M-12 257l64 23M188 323l24 7M388 374l24 5M548 404l64 10M988 440l24 0M1228 430l44 -5M148 320q42 13 84 25M268 355l44 11M408 388l24 5M488 404l24 4M608 423l24 4M848 446l24 2M908 449l24 0M988 450l24 0M148 330l64 19M308 375l44 11M448 406l44 9M828 455l24 2M1508 411l24 -5M108 327l24 8M168 346l24 7M328 390l24 5M388 403l44 10M488 424l44 8M688 453l24 3M1428 435l64 -12M68 323l64 22M208 367l24 8M568 447l44 7M708 465l24 3M748 469l44 4M1028 480l24 -1M1068 479l44 -2M1468 438l24 -5M208 377l24 7M908 489l64 1M1308 471l24 -3M1488 444l24 -5M168 385l24 7M468 460q82 16 164 26M948 510l64 0M1028 510l44 -1M1328 489l64 -9M1468 467l24 -4M-12 333l44 17M48 355l24 9M168 394l24 8M208 406l44 13M288 428l24 7M468 469l44 9M588 490l24 4M628 496l24 3M828 515l44 2M268 443l24 6M428 481l64 13M608 513l24 3M928 539l24 1M1048 539l24 0M1088 538l24 -1M1288 523l44 -5M1348 516l24 -3M1508 490l24 -5M428 491l44 9M508 507l24 4M668 531l24 3M708 535l24 3M808 544l44 3M868 547l24 1M1088 548l64 -3M1328 529l24 -4M1368 523l24 -4M28 387l24 8M108 414l44 15M208 445l24 8M388 492l24 6M428 501l44 9M508 517l64 10M1508 510l24 -5M28 396l44 16M108 424l24 8M248 467l24 6M288 477l44 12M388 502l44 10M828 565l24 2M868 567l24 1M1228 559l24 -2M1448 530l44 -8M68 420l24 9M128 440l24 8M468 529l44 8M1308 561q42 -5 84 -12M1448 540l24 -4M1488 533l24 -5M-12 401l44 16M68 430l24 8M248 486l44 12M348 512l64 15M1128 586l64 -4M1468 547l44 -9M1588 522l24 -5M8 427l24 9M268 511l64 17M348 532l24 6M528 570q52 9 104 16M688 593l24 2M788 602l24 2M948 610l24 0M1028 610l44 -1M1188 603l24 -2M1348 586l24 -4M1468 567l24 -5M1568 546l24 -5M388 551l24 6M428 560l44 9M728 607l24 2M1048 619l24 0M1188 612q52 -3 104 -10M28 454l44 16M168 501q62 20 124 37M368 556l64 15M468 578l24 5M1148 625l64 -5M8 456l24 9M288 546l44 12M488 592l24 5M568 606l44 7M668 620l44 5M1148 635l24 -1M1188 632l24 -2M1328 618l24 -3M1388 610l24 -4M1448 600l24 -5M28 483l24 9M128 518l24 8M568 626l44 7M848 656l24 1M1068 659l64 -3M1348 635l24 -3M1408 626l24 -4M88 514l24 8M228 558l64 19M388 600l24 6M428 609l24 6M808 664l44 2M1128 666l44 -2M1288 653l44 -6M1368 642l24 -3M1488 622l24 -5M288 585l24 7M348 601l44 10M508 635l24 5M588 649l24 4M1168 674l64 -5M1268 665l44 -5M1508 628l24 -5M48 528l24 9M268 599l24 7M468 647l24 5M1268 685l44 -5M8 523l24 9M68 545l24 9M328 625q42 11 84 20M668 690l24 3M708 695l24 2M828 705l24 1M1228 699l24 -2M-12 534l64 25M188 605l24 7M248 623l24 7M608 702l64 8M1228 719l24 -3M68 574l24 9M408 674l44 10M608 712l44 6M768 730l44 4M828 735l24 1M1008 740l24 0M1088 738l24 -1M1188 732l24 -2M-12 553l44 18M268 648l24 7M408 684q52 12 104 21M608 721l44 7M748 739l44 3M868 747l24 1M988 750l24 0M1128 746l24 -1M1568 684l24 -5M8 571l24 9M108 607l44 16M288 663l24 7M468 707l24 5M1128 756l24 -1M68 603l64 23M568 735l24 4M928 769l44 1M1268 755l44 -6M428 728q62 14 124 24M608 761l24 4M748 778l24 3M808 783l64 4M1108 787l44 -2M1368 762l44 -8M68 632q62 22 124 42M228 685l44 13M428 737l24 6M488 750l24 5M608 771l44 7M868 797l24 1M948 800l24 0M1368 772l24 -4M1428 762l24 -5M1528 742l64 -14M108 655l24 9M248 701l44 13M328 723l24 6M408 743l44 10M588 778l24 4M1028 810q62 -1 124 -5M1588 739l24 -6M68 651l24 9M148 679l24 8M408 753l24 5M588 788l24 4M788 812l44 3M948 820l24 0M1488 770l24 -5M-12 639l24 10M188 711l24 8M268 736l24 7M568 804l64 11M748 828l64 6M1048 839l44 -1M1268 824l44 -5M1348 814l44 -7M1528 782l64 -15M48 672l24 9M388 777l24 6M428 787l24 5M468 795l24 6M608 821l44 6M1048 849l44 -1M1548 787l44 -10M208 737l24 8M248 749l44 13M368 782l64 16M568 824l24 4M748 848l64 6M888 858l24 1M928 859l24 1M1468 814l24 -5M1528 802l24 -6M8 685l24 10M48 701l24 9M148 737l64 21M268 775q42 12 84 23M468 825l24 5M608 851l44 6M688 862l24 3M808 873l24 2M948 880l44 0M1248 866l24 -2M1588 808l24 -7M288 810l64 17M408 841l24 6M928 909l24 1M328 831l24 6M568 884l44 7M648 896q42 6 84 11M68 756l24 9M188 799l44 14M1028 930l24 -1M148 795l24 8M388 866l24 6M568 904l64 10M1068 939l24 -1M1188 932l64 -6M1268 924l24 -3M208 844l44 14M308 874l24 7M548 930l44 8M828 965l44 2M908 969l24 0M1008 970l44 -1M1108 967l44 -3M1488 919l24 -6M1588 896l24 -6M48 796l24 10M248 866l24 8M628 953l24 4M768 970l44 4M1068 979l24 -1M1128 976l44 -3M1288 962l24 -4M1488 928l24 -5M1548 915l24 -6M48 806l24 9M228 870l24 7M908 989l24 0M988 990l24 0M1108 987l24 -1M1148 985l24 -2M-12 791l24 10M188 866q52 18 104 33M348 914l24 7M488 948l24 5M528 956l24 4M988 1000l24 0M1208 990l24 -2M1488 948q42 -9 84 -19M108 848l24 9M268 901l24 8M428 944l44 10M508 962l24 4M668 988l44 6M788 1002l24 2M1088 1008l24 -1M1248 996l24 -3M1468 962l44 -9M48 834l44 18M788 1012l64 4M868 1017l24 1M988 1020l64 -1M1068 1019l24 -1M1368 990l24 -4M1448 976l64 -13M348 944l64 16M708 1013l24 3M1008 1030l44 -1M1108 1027l24 -1M1168 1023l24 -2M1268 1014l24 -3M1428 990l64 -13M1588 955l24 -7M128 893l24 9M168 908l24 8M528 1005l24 5M768 1040l64 5M888 1048l24 1M1008 1050l24 0M108 896l24 9M168 917l44 16M528 1015q42 8 84 15M808 1053l24 2M888 1058l24 1M1028 1060l44 -1M1568 989l44 -11M-12 857q52 23 104 43M208 941l24 8M528 1025l24 5M1048 1069q52 -1 104 -5M1188 1062l24 -3M1568 999l24 -6M8 875l24 11M48 892l24 9M108 915l24 9M468 1022l24 6M548 1039l24 4M1028 1080l24 -1M1168 1073l44 -4M1288 1061q52 -7 104 -16M1528 1018l24 -6M-12 876l44 19M248 973l44 14M348 1002l24 7M428 1023l24 6M488 1036l24 6M628 1062l24 4M848 1086l24 1M948 1090l24 0M8 913q42 18 84 34M508 1070l24 5M788 1111l24 2M868 1117l44 2M1068 1119l24 -1M1128 1116l24 -2M1328 1095l44 -7M1548 1053l24 -6M28 931l44 18M648 1105l64 9M748 1117l24 3M888 1128l24 1M968 1130l44 0M1348 1102l24 -4M1588 1053l24 -7M488 1086l44 9M608 1109l24 4M728 1125l24 3M1028 1140l44 -2M1368 1109l44 -8M1508 1082q52 -12 104 -26M108 982l24 9M168 1004l24 9M328 1055l44 13M448 1087l44 10M588 1115l24 4M768 1139l44 4M828 1144l24 2M8 960l24 11M228 1044l24 8M388 1091l44 12M848 1166l24 1M928 1169l24 1M1048 1169l24 -1M1268 1153l24 -3M1328 1145l24 -4M1408 1132l44 -9M1588 1092l24 -7M-12 961l24 11M68 995l24 10M128 1018l44 17M448 1116l64 14M768 1169l24 3M848 1176l24 1M888 1178l24 1M1028 1180l24 -1M1548 1112l24 -6M108 1030l24 9M168 1052l24 9M288 1092l24 8M348 1110l24 7M468 1140q42 10 84 18M648 1174l64 9M848 1196l44 2M948 1200l24 0M1028 1200l24 -1M1088 1198l24 -1M1188 1191l44 -4M1448 1154l24 -5M108 1039l24 10M168 1062q42 15 84 29M308 1108q42 13 84 24M568 1171l24 4M628 1181l24 4M728 1195l24 3M888 1208l24 1M1008 1210l24 0M1168 1203l24 -2M648 1194l24 4M728 1205l24 3M908 1219l44 1M1128 1216q42 -3 84 -7M1488 1165q42 -9 84 -20M-12 1008l44 20M188 1088l24 9M488 1174l64 14M608 1198l24 4M728 1215l24 3M848 1226l64 3M1548 1161l24 -6M48 1044l44 18M108 1068l24 9M408 1165l64 16M528 1193l64 12M888 1238l44 1M1108 1237l24 -2M1488 1185l64 -15M48 1053l24 10M88 1069l24 10M148 1093l64 23M668 1227l24 3M708 1232l24 3M808 1243l44 3M908 1249l44 1M1048 1249l44 -1M1148 1244l24 -1M8 1045l24 11M268 1144l24 8M328 1163l24 7M388 1179l24 7M428 1190l24 6M568 1220q42 8 84 15M748 1247q42 5 84 8M928 1259l64 1M1088 1258l24 -1M1568 1185l24 -6M48 1072l24 10M168 1119l44 16M408 1194l24 7M648 1244l24 4M788 1261l24 2M848 1266l24 1M928 1269l44 1M1528 1205l24 -6M568 1240q52 10 104 18M708 1262l64 8M1508 1220l24 -6M1548 1210l44 -12M1408 1251l24 -5M1468 1239l24 -6M28 1092l24 11M128 1133l24 9M308 1195l24 8M388 1219l44 11M1388 1264l24 -4M1468 1248l44 -10M8 1092l64 28M168 1158l24 9M288 1199l24 8M328 1211l24 8M388 1228l24 7M508 1258l24 5M48 1129l24 10M128 1162l24 9M188 1184l24 9M268 1212l24 8M208 1211l44 15M288 1238l24 8M228 1227l24 9M308 1254l24 7M348 1266l24 7M108 1211l24 10M168 1234l44 17M-12 1168l24 11M48 1223l44 19M148 1265l24 9M48 1233l24 10M48 1242l24 11"/>
<path stroke="#ffb300" d="M748 -20l44 4M908 -11l44 1M988 -10l24 0M1168 -15l24 -2M568 -20l64 9M788 3l24 2M1028 10l24 -1M1188 3l44 -3M1308 -7l44 -5M488 -22l24 4M588 -7l24 3M808 14l24 2M1128 17l24 -1M1188 13l24 -1M1388 -7l44 -6M528 4l24 4M608 16l24 3M868 38l44 1M968 40l24 0M1008 40l44 -1M1128 37l24 -1M1208 32l44 -4M1508 -5l24 -5M368 -15l64 13M708 37l24 2M1068 49l24 -1M1168 45l44 -3M1328 31l24 -3M1408 21l44 -7M1528 1l24 -4M428 7l24 4M548 27l64 9M748 50l44 3M1228 50l24 -2M1328 41l44 -6M1468 21l44 -7M1528 11l24 -5M328 6l64 14M508 41l24 4M688 65l24 2M828 76l44 2M928 79l24 1M1048 79l24 0M1208 72l44 -4M1528 31l64 -13M928 99l24 1M1028 100l24 -1M1148 96l24 -2M1268 87l24 -3M548 77l44 6M988 110l24 0M1568 53l24 -5M528 84l24 3M708 106l24 3M1008 120l44 -1M1308 103l24 -3M1388 93l64 -10M48 -2l44 14M128 23l44 12M288 65l24 6M528 113l24 4M688 134l44 5M968 150l24 0M48 17l24 8M88 30l24 7M148 48l24 7M328 95l24 5M468 123l24 4M968 170l24 0M1048 169l44 -1M1168 164l24 -1M1328 150q42 -5 84 -11M1528 120l24 -5M348 138l24 6M428 155l24 5M548 176l64 9M888 208l24 1M1328 190l64 -8M1488 167l64 -12M1568 152l24 -5M448 169l64 11M528 183l64 10M908 219l64 1M1288 204l24 -2M1468 180l24 -4M548 196l24 4M608 205l24 3M688 214l64 6M828 225l24 2M928 229l44 1M188 128q42 11 84 22M628 217l44 5M688 224l24 3M748 230l44 3M888 238l24 1M1168 234l24 -1M1248 228l44 -4M1368 215l64 -9M48 114l24 8M428 214l44 9M528 232q52 9 104 16M648 249l44 6M1188 263l24 -2M1508 223l64 -13M48 133l24 8M308 208l44 10M468 242l24 4M548 256l24 3M628 267l24 3M768 281l24 2M1068 289l24 -1M1448 253l24 -4M-12 122l44 16M208 192l24 7M248 203l24 6M288 213l24 6M1068 299q42 -1 84 -4M1268 286l24 -2M1568 241l44 -10M228 207l24 7M588 281l44 6M908 309l24 0M1068 309l44 -2M1268 296l44 -5M1348 287l24 -3M1388 282l24 -4M1448 273l24 -5M28 155q42 15 84 28M228 217l44 12M348 247l64 14M848 316l24 2M1248 308l24 -2M1428 286l64 -11M1528 268l44 -9M-12 151l44 16M128 198l44 13M448 278l24 4M928 329l24 1M1488 286l44 -9M108 201l24 8M148 213q42 13 84 25M348 266l24 6M1128 337l24 -2M1228 330l44 -4M1348 317l24 -3M208 328l44 13M408 378l24 5M528 401l24 4M608 413l24 4M1048 439l24 0M1108 437l24 -1M1268 426l24 -3M1588 375l24 -6M208 348l24 7M288 370l24 6M348 384l24 6M388 394l64 13M488 414q42 8 84 14M708 445l24 3M1188 453l24 -2M1468 418l44 -8M28 329l24 9M188 381l24 7M508 457l44 8M608 473l24 3M668 481l24 3M788 492q42 4 84 5M888 498l44 1M1008 500l24 0M1188 493l24 -2M1408 468l24 -4M1468 458l64 -13M1568 438l24 -5M68 362l24 9M148 388l24 8M188 401l24 7M308 434l44 11M428 461l44 9M608 493l24 3M808 514l24 1M88 379l44 14M388 463l44 9M608 503l24 3M948 530l24 0M1348 506l24 -3M1388 500l24 -3M1508 480l24 -5M388 482l44 10M468 499l44 8M688 533l24 3M848 546l24 1M888 548l24 1M1068 549l24 -1M1148 545l64 -4M1308 531l24 -3M1468 507l24 -4M408 497l24 5M568 527l44 6M728 547l64 6M1008 560l24 0M1428 524q42 -7 84 -15M148 447l44 13M348 502l24 6M448 525l24 5M508 536l24 5M848 576l64 3M1128 576l24 -1M1288 563l24 -3M1468 537l24 -5M88 436l24 9M188 469l64 19M408 526q42 9 84 17M808 584l24 1M1248 577l24 -2M1408 557l64 -11M108 453l24 8M188 478l24 8M328 517l24 6M368 527l24 6M448 544l24 5M608 572l24 4M708 585l24 3M768 591l24 2M1188 593l24 -2M1348 576l44 -7M1428 564l44 -8M1548 541l24 -6M-12 420l24 9M328 527l24 6M628 585l24 4M668 590l24 3M808 604l24 1M928 609l24 1M968 610l24 0M1008 610l24 0M1068 609q62 -2 124 -7M1588 542l24 -6M368 547l24 5M468 568l44 9M808 614l44 2M1068 619l24 -1M1168 614l24 -2M1288 603l24 -3M1508 569l64 -14M8 446l24 10M68 468l24 9M148 495l24 8M348 552l24 6M488 582l24 5M1108 627l44 -2M1208 621l24 -2M1248 617l64 -7M1528 575l44 -10M-12 448l24 10M328 556l64 16M508 596l64 11M608 612l64 9M708 625l24 2M1208 631l24 -2M1408 607l44 -8M128 508q62 20 124 38M288 556l24 6M348 571l44 11M428 590l24 5M788 642l24 2M828 645l24 1M1148 645l24 -1M1448 610l24 -5M1588 581l24 -5M48 490q42 15 84 29M188 537l44 13M548 623l24 4M608 632l24 4M1048 659l24 0M1128 656l64 -4M1428 623l24 -4M1488 612l24 -5M1568 596l24 -6M108 540l64 21M588 659l44 6M688 672l24 3M768 681l44 3M828 685l64 3M1148 685l44 -3M1488 642l24 -5M208 582l64 19M488 651l24 5M308 630l44 11M568 685l64 10M788 712l44 3M848 716l24 1M968 720l24 0M1208 711l24 -3M1268 705l24 -3M1388 689l44 -7M1448 679l24 -5M28 569l24 9M288 654l24 6M648 727l24 3M708 734l44 5M788 742l44 3M968 750l24 0M1008 750l44 -1M1108 747l24 -1M1148 745l24 -2M1228 739l64 -7M1348 725l64 -10M1548 689l24 -6M1588 680l24 -6M-12 563l24 10M148 621l24 8M188 634l24 8M308 669l24 6M408 694l24 5M488 711l44 8M568 725l24 4M1028 760l44 -1M128 624l24 8M188 643l24 8M408 703l24 6M588 738l64 10M908 769l24 0M1248 757l24 -3M1308 750l64 -9M1528 713l24 -6M568 745l64 10M668 760l24 3M1308 760l24 -3M1388 749l44 -8M1508 727l24 -5M628 764l24 4M668 770l64 7M868 787l24 1M948 790l24 0M1148 785l24 -2M1228 779l64 -7M1348 765l24 -4M1488 741q42 -9 84 -18M188 673l44 13M268 697l24 7M368 723l64 16M568 765l44 7M648 777l24 3M728 786l24 3M1348 774l24 -3M1448 758l24 -4M1508 747l24 -6M8 628l64 25M168 685q62 21 124 38M328 733l24 6M388 748l24 6M608 791l24 4M1028 820l44 -1M1268 805l44 -6M1568 753l24 -6M68 660l24 9M148 689l44 14M248 720l44 13M328 743l44 11M828 825l64 3M1028 830l24 -1M1088 828l24 -1M-12 649l64 25M68 680l44 16M348 767l44 12M408 782l24 6M488 800l24 4M588 818l24 4M648 827l24 3M768 840l24 2M888 848l64 2M968 850l24 0M1028 850l24 -1M1088 848l44 -2M1448 808l24 -5M1588 778l24 -6M188 740l44 15M248 759l24 7M448 811q72 16 144 27M608 841l24 3M768 860l24 2M908 869l24 0M1008 870l44 -1M1148 865l44 -3M1428 831l24 -4M28 693l24 10M428 816l44 10M548 841l64 10M648 856l44 6M708 864l44 5M788 872l24 2M908 879l44 1M1008 880l64 -1M1148 875l24 -2M1188 872l24 -2M8 695l24 10M88 725l24 9M148 746l24 9M328 801l24 7M388 817l44 10M448 831l24 5M1088 888l64 -3M1348 864l24 -4M1488 840q52 -11 104 -24M88 735l24 9M148 756l24 9M188 769l24 8M688 882l24 2M748 888l44 4M928 899l64 1M1268 884l24 -3M1408 864l64 -12M-12 706l24 10M348 826l24 7M468 855l24 5M648 886l44 6M768 900l44 4M968 910l24 0M1208 900l24 -2M1348 884l44 -7M48 749l24 9M88 764l24 9M168 792l24 8M228 811l24 8M308 835l44 12M428 865l44 10M568 894l44 7M708 914l64 6M868 927l24 1M1348 904l64 -11M108 790l44 16M468 894l24 5M528 906l24 5M728 936l24 3M788 942l24 2M888 948l64 2M1148 945q42 -3 84 -7M1308 929l44 -6M1408 914l44 -8M268 853l24 7M488 908l44 9M568 923l44 8M688 941l24 3M728 946l44 4M808 953l24 2M1048 959l24 0M1128 956l64 -5M1208 950l24 -2M1408 924l24 -5M1548 896l44 -11M328 880l44 11M428 905q62 14 124 26M668 949l24 3M928 969l24 1M988 970l24 0M1088 968l24 -1M1468 923l24 -5M288 878l64 18M808 973q52 4 104 6M988 980l24 0M1088 978l44 -2M1168 973l24 -2M8 790l44 18M308 894l44 12M488 938l24 5M608 960l44 6M668 969l44 5M728 976l44 4M888 988l24 1M1128 986l24 -2M1168 983l44 -3M1468 942l24 -5M1568 920l24 -6M848 1016l24 1M1188 1012l44 -4M1268 1004l24 -3M728 1016l24 2M868 1027l24 1M1128 1026l44 -3M1288 1011l24 -3M1328 1006l24 -4M168 898l24 9M208 912l24 8M548 999l64 11M768 1030q62 6 124 8M968 1040l24 0M1028 1040l24 -1M1088 1038q42 -2 84 -5M148 901l24 8M548 1009q52 10 104 17M748 1038l24 2M828 1045l64 3M1028 1050l64 -2M1428 1009l24 -4M128 903l44 16M-12 867l24 10M28 884l24 10M68 900l44 17M488 1027l24 5M888 1078l24 1M1048 1079l24 0M1148 1075l24 -2M1248 1066l44 -6M1388 1046l24 -4M348 1012l24 7M628 1072l44 7M688 1081l44 5M828 1094l24 2M988 1100l64 -1M1088 1098l24 -1M1208 1090l24 -3M1248 1086l24 -3M1408 1063l44 -9M1588 1023l24 -6M388 1033l44 11M588 1075l24 5M808 1103l24 2M968 1110l24 0M1108 1107l24 -1M1248 1096l24 -3M1348 1082l24 -4M1408 1072l24 -4M1568 1038l24 -6M888 1138l44 1M1068 1139l44 -2M1408 1102l24 -4M88 974l24 10M188 1011l44 15M368 1066l24 7M428 1082l24 6M528 1104l24 5M748 1137l24 3M888 1148l64 2M1328 1125l24 -4M1528 1087l44 -11M8 951l44 19M228 1034q52 18 104 32M368 1076l24 7M488 1105l44 10M748 1147l24 3M868 1157l24 1M1248 1145l24 -2M248 1050l24 8M288 1063l44 13M368 1086l24 7M428 1101l24 6M768 1159l44 4M828 1164l24 2M1028 1170l24 -1M1068 1169l24 -1M1348 1142l64 -11M628 1161l64 10M1048 1189l24 -1M1088 1188l24 -1M1288 1170q42 -5 84 -12M1468 1140l24 -5M-12 1027l64 28M108 1077l44 18M208 1114l24 9M428 1180l64 15M568 1211l44 8M688 1230l24 3M1088 1248l24 -1M88 1098l64 25M1428 1237q42 -8 84 -18M408 1214l24 6M508 1238l64 13M648 1264l24 4M1388 1254l24 -4M1428 1247l44 -10M48 1100l24 11M108 1125l24 10M148 1150l24 9M308 1205l24 8M408 1234l24 6M528 1262l44 9M8 1102l24 11M88 1136l44 18M408 1243l64 17M68 1137l64 26M208 1191l64 22M208 1201l24 9M1588 1258l24 -7M248 1225l44 14M248 1234l64 21M-12 1140l24 11M248 1244l24 8M208 1249l24 9M108 1239l64 26M108 1249l44 18M48 1251l24 11M8 1261l24 12"/>
<path stroke="#ff8000" d="M788 -17l24 2M888 -12l24 1M1148 -14l24 -2M768 -8l44 3M888 -2q62 2 124 2M628 -12l24 3M708 -3q42 4 84 7M1068 9l24 -1M1148 6l44 -3M1088 18l44 -1M1208 12q42 -3 84 -7M1428 -12l24 -4M448 -19l44 8M608 6q72 9 144 15M988 30l24 0M1068 29l24 -1M1288 15l44 -5M428 -13l24 5M628 18l64 7M848 37l24 1M988 40l24 0M1108 38l24 -1M1348 18l24 -3M1488 -2l24 -4M728 38l64 6M988 50l24 0M1348 28l64 -8M1448 15l24 -4M1508 5l24 -5M1548 -3l24 -4M308 -18q62 14 124 26M788 53l44 3M968 60l44 0M1048 59l44 -1M1168 55l24 -2M1208 52l24 -2M1508 15l24 -5M268 -18l44 11M528 34l24 4M808 64l44 3M868 68l24 0M928 69l24 1M1008 70l64 -1M1108 68q42 -2 84 -5M1388 43l24 -3M368 24l24 6M628 68l24 3M768 82l44 3M1028 90l24 -1M1168 85q62 -4 124 -11M1348 68l24 -3M808 94l64 4M908 99l24 0M1048 99l24 0M1108 98l44 -3M1288 85l24 -3M588 83l24 3M768 102l24 1M888 108l24 1M1088 108l24 -1M1248 99l44 -5M548 87l24 3M728 108l44 4M1088 118l64 -3M1268 107l44 -5M788 123l24 2M908 129l24 0M1208 122l24 -2M1288 115l24 -3M108 7l24 7M588 112l64 9M828 136l24 1M948 140l24 0M988 140l64 -1M1088 138q42 -1 84 -4M1228 130l24 -2M1268 127l24 -3M1488 97l24 -4M868 147l24 1M948 150l24 0M1028 150l24 -1M1168 145l24 -2M1248 139l24 -3M208 55l24 6M528 123l44 7M728 148l24 2M788 153l24 2M888 158l24 1M928 159l24 1M1148 156l24 -2M1348 138l24 -3M48 27l24 8M188 69q42 12 84 22M768 172l24 1M828 175l24 2M988 180l44 0M1148 176l24 -2M1288 165l44 -5M1388 153l64 -10M1568 122l24 -5M-12 16l44 16M168 73l24 7M248 95l44 11M508 150l24 4M748 180l24 2M1068 189l44 -2M1148 186l64 -5M1588 128l24 -5M28 40l44 14M288 115l64 15M528 163l64 10M608 175l44 5M668 182l24 3M788 193l24 2M868 197l24 1M1108 198l24 -2M1248 188l24 -2M1308 182l24 -2M568 199l44 6M848 227q42 2 84 2M1068 229l24 -1M1228 220l24 -2M1368 205l64 -9M1448 193l24 -4M608 215l24 3M788 233l24 2M848 236l44 2M1088 238l44 -2M1228 230l24 -2M1288 224q42 -4 84 -10M328 173l24 6M528 213l24 4M608 224l24 4M808 244l44 3M888 248l24 1M1088 248l24 -1M-12 84l44 15M48 104l64 21M448 208q42 9 84 15M668 242l24 3M728 248l24 2M848 256l24 2M948 260l24 0M1028 260l44 -1M1168 254l24 -1M1248 248l24 -2M28 107l24 9M628 247l24 3M1228 260l24 -2M1408 239l24 -4M1468 230l44 -8M1568 211l24 -5M-12 103l24 9M68 130l24 8M428 224l44 9M708 266l24 2M908 279l44 1M1388 252l24 -4M1468 240l24 -5M1528 229l24 -5M1588 217l24 -6M228 197l24 7M268 208l24 6M368 232l24 5M428 244l24 5M708 286q72 7 144 11M968 300l24 0M388 246l64 13M568 278l24 4M628 287l44 5M748 300q42 3 84 6M888 308l24 1M1308 292l44 -5M1408 279l44 -7M528 282q52 9 104 15M708 306l24 2M808 314l24 2M908 319l64 1M1068 319l64 -3M1228 310l24 -2M208 221l24 7M308 247l44 11M428 274l24 5M468 281l44 9M908 329l24 0M948 330l24 0M1088 328l24 -1M1328 310l44 -6M1468 289l24 -4M1568 270l24 -5M128 207l24 8M368 271q42 9 84 18M1028 340l64 -2M1268 326l24 -2M1328 319l24 -3M1368 314l44 -6M1548 284l64 -14M28 184l24 9M88 204l24 8M608 324l64 8M1068 349l24 -1M1248 338l44 -5M1468 309l64 -12M1588 286l24 -6M208 250l44 13M548 325l24 4M588 331l24 4M628 337l24 3M708 346l24 2M788 353l44 3M928 359l24 1M1348 337l24 -3M1508 312l24 -5M1568 300l44 -10M228 266l24 6M528 332l24 4M688 354l24 2M788 363l24 1M848 366l24 2M888 368l24 1M1088 368l24 -1M1248 358l24 -2M1428 335l64 -11M8 206l44 16M188 264l24 7M548 345l24 4M588 351l24 3M628 356l24 4M708 366l44 4M768 371q42 4 84 6M1008 380l24 0M1068 379l24 -1M1188 373l64 -6M1268 366l24 -3M1448 342l24 -4M1528 328l24 -5M8 216l44 15M648 369l44 5M788 383l24 1M1088 388q42 -1 84 -4M1368 364l24 -3M1428 355l44 -7M1488 345q42 -8 84 -17M68 246q42 14 84 27M168 278l24 7M228 295q42 12 84 22M668 381l24 3M788 393l44 3M928 399l24 1M1048 399l24 0M1088 398l24 -1M1528 347l24 -5M1588 335l24 -5M128 275l44 14M188 293l24 8M948 410l64 0M1188 403l44 -4M1388 381l24 -4M1568 349l44 -10M48 259l24 8M108 279l64 20M368 350l44 10M448 367l24 4M628 396l64 8M848 416l24 2M948 420l44 0M1008 420l24 0M1048 419l24 0M1088 418l24 -1M1188 413l24 -2M1228 410l24 -3M1348 397l44 -7M448 377l24 4M588 401l44 6M868 427l64 2M1008 430l64 -1M1108 427l24 -1M1168 424l64 -5M1328 409l44 -6M508 398l24 4M628 416l44 6M788 433l24 1M848 436l64 3M1068 439l44 -2M1128 436l24 -1M1548 383l44 -10M648 429q52 6 104 11M788 443l64 4M928 449l24 1M1048 449l44 -1M1368 424l24 -4M228 354l24 6M268 364l24 7M368 389l24 6M568 427l24 4M688 443l24 3M848 456l24 2M888 458l64 2M1008 460l24 0M1088 458l44 -2M1408 428l64 -11M68 314l24 8M448 416l24 5M568 437l64 10M668 451l24 3M868 467l24 1M1008 470l44 -1M1128 466l44 -2M1368 444l24 -4M168 356l44 13M308 394l24 7M428 422l24 5M488 434l24 4M888 478l24 1M1128 476l44 -2M1228 470l24 -3M1368 454l64 -10M108 346l64 21M288 399q52 14 104 25M548 454l44 7M648 468l64 8M748 479l24 2M1088 488l64 -3M1188 483q42 -3 84 -8M1408 458l24 -4M1468 448l24 -5M48 336l24 8M168 375l24 8M488 453l24 5M548 464l64 10M768 491l24 2M868 497l24 1M1028 500l44 -1M1128 496l24 -1M1208 491l24 -2M1428 464l44 -7M1528 446l44 -9M-12 324l44 16M128 372l24 8M268 413l24 7M388 443l44 10M648 488l24 3M768 501l24 2M928 509l24 1M1088 508l44 -2M1268 496l44 -5M1528 456q42 -8 84 -18M348 443l44 11M408 457l24 5M788 512l24 2M1008 520l44 -1M1128 516l24 -1M1308 501l24 -3M1368 493l44 -6M1448 481l24 -5M1508 470l44 -9M628 506l24 3M788 522l44 3M1268 516q42 -5 84 -11M1448 491l44 -8M388 472l24 6M648 518l24 3M728 527l44 4M808 534l24 1M908 539l24 0M1108 537l64 -3M1248 528l24 -3M908 549l44 1M1208 541l24 -2M1288 533l24 -3M608 533l44 6M708 545l24 3M788 552q72 6 144 7M1088 558l24 -1M1228 549l24 -2M148 437l64 20M668 551l24 2M888 568q62 2 124 2M1268 555l24 -2M528 540l64 10M828 575l24 1M908 579l44 1M1108 577l24 -1M1248 567l44 -4M108 443l24 8M168 463l24 7M488 542l64 12M788 582l24 2M828 585l24 1M888 588l64 2M1008 590l24 0M1108 587l24 -1M1268 575l64 -7M1388 560l24 -4M128 459l64 21M348 522l24 6M468 549l24 4M548 563l24 4M628 575l24 4M668 580l44 6M1208 591l24 -2M1388 570l44 -7M648 588l24 3M828 605l44 2M888 608l44 1M988 610l24 0M1368 583l24 -4M1448 570l24 -4M248 545l44 12M528 609l44 8M668 630l44 5M908 649l24 0M1208 641l24 -2M1328 628l24 -3M1468 606l44 -9M1548 590l44 -10M128 527l24 8M208 552l24 8M628 645l24 3M868 667l44 2M928 669l44 1M1008 670l44 -1M1188 662l24 -2M1248 657l24 -2M128 537q42 14 84 27M408 615l44 9M608 652l24 3M708 665l24 2M748 669l24 2M808 674l24 1M888 678q42 2 84 2M1088 678l44 -2M628 665l64 8M808 684l24 1M888 688l24 1M988 690l44 0M1128 686l24 -1M228 597l24 8M268 609l24 7M448 653l44 9M568 676l44 6M748 699l44 4M868 707l24 1M968 710l24 0M1068 709l24 -1M1168 704l24 -2M868 717l24 1M908 719l64 1M1148 715l64 -5M1368 692l24 -4M88 571l44 16M368 655q42 10 84 19M528 688l24 5M568 695l24 4M788 722q42 3 84 5M968 730l24 0M1168 724l24 -2M1268 715l24 -3M1348 705l24 -4M1508 678l44 -10M1588 660l24 -6M368 664l24 6M708 725l44 4M1208 731q62 -6 124 -14M1428 702q42 -7 84 -16M168 627l24 8M588 728q42 7 84 12M728 747l64 5M1008 760l24 0M1068 759l44 -2M148 631l44 14M328 684l24 6M648 747l24 3M888 768l24 1M1368 742l44 -7M1508 717l24 -5M768 770l44 4M908 779l24 0M1108 777l24 -1M1228 769l24 -3M1328 757l24 -3M1368 752l24 -4M1428 742l24 -4M1488 731l24 -5M648 767l24 3M728 776l24 3M888 788l64 2M1168 784l64 -6M1288 772l64 -8M288 702q42 12 84 23M508 754l64 12M668 780l24 3M708 784l24 3M888 798l24 1M928 799l24 1M1468 755l44 -9M148 669l44 15M608 781l24 4M648 787l24 3M708 794l44 5M808 803l24 2M868 807l24 1M928 809l24 1M1568 743l24 -5M28 645l44 17M288 732l44 12M888 828l44 1M1168 824l24 -2M1248 817l64 -8M1328 807q42 -6 84 -13M1508 776l44 -9M108 684l24 9M368 763l64 15M488 790l24 5M648 817l24 3M688 822l24 3M928 839l24 1M968 840l64 0M1088 838l24 -1M1408 805l24 -4M328 772l24 6M468 805l24 5M508 813l44 9M968 860l24 0M1028 860l24 -1M1068 859l24 -1M1148 855l24 -2M1208 850l44 -4M1308 840l64 -10M1488 810l44 -9M688 852l24 3M748 858l24 3M868 877l44 2M28 703l64 24M268 784l24 8M308 796l24 7M748 878q42 4 84 7M888 888l44 1M1068 889l24 -1M1228 878l24 -2M1368 861l24 -4M8 704l24 10M68 727l24 10M168 763l24 8M508 853l24 5M1208 890l24 -2M-12 715l64 26M448 860l44 10M748 908q62 6 124 9M1088 918l24 -1M1288 902l64 -9M108 781l24 8M448 880l24 5M548 900l24 4M628 913l24 4M668 919l44 5M768 930l24 2M888 938l24 1M948 940l44 0M1308 919l44 -6M1388 907l24 -4M488 898l44 9M708 934l24 2M808 943q42 3 84 5M1108 947l44 -3M1228 938q42 -4 84 -10M1448 907l24 -5M1588 876l24 -6M288 859l44 12M708 944l24 2M1068 959l24 -1M1228 948l24 -2M1388 927l24 -4M1428 920q62 -11 124 -26M408 900l24 6M588 937l44 7M648 946l24 3M948 970l44 0M1148 965l64 -5M1408 934l64 -12M288 888l24 7M348 905l24 6M568 953l44 8M708 974l24 2M768 980q52 5 104 7M948 990l44 0M1328 966l24 -3M1448 946l24 -5M408 930l64 14M588 966q62 11 124 18M928 999l44 1M1128 996l24 -2M1168 993l24 -2M1368 970l44 -7M1448 956l24 -5M1568 930l24 -6M568 973l24 4M868 1007l24 1M908 1009l44 1M1048 1009l24 0M1268 994l44 -6M1348 983l24 -4M1428 970l44 -9M1128 1016l64 -5M1228 1008l44 -5M1288 1001l24 -3M1348 993l24 -4M1508 964l24 -6M748 1018q42 4 84 7M848 1026l24 1M1308 1009l24 -4M188 905l24 8M728 1026l44 4M988 1040l44 0M708 1033l44 5M1388 1016l44 -8M828 1054l64 4M128 913l24 9M908 1069l64 1M1328 1046l24 -4M508 1031l44 9M1108 1077l44 -3M148 939l24 9M548 1048l24 5M588 1056l44 7M788 1081l24 2M868 1087l24 1M988 1090l24 0M1208 1080l24 -3M1268 1073l44 -5M1328 1066l44 -7M1568 1019l24 -7M668 1078l24 3M948 1100l44 0M1268 1083l24 -3M1368 1069l24 -4M1508 1043l44 -11M1568 1028l24 -6M608 1079l24 4M768 1099l44 4M1128 1106l24 -2M1188 1102l24 -3M1268 1093l24 -3M1428 1069q72 -14 144 -32M488 1066l24 5M588 1085l24 5M948 1120l44 0M1008 1120l44 -1M1168 1113l44 -4M1388 1086l44 -8M528 1084l24 5M608 1099l24 4M908 1129l24 0M1028 1130l44 -2M1088 1128l44 -2M1188 1122l24 -3M1328 1105l24 -3M1488 1076l44 -10M1108 1137l44 -3M1428 1098l24 -4M-12 933l24 11M388 1072l44 11M488 1096l44 9M608 1119q42 7 84 12M948 1150l24 0M1288 1131l44 -7M1348 1122l64 -11M1568 1078l24 -7M688 1140l64 8M888 1158q92 4 184 0M28 978l24 11M268 1066l24 8M528 1134q42 8 84 15M708 1163l24 3M948 1180l64 0M1288 1161l64 -10M1428 1138l44 -9M1568 1107l24 -6M808 1183l24 2M848 1186l24 1M1068 1189l24 -1M1488 1136l24 -6M68 1014l44 18M188 1059q42 15 84 28M388 1121l24 6M828 1194l24 2M1488 1145l44 -10M668 1187l64 9M828 1204l44 3M1208 1199l44 -4M1328 1185l24 -4M1468 1160l24 -6M1548 1141l24 -6M1208 1209l24 -2M1288 1200q42 -5 84 -12M1388 1185l24 -5M148 1074l24 9M668 1207l24 4M968 1230l24 0M1008 1230l44 -1M1128 1226q82 -5 164 -16M1408 1191l24 -4M1488 1175l24 -6M1588 1151l24 -7M148 1083l24 9M228 1112l64 21M308 1137l24 8M368 1154l24 7M608 1208q52 9 104 15M1028 1240l24 -1M1128 1236q42 -3 84 -7M1228 1227l44 -5M1368 1208l44 -8M1428 1197l44 -9M1568 1166l24 -7M228 1121l24 8M408 1175l24 6M1108 1247l44 -3M1208 1239l24 -2M1348 1221l64 -11M1488 1195l44 -11M68 1071l24 10M688 1240l24 3M1228 1247l24 -2M1448 1213l24 -5M1508 1200l44 -11M308 1166l24 8M668 1247l64 8M808 1263l24 2M1068 1269l64 -4M1308 1257l24 -3M1408 1241l24 -5M568 1250l44 8M628 1261l24 4M1368 1258l24 -5M68 1109l44 18M68 1118l24 11M128 1142l24 10M468 1258l24 6M1528 1254l64 -17M1588 1249l24 -7M268 1251l64 20M228 1256l44 16"/>
<path stroke="#ff4c00" d="M828 -4l64 2M1008 0l24 0M1068 -1l44 -2M888 8l44 1M988 10l44 0M1108 8l44 -2M1048 29l24 0M1328 11q42 -5 84 -11M1468 -8l64 -12M788 43l24 2M828 46q72 4 144 4M1468 11l44 -7M828 56q72 4 144 4M1188 53l24 -1M548 37l44 6M888 68l44 1M1188 63q62 -4 124 -11M1368 46l24 -4M228 -18q42 11 84 21M548 47l44 6M708 67l44 4M888 78l24 1M1088 78l24 -1M1148 76l24 -2M1288 65l44 -5M748 80l24 2M948 90l24 0M1048 89l24 0M1148 86l24 -2M1288 75l64 -7M868 97l44 2M1068 99l44 -2M1308 83l44 -5M788 103l64 4M1068 109l24 -1M1108 108l44 -3M1228 100l24 -2M1288 95l44 -5M568 90l64 8M768 112l24 1M828 116l44 2M1068 119l24 -1M1148 116l24 -2M1248 109l24 -3M808 124l24 2M868 127l44 2M1228 120l64 -6M848 137q52 2 104 3M1048 139l44 -1M1248 129l24 -3M888 148l64 2M1048 149q62 -1 124 -5M748 150l44 3M908 159l24 0M8 4l24 8M268 80l64 16M608 145l24 3M708 156l24 3M768 162l24 1M808 164l24 2M928 169l24 1M1108 168l44 -3M1568 112l24 -5M-12 7l64 21M528 143l64 10M748 170l24 2M848 177l44 1M968 180l24 0M1028 180l44 -1M1128 177l24 -2M1588 118l24 -5M188 79l64 17M528 153q42 7 84 12M768 182l24 1M908 189q52 1 104 1M1028 190l44 -1M1208 182l44 -4M1488 147l44 -8M648 180l24 3M768 191l24 2M828 195l44 3M1168 194l44 -3M268 119q42 11 84 21M468 163l64 11M608 185l44 5M668 192l24 3M668 202l24 3M808 214q42 3 84 4M1208 212l44 -4M1428 196l24 -4M528 203l24 4M588 212l24 3M808 234l44 3M1068 239l24 -1M728 238q42 4 84 7M848 246l44 2M1048 249l44 -1M528 223q52 8 104 15M748 250l24 2M808 254l44 3M968 260l64 0M1228 250l24 -2M1548 205l24 -5M-12 93l44 16M1428 236l44 -7M1588 207l24 -6M8 110l64 22M1328 260l24 -3M1488 236l44 -8M28 126l24 9M508 249l24 4M668 272q42 5 84 8M948 290l24 0M1088 288l44 -2M1268 276l24 -2M1528 239l44 -9M408 240l24 5M448 248l24 5M608 274l24 3M688 284l24 2M848 296l24 2M928 299l44 1M448 258q62 12 124 21M668 292q42 4 84 8M828 305l64 3M48 191l44 15M668 331l24 3M768 341l44 3M868 347l24 1M1008 350l64 -1M1088 348l44 -2M1288 334l44 -5M1528 298l64 -13M568 328l24 4M648 339l64 7M948 360l24 0M1048 359l44 -1M1288 344l24 -3M648 349l44 5M808 364l44 3M908 369q62 2 124 1M1068 369l24 -1M1188 363l24 -2M1308 352l24 -3M1368 344l24 -3M208 270l24 7M568 348l24 4M648 359l24 3M688 364l24 2M1028 380l24 -1M1288 364l24 -3M1428 345l24 -4M1468 339l64 -12M688 374l44 4M1408 358l24 -4M188 284l44 12M688 384l24 2M768 391l24 2M908 399l24 0M1068 399l24 -1M1548 343l44 -9M208 299q52 15 104 28M808 404l24 2M888 408l24 1M468 371l24 4M528 381l24 4M868 417l24 1M908 419l44 1M1028 420l24 -1M1068 419l24 -1M1208 411l24 -2M568 398l24 3M1068 429l44 -2M948 450l44 0M1128 446l24 -1M1188 443l24 -2M1288 434l24 -3M1348 426l24 -3M1388 421l44 -7M28 300l44 16M468 420l24 5M888 468l24 1M988 470l24 0M1108 467l24 -1M1168 464l24 -2M1348 446l24 -3M328 399l44 11M448 426l24 5M648 459l44 5M908 479l24 0M1248 468l64 -7M1328 459l44 -6M468 440q42 8 84 15M708 475l44 5M1268 476l24 -3M1428 454l44 -7M148 369l24 8M688 483l24 3M1068 499l64 -3M1228 489l64 -6M1388 471l24 -4M28 338q52 19 104 36M288 419q52 13 104 25M668 491l44 5M728 497l44 4M848 506l24 1M908 509l24 0M1408 477l24 -4M1448 471l24 -4M648 508l24 3M768 521l24 2M828 525l64 3M1068 529l24 -1M1208 521l64 -6M1368 503l24 -3M668 521l64 7M828 535l24 2M868 537l44 2M948 540l24 0M948 550l24 0M1008 550l64 -1M1268 535l24 -2M1388 520l24 -4M1448 511l24 -5M648 538l64 8M1028 560l24 -1M1068 559l24 -1M1248 547l24 -2M1328 538l24 -3M1408 527l24 -4M688 553q42 5 84 8M1008 570l24 0M488 552l64 12M648 578l24 3M1588 532l24 -6M868 607l24 1M1388 580l24 -4M1428 573l24 -4M68 458l64 22M208 504l44 13M328 537l24 6M548 583l64 10M648 598l24 3M908 619l64 1M1028 620l24 -1M1108 617l44 -2M1368 593l44 -7M1468 576l24 -4M88 475l44 15M308 541l24 7M508 586l64 11M608 602l44 6M668 610l64 7M788 622l24 2M968 630q52 0 104 -1M1388 600l44 -8M1588 562l24 -6M748 629q92 8 184 10M1008 640l64 -1M1108 637l24 -1M1248 627l24 -2M1528 585l24 -6M448 594q42 9 84 16M568 616q52 8 104 15M708 635l24 2M1008 650l64 -1M1128 646l24 -1M1528 594l24 -5M248 554l44 13M348 581q92 23 184 39M668 640l24 3M708 645l44 4M888 658l24 1M1008 660l24 0M1208 651l24 -2M148 534l64 20M648 648l64 7M908 669l24 0M1208 661l44 -4M448 623l44 9M628 655q42 6 84 10M768 671l44 3M908 689l44 1M968 690l24 0M1028 690q52 -1 104 -4M1588 621l24 -6M8 513l24 10M588 669l64 9M788 692l64 4M908 699l24 0M988 700l44 0M1128 696q42 -2 84 -6M1228 689l24 -2M1588 631l24 -6M248 603l24 7M488 661q42 8 84 15M888 708l24 1M948 710l24 0M1148 705l24 -2M888 718l24 1M288 634l24 7M328 645l44 11M548 692l24 4M868 727l44 2M1368 702q42 -6 84 -14M1488 681l24 -5M1548 669l44 -10M328 654l44 12M1328 718q52 -7 104 -16M68 584l44 15M328 664l64 16M848 746l24 1M1428 712l44 -8M688 762q42 5 84 9M808 774q52 3 104 5M1128 776l24 -1M1348 755l24 -4M1448 738l44 -8M688 782l24 3M908 799l24 0M628 784l24 3M668 789l44 6M748 798l64 6M888 808l44 1M828 815l44 2M968 820l44 0M1068 819l24 -1M1108 817l64 -4M1248 807l24 -3M1328 797l44 -6M1428 782l64 -13M1588 749l24 -7M-12 630l44 17M928 829l44 1M1008 830l24 0M1188 822l64 -6M1308 810l24 -4M1408 795l24 -4M1488 780l24 -5M1548 768l24 -6M128 691l24 9M348 758l24 6M428 777l24 5M668 819l24 3M828 835l24 1M908 839l24 0M1108 837l24 -1M1428 801l44 -8M108 694l44 16M168 715l24 8M288 751l44 12M568 814l24 4M688 832l44 5M988 850l44 0M1328 827l24 -4M1368 821l64 -11M1528 792l24 -6M488 809l24 5M988 860l44 0M1088 858l64 -3M1248 847l64 -8M1368 831l44 -7M1428 821l24 -4M708 854l44 5M748 868l44 4M1168 874l24 -2M288 790l24 7M688 872l64 7M828 885l64 3M988 890q42 0 84 -1M1148 885l24 -2M1208 880l24 -2M1388 858l24 -4M28 712l44 17M588 867l64 10M668 879l24 3M1228 888l44 -4M548 870q42 8 84 14M708 894l24 3M908 909l24 0M1008 910l44 -1M1068 909l64 -3M1268 894l64 -8M1408 874l24 -4M1528 851l24 -6M1108 917l24 -1M1368 891l24 -4M1448 877l24 -5M1528 861l24 -6M1588 847l24 -6M-12 725l44 18M128 778l24 9M368 851l24 6M468 874l24 6M528 886l24 5M608 900l24 4M668 909l24 3M788 922l44 3M1088 928l64 -3M1188 922l44 -4M1448 887l44 -9M1548 866l24 -6M508 892l44 9M648 916l24 3M788 932l44 3M868 937l24 1M1088 938l24 -1M1128 936l24 -1M1408 904q42 -7 84 -16M1588 866l24 -6M988 950q62 0 124 -3M1468 903l44 -9M1568 881l24 -6M328 870l24 6M1248 946l24 -3M1308 939l64 -9M368 890l44 11M628 943l24 4M1208 960l44 -4M1268 954q42 -5 84 -11M1388 937l24 -4M448 919l44 10M528 936l44 8M928 979l44 1M1188 972l24 -2M1388 947l24 -4M1448 936l24 -4M708 984l24 2M808 993l44 3M888 998l44 1M1148 995l24 -2M1248 986l24 -3M1328 976l44 -7M1408 963l44 -8M828 1005l44 2M1308 989l44 -7M1308 999l44 -7M1528 959l44 -10M828 1025l24 1M1408 1003l24 -4M808 1063l24 2M1248 1056l24 -3M1288 1051l24 -3M1348 1043q82 -13 164 -31M1068 1079l44 -2M1448 1035l24 -5M928 1089l24 1M1008 1090l24 0M1128 1086q42 -3 84 -7M1368 1059l24 -4M848 1096l44 2M928 1099l24 1M1288 1081l24 -3M1328 1076l44 -7M1548 1033l24 -6M628 1082q72 11 144 18M1148 1105l44 -4M1288 1091l64 -9M608 1089l24 4M988 1120l24 0M1208 1110l24 -3M1068 1129l24 -1M1208 1120l44 -5M1148 1135q52 -4 104 -10M328 1065l44 13M1068 1159l44 -2M1128 1156l44 -3M1228 1148l24 -3M508 1120l44 9M568 1131l64 11M688 1150q42 6 84 10M968 1170l44 0M1108 1167l44 -3M608 1148q52 9 104 15M728 1165l44 5M1088 1178q42 -2 84 -5M1228 1168l24 -3M1468 1130l24 -5M828 1184l24 2M1248 1195l24 -3M1308 1188l24 -4M1488 1155l24 -5M1228 1207l24 -2M1268 1203l24 -3M1408 1181l64 -13M1568 1146l24 -6M1048 1229l24 -1M1088 1228l44 -3M1428 1187l64 -13M168 1090l64 23M328 1143l44 13M1048 1239l24 -1M1088 1238l24 -1M1208 1229l24 -2M1408 1201l24 -5M248 1128q82 27 164 48M1408 1211q42 -8 84 -17M1528 1186l24 -7M668 1237l24 3M1328 1234q62 -9 124 -22M1348 1241q52 -8 104 -19M1468 1219l24 -6M608 1257l24 4M1288 1270l24 -4M1328 1264l44 -7M88 1127l44 17M1448 1263q52 -11 104 -25M488 1263l24 6"/>
<path stroke="#ff1a00" d="M648 0l24 3M728 9l24 2M868 18q72 2 144 2M1408 1l64 -10M1048 39l44 -1M808 44l24 2M968 50l24 0M1308 53l64 -8M1108 78l44 -3M908 89l44 1M1068 89q42 -1 84 -4M848 107l44 1M1008 110l64 -1M1148 106q42 -3 84 -6M788 113l44 3M868 117l24 1M1048 119l24 0M1168 115q42 -3 84 -7M828 126l44 2M-12 -3l24 9M548 136l64 10M728 158l44 4M828 166q52 2 104 3M1588 108l24 -5M588 152l44 6M668 162q42 5 84 8M888 178q42 2 84 2M1068 179l64 -3M608 165l24 3M788 183q62 4 124 6M1008 190l24 0M808 194l24 2M648 190l24 3M548 206l44 6M1048 239l24 0M1188 233l44 -3M768 251l44 4M1188 253l44 -3M1568 201l44 -9M1348 257l44 -6M8 120l24 8M908 289l44 1M1288 274q42 -4 84 -10M388 236l24 5M528 262q42 7 84 13M628 277l64 7M648 299l44 5M988 320l44 0M1168 314l44 -3M368 261l44 10M608 304l64 8M688 314q42 4 84 8M848 326l44 2M1008 330l64 -1M1128 327l24 -2M1268 316l24 -2M1388 302l24 -4M1588 266l24 -5M468 291l44 8M528 302l24 4M568 308l44 7M688 324l64 6M828 335l24 2M888 338l64 2M688 334q42 4 84 8M808 344l64 4M888 348q62 2 124 2M968 360q42 0 84 -1M1308 342l44 -6M1028 370l44 -1M1208 361l44 -4M1328 349l44 -5M668 361l24 3M1308 362l64 -9M1408 348l24 -3M728 378l64 5M1388 361l24 -3M708 386l64 6M828 395l24 2M888 398l24 1M828 405l64 3M488 374l44 8M888 418l24 1M448 386l44 9M948 440l44 0M1168 434l44 -3M1308 421l24 -3M1488 395l44 -9M1148 445l44 -3M1308 431l44 -5M628 436l44 6M1028 460l44 -1M1148 455l44 -3M1268 446l64 -8M1048 469l64 -2M1188 463q82 -6 164 -17M468 430l24 5M1308 461l24 -3M1288 474l24 -3M68 343q42 14 84 27M708 485l64 6M1288 483q52 -5 104 -13M708 495l24 3M868 507l44 2M1428 474l24 -4M668 501q42 5 84 9M1088 518l24 -1M1168 514l44 -3M1548 462l64 -14M668 511q52 6 104 10M968 530l64 0M848 536l24 1M968 540q42 0 84 -1M968 550l44 0M1408 517l44 -7M1048 559l24 0M1268 545l64 -7M1348 536l64 -10M768 561l64 4M1028 570l44 -1M408 516l44 10M628 555l24 4M968 580l44 0M1028 580l64 -2M588 560l64 9M688 573l64 6M1568 537l24 -6M1408 577l24 -4M248 515q42 12 84 23M608 592l44 6M968 620l64 0M1088 618l24 -1M1328 598l44 -6M1408 587l64 -11M808 624q52 3 104 5M728 637l64 6M928 649q42 1 84 1M1068 649l64 -3M1228 639l24 -2M1308 631l24 -4M908 659l24 0M968 660l44 0M1228 649l24 -2M1308 641l44 -6M648 677q72 10 144 16M1028 700q52 -1 104 -4M1208 691l24 -3M908 709l44 1M1088 708l64 -3M308 639l24 7M1448 689l44 -8M328 674l64 16M688 742l24 3M828 755l64 3M928 759l64 1M1188 752l64 -6M1448 719l24 -5M688 752l24 3M748 759q62 5 124 8M1148 765q42 -3 84 -7M1148 775q42 -3 84 -7M868 817l24 1M1088 818l24 -1M1168 814q42 -3 84 -8M968 830l44 0M1428 792l64 -13M1568 763l44 -11M148 698l44 15M288 741l64 18M448 781l44 10M848 836l64 3M1468 794l44 -9M148 708l24 8M508 803l64 12M1128 846l24 -1M1488 800l44 -9M1408 825l24 -5M588 857q52 9 104 15M1168 884l44 -4M528 857l64 11M648 876l24 4M508 863l44 8M1048 909l24 0M1548 846l24 -5M1588 837l24 -6M1388 888l64 -12M1548 856l44 -10M388 856l44 11M488 879l44 8M628 903l44 7M1568 861l44 -11M468 884l44 9M828 935l44 2M1108 937l24 -1M1508 895l64 -15M1268 944l44 -6M1248 956l24 -3M488 928l44 9M1208 970q42 -4 84 -9M1408 944l44 -9M408 920l64 15M1508 934l44 -10M728 986q42 4 84 8M848 996l44 2M1268 984l64 -9M1588 925l24 -6M828 1064l64 4M1268 1054l24 -4M1508 1013l44 -10M1408 1043l44 -9M1468 1031l64 -14M1548 1014l24 -6M888 1088l44 1M1028 1090q52 -1 104 -4M1448 1045l24 -5M888 1098l44 1M1308 1078l24 -3M628 1092l24 4M748 1107l44 5M1228 1108l24 -3M48 958l24 10M708 1133l24 3M1108 1147q82 -4 164 -14M1468 1100l44 -9M1168 1153l64 -6M548 1128l24 4M1148 1165q52 -4 104 -10M1528 1107l44 -11M1168 1173l24 -2M1208 1170l24 -3M1268 1193l44 -6M1508 1151l24 -6M1248 1205l24 -3M1588 1141l24 -7M1068 1229l24 -1M1068 1239l24 -1M1588 1161l24 -7M1548 1181l44 -12M1168 1263l24 -2M1328 1244l24 -4M1448 1223l24 -5M1208 1269l64 -7M1348 1251l24 -4M1308 1267l24 -4M1508 1269l24 -6"/>
<path stroke="#e50000" d="M468 252l64 11M668 312l24 2M508 299l24 4M608 314q42 6 84 10M848 336l44 2M1368 354l44 -6M848 396l44 2M1028 530l44 -1M1008 580l24 0M1248 637l64 -7M928 659l44 1M1248 647l64 -7M1568 842l24 -6M1548 1004l24 -6M1568 1009l44 -12M1408 1053l44 -9M1188 1171l24 -2M1528 1146l24 -6M1588 1170l24 -6M1188 1261q72 -6 144 -17"/>
</g></g>
<!-- heatmap c2 -->
<line x1="478.00" y1="511.75" x2="499.00" y2="511.75" stroke="#8a8a8a" stroke-width="0.7"/>
<line x1="478.00" y1="637.00" x2="499.00" y2="637.00" stroke="#8a8a8a" stroke-width="0.7"/>
<line x1="499.00" y1="637.00" x2="499.00" y2="664.50" stroke="#8a8a8a" stroke-width="0.7"/>
<line x1="659.50" y1="637.00" x2="659.50" y2="664.50" stroke="#8a8a8a" stroke-width="0.7"/>
<line x1="486.25" y1="514.75" x2="486.25" y2="634.00" stroke="#33262a" stroke-width="1.0"/>
<path d="M486.25 511.75l-1.9 7.2h3.8ZM486.25 637.00l-1.9 -7.2h3.8Z" fill="#33262a"/>
<rect x="476.75" y="540.75" width="19.00" height="66.25" fill="#ececec" stroke="none" stroke-width="1"/>
<text x="489.75" y="573.88" font-size="9.85" fill="#111" stroke="#111" text-anchor="middle" transform="rotate(-90 489.75 573.88) matrix(1 0 0 1.12 0 -68.445)">944.732 µm</text>
<line x1="502.00" y1="653.40" x2="656.50" y2="653.40" stroke="#33262a" stroke-width="1.0"/>
<path d="M499.00 653.40l7.2 -1.9v3.8ZM659.50 653.40l-7.2 -1.9v3.8Z" fill="#33262a"/>
<rect x="544.50" y="644.25" width="72.25" height="19.50" fill="#ececec" stroke="none" stroke-width="1"/>
<text x="580.62" y="657.50" font-size="9.85" fill="#111" stroke="#111" text-anchor="middle" transform="matrix(1 0 0 1.12 0 -78.480)">1 259.642 µm</text>
<text x="579.00" y="507.75" font-size="9.85" fill="#e3001c" stroke="#e3001c" text-anchor="middle" transform="matrix(1 0 0 1.12 0 -60.510)">Sa: 75.011 nm</text>
<text x="672.90" y="508.00" font-size="9.85" fill="#111" stroke="#111" text-anchor="middle" transform="matrix(1 0 0 1.12 0 -60.540)">Unit: nm</text>
<rect x="663.75" y="516.75" width="10.00" height="120.00" fill="url(#jet)" stroke="#6b5a5a" stroke-width="0.35"/>
<path d="M663.75 616.33h1.2M673.75 616.33h-1.2M663.75 596.42h1.2M673.75 596.42h-1.2M663.75 576.50h1.2M673.75 576.50h-1.2M663.75 556.58h1.2M673.75 556.58h-1.2M663.75 536.67h1.2M673.75 536.67h-1.2" stroke="#222" stroke-width="0.5" opacity="0.6"/>
<text x="676.50" y="640.25" font-size="9.85" fill="#111" stroke="#111" text-anchor="start" transform="matrix(1 0 0 1.12 0 -76.410)">0</text>
<text x="676.50" y="620.35" font-size="9.85" fill="#111" stroke="#111" text-anchor="start" transform="matrix(1 0 0 1.12 0 -74.022)">100</text>
<text x="676.50" y="600.45" font-size="9.85" fill="#111" stroke="#111" text-anchor="start" transform="matrix(1 0 0 1.12 0 -71.634)">200</text>
<text x="676.50" y="580.55" font-size="9.85" fill="#111" stroke="#111" text-anchor="start" transform="matrix(1 0 0 1.12 0 -69.246)">300</text>
<text x="676.50" y="560.65" font-size="9.85" fill="#111" stroke="#111" text-anchor="start" transform="matrix(1 0 0 1.12 0 -66.858)">400</text>
<text x="676.50" y="540.75" font-size="9.85" fill="#111" stroke="#111" text-anchor="start" transform="matrix(1 0 0 1.12 0 -64.470)">500</text>
<text x="676.50" y="520.85" font-size="9.85" fill="#111" stroke="#111" text-anchor="start" transform="matrix(1 0 0 1.12 0 -62.082)">600</text>
<clipPath id="cpc2"><rect x="0" y="0" width="160.50" height="125.25"/></clipPath>
<g transform="translate(499.00 511.75)" clip-path="url(#cpc2)">
<rect x="0" y="0" width="160.50" height="125.25" fill="#b3ff4c"/>
<g transform="scale(0.1)" fill="none" stroke-width="14" filter="url(#hb)">
<path stroke="#004dff" d="M-10 746q820 156 1640 -136"/>
<path stroke="#1affe5" d="M-10 16q650 123 1300 -34M1290 1272q170 -42 340 -102"/>
<path stroke="#4dffb2" d="M310 -21q250 21 500 1M-10 -4q610 116 1220 -16M-10 46q710 135 1420 -66M-10 76q760 144 1520 -96M-10 166q820 156 1640 -136M-10 466q820 156 1640 -136M770 1273q430 -30 860 -183M1370 1271q130 -35 260 -81M1570 1271l60 -21M1590 1274l40 -14"/>
<path stroke="#80ff80" d="M70 -20q490 80 980 0M10 -21q550 101 1100 1M-10 26q670 127 1340 -44M-10 56q730 139 1460 -77M-10 66q740 141 1480 -83M-10 146q820 156 1640 -136M-10 176q820 156 1640 -136M-10 236q820 156 1640 -136M-10 336q820 156 1640 -136M-10 376q820 156 1640 -136M-10 416q820 156 1640 -136M-10 496q820 156 1640 -136M-10 516q820 156 1640 -136M-10 546q820 156 1640 -136M-10 666q820 156 1640 -136M-10 686q820 156 1640 -136M-10 706q820 156 1640 -136M-10 736q820 156 1640 -136M-10 776q820 156 1640 -136M-10 886q820 156 1640 -136M-10 976q820 156 1640 -136M-10 986q820 156 1640 -136M-10 1086q820 156 1640 -136M-10 1096q820 156 1640 -136M-10 1146q820 156 1640 -136M-10 1226q180 34 360 47M890 1272q370 -40 740 -172M970 1272q330 -45 660 -162M-10 1256q50 9 100 17M1090 1273q270 -47 540 -143M1250 1271q190 -44 380 -111M1330 1272q150 -39 300 -92M1510 1270q60 -19 120 -40M1530 1274q50 -16 100 -34"/>
<path stroke="#b3ff4c" d="M210 -21q350 41 700 1M130 -21q430 62 860 0M-10 -14q590 112 1180 -8M-10 6q630 120 1260 -25M-10 96q790 150 1580 -115M-10 106q810 154 1620 -129M-10 116q820 156 1640 -136M-10 126q820 156 1640 -136M-10 136q820 156 1640 -136M-10 156q820 156 1640 -136M-10 186q820 156 1640 -136M-10 196q820 156 1640 -136M-10 256q820 156 1640 -136M-10 266q820 156 1640 -136M-10 286q820 156 1640 -136M-10 296q820 156 1640 -136M-10 356q820 156 1640 -136M-10 396q820 156 1640 -136M-10 446q820 156 1640 -136M-10 456q820 156 1640 -136M-10 486q820 156 1640 -136M-10 506q820 156 1640 -136M-10 526q820 156 1640 -136M-10 536q820 156 1640 -136M-10 556q820 156 1640 -136M-10 586q820 156 1640 -136M-10 596q820 156 1640 -136M-10 606q820 156 1640 -136M-10 626q820 156 1640 -136M-10 636q820 156 1640 -136M-10 656q820 156 1640 -136M-10 696q820 156 1640 -136M-10 756q820 156 1640 -136M-10 806q820 156 1640 -136M-10 836q820 156 1640 -136M-10 846q820 156 1640 -136M-10 916q820 156 1640 -136M-10 926q820 156 1640 -136M-10 936q820 156 1640 -136M-10 1006q820 156 1640 -136M-10 1016q820 156 1640 -136M-10 1066q820 156 1640 -136M-10 1076q820 156 1640 -136M-10 1106q820 156 1640 -136M-10 1116q820 156 1640 -136M-10 1126q820 156 1640 -136M-10 1136q820 156 1640 -136M-10 1156q820 156 1640 -136M-10 1176q820 156 1640 -136M-10 1206q820 156 1640 -136M-10 1216q820 156 1640 -136M-10 1236q120 22 240 36M-10 1246q80 15 160 26M-10 1266l40 7M1150 1272q240 -47 480 -132M1190 1274q220 -46 440 -124M1430 1274q100 -29 200 -64M1470 1273q80 -25 160 -53"/>
<path stroke="#e5ff1a" d="M-10 36q690 131 1380 -55M-10 86q780 148 1560 -109M-10 206q820 156 1640 -136M-10 216q820 156 1640 -136M-10 226q820 156 1640 -136M-10 246q820 156 1640 -136M-10 276q820 156 1640 -136M-10 306q820 156 1640 -136M-10 326q820 156 1640 -136M-10 346q820 156 1640 -136M-10 366q820 156 1640 -136M-10 406q820 156 1640 -136M-10 426q820 156 1640 -136M-10 436q820 156 1640 -136M-10 476q820 156 1640 -136M-10 576q820 156 1640 -136M-10 616q820 156 1640 -136M-10 646q820 156 1640 -136M-10 676q820 156 1640 -136M-10 726q820 156 1640 -136M-10 766q820 156 1640 -136M-10 786q820 156 1640 -136M-10 826q820 156 1640 -136M-10 876q820 156 1640 -136M-10 896q820 156 1640 -136M-10 946q820 156 1640 -136M-10 956q820 156 1640 -136M-10 966q820 156 1640 -136M-10 996q820 156 1640 -136M-10 1026q820 156 1640 -136M-10 1036q820 156 1640 -136M-10 1046q820 156 1640 -136M-10 1056q820 156 1640 -136M-10 1166q820 156 1640 -136M-10 1186q820 156 1640 -136M-10 1196q820 156 1640 -136M1030 1273q300 -46 600 -153"/>
<path stroke="#ffe500" d="M-10 316q820 156 1640 -136M-10 566q820 156 1640 -136M-10 716q820 156 1640 -136M-10 796q820 156 1640 -136M-10 816q820 156 1640 -136M-10 856q820 156 1640 -136M-10 866q820 156 1640 -136M-10 906q820 156 1640 -136"/>
<path stroke="#ffb300" d="M-10 386q820 156 1640 -136"/>
<path stroke="#ff8000" d="M1410 1270q110 -31 220 -70"/>
<path stroke="#000080" d="M1048 51l64 -12M1328 12q62 -16 124 -34M988 120q72 -10 144 -24M868 144q102 -10 204 -27M1108 110l44 -8M1568 11l64 -22M1128 177q52 -10 104 -22M1448 159l64 -20M1228 316q92 -20 184 -47M1468 353q72 -22 144 -47M1108 500l64 -12M1168 519l64 -14M1148 543l44 -9M1508 611q62 -20 124 -42M1368 702l64 -18M1528 725l64 -22M1088 944q62 -11 124 -25M808 1010q62 -5 124 -13M1428 1185q62 -18 124 -39M1588 1185l44 -16"/>
<path stroke="#0000b2" d="M1028 54l24 -4M1108 40l24 -4M1308 17l24 -6M1128 97l24 -5M848 146l24 -2M1048 251l64 -12M1508 141l24 -8M1008 287l44 -7M1208 321l24 -6M1408 271l24 -7M1188 375l24 -6M1448 359l24 -7M1608 308l24 -9M1168 489l24 -5M1148 523l24 -5M1128 547l24 -5M1208 541l44 -11M1408 701l64 -19M128 839l44 6M1348 767l24 -7M1508 731l24 -8M1588 705l24 -9M1328 822l24 -6M1208 921l24 -6M928 998l24 -3M1608 878l24 -9M1408 1191l24 -7M1548 1148l24 -8M1568 1191l24 -8"/>
<path stroke="#0000e6" d="M1028 -16l24 -4M1148 -7l44 -9M1008 57l24 -4M968 123l24 -4M828 148l24 -2M1068 117l44 -8M1148 103l24 -5M-12 125l24 5M1048 141l44 -8M1028 254l24 -4M1108 240l24 -4M1428 165l24 -7M1528 145l24 -9M968 293l44 -7M1048 281l44 -8M1568 151l24 -8M1148 273l44 -9M1128 307l44 -9M1188 325l24 -6M1348 307q52 -14 104 -29M1208 361l24 -6M1208 371l64 -15M1428 365l24 -7M128 509l64 8M1088 504l24 -5M1228 506l24 -6M1108 550l24 -4M1188 535l24 -6M1188 545l24 -6M1568 461l64 -22M1488 617l24 -8M1348 707l24 -7M1388 706l24 -7M1588 715l44 -16M1408 781l44 -13M1288 832l44 -11M1068 947l24 -4M788 1012l24 -2M948 995l24 -3M848 1056l44 -4M1548 1198l24 -8"/>
<path stroke="#001aff" d="M1008 -13l24 -4M1128 -13l44 -9M1108 0l44 -8M1188 -15l24 -6M1148 13l64 -14M1048 41l24 -4M1128 37l24 -5M648 109q42 -1 84 -4M1288 22l24 -6M1108 80l24 -4M1148 93l24 -5M8 129l44 8M1028 144l24 -4M1088 134l24 -5M1548 18l24 -8M1508 61l44 -15M1508 71l44 -15M1228 156l24 -6M1468 113l44 -14M1448 149l44 -13M1528 135l24 -9M1508 151l24 -8M1548 138l24 -8M948 295l24 -3M1548 158l24 -8M1588 145l24 -9M1128 277l24 -5M1188 265l24 -6M1208 271l44 -11M1108 310l24 -4M1168 299l44 -10M1308 287q42 -10 84 -22M1428 275l24 -7M1288 322l64 -16M1448 279l24 -7M828 418q42 -4 84 -9M828 428q42 -4 84 -9M1168 379l24 -5M1268 357l24 -6M1188 485l24 -6M1128 527l24 -5M1468 443l24 -7M828 578q42 -4 84 -9M1168 549l24 -5M1248 532l24 -6M1548 468l24 -8M628 679l24 0M1368 612l44 -13M648 799q42 -1 84 -4M1468 683l24 -7M688 837l44 -2M768 833l64 -5M1228 776l64 -15M128 829l44 6M928 848l24 -3M1328 772l24 -6M708 876q42 -2 84 -5M928 858l24 -3M1488 737l24 -8M1568 721l24 -8M1388 786l24 -7M1448 769l24 -7M1268 837l24 -6M1348 817l24 -7M1548 828l64 -22M968 993l24 -4M568 1060l44 0M1588 885l24 -9M828 1058l24 -2M888 1052l24 -3M1088 1174l24 -5M1268 1157l64 -16M1288 1192l24 -6M1588 1105l44 -16"/>
<path stroke="#004dff" d="M68 -21l44 7M968 -7l44 -7M128 9l64 8M1108 -10l24 -4M408 46l64 3M1088 4l24 -5M1128 17l24 -5M1208 1l24 -6M1028 44l24 -4M1068 37l24 -4M988 60l24 -4M728 105l24 -1M1088 84l24 -5M1428 5l44 -13M1068 97l44 -8M948 125l24 -3M808 150l24 -2M1568 -9l44 -15M1128 117l44 -9M48 136l24 4M1008 147l24 -4M1108 130l24 -4M1568 21l64 -22M1108 180l24 -4M1408 161l44 -13M1488 137l24 -8M1008 257l24 -4M1128 237l24 -5M1408 171l24 -7M1488 157l24 -8M1568 131l24 -8M928 298l24 -3M1088 274l24 -5M1528 165l24 -9M1108 280l24 -4M688 337q42 -1 84 -4M1188 275l24 -6M1248 262l44 -11M1088 314l24 -5M1208 291l24 -6M1268 297l44 -11M1388 266l44 -12M1168 329l24 -5M1428 265l24 -7M1408 281l24 -7M1448 269l24 -7M1248 332l44 -11M1468 273l24 -7M1188 365l24 -6M1228 356l24 -6M1308 347l24 -6M1468 303l64 -20M1408 371l24 -7M1548 338l64 -22M1068 507l24 -4M1248 502l24 -6M1448 449l24 -7M808 580l24 -2M908 570l24 -3M1088 554l24 -5M1208 531l24 -6M1528 475l24 -9M1488 507l44 -14M588 680l44 -1M648 679l44 -2M968 683l24 -4M948 695l44 -6M1348 617l24 -7M1408 601l24 -7M608 740q42 -1 84 -3M1468 623l24 -7M1428 685l24 -7M1368 712l24 -7M648 839l44 -2M728 835l44 -2M828 828l24 -2M1208 781l24 -6M1288 762l24 -6M1368 762l24 -7M1608 698l24 -9M428 887l64 2M1548 728l24 -8M1368 792l24 -7M1468 763l24 -7M1048 901q42 -7 84 -15M1048 951l24 -4M1228 916l24 -6M1528 835l24 -9M1608 808l24 -9M768 1013l24 -2M88 993l44 6M1608 848l24 -9M608 1060l44 -1M808 1060l24 -2M908 1050l24 -3M588 1130q42 0 84 -2M488 1209l44 1M1048 1181l44 -8M1108 1170l24 -4M308 1229l24 2M1328 1192l44 -12M1388 1196l24 -7M1568 1141l24 -8M1528 1205l24 -9"/>
<path stroke="#0080ff" d="M928 -2l44 -6M108 6l24 3M188 17l24 3M1088 -6l24 -5M368 44l44 2M468 49l24 0M348 62q52 4 104 6M1108 20l24 -4M1088 34l24 -5M968 63l24 -4M1148 33l24 -5M628 109l24 0M748 104l24 -1M1268 27l24 -6M1068 87l24 -4M1128 77l24 -5M1468 -7l24 -7M1048 101l24 -4M1108 90l24 -4M908 130l44 -5M1468 13l64 -20M228 141l44 5M768 153l44 -3M1168 99l24 -5M1548 -2l24 -8M968 143q82 -12 164 -27M988 150l24 -4M1128 127l24 -5M1548 28l24 -8M1608 18l24 -9M1388 166l24 -7M1508 131l24 -8M1588 125l24 -9M1108 270l24 -4M1608 138l24 -9M1208 261l24 -6M668 338l24 -1M768 333l24 -2M1288 252l24 -6M1568 171l24 -8M1068 317l24 -4M1248 302l24 -6M1428 255l24 -7M1148 333l24 -5M1468 253l24 -7M1468 263l24 -7M1228 336l24 -6M1288 352l24 -6M1328 342l24 -6M1448 309l24 -7M1528 285l24 -9M768 473l44 -3M1528 345l24 -9M1608 318l24 -9M328 531q62 5 124 7M1228 486l64 -15M1428 455l24 -7M788 582l24 -2M928 568l24 -3M1148 553l24 -5M1508 481l24 -8M248 634q42 4 84 7M1528 495l24 -9M548 680l44 0M688 677l24 -1M768 693q52 -4 104 -9M928 688l44 -6M988 680q52 -8 104 -17M928 698l24 -3M988 690l24 -4M1328 622l24 -6M1428 595l24 -7M588 740l24 0M688 737l24 -1M1048 751l24 -4M448 798l44 1M768 793l44 -3M868 784l64 -7M1108 750l24 -4M1368 692l24 -7M1328 712l24 -6M628 839l24 0M848 826l24 -2M588 850l64 -1M1168 789l44 -10M1308 777l24 -6M1388 756l24 -7M788 872l24 -2M388 885l44 2M488 889l24 1M1508 741l44 -15M1028 904l24 -4M1128 887l24 -5M348 982q42 3 84 5M988 990l24 -4M68 989l24 4M128 999q52 7 104 13M488 1049l64 1M548 1060l24 0M648 1059l24 -1M1448 929q42 -12 84 -26M1548 898l44 -15M788 1062l24 -2M1448 939l44 -13M868 1104l64 -7M548 1130l44 0M668 1128l24 -1M1028 1164l24 -4M468 1209l24 0M528 1210l24 0M1028 1184l24 -4M1128 1167l24 -5M288 1227l24 3M328 1231l24 2M1248 1162l24 -6M1328 1142l24 -6M1388 1136l64 -18M1048 1231l44 -8M1608 1088l24 -9M1268 1197l24 -6M1308 1187l24 -6M1568 1111l24 -8M1368 1182l24 -7M1328 1202l44 -12M1368 1272l24 -7"/>
<path stroke="#00b2ff" d="M768 3q42 -3 84 -7M108 -14l24 3M848 6q42 -4 84 -9M1028 -6l24 -4M88 3l24 3M208 19l24 3M1068 -3l24 -4M328 41l44 3M488 49l24 1M1068 7l24 -4M1148 3q52 -10 104 -23M-12 15q42 8 84 15M328 61l24 2M448 68l24 1M1228 -4l24 -6M1008 47l24 -4M1108 30l24 -4M1148 43q42 -8 84 -18M768 103l24 -2M948 85l44 -6M1408 11l24 -7M1488 -13l24 -8M-12 85q42 8 84 15M1028 104l24 -4M388 145q72 4 144 5M1168 89l24 -5M1448 19l24 -7M1528 -5l24 -9M188 137l44 5M268 146l24 2M748 154l24 -1M1528 5l24 -9M948 145l24 -3M1168 109l24 -5M68 139l24 4M748 174q62 -4 124 -10M968 153l24 -4M1528 25l24 -9M1528 35l24 -9M48 156q42 7 84 13M1568 31l44 -15M1528 125l24 -9M988 260l24 -4M1148 233l24 -5M1188 235l44 -10M1468 163l24 -7M1048 271l24 -4M908 300l24 -3M1508 171l24 -8M1088 284l24 -5M648 339l24 -1M1168 279l24 -5M1548 178l24 -8M1588 165l24 -9M1048 321l24 -4M1448 249l24 -7M1048 351q52 -9 104 -19M1448 259l24 -7M1488 247l24 -8M1388 286l24 -7M1488 257l24 -8M1488 267l24 -8M1248 352l24 -6M1148 383l24 -5M1348 337l24 -7M1408 321l44 -13M1548 278l24 -8M428 457q42 2 84 3M728 475l44 -2M808 470l24 -2M1508 351l24 -8M308 529l24 2M448 538l64 2M1048 511l24 -4M1208 481l24 -6M1208 491l24 -6M1288 472l24 -6M1108 530l24 -4M1488 437l24 -8M1268 527l24 -6M1408 521l44 -13M208 629l44 5M328 641l24 2M1208 581l44 -11M1468 513l24 -7M1548 488l24 -8M1128 617l44 -9M528 680l24 0M708 676l44 -2M728 695l44 -2M868 684l24 -2M1088 664l64 -12M908 700l24 -3M1308 627l24 -6M568 740l24 0M928 718l64 -9M828 748q52 -4 104 -11M808 770l44 -4M1028 754l24 -4M1068 747l24 -4M808 790l64 -6M1128 747l24 -5M1328 702l44 -12M1388 686l24 -7M768 813l64 -5M1348 717l24 -7M1488 677l24 -8M608 840l24 -1M868 824l24 -2M548 850l44 0M648 849l44 -2M728 845q42 -2 84 -5M1148 793l24 -5M1308 757l24 -6M1048 821l64 -12M688 877l24 -1M368 884l24 1M508 890l24 0M828 878q52 -4 104 -11M1468 753l44 -14M1348 797l24 -7M1488 757l24 -8M1248 842l24 -6M1368 812l24 -7M1008 907l24 -4M1148 883l24 -5M308 979l44 4M428 987l24 1M1028 954l24 -4M668 1008l44 -2M748 1014l24 -1M28 982l44 8M228 1011l44 5M548 1050l24 0M528 1060l24 0M668 1058l44 -2M1428 935l24 -7M1528 905l24 -9M748 1064l44 -3M1488 927l24 -8M848 1106l24 -2M928 1098l24 -3M528 1130l24 0M688 1127l24 -1M948 1115l64 -9M1248 1102q42 -10 84 -21M1308 1097l44 -11M988 1170l44 -7M1048 1161l44 -8M548 1210l24 0M1008 1187l24 -4M488 1229l24 1M268 1226l24 2M348 1232l24 2M908 1220l44 -5M1248 1172q52 -12 104 -26M1368 1142l24 -7M1448 1119l24 -7M1568 1101l44 -15M1328 1182l24 -6M1308 1197l24 -6M1368 1192l24 -7M1488 1187l64 -21M1388 1266l24 -7"/>
<path stroke="#00e5ff" d="M528 -10l24 0M328 -9l24 2M748 4l24 -1M848 -4l24 -2M128 -11l24 3M1008 -3l24 -4M1048 -9l24 -4M-12 -15q52 10 104 18M1048 1l24 -4M88 13q42 6 84 12M508 50l24 0M1128 7l24 -5M68 29l24 4M308 59l24 2M468 69l24 0M1088 24l24 -5M948 65l24 -3M28 52l44 8M1228 26l44 -10M608 110l24 -1M908 90l44 -5M988 80l24 -4M1248 32l24 -6M408 116l24 1M1048 91l24 -4M1148 73l24 -5M68 99l24 4M1008 107l24 -4M1128 87l24 -5M348 142l44 3M528 150l24 0M868 134l44 -5M1548 -12l24 -8M168 134l24 3M288 147l24 3M668 158q42 -1 84 -4M1508 11l24 -8M148 141l64 9M928 148l24 -3M88 143l24 3M708 176l44 -2M868 164q52 -5 104 -12M-12 135l24 5M628 189q42 -1 84 -3M8 149l44 8M128 169l24 3M1228 126l64 -15M1368 92l64 -18M168 194q62 8 124 14M328 221l64 4M1248 152l24 -6M648 259l44 -2M1548 118l24 -8M1128 247l64 -13M1228 226l44 -10M1608 118l24 -9M988 280l64 -10M628 319l24 0M888 302l24 -3M1128 267l24 -5M628 329q42 -1 84 -3M1608 148l24 -9M628 339l24 0M788 332l24 -2M1528 185l24 -9M1608 158l24 -9M1028 324l24 -4M1028 334l24 -4M1028 354l24 -4M1208 341l24 -6M1168 369l24 -5M1488 287l64 -21M1368 332l44 -13M408 456l24 1M508 460l24 0M828 468l44 -4M288 527l24 3M508 540l24 0M488 549l64 1M828 538q52 -4 104 -11M1028 514l24 -4M1188 495l24 -6M1308 467l24 -6M1168 509l44 -10M1408 461l24 -7M948 565l24 -3M1068 557l24 -4M8 589l44 8M188 627l24 3M1168 609l24 -5M508 680l24 0M728 685l64 -4M688 697l44 -2M888 682l24 -3M908 690l24 -3M1148 653l24 -5M1288 622l24 -6M1608 528l24 -9M408 716q52 3 104 4M1008 687l24 -4M748 724q52 -3 104 -8M708 736l24 -1M908 720l24 -3M988 710l24 -4M1288 652l44 -11M-12 705l24 5M928 738q52 -7 104 -15M788 772l24 -2M848 766l24 -2M168 764q92 12 184 19M1008 757l24 -4M1088 744l24 -5M428 797l24 1M1408 681l24 -7M488 809q82 2 164 0M1448 679l24 -7M748 814l24 -1M828 808l24 -2M568 840l44 0M528 850l24 0M688 847l44 -2M808 840l24 -2M1128 797l24 -5M368 854q42 2 84 4M1028 824l24 -4M1108 810l44 -8M1408 751l24 -7M808 870l24 -2M1468 743l24 -7M348 882l24 2M808 880l24 -2M928 868l24 -3M1268 807l64 -16M1428 765l44 -13M28 852q42 8 84 14M1328 802l24 -6M988 910l24 -4M1568 781l64 -22M128 929q42 6 84 11M288 977l24 3M448 988l24 1M1248 912l24 -6M648 1009l24 -1M708 1006l24 -1M-12 975l44 8M268 1016l44 4M908 1020l44 -5M68 1009l64 10M468 1049l24 0M1608 868l24 -9M-12 1005q72 14 144 24M508 1060l24 0M708 1056l24 -1M708 1066l44 -2M828 1108l24 -2M28 1082l44 8M468 1129l64 1M708 1126l24 -1M1568 961l44 -15M-12 1085l64 12M928 1118l24 -3M1448 1009l24 -7M1568 971l64 -22M828 1148q42 -4 84 -9M1328 1082l44 -12M1288 1102l24 -6M968 1173l24 -4M448 1208l24 1M1108 1160l24 -4M688 1217l44 -2M1148 1163l24 -5M428 1227l64 2M508 1230q42 0 84 0M248 1224l24 2M368 1234l24 1M888 1222l24 -3M948 1215l24 -3M1228 1166l24 -6M1348 1137l24 -7M1208 1181l44 -11M1348 1147l24 -7M708 1266l64 -3M1088 1224l24 -5M-12 1225l24 5M1308 1207l24 -6M1368 1202l24 -7M1588 1135l24 -9M1468 1193l24 -7"/>
<path stroke="#1affe5" d="M508 -10l24 0M788 -18l24 -2M348 -8l24 2M728 5l24 -1M868 -6l24 -2M228 21l24 3M168 24l44 6M1088 14l44 -8M1128 27l24 -5M928 68l24 -3M668 98q42 -1 84 -4M788 92l44 -4M1128 47l24 -5M8 59l64 11M788 102l24 -2M868 94l44 -5M428 117l24 1M628 119l24 0M88 103l24 3M968 113l44 -7M328 141l24 2M548 150l24 0M-12 105l24 5M148 131l24 4M308 149l24 2M648 159l24 -1M1188 95l24 -6M108 136l44 6M208 149l64 7M668 178l44 -2M8 139l24 4M608 190l24 -1M708 186l24 -1M-12 145l24 5M148 171l24 4M708 196q42 -2 84 -5M1328 102l44 -12M1428 75l64 -19M668 208q52 -2 104 -5M1448 79l64 -20M128 189l44 6M288 207q72 7 144 10M448 218q72 3 144 2M1348 117l64 -18M1448 89l64 -20M1568 51l64 -22M-12 175l24 5M128 199q102 14 204 22M1528 75q52 -17 104 -36M248 224q42 4 84 7M668 248l64 -3M628 259l24 0M688 257l24 -1M1568 111l24 -8M-12 235q62 12 124 21M1548 128l64 -22M468 299l24 0M1088 254l44 -8M1268 217l24 -6M1448 169l24 -7M948 285l44 -6M1068 267l24 -4M588 320l44 -1M648 319l44 -2M868 304l24 -2M608 330l24 -1M708 326l24 -1M1068 287l24 -4M1228 256l24 -6M608 340l24 -1M1508 191l24 -8M968 333l64 -10M1228 286l24 -6M988 340l44 -7M1048 331l44 -8M828 368l64 -6M1468 243l24 -7M168 364l64 8M1008 357l24 -4M1368 292l24 -7M448 428q42 1 84 2M1268 347l24 -6M1448 299l44 -13M1548 268l24 -8M408 446q42 2 84 3M1388 336q72 -20 144 -43M388 455l24 1M528 460l24 0M288 457l64 6M528 470q42 0 84 0M708 476l24 -1M-12 435l44 8M88 473q42 6 84 12M448 508l64 2M-12 465l24 5M1548 358q42 -14 84 -29M268 526l24 2M528 540l24 0M908 520l24 -3M468 549l24 0M548 550l24 0M928 528l24 -3M1008 517l24 -4M1168 499l24 -5M468 569l24 0M1148 513l24 -5M1208 501l24 -6M1388 456l44 -12M1608 388l24 -9M1508 431l24 -8M1168 529l44 -10M388 605l64 3M728 605q42 -2 84 -5M1128 557l24 -5M388 615q62 4 124 5M1448 489l44 -13M-12 575l64 12M-12 585l24 5M48 596l64 10M168 624l24 3M348 642l24 2M1128 607l64 -13M488 679l24 1M748 674l24 -1M688 687l44 -2M788 682q72 -6 144 -15M1148 633l64 -14M668 698l24 -1M1588 535l24 -9M388 715l24 1M508 720l44 0M888 702l24 -3M728 725l24 -1M848 716l24 -2M1248 652l24 -6M548 740l24 0M888 722l24 -3M1008 707l24 -4M1248 662l44 -11M568 750q62 0 124 -3M808 750l24 -2M1028 724l24 -4M168 744l64 8M768 773l24 -2M868 764l24 -2M128 759l44 6M348 782l44 3M508 790q52 0 104 0M988 760l24 -4M1108 740l24 -4M-12 745q62 12 124 21M248 784q62 6 124 10M1428 675l24 -7M428 807l64 2M648 809l44 -2M728 815l24 -1M848 806l24 -2M1328 722l24 -6M328 821l44 3M888 822l24 -3M1108 800l24 -4M1328 752l24 -6M328 851l44 3M448 858l44 1M1008 827l24 -4M1148 803l64 -14M1288 782l24 -6M1428 745l24 -7M668 878l24 -1M-12 835l64 12M328 881l24 2M528 890l24 0M788 882l24 -2M948 865l24 -3M1248 812l24 -6M1328 792l24 -6M1368 782l64 -18M8 849l24 4M1128 847q42 -8 84 -18M1288 812l44 -11M248 904q42 4 84 7M1388 806l24 -7M688 927q42 -1 84 -4M88 923l44 6M208 939l24 3M1608 778l24 -9M68 929q42 7 84 13M1148 913q42 -8 84 -18M-12 935l24 5M48 946l64 10M268 976l24 2M628 1009l24 0M1008 987l24 -4M308 1019l24 2M1348 927q52 -14 104 -29M1588 855l24 -9M268 1026q52 5 104 8M28 1002l44 8M448 1048l24 1M568 1050l24 0M128 1029l24 3M468 1059l44 1M728 1055l24 -1M88 1033l64 9M668 1068l44 -2M1348 987l44 -12M1468 963l44 -14M808 1110l24 -2M948 1095l24 -3M-12 1075l44 8M68 1089l24 4M428 1127l44 2M728 1125l24 -1M1448 999q62 -18 124 -39M1608 948l24 -9M48 1096l44 7M308 1129q62 6 124 8M1388 1026l64 -18M1468 1003q52 -16 104 -33M408 1176q62 3 124 4M168 1164l64 8M1548 1028l64 -22M1128 1157l64 -13M648 1219l44 -2M728 1215q42 -2 84 -5M988 1190l24 -4M408 1226l24 1M588 1230l24 0M228 1221l24 3M688 1267l24 -1M768 1263l24 -2M1008 1237l44 -7M8 1229l24 4M1428 1155l44 -13M968 1273l24 -4M1588 1175l44 -16"/>
<path stroke="#4dffb2" d="M208 -21q62 7 124 12M888 -18l24 -3M888 -8l24 -3M188 -3q72 9 144 14M468 19q42 1 84 1M808 10l44 -4M328 21l44 3M988 0l24 -4M248 24l24 2M328 31q52 4 104 6M928 38l44 -6M508 70l24 0M-12 25q52 10 104 18M208 59l24 3M-12 55l24 5M68 69l24 4M308 99l24 2M588 110l24 0M808 100l64 -6M1148 53q42 -8 84 -18M368 114l44 2M608 120l24 -1M648 119l24 -1M1068 77l64 -11M1148 83l24 -5M1408 21l64 -19M568 150l24 0M1228 76q52 -12 104 -25M1408 31l44 -13M8 109l44 8M108 126l44 6M348 152q52 4 104 6M1368 52l24 -7M268 156l44 4M908 150l24 -3M1248 92l44 -11M108 146l24 3M1508 31l24 -8M1508 41l24 -8M648 199l64 -3M788 192l44 -4M848 186q52 -5 104 -11M1288 112l44 -11M1488 57q42 -13 84 -27M128 179q72 10 144 17M568 210q52 0 104 -2M768 203l64 -5M868 194q42 -4 84 -9M1428 85l24 -7M1548 48l64 -22M8 179q62 11 124 20M388 225l44 2M468 229l24 0M1088 184l24 -5M1428 105q52 -15 104 -32M1568 71l64 -22M628 249l44 -1M728 245l24 -1M608 260l24 -1M1608 78l24 -9M68 229l24 4M568 270q42 0 84 -1M1168 209l44 -10M1368 172l24 -7M108 256l44 6M608 290l64 -2M948 265l44 -6M1368 182l44 -13M1608 108l24 -9M428 297l44 2M488 299q82 2 164 0M1068 257l24 -4M368 304l24 1M928 288l24 -3M1088 264l24 -5M48 276l44 7M688 317l24 -1M1148 263l24 -5M568 330l44 0M1548 168l44 -15M448 338q82 3 164 2M1308 247l64 -17M928 338l44 -6M1248 282l24 -6M568 370q42 0 84 -1M968 343l24 -4M1088 324l24 -5M1248 292l24 -6M808 370l24 -2M888 362l24 -3M148 361l24 4M228 371l64 7M468 389q42 1 84 1M1188 345l24 -6M388 425l64 3M528 430l24 0M1408 311l44 -13M1568 261l44 -15M1568 271l64 -22M488 449l24 1M1308 357q42 -10 84 -22M1528 295q52 -17 104 -36M348 452l44 3M548 460l64 0M268 456l24 2M1568 301l24 -8M868 464l24 -2M28 442l24 5M88 453q52 8 104 14M228 471l64 7M1368 382l44 -13M-12 445l24 5M1028 464l44 -7M-12 455l44 8M68 469l24 4M168 484l24 3M428 507l24 1M508 510l64 0M1088 464l64 -12M1568 341l64 -22M848 516l24 -2M248 524l24 2M828 528q42 -4 84 -9M1148 483l44 -9M28 522l44 8M108 536l24 3M228 551l44 5M428 567l44 2M488 569l64 1M1128 517l24 -5M1228 496l24 -6M1348 467l44 -12M1588 395l24 -9M188 557q82 10 164 16M208 569l24 3M728 585l64 -4M1108 540l64 -12M1208 521l44 -11M648 599l44 -2M788 592l44 -4M1008 567l64 -10M1228 526l44 -10M1348 497l24 -7M1548 438q42 -14 84 -29M368 604l24 1M688 607l44 -2M808 600l44 -4M1108 560l24 -4M368 614l24 1M508 620l24 0M48 586l44 7M368 624l64 3M1468 493l44 -14M108 606l44 6M248 624q62 6 124 10M1528 485q52 -17 104 -36M128 619l44 6M368 644l24 1M1108 610l24 -4M1188 595l24 -6M408 676q42 2 84 3M768 673l24 -2M848 666l64 -7M348 682l44 3M648 689l44 -2M1128 637l24 -5M1208 621l24 -6M1368 582l64 -18M628 699l44 -1M908 680l24 -3M888 692l24 -3M1268 627l24 -6M1308 617l64 -17M728 715l64 -4M708 726l24 -1M868 714l24 -2M168 714l64 8M348 732l24 2M868 724l24 -2M1228 666l24 -6M1528 585l64 -22M528 750l44 0M1448 619l44 -13M8 709q52 10 104 17M368 754l64 3M1048 721l24 -4M1448 629l24 -7M148 741l24 4M228 751l24 3M48 746q42 7 84 13M488 789l24 1M608 790l64 -2M968 763l24 -4M108 766q72 11 144 18M368 794l64 3M1448 669l24 -7M1588 625l44 -16M688 807l24 -1M868 804l24 -2M128 799l44 6M288 817l44 4M368 824l64 3M548 840l24 0M908 820l24 -3M428 847q52 2 104 3M828 838l24 -2M308 849l24 2M988 830l24 -4M1208 791l24 -6M1448 739l24 -7M428 877q42 2 84 3M648 879l24 -1M828 868l24 -2M1448 749l24 -7M48 846l24 4M308 879l24 2M1348 787l24 -7M-12 845l24 5M108 866l64 9M1208 831l44 -11M228 901l24 3M328 911l24 2M1228 846l24 -6M328 921q52 4 104 6M768 923l24 -2M168 914l64 8M348 932l44 3M28 912l64 11M228 941l44 5M28 922l44 8M148 941l24 4M648 969l44 -2M1128 917l24 -5M1228 896l24 -6M368 974l44 2M8 939l44 8M108 956l24 3M468 989l24 0M1008 957l24 -4M1468 853l64 -20M608 1010l24 -1M728 1005l24 -1M728 1015l24 -1M808 1020l24 -2M1308 937l44 -11M1448 899l24 -7M48 996l64 10M368 1034l24 1M1288 952q52 -12 104 -27M8 999l24 4M128 1019l44 6M448 1058l24 1M1368 952l24 -7M68 1029l24 4M148 1041l44 6M608 1070l64 -2M928 1048l24 -3M1348 967q52 -14 104 -29M88 1043l64 9M1328 992l24 -6M228 1081q82 10 164 14M1428 975l44 -13M1508 951q52 -17 104 -35M808 1100l44 -4M1468 983l64 -20M88 1093l24 3M268 1116q82 8 164 11M1428 1005l24 -7M88 1103q42 6 84 12M1008 1107q122 -18 244 -47M1308 1047q42 -10 84 -22M28 1102q92 17 184 28M548 1150l64 0M1068 1107l44 -8M1168 1089q62 -13 124 -28M1388 1036l44 -12M1548 988l64 -22M608 1170q72 -1 144 -6M868 1154q52 -5 104 -12M108 1146l44 6M528 1180l24 0M1568 1011l44 -15M-12 1135l24 5M88 1153q42 6 84 12M228 1171l24 3M368 1184q62 4 124 5M988 1160q42 -6 84 -13M1528 1035l24 -9M1608 1008l24 -9M68 1159l64 10M628 1199l24 0M1528 1045l64 -22M568 1210q42 0 84 -1M1268 1127q62 -15 124 -32M628 1219l24 0M808 1210l24 -2M1268 1137q42 -10 84 -21M388 1225l24 1M968 1203q42 -6 84 -13M208 1219l24 3M388 1235l24 1M1208 1171l24 -6M1548 1078l64 -22M1308 1167q52 -13 104 -28M-12 1215q62 12 124 21M848 1256q42 -4 84 -9M968 1243l44 -7M1408 1151l44 -13M208 1269l24 3M888 1272l64 -7M988 1260q52 -8 104 -17M1388 1176q62 -17 124 -37M1048 1271l44 -8M1268 1237q42 -10 84 -21M1388 1236q42 -11 84 -24M1528 1195l64 -22M1368 1252l64 -18M1368 1262q52 -14 104 -30M1608 1188l24 -9"/>
<path stroke="#80ff80" d="M468 -11l44 1M548 -10l44 0M628 -11q62 -1 124 -5M588 0q52 -1 104 -3M748 -6q72 -4 144 -12M128 -21l44 6M948 -15l44 -6M288 27l44 4M428 37l44 2M708 36q42 -2 84 -5M988 10l64 -10M288 37l24 3M888 32l44 -5M948 25q42 -5 84 -12M108 26q42 6 84 11M588 60l64 -1M788 52l44 -4M908 40l24 -3M968 33l64 -10M528 70l24 0M948 45q42 -5 84 -12M-12 35q42 8 84 15M1168 29l24 -5M168 74q42 6 84 10M288 87l64 6M368 94l44 2M608 100l24 -1M868 84l44 -5M1368 -8l44 -13M-12 75l44 8M408 126l44 2M608 130q42 -1 84 -3M848 116l64 -7M1168 69l44 -10M1268 47l44 -11M1328 42q42 -11 84 -23M1468 3l64 -20M268 136l64 5M648 149l64 -3M828 138l44 -4M1188 85l44 -10M1328 52q42 -11 84 -23M48 116l64 10M328 151l24 2M448 158l44 1M1288 72q42 -10 84 -22M1388 46l44 -12M88 133l24 3M448 168l64 2M1208 101l44 -11M1288 82l24 -6M1148 123q72 -14 144 -32M28 142l24 5M428 187l44 2M728 185q72 -4 144 -11M1208 121q42 -10 84 -20M1428 65q42 -12 84 -26M-12 155l24 5M88 173l44 6M268 196q42 4 84 7M508 210l64 0M828 198l44 -4M948 185l24 -3M1068 167l24 -4M1248 132l64 -16M1408 91l24 -7M1608 28l24 -9M48 176l64 10M708 216l44 -2M-12 185l64 12M148 211q52 8 104 13M328 231l44 3M1348 137l64 -18M1488 97q42 -13 84 -27M108 216l44 6M268 236q42 4 84 7M1588 75l44 -16M8 209q62 11 124 20M708 256l24 -1M28 222l44 8M88 233l64 9M288 257q42 4 84 7M548 270l24 0M648 269l24 -1M1088 224l24 -5M668 278q62 -2 124 -7M1088 234l64 -12M1228 206q72 -16 144 -36M48 256l64 10M308 289l64 5M1288 212l24 -6M48 266l64 10M328 301l44 3M388 305l64 3M628 309l44 -1M1108 260l24 -4M-12 265l64 12M88 283l44 6M328 311q42 3 84 5M548 320l44 0M-12 275q42 8 84 15M728 325l24 -1M1288 242q62 -15 124 -33M1588 155l24 -9M-12 285l44 8M108 306l64 9M1068 297q52 -8 104 -19M1368 232l64 -18M908 330l64 -8M1128 297l24 -5M328 351q52 4 104 6M908 340l24 -3M348 362q62 5 124 7M528 370l44 0M648 369l24 -1M1188 305l64 -15M1268 287l24 -6M788 372l24 -2M1188 315l64 -15M48 356q42 7 84 13M168 374q62 8 124 14M48 366l44 7M828 398q72 -6 144 -16M1508 261l24 -8M668 418l44 -2M788 412q92 -7 184 -20M-12 385l44 8M128 409l44 6M-12 395l64 12M128 419l64 8M508 450l44 0M848 436l44 -4M1228 376q42 -9 84 -20M328 451l24 2M608 460l44 -1M1488 317q42 -13 84 -27M1608 278l24 -9M1028 444l44 -7M48 446l44 7M188 467l44 5M288 477l44 4M928 468l24 -3M1308 397l64 -17M8 449l44 8M108 466q42 6 84 11M228 481l44 5M1008 467l24 -4M1068 457q52 -8 104 -19M1488 357l24 -8M28 462l44 8M188 487l24 3M568 510l44 0M1328 412l64 -17M1528 355l44 -15M248 504l44 4M448 518q42 1 84 2M548 520l64 0M848 506l64 -7M1128 467q42 -8 84 -18M1268 437q62 -15 124 -32M168 504l24 3M808 520l44 -4M868 514l44 -5M1088 484l64 -12M1208 461q42 -10 84 -20M228 521l24 3M688 537l64 -3M808 530l24 -2M1108 490l44 -8M1188 475l64 -15M228 541q62 7 124 12M448 558q52 2 104 2M148 551l44 6M348 572q42 3 84 5M608 580l24 -1M768 573l64 -5M1088 534l24 -5M1388 466l24 -7M1528 425l24 -9M148 561l64 9M228 571q42 5 84 9M508 590l64 0M608 590q62 -1 124 -5M1028 554q42 -7 84 -15M1248 512l64 -16M1348 487l64 -18M188 587q42 5 84 9M448 608q42 1 84 2M528 620l44 0M648 619q82 -3 164 -9M88 593l24 3M328 621l44 3M428 627q52 2 104 3M1408 511l64 -19M148 611q52 8 104 13M368 634l24 1M908 620l24 -3M1328 542q42 -11 84 -23M1448 509q42 -12 84 -26M108 616l24 3M828 638q62 -5 124 -13M1248 572q62 -15 124 -32M1568 481l44 -15M-12 615l44 8M1108 620l24 -4M348 672l64 4M788 672l24 -2M828 668l24 -2M908 660l24 -3M1108 630l44 -8M328 681l24 2M388 685l44 2M948 665q42 -5 84 -12M1228 616l24 -6M608 700l24 -1M-12 655l24 5M1168 649l44 -10M1368 602l24 -7M1568 541l24 -8M-12 675q62 12 124 21M228 711l44 5M468 729l64 1M688 727l24 -1M888 712l24 -3M1528 575l64 -22M388 745l64 3M688 747l24 -1M768 743q62 -4 124 -11M1388 636l64 -18M1488 607q52 -16 104 -34M68 729q42 7 84 13M248 754l44 4M1528 615q42 -14 84 -29M748 774l24 -1M1148 743q92 -18 184 -42M-12 755l64 12M388 805l44 2M708 806l24 -1M988 780l24 -4M1468 673l24 -7M708 816l24 -1M528 840l24 0M228 831q42 5 84 9M388 845l44 2M1088 804l24 -5M1348 747l24 -7M288 847l24 3M488 859q42 1 84 1M648 859l64 -3M28 822l64 11M408 866q42 2 84 3M588 870q52 -1 104 -3M728 865l64 -4M88 843l44 6M388 875l44 2M68 849l64 10M548 890l24 0M1148 833l24 -5M1228 816l24 -6M168 874q62 8 124 14M408 896l24 1M1248 822l44 -11M208 899l24 3M248 914l24 2M308 919l24 2M668 928l24 -1M788 922l24 -2M108 916l64 9M628 949q42 -1 84 -3M1528 795l44 -15M-12 905l44 8M268 946l24 2M608 960l24 -1M-12 915l44 8M168 944l24 3M368 964l64 3M608 970l44 -1M688 967l24 -1M228 961l44 5M328 971l44 3M1048 941q142 -23 284 -60M248 974l24 2M1328 892q72 -18 144 -40M-12 945q52 10 104 18M1608 818l24 -9M1288 932l24 -6M-12 995l24 5M428 1047l24 1M1308 957q52 -13 104 -28M148 1031l44 6M328 1051q62 5 124 7M748 1054l24 -1M868 1044q52 -5 104 -12M1168 999l24 -5M1328 962l44 -12M1388 946l44 -12M-12 1015q42 8 84 15M188 1047q52 6 104 11M548 1070l24 0M948 1045l44 -6M1268 987q42 -10 84 -21M1508 921l24 -8M168 1054l24 3M-12 1035q62 12 124 21M648 1089l64 -3M1548 928l24 -8M-12 1045l24 5M148 1071q42 6 84 11M388 1095l64 3M1308 1007q62 -15 124 -33M1608 918l24 -9M148 1081l64 9M788 1102l24 -2M848 1096l24 -2M1328 1012l64 -17M1448 979q42 -12 84 -26M108 1086q62 9 124 16M388 1115l24 1M1268 1037q52 -12 104 -27M1428 995l44 -13M1528 965l64 -22M108 1096l24 3M168 1104q52 7 104 12M968 1103q82 -12 164 -27M1248 1052q42 -10 84 -21M1388 1016l44 -12M608 1160l24 -1M768 1153l64 -5M908 1140q42 -5 84 -11M1008 1127q42 -6 84 -14M1508 1011l24 -8M468 1169l64 1M588 1170l24 0M748 1164q62 -4 124 -10M968 1143l44 -7M1348 1067l64 -18M1508 1021q62 -20 124 -42M-12 1125l44 8M148 1151l24 4M328 1171q42 3 84 5M748 1174l24 -1M1008 1147l44 -7M1188 1115l64 -15M1528 1025l44 -15M1608 998l24 -9M8 1139q42 8 84 14M328 1181l44 3M488 1189q52 1 104 1M728 1185l44 -2M948 1165l44 -6M1068 1147l44 -8M1348 1087l44 -12M1508 1041l24 -8M-12 1155q62 12 124 21M188 1187l64 7M648 1209l64 -3M1228 1136l44 -10M1388 1096l44 -12M1548 1048q42 -14 84 -29M608 1220l24 -1M828 1208l44 -4M1168 1159q52 -11 104 -23M1348 1117l44 -12M1468 1083q62 -19 124 -40M308 1219q42 4 84 6M688 1227q42 -1 84 -4M928 1208l44 -6M1048 1191q72 -12 144 -27M868 1244l64 -7M1068 1217q82 -14 164 -32M1268 1177l44 -11M1408 1141q62 -18 124 -38M248 1254q52 5 104 9M388 1265q42 2 84 4M808 1260l44 -4M928 1248l44 -6M1388 1156l24 -7M1448 1139q62 -18 124 -39M768 1273l44 -3M1068 1237q42 -7 84 -15M1188 1215l64 -15M1408 1161l24 -7M-12 1235l64 12M168 1264l44 6M1028 1274l24 -4M1088 1264l44 -8M1608 1128l24 -9M1488 1197q72 -22 144 -48M1288 1272q42 -10 84 -22M1588 1205l44 -16M1428 1275l44 -13M1468 1273l24 -7"/>
<path stroke="#b3ff4c" d="M8 -21q42 8 84 14M588 30l24 0M748 24l64 -4M888 12q42 -4 84 -10M248 34l44 4M668 48l44 -2M768 43q62 -4 124 -11M608 70q42 -1 84 -3M808 60q72 -6 144 -15M1028 34l24 -4M268 66l64 5M688 77q92 -4 184 -13M1248 2l24 -6M1308 -13l24 -6M68 49l64 10M308 79q42 4 84 6M768 83q82 -6 164 -16M1188 25l44 -10M1308 -3l24 -6M248 84l44 4M408 96q62 3 124 4M588 100l24 0M908 80l64 -8M988 70q72 -10 144 -24M108 76l24 3M168 84l44 6M408 106q72 4 144 4M1108 60l24 -4M48 76l64 10M128 89l64 8M468 119l44 1M688 117l64 -3M848 106l44 -4M948 95l64 -9M1208 51l24 -6M448 128l64 2M548 130l64 0M908 110q72 -8 144 -20M1208 61l64 -15M108 106q72 11 144 18M488 139q72 2 144 0M1288 52l44 -11M1528 -15l24 -9M348 192q42 3 84 5M488 199l24 1M568 200l24 0M968 173l44 -7M1088 154q72 -13 144 -29M928 198l24 -3M1088 174l24 -5M708 226q152 -7 304 -30M-12 205l24 5M308 249q42 4 84 6M468 259q42 1 84 1M728 255l24 -1M988 230q42 -6 84 -13M1108 210l44 -8M1188 195l64 -15M1368 152q62 -17 124 -36M-12 215l44 8M148 241l44 6M248 254l44 4M368 264l44 2M1068 227l24 -4M1268 187l44 -11M1348 167q82 -22 164 -48M1608 88l24 -9M-12 225q72 14 144 24M788 272l24 -2M1048 241l44 -8M1148 223q42 -8 84 -18M1588 105l44 -16M408 286l64 3M1288 202l44 -11M-12 245l64 12M108 266l44 6M268 286l44 4M368 294l64 3M648 299l44 -2M1308 207l24 -6M1408 181l44 -13M68 289l64 10M548 330l24 0M748 324q52 -3 104 -8M1248 252l44 -11M1528 175l24 -9M88 323q62 9 124 17M308 349l24 2M428 357l24 1M1268 277l24 -6M328 361l24 2M468 369l64 1M1168 309l24 -5M1368 262l44 -13M768 373l24 -2M1148 323l44 -9M1488 237l44 -14M68 349l44 7M288 377q52 5 104 8M408 386l24 1M608 390q112 -2 224 -12M848 376l44 -4M988 360l24 -4M28 352l24 5M128 369l44 6M288 387l24 3M608 400q42 -1 84 -3M868 384q42 -4 84 -9M1248 322q62 -15 124 -32M1508 251l24 -8M8 369l64 11M368 414l64 3M628 419l44 -1M708 416q42 -2 84 -5M968 393q52 -8 104 -16M1388 306l64 -18M1488 277q72 -22 144 -48M-12 375l64 12M288 417l64 6M628 429l44 -1M728 425l24 -1M808 420l24 -2M908 410l24 -3M988 400q92 -13 184 -32M1308 337l24 -6M28 392q52 10 104 17M168 414l44 6M388 435q72 4 144 5M-12 405q142 27 284 41M728 455l44 -2M1348 357q72 -19 144 -41M1568 291l44 -15M8 419l44 8M68 429q52 9 104 16M628 469l44 -1M748 464q62 -4 124 -10M948 445q62 -8 124 -18M1148 413l44 -9M1348 367q52 -14 104 -29M-12 425q82 16 164 27M548 480q42 0 84 -1M688 477l24 -1M888 462q72 -8 144 -19M1068 437l44 -8M1288 392l24 -6M1408 361q42 -12 84 -25M1568 311l64 -22M328 481q42 3 84 5M708 486q62 -3 124 -8M888 472l44 -5M1248 412l64 -16M288 507q82 8 164 11M608 520l64 -2M808 510l44 -4M908 500q52 -6 104 -14M1088 474l44 -8M128 499l44 6M188 507q42 5 84 9M648 529q82 -3 164 -9M908 510l44 -5M1068 487l24 -4M1148 473l64 -14M1288 442l24 -6M1508 381l24 -8M128 519q52 7 104 13M588 550l24 0M948 525l64 -9M1228 476l44 -10M1308 457q122 -30 244 -71M308 559q42 4 84 6M1428 445l24 -7M1528 415l44 -15M148 571q102 15 204 22M368 594l64 3M868 584q42 -4 84 -9M88 583l24 3M348 612l24 2M568 620q42 0 84 -1M808 610l24 -2M108 596q62 9 124 16M528 630q92 1 184 -4M1368 522l44 -13M28 622l44 8M328 661l64 4M1068 627l44 -8M1188 605l24 -6M1388 556l44 -12M1488 527q72 -22 144 -48M468 699l44 1M548 700l44 0M928 678l24 -3M1608 518l24 -9M188 697l44 5M288 707l64 6M588 720l24 0M868 704l24 -2M1028 684l64 -11M1448 589q42 -12 84 -26M108 696l64 9M208 709l24 3M448 728l24 1M528 730l44 0M1228 656l24 -6M1268 647q52 -12 104 -27M1408 611q62 -18 124 -38M-12 685l24 5M68 699l44 7M268 726l24 2M448 738q42 1 84 2M748 734q42 -2 84 -6M1028 704l64 -11M1328 642l44 -12M148 731q72 10 144 17M548 760l44 0M688 757q52 -2 104 -6M1128 707l24 -5M1228 686l44 -10M1328 662l64 -17M-12 715q42 8 84 15M1148 713q42 -8 84 -18M1608 588l24 -9M528 780l44 0M888 762l64 -7M1068 737q42 -7 84 -15M668 788l44 -2M888 772l64 -7M1148 733l24 -5M1508 641q62 -20 124 -42M1468 663l44 -14M-12 765l24 5M948 795l44 -6M1148 763l24 -5M1228 746q42 -9 84 -20M1508 671q62 -20 124 -42M-12 775q42 8 84 15M448 828l24 1M1008 797l44 -7M1288 742l44 -11M1408 711q42 -12 84 -25M368 834q52 3 104 5M1128 787l24 -5M1328 742l64 -17M1408 721l44 -13M1588 665l44 -16M188 827l44 5M308 839q42 4 84 6M-12 815l44 8M88 833l44 6M288 857l24 3M388 865l24 1M488 869q52 1 104 1M688 867l24 -1M788 862l24 -2M1248 792l44 -11M1468 733l24 -7M1608 688l24 -9M-12 825q52 10 104 18M128 849l64 8M368 874l24 1M508 880l24 0M628 879l24 0M888 862l44 -5M948 855l24 -3M1328 782q52 -13 104 -28M-12 855q82 16 164 27M1068 867l24 -4M1268 827q42 -10 84 -21M1388 796q42 -11 84 -24M-12 865l24 5M88 883l64 9M188 897l24 3M408 916l44 2M1548 758q42 -14 84 -29M188 907l64 7M268 916l44 4M428 927l44 2M648 929l24 -1M508 940q82 1 164 -2M748 934l44 -3M808 930l44 -4M968 913l24 -4M1268 857l44 -11M1388 826l44 -12M1448 809q52 -15 104 -33M-12 895l24 5M28 902q42 8 84 14M168 924l44 6M588 950l24 0M848 936l64 -7M1488 807l44 -14M568 960l24 0M88 963l44 6M368 994q42 2 84 4M1388 886q62 -17 124 -37M1568 831l44 -15M-12 955q112 22 224 35M548 1010l64 0M768 1003q42 -3 84 -7M968 983q42 -6 84 -13M1448 879l64 -20M1608 828l24 -9M-12 965q92 18 184 30M708 1016l24 -1M1268 937l24 -6M1428 895l24 -7M1568 851l64 -22M488 1029l24 1M568 1030l44 0M728 1025q42 -2 84 -5M868 1014l44 -5M968 1003l64 -10M1168 969q62 -13 124 -28M1468 893l24 -7M-12 985l24 5M388 1035l24 1M508 1040l24 0M728 1035l44 -2M848 1026l64 -7M988 1010l64 -10M1168 979q42 -9 84 -19M1468 903q52 -16 104 -33M1608 858l24 -9M168 1024l24 3M408 1046l24 1M588 1050q42 0 84 -2M688 1047q62 -2 124 -7M1248 972l64 -16M1408 931l64 -19M28 1032l64 11M148 1051l24 4M188 1057l44 5M488 1079q42 1 84 1M628 1079l64 -2M728 1075q42 -2 84 -5M908 1060q42 -5 84 -11M1368 972l44 -13M1548 918l44 -15M108 1056q82 12 164 20M408 1086q62 3 124 4M628 1089l24 0M708 1086q62 -3 124 -8M1568 921l64 -22M8 1049q72 13 144 23M448 1098l44 1M688 1097l24 -1M1268 1017l44 -11M128 1079l24 3M208 1089l44 5M868 1094l24 -2M1248 1032q42 -10 84 -21M1388 996l64 -18M1528 955l44 -15M488 1139l64 1M688 1137l64 -3M528 1150l24 0M608 1150l24 -1M768 1143l44 -3M-12 1145l64 12M328 1191q62 5 124 7M508 1200l44 0M648 1199l24 -1M728 1195q52 -2 104 -7M928 1178l44 -6M1128 1147l44 -9M1408 1081l64 -19M368 1214q102 6 204 6M968 1193l24 -4M1388 1106q42 -11 84 -24M68 1199l64 10M188 1217l24 3M408 1236l24 1M868 1224l24 -2M968 1213l24 -4M1048 1201q72 -12 144 -27M1388 1126l64 -18M28 1202q42 8 84 14M888 1232l44 -5M1128 1197q42 -8 84 -18M1468 1113l44 -14M48 1236l24 4M188 1257q52 6 104 11M1148 1223l44 -9M1368 1172l44 -13M1168 1229l64 -14M988 1270l44 -7M1068 1257l24 -4M1528 1145q52 -17 104 -36M1128 1257l64 -13M1328 1212l44 -12M1208 1251l24 -6M1248 1242l24 -6M1608 1138l24 -9M1548 1228q42 -14 84 -29M1508 1271l44 -15M1608 1248l24 -9"/>
<path stroke="#e5ff1a" d="M368 4l44 2M528 10q52 0 104 -1M688 7l44 -2M608 30q72 -1 144 -6M708 46l64 -3M228 41l24 3M308 49l24 2M408 56l64 3M488 59l44 1M688 57q42 -1 84 -4M548 70l64 0M688 67l64 -3M768 63l44 -3M1048 31l24 -4M1268 -13l24 -6M328 71q122 9 244 9M628 79l64 -2M1228 6l24 -6M528 100l44 0M968 73l24 -4M128 79l44 6M548 110l44 0M108 86l24 3M508 120l64 0M668 118l24 -1M888 102l64 -7M508 130l44 0M8 99l44 8M108 116l44 6M548 160l24 0M-12 115q52 10 104 18M408 166l24 1M528 170l24 0M608 170l44 -1M668 168l64 -3M1348 77l24 -7M88 153l44 6M308 179q42 4 84 6M508 190l44 0M908 170q42 -5 84 -11M1048 151q62 -10 124 -23M508 200l64 0M1008 167q42 -6 84 -14M408 206l64 3M1328 112l64 -17M948 195l24 -3M1048 181l44 -8M1008 197l24 -4M388 235q62 4 124 5M608 240l24 -1M808 230l64 -6M888 222q122 -13 244 -36M1248 162l64 -16M388 245q42 2 84 4M528 250q52 0 104 -1M788 242l64 -6M1008 217l44 -7M1128 197l64 -13M468 289l64 1M548 290l44 0M808 280q42 -4 84 -8M148 281l44 6M268 296l44 4M488 309q42 1 84 1M728 305l64 -4M1448 179l64 -20M168 294l44 6M288 307l24 3M1388 206l44 -12M848 326l24 -2M988 310l44 -7M1428 215q42 -12 84 -26M68 309l44 7M408 346q72 4 144 4M848 336l64 -7M1008 317l44 -7M1268 267l24 -6M1568 181l64 -22M148 341l44 6M668 368q42 -1 84 -4M828 358q52 -4 104 -11M1108 320l44 -8M1328 272l44 -12M1408 251l64 -19M388 385l24 1M828 378l24 -2M-12 355l44 8M128 379l24 3M228 391l44 5M528 410l64 0M1108 360l64 -12M568 430l64 -1M1328 332l24 -6M1388 316l24 -7M208 419q92 11 184 16M528 440l64 0M588 450l24 0M648 449q72 -2 144 -8M1068 407q42 -7 84 -15M668 468q42 -1 84 -4M1108 420l24 -4M1188 405l24 -6M1268 387q42 -10 84 -21M308 489q72 6 144 9M688 497l44 -2M828 488q72 -6 144 -16M1388 386q42 -11 84 -24M268 496l24 2M368 504l44 2M608 510l24 -1M768 503l44 -3M1048 471l44 -8M1148 453l24 -5M668 518q72 -2 144 -8M1008 487q42 -6 84 -14M-12 485l64 12M188 517l24 3M948 515l24 -3M1068 497l24 -4M1408 421q52 -15 104 -32M1528 385q52 -17 104 -36M608 550l64 -2M768 543l24 -2M1268 467l44 -11M-12 505l44 8M48 516q42 7 84 13M568 560l44 0M768 553l24 -2M1328 462l24 -6M1468 423l44 -14M1568 391l64 -22M588 570l44 -1M688 567q122 -5 244 -20M1448 439l24 -7M1508 421l24 -8M-12 525l44 8M1548 418l24 -8M368 584q42 2 84 4M348 592l24 2M8 559q42 8 84 14M928 588l64 -9M1068 567l24 -4M1408 491l64 -19M28 572l64 11M128 589l24 3M328 611l24 2M1028 584q52 -8 104 -18M1428 495l24 -7M1488 477q42 -13 84 -27M408 636l64 3M568 640l64 -1M708 636l44 -2M848 626l24 -2M928 618l64 -9M1028 604l44 -7M1168 579l64 -14M388 645q62 4 124 5M668 648q62 -2 124 -7M968 623l44 -7M1048 611q42 -7 84 -15M-12 605l44 8M168 634l24 3M328 651l24 2M428 657l24 1M728 655l24 -1M788 652l44 -4M928 638l44 -6M1208 591q62 -14 124 -30M1568 491l64 -22M108 646q42 6 84 11M288 667l44 4M808 670l24 -2M1188 615q102 -22 204 -50M1508 531q42 -13 84 -28M8 639q42 8 84 14M128 659l64 8M288 677l44 4M548 690l44 0M1068 647l64 -11M88 673q62 9 124 17M488 709q62 2 124 1M708 706q52 -2 104 -6M868 694l24 -2M1248 632l24 -6M1548 548l24 -8M228 701l64 7M828 708l44 -4M8 689l64 11M828 728l44 -4M1088 694q52 -9 104 -20M228 731q62 7 124 12M1028 714l44 -7M1308 657l44 -11M1088 714l44 -8M1268 677l64 -16M288 757q52 5 104 8M548 770q72 0 144 -3M1128 717l24 -5M1228 696q42 -9 84 -20M708 786l44 -2M788 782l44 -4M948 765l24 -3M1288 702l24 -6M1568 631l24 -8M208 789l44 5M728 805l64 -4M908 790l44 -5M1088 764q42 -8 84 -16M1288 722l44 -11M468 829l24 0M808 820q42 -4 84 -8M948 805l64 -9M1208 761q42 -10 84 -20M-12 795l64 12M128 819l64 8M908 830l64 -8M208 839q42 5 84 9M768 853q72 -5 144 -14M1228 786l24 -6M1448 729l44 -13M1548 698l44 -15M248 854l44 4M308 859q42 4 84 6M708 866l24 -1M948 845q52 -7 104 -15M1188 805l64 -15M1488 727l24 -8M1588 695l24 -9M708 886l24 -1M1168 829l24 -5M668 898l64 -3M928 878q82 -10 164 -25M148 881q102 15 204 22M668 908l44 -2M1028 874l44 -7M1348 807l44 -12M8 869q42 8 84 14M148 891l44 6M348 912l64 4M448 918l64 2M908 900l24 -3M1508 771l44 -15M788 932l24 -2M1248 862l24 -6M1428 815l24 -7M288 947l44 4M528 960l44 0M588 960l24 0M628 959l24 0M828 948l24 -2M1128 907q52 -10 104 -22M1428 835q42 -12 84 -26M1568 791l44 -15M188 947l24 3M248 954l24 2M728 965l24 -1M1068 927l64 -11M1248 892q42 -10 84 -21M1548 808l44 -15M148 951l24 4M468 979q52 1 104 1M648 979q72 -2 144 -8M848 966l24 -2M968 953l44 -7M168 964l64 8M488 989q62 2 124 1M708 986l44 -2M968 963l44 -7M608 1030l44 -1M668 1028l64 -3M908 1010l64 -8M1488 887l24 -8M408 1036l64 3M708 1036l24 -1M1568 871l44 -15M988 1030l24 -4M348 1062q72 6 144 7M508 1120l24 0M608 1120l24 -1M1048 1081l24 -4M548 1140q72 0 144 -3M1608 968l24 -9M-12 1105l24 5M348 1152q42 3 84 5M468 1159q52 1 104 1M648 1159l24 -1M728 1155l24 -1M1148 1103l44 -9M1228 1086q52 -12 104 -25M1588 985l44 -16M188 1147q142 17 284 22M528 1170l24 0M228 1161l64 7M548 1180l24 0M708 1176l44 -2M828 1168l44 -4M1108 1130l24 -4M1468 1043l24 -7M628 1189q42 -1 84 -3M1148 1133q52 -10 104 -23M668 1198l64 -3M828 1188l44 -4M908 1180l24 -3M1348 1097l64 -18M268 1196l44 4M408 1206l24 1M768 1203l64 -5M868 1194l64 -7M148 1201q62 9 124 15M148 1231l44 6M288 1247q42 4 84 7M468 1259l64 1M548 1260l24 0M688 1257q72 -3 144 -9M188 1247l24 3M608 1270q42 -1 84 -3M1368 1162l24 -7M288 1267l64 6M1348 1177l24 -7M1088 1254l44 -8M1188 1235l44 -10M1288 1212l24 -6M1228 1246l24 -6M1168 1269l64 -14M1308 1237q42 -10 84 -22M1188 1275l44 -10M1308 1247l64 -17"/>
<path stroke="#ffe500" d="M248 44l64 6M468 59l24 0M748 64l24 -1M568 80l24 0M1208 11l24 -6M468 89l64 1M588 90q62 -1 124 -4M1268 7l24 -6M568 100l24 0M568 120l24 0M688 137l44 -2M1168 79l24 -5M1228 66l44 -10M428 167l24 1M588 170l24 0M728 165l24 -1M828 158q42 -4 84 -9M1368 72l44 -13M1488 37l24 -8M968 193q42 -6 84 -13M1028 194l64 -11M868 224l24 -2M468 249l64 1M848 236q82 -7 164 -20M748 254l24 -1M848 246q42 -4 84 -9M508 270l44 0M668 268l24 -1M928 248l24 -3M208 259l64 7M468 279q52 1 104 1M888 262l44 -5M528 290l24 0M708 286q52 -2 104 -6M768 293q42 -3 84 -7M188 287l24 3M248 294l24 2M1308 217l44 -11M208 299q42 5 84 9M1168 259l24 -5M208 309q62 7 124 12M408 326l64 3M868 324q62 -6 124 -15M-12 295q42 8 84 15M548 350q42 0 84 -1M708 346q72 -3 144 -10M968 323l44 -7M-12 305l64 12M468 359q42 1 84 1M708 356l24 -1M808 350l64 -6M1348 257q82 -22 164 -48M1608 178l24 -9M-12 325q72 14 144 24M288 367q42 4 84 7M748 374l24 -1M1608 198l24 -9M348 392l44 3M448 398l44 1M728 395q42 -2 84 -5M988 370l64 -10M148 381q42 6 84 11M1168 349l24 -5M268 406l64 5M468 419l44 1M1368 312l24 -7M588 440l24 0M608 450l44 -1M948 435q92 -12 184 -29M388 475q62 4 124 5M1148 423q42 -8 84 -18M568 490q52 0 104 -2M988 460l44 -7M1108 440l24 -4M1148 433l64 -14M448 498q122 4 244 -1M728 495q52 -2 104 -7M288 497q42 4 84 7M1168 449l24 -5M1308 417l24 -6M28 482l64 11M508 530q52 0 104 0M968 503l24 -4M1008 497l44 -7M968 513l44 -7M1048 501l24 -4M1508 391l24 -8M668 548q52 -2 104 -5M28 512l24 5M608 560l24 -1M748 554l24 -1M1508 411l64 -21M628 569l64 -2M928 548q82 -10 164 -25M1248 492l24 -6M1468 433l24 -7M-12 555l24 5M1088 564l24 -5M1288 522q62 -15 124 -33M768 623q42 -3 84 -7M1068 587l44 -8M628 639q42 -1 84 -3M748 634q52 -3 104 -8M988 610l24 -4M508 650l64 0M608 650l64 -2M1008 617l44 -7M348 652q42 3 84 5M448 658l64 2M748 654l44 -3M968 633l44 -7M1088 614l24 -5M108 636l24 3M208 649q52 6 104 11M388 665l64 3M528 670q52 0 104 -1M668 668l24 -1M968 643l64 -10M1248 592l64 -16M1428 545l64 -19M188 657l64 7M268 666l24 2M188 667q52 6 104 11M1248 612q62 -15 124 -32M1428 565l64 -19M28 652q192 35 384 44M948 675l64 -9M1288 612l24 -6M608 710l44 -1M688 707l24 -1M808 700l64 -6M1408 591l24 -7M588 730q52 -1 104 -3M1028 694l44 -7M1588 555l44 -16M1188 675l44 -10M1608 558l24 -9M1068 707q122 -20 244 -51M1068 717l24 -4M-12 725l64 12M248 764l24 2M348 772l64 4M628 779q62 -1 124 -5M988 750l24 -4M1368 672l24 -7M1468 643q52 -16 104 -33M748 784l44 -3M1168 729l24 -5M1268 707l24 -6M1548 638l24 -8M788 802l44 -4M888 792l24 -3M1608 628l24 -9M168 794q52 7 104 12M388 815q52 3 104 4M568 820q72 0 144 -4M888 802l24 -3M1008 787l24 -4M1128 767l24 -5M488 829q42 1 84 1M648 829q52 -2 104 -5M888 812l64 -7M1048 791l24 -4M288 827l44 4M1008 807l64 -10M1208 771q42 -10 84 -20M1388 726l24 -7M1468 703l44 -14M908 840q42 -5 84 -11M1488 717l64 -21M228 861q52 6 104 10M568 880l64 -1M1008 847q42 -6 84 -14M1428 755l24 -7M688 887l24 -1M1188 825l44 -10M728 895l64 -4M868 884l64 -7M508 930l24 0M868 914q62 -6 124 -15M1068 887l24 -4M1328 832q42 -11 84 -23M1448 799q72 -21 144 -46M1548 778l64 -22M248 934q42 4 84 7M388 945l24 1M428 947q52 2 104 3M948 925q52 -7 104 -15M208 949l44 5M268 956q42 4 84 7M508 970q52 0 104 0M748 964l24 -1M1048 931l24 -4M828 968l24 -2M1448 849l24 -7M788 982l44 -4M888 972l64 -7M148 971l24 4M228 981l44 5M308 989l64 5M448 998l64 2M868 984l64 -7M1048 961l44 -8M1248 922l24 -6M248 994q62 6 124 10M488 1009l44 1M1088 964q52 -9 104 -20M1228 936l44 -10M248 1004l64 6M328 1011l64 4M468 1019l44 1M528 1020l24 0M1168 959l64 -14M1308 927q42 -10 84 -22M648 1029l24 -1M468 1039l44 1M528 1040q92 1 184 -4M248 1034q82 8 164 12M1508 901q52 -17 104 -35M1008 1027l24 -4M288 1067l44 4M1028 1044l44 -7M1088 1034l64 -12M1288 992l24 -6M968 1063l64 -10M1268 1007l24 -6M1428 965l64 -19M1508 941l44 -15M528 1100q52 0 104 -1M708 1096l24 -1M988 1070l24 -4M1188 1035l44 -10M28 1062l64 11M268 1096q42 4 84 7M508 1110l64 0M588 1110q42 0 84 -2M728 1105l24 -1M528 1120q42 0 84 0M748 1144l24 -1M428 1157l44 2M668 1158l64 -3M1388 1046l24 -7M1028 1134l24 -4M568 1180l44 0M648 1179l64 -3M868 1184l44 -5M308 1199q52 5 104 7M828 1198l44 -4M928 1188l44 -6M148 1191q52 8 104 13M868 1204l64 -7M1588 1045l24 -9M1428 1105q42 -12 84 -26M428 1237l64 2M548 1240q52 0 104 -1M1608 1058l24 -9M188 1227q42 5 84 9M448 1248l64 2M988 1220q52 -8 104 -17M1548 1088q42 -14 84 -29M568 1260l24 0M668 1258l24 -1M1248 1192l24 -6M1328 1172l44 -12M1128 1247l64 -13M1528 1235l24 -9"/>
<path stroke="#ffb300" d="M1168 19l44 -10M528 90l64 0M1188 75l44 -10M548 170l44 0M748 164q42 -2 84 -6M1408 61q42 -12 84 -25M688 267l24 -1M788 262q72 -6 144 -15M1328 202l24 -6M208 289l44 5M1148 253q82 -16 164 -37M1308 227q42 -10 84 -22M628 349q42 -1 84 -3M728 355q42 -2 84 -5M8 319l24 4M228 351l64 7M1148 313l24 -5M388 395l64 3M1288 332l24 -6M1348 317l24 -7M1368 322l24 -7M1228 396l44 -10M1028 454q42 -7 84 -15M1288 422l24 -6M988 500l24 -4M1308 437l24 -6M1008 507l44 -7M628 559q62 -1 124 -5M1088 524l24 -5M1528 455l24 -9M8 569l24 4M208 599q42 5 84 9M308 609l24 2M868 604l24 -2M1188 555q42 -9 84 -19M968 603l24 -4M568 650l44 0M508 660l44 0M668 658l64 -3M1008 627q42 -6 84 -14M1328 562l24 -6M1508 511l44 -15M688 667l64 -3M828 658l44 -4M248 664l24 2M1588 525l24 -9M428 767l64 2M988 740q52 -8 104 -17M1488 627l24 -8M1248 712l24 -6M1528 645l24 -9M828 798l64 -6M1588 635l24 -9M1028 784l44 -7M1088 774l44 -8M568 830q42 0 84 -1M1068 787l24 -4M1488 687l24 -8M1608 648l24 -9M1568 671l24 -8M1068 807l24 -4M1368 742l44 -13M1528 715l24 -9M568 890l44 0M668 888l24 -1M788 892q42 -4 84 -8M408 906q62 3 124 4M768 903q72 -5 144 -14M1088 864l24 -5M1228 836l24 -6M1468 773l24 -7M548 920l64 0M1008 887l64 -10M528 930q62 1 124 -1M388 955l24 1M428 957l64 2M748 954l24 -1M908 940l44 -5M1108 910l24 -4M448 968l64 2M868 954q52 -5 104 -12M788 972l44 -4M1468 843l24 -7M828 978l64 -6M168 974l64 8M928 978l64 -9M1028 964l24 -4M428 1007l64 2M308 1009l24 2M388 1015q42 2 84 4M548 1020l24 0M1448 889l24 -7M1508 881l44 -15M948 1025l24 -3M1088 1004l24 -5M1028 1024l44 -7M1068 1037l24 -4M1588 905l44 -16M1488 947l24 -8M728 1095l44 -2M968 1073l24 -4M568 1110l24 0M888 1092l44 -5M1208 1041l44 -11M1068 1077l24 -4M1228 1046l24 -6M628 1149q62 -1 124 -5M1328 1062l64 -17M1208 1101l24 -6M608 1180l44 -1M1168 1139l44 -10M1328 1102l24 -6M1608 1038l24 -9M1508 1081q42 -13 84 -28M488 1239l64 1M648 1239q62 -2 124 -6M508 1250l24 0M628 1249l24 0M588 1260q42 0 84 -2M1268 1187l64 -16M1228 1226l64 -15M1508 1241l24 -8"/>
<path stroke="#ff8000" d="M768 253q42 -3 84 -7M708 266q42 -2 84 -5M828 268l64 -6M1188 255q62 -13 124 -29M1328 262l24 -6M1308 327l44 -11M1348 327l24 -7M1208 401l24 -6M1248 432l44 -11M1328 432l24 -6M1488 387l24 -8M1488 427l24 -8M1548 448l24 -8M1608 438l24 -9M988 600q42 -6 84 -13M548 660q62 0 124 -2M1348 557l44 -12M1448 529l64 -20M748 664q42 -2 84 -6M1488 547l24 -8M1588 515l24 -9M1228 626l64 -15M1408 581l24 -7M1568 531l24 -8M1428 585l24 -7M1308 677l44 -11M1468 633l24 -7M1188 715q92 -20 184 -45M1568 611l64 -22M1208 721l44 -11M1508 651l24 -8M1488 667l24 -8M1548 648l44 -15M1068 777l24 -4M1088 784q62 -11 124 -25M1508 681q52 -17 104 -35M1528 685l44 -15M1508 701l24 -8M1568 701l24 -8M608 890l64 -2M1108 860l24 -4M1208 841l24 -6M1488 767l44 -14M1608 728l24 -9M1068 877q42 -7 84 -15M1208 851l24 -6M1088 884l44 -8M1308 837l24 -6M1588 755l44 -16M1188 875l64 -15M1128 897l44 -9M1228 876q52 -12 104 -25M948 935l44 -6M1088 914l24 -5M768 963q52 -4 104 -9M968 943q42 -6 84 -13M1488 837l24 -8M988 970l44 -7M568 1020l44 0M668 1018l24 -1M1228 946l24 -6M1468 883l44 -14M1548 858l24 -8M1548 868l24 -8M968 1023q62 -9 124 -20M1488 937l64 -21M1228 1016l44 -10M768 1093q102 -7 204 -21M748 1104l24 -1M928 1088l64 -9M1088 1064q62 -11 124 -25M1088 1074l44 -8M1208 1051l24 -6M1048 1131l44 -8M1188 1105l24 -6M1208 1131q62 -14 124 -30M1588 1055l44 -16M528 1250q52 0 104 -1"/>
<path stroke="#ff4c00" d="M1308 267l24 -6M1188 445l64 -15M1348 427l64 -18M1428 405l64 -19M1568 411l64 -22M1568 441l64 -22M1388 546l64 -18M1508 541q42 -13 84 -28M1428 575l44 -13M1548 538l24 -8M1508 561l44 -15M1348 667q62 -16 124 -35M1188 725l24 -6M1508 661l44 -15M1508 691l24 -8M1528 695q52 -17 104 -36M1548 708l24 -8M1128 857q42 -8 84 -18M1528 755q42 -14 84 -29M1148 863l64 -14M1128 877q92 -18 184 -41M1168 889l64 -14M988 930q52 -8 104 -17M1508 831l44 -15M1608 798l24 -9M608 1020l64 -2M1508 871l44 -15M988 1080q52 -8 104 -17M1128 1067q42 -8 84 -18M1088 1124q52 -9 104 -20"/>
<path stroke="#ff1a00" d="M1408 411l24 -7M1468 563q42 -13 84 -27M1448 579l64 -20M1548 818l64 -22"/>
</g></g>
</svg>
</body></html>
